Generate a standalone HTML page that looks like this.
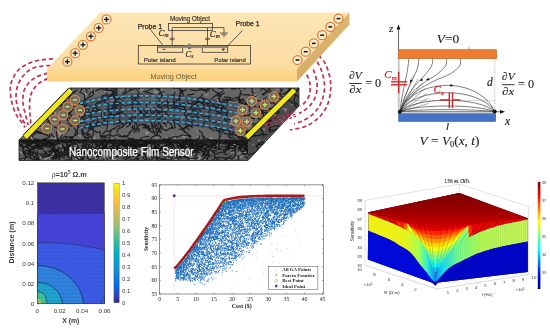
<!DOCTYPE html>
<html><head><meta charset="utf-8"><title>Nanocomposite film sensor</title>
<style>html,body{margin:0;padding:0;background:#fff;}svg{display:block;}</style></head>
<body><svg width="550" height="328" viewBox="0 0 550 328">
<rect width="550" height="328" fill="#fff"/>
<path d="M53.0,58.6 C49.8,59.1 39.2,59.7 33.6,61.5 C28.0,63.3 22.9,66.2 19.4,69.2 C15.9,72.2 13.9,76.4 12.4,79.6 C10.9,82.8 10.4,84.9 10.3,88.6 C10.2,92.2 10.7,97.4 11.6,101.5 C12.5,105.6 14.0,110.0 15.5,113.2 C17.0,116.5 19.1,118.6 20.7,121.0 C22.3,123.4 24.3,126.4 25.0,127.5" fill="none" stroke="#c3304e" stroke-width="1.7" stroke-dasharray="4.2 2.8"/>
<path d="M50.4,65.3 C47.6,65.7 38.1,66.2 33.6,67.9 C29.1,69.6 26.0,72.7 23.3,75.7 C20.6,78.7 18.8,82.3 17.6,86.0 C16.4,89.7 15.9,93.8 16.0,97.7 C16.1,101.6 17.1,105.8 18.1,109.3 C19.1,112.8 20.6,115.5 22.0,118.4 C23.4,121.3 25.8,125.2 26.5,126.5" fill="none" stroke="#c3304e" stroke-width="1.7" stroke-dasharray="4.2 2.8"/>
<path d="M47.8,73.1 C45.9,73.8 39.6,75.1 36.2,77.0 C32.8,78.9 29.4,81.9 27.2,84.7 C25.0,87.5 23.9,90.3 23.3,93.8 C22.7,97.2 22.9,101.7 23.3,105.4 C23.7,109.1 25.1,112.5 25.9,115.8 C26.7,119.1 27.8,123.5 28.2,125.0" fill="none" stroke="#c3304e" stroke-width="1.7" stroke-dasharray="4.2 2.8"/>
<path d="M47.8,78.3 C46.3,79.2 41.4,81.2 38.8,83.4 C36.2,85.6 33.8,88.4 32.3,91.2 C30.8,94.0 30.1,97.1 29.7,100.3 C29.3,103.5 29.6,107.4 29.7,110.6 C29.8,113.8 30.3,117.0 30.5,119.6 C30.7,122.2 30.9,124.9 31.0,126.0" fill="none" stroke="#c3304e" stroke-width="1.7" stroke-dasharray="4.2 2.8"/>
<path d="M318.5,55.2 C319.6,56.5 323.3,60.0 325.0,63.0 C326.7,66.0 327.9,69.8 328.9,73.3 C329.8,76.8 330.5,80.2 330.7,83.7 C330.9,87.2 330.7,90.5 330.2,94.0 C329.7,97.5 328.9,101.2 327.6,104.4 C326.3,107.7 324.6,110.7 322.4,113.5 C320.2,116.3 317.4,119.0 314.6,121.2 C311.8,123.4 308.7,125.1 305.5,126.4 C302.3,127.7 297.8,128.4 295.2,129.0 C292.6,129.6 290.9,129.7 290.0,129.8" fill="none" stroke="#c3304e" stroke-width="1.7" stroke-dasharray="4.2 2.8"/>
<path d="M317.2,61.7 C317.9,63.0 320.0,66.6 321.1,69.4 C322.2,72.2 323.1,75.2 323.7,78.5 C324.3,81.8 324.7,85.5 324.5,88.9 C324.3,92.4 323.5,96.0 322.4,99.2 C321.3,102.4 319.9,105.5 318.0,108.3 C316.1,111.1 313.4,113.9 310.7,116.1 C308.0,118.2 304.5,119.9 301.7,121.2 C298.9,122.5 295.2,123.4 293.9,123.8" fill="none" stroke="#c3304e" stroke-width="1.7" stroke-dasharray="4.2 2.8"/>
<path d="M313.3,69.4 C313.7,70.7 315.2,74.4 315.9,77.2 C316.5,80.0 317.2,83.3 317.2,86.3 C317.2,89.3 316.8,92.5 315.9,95.3 C315.0,98.1 313.7,100.7 312.0,103.1 C310.3,105.5 307.7,107.9 305.5,109.6 C303.3,111.3 300.1,112.8 299.0,113.5" fill="none" stroke="#c3304e" stroke-width="1.7" stroke-dasharray="4.2 2.8"/>
<path d="M306.8,74.6 C307.2,75.7 308.8,78.7 309.4,81.1 C310.0,83.5 310.3,86.3 310.2,88.9 C310.1,91.5 309.7,94.2 308.7,96.6 C307.7,99.0 305.6,101.4 304.2,103.1 C302.8,104.8 301.0,105.9 300.4,106.5" fill="none" stroke="#c3304e" stroke-width="1.7" stroke-dasharray="4.2 2.8"/>
<defs><linearGradient id="gTop" x1="0" y1="0" x2="0" y2="1"><stop offset="0" stop-color="#fde5b3"/><stop offset="1" stop-color="#fcdca2"/></linearGradient><linearGradient id="gFront" x1="0" y1="0" x2="0" y2="1"><stop offset="0" stop-color="#fcd98e"/><stop offset="1" stop-color="#fbd17f"/></linearGradient><linearGradient id="gSide" x1="0" y1="0" x2="1" y2="0"><stop offset="0" stop-color="#d6ad66"/><stop offset="1" stop-color="#dcb570"/></linearGradient></defs>
<polygon points="100,12.5 349.5,12.5 297,69 47,69" fill="url(#gTop)"/>
<polygon points="47,69 297,69 297,81.5 47,81.5" fill="url(#gFront)"/>
<polygon points="297,69 349.5,12.5 349.5,24.5 297,81.5" fill="url(#gSide)"/>
<circle cx="67.4" cy="61.7" r="4.5" fill="#fdeccb" stroke="#d97d38" stroke-width="1.25"/>
<line x1="64.9" y1="61.7" x2="69.9" y2="61.7" stroke="#1a1a1a" stroke-width="1.35"/>
<line x1="67.4" y1="59.2" x2="67.4" y2="64.2" stroke="#1a1a1a" stroke-width="1.35"/>
<circle cx="75.2" cy="53.2" r="4.5" fill="#fdeccb" stroke="#d97d38" stroke-width="1.25"/>
<line x1="72.7" y1="53.2" x2="77.7" y2="53.2" stroke="#1a1a1a" stroke-width="1.35"/>
<line x1="75.2" y1="50.7" x2="75.2" y2="55.7" stroke="#1a1a1a" stroke-width="1.35"/>
<circle cx="83.0" cy="44.8" r="4.5" fill="#fdeccb" stroke="#d97d38" stroke-width="1.25"/>
<line x1="80.5" y1="44.8" x2="85.5" y2="44.8" stroke="#1a1a1a" stroke-width="1.35"/>
<line x1="83.0" y1="42.3" x2="83.0" y2="47.3" stroke="#1a1a1a" stroke-width="1.35"/>
<circle cx="90.9" cy="36.3" r="4.5" fill="#fdeccb" stroke="#d97d38" stroke-width="1.25"/>
<line x1="88.4" y1="36.3" x2="93.4" y2="36.3" stroke="#1a1a1a" stroke-width="1.35"/>
<line x1="90.9" y1="33.8" x2="90.9" y2="38.8" stroke="#1a1a1a" stroke-width="1.35"/>
<circle cx="98.7" cy="27.9" r="4.5" fill="#fdeccb" stroke="#d97d38" stroke-width="1.25"/>
<line x1="96.2" y1="27.9" x2="101.2" y2="27.9" stroke="#1a1a1a" stroke-width="1.35"/>
<line x1="98.7" y1="25.4" x2="98.7" y2="30.4" stroke="#1a1a1a" stroke-width="1.35"/>
<circle cx="106.5" cy="19.4" r="4.5" fill="#fdeccb" stroke="#d97d38" stroke-width="1.25"/>
<line x1="104.0" y1="19.4" x2="109.0" y2="19.4" stroke="#1a1a1a" stroke-width="1.35"/>
<line x1="106.5" y1="16.9" x2="106.5" y2="21.9" stroke="#1a1a1a" stroke-width="1.35"/>
<circle cx="297.5" cy="60.0" r="4.5" fill="#fdeccb" stroke="#d97d38" stroke-width="1.25"/>
<line x1="295.6" y1="60.0" x2="299.4" y2="60.0" stroke="#1a1a1a" stroke-width="1.6"/>
<circle cx="305.7" cy="51.7" r="4.5" fill="#fdeccb" stroke="#d97d38" stroke-width="1.25"/>
<line x1="303.8" y1="51.7" x2="307.6" y2="51.7" stroke="#1a1a1a" stroke-width="1.6"/>
<circle cx="313.9" cy="43.4" r="4.5" fill="#fdeccb" stroke="#d97d38" stroke-width="1.25"/>
<line x1="312.0" y1="43.4" x2="315.8" y2="43.4" stroke="#1a1a1a" stroke-width="1.6"/>
<circle cx="322.1" cy="35.2" r="4.5" fill="#fdeccb" stroke="#d97d38" stroke-width="1.25"/>
<line x1="320.2" y1="35.2" x2="324.0" y2="35.2" stroke="#1a1a1a" stroke-width="1.6"/>
<circle cx="330.3" cy="26.9" r="4.5" fill="#fdeccb" stroke="#d97d38" stroke-width="1.25"/>
<line x1="328.4" y1="26.9" x2="332.2" y2="26.9" stroke="#1a1a1a" stroke-width="1.6"/>
<circle cx="338.5" cy="18.6" r="4.5" fill="#fdeccb" stroke="#d97d38" stroke-width="1.25"/>
<line x1="336.6" y1="18.6" x2="340.4" y2="18.6" stroke="#1a1a1a" stroke-width="1.6"/>
<g fill="none" stroke="#3c3a36" stroke-width="0.8">
<rect x="168.5" y="23.4" width="44" height="7"/>
<polyline points="172.2,45.5 172.2,27.6 224,27.6 224,33"/>
<line x1="207.5" y1="27.6" x2="207.5" y2="45.5"/>
<path d="M220,33 L228,33 M221.5,34.6 L226.5,34.6 M223,36.2 L225,36.2"/>
<rect x="138.3" y="45.5" width="112.2" height="18.5"/>
<rect x="157.5" y="45.5" width="25.2" height="6.8"/>
<rect x="202.2" y="45.5" width="25.5" height="6.8"/>
<line x1="150" y1="29" x2="163.5" y2="46"/>
<line x1="242.5" y1="30.5" x2="225" y2="48.5"/>
</g>
<path d="M162.3,49.4 h3.2 M221.6,49.4 h3.2 M223.2,47.8 v3.2" stroke="#2d2b28" stroke-width="0.8"/>
<rect x="158" y="45.9" width="69" height="2.2" fill="#8f8b80"/>
<line x1="169.79999999999998" y1="38.2" x2="174.6" y2="38.2" stroke="#3c3a36" stroke-width="0.7"/>
<line x1="169.79999999999998" y1="39.6" x2="174.6" y2="39.6" stroke="#3c3a36" stroke-width="0.7"/>
<line x1="205.1" y1="38.2" x2="209.9" y2="38.2" stroke="#3c3a36" stroke-width="0.7"/>
<line x1="205.1" y1="39.6" x2="209.9" y2="39.6" stroke="#3c3a36" stroke-width="0.7"/>
<rect x="188.3" y="44" width="2.4" height="5" fill="#8f8b80" stroke="#555" stroke-width="0.4"/>
<g font-family="'Liberation Sans', Arial, sans-serif" fill="#2d2b28">
<text x="170" y="21" font-size="6.4" stroke="#2d2b28" stroke-width="0.15" textLength="40" lengthAdjust="spacingAndGlyphs">Moving Object</text>
<text x="137.7" y="28.5" font-size="7.2" stroke="#2d2b28" stroke-width="0.25" textLength="24.5" lengthAdjust="spacingAndGlyphs">Probe 1</text>
<text x="235.6" y="26.3" font-size="7.2" stroke="#2d2b28" stroke-width="0.25" textLength="24" lengthAdjust="spacingAndGlyphs">Probe 1</text>
<text x="143.7" y="62.4" font-size="6" stroke="#2d2b28" stroke-width="0.15" textLength="32" lengthAdjust="spacingAndGlyphs">Polar island</text>
<text x="214.3" y="62.4" font-size="6" stroke="#2d2b28" stroke-width="0.15" textLength="31.5" lengthAdjust="spacingAndGlyphs">Polar island</text>
</g>
<g font-family="'Liberation Serif', 'Times New Roman', serif" font-style="italic" fill="#2d2b28">
<text x="158.6" y="36" font-size="8.8" stroke="#2d2b28" stroke-width="0.2">C<tspan font-size="5.6" dy="1.2">m</tspan></text>
<text x="209.8" y="36.8" font-size="8.8" stroke="#2d2b28" stroke-width="0.2">C<tspan font-size="5.6" dy="1.2">m</tspan></text>
<text x="185.6" y="57" font-size="8.4" stroke="#2d2b28" stroke-width="0.2">C<tspan font-size="5.4" dy="1.2">s</tspan></text>
</g>
<text x="150.4" y="78.7" font-family="'Liberation Sans', Arial, sans-serif" font-size="8" fill="#6b5a3c" textLength="46.3" lengthAdjust="spacingAndGlyphs">Moving Object</text>
<defs><filter id="fBlur" x="-5%" y="-5%" width="110%" height="110%"><feGaussianBlur stdDeviation="0.45"/></filter></defs>
<defs><clipPath id="cTop"><polygon points="69,88 299,88 247.5,140 19,140"/></clipPath><clipPath id="cFront"><polygon points="19,140 248,140 248,160.5 19,160.5"/></clipPath><clipPath id="cSide"><polygon points="248,140 299,88 299,106 248,160.5"/></clipPath></defs>
<polygon points="69,88 299,88 247.5,140 19,140" fill="#676767"/>
<polygon points="19,140 248,140 248,160.5 19,160.5" fill="#575757"/>
<rect x="19" y="140" width="229" height="3.5" fill="#262626"/>
<polygon points="248,140 299,88 299,106 248,160.5" fill="#4a4a4a"/>
<g clip-path="url(#cTop)"><path d="M107.3,95.8 l4.0,-3.4 l-2.1,3.2z M119.2,91.0 l3.5,-3.3 l-1.5,2.8z M34.9,92.7 l3.3,2.1 l-0.4,2.6z M78.6,120.6 l4.8,0.7 l-1.9,3.9z M293.2,90.4 l4.6,-1.9 l-0.7,3.7z M48.6,104.0 l4.4,-2.8 l-2.6,3.6z M197.1,107.4 l3.6,-3.2 l-0.2,2.9z M73.7,123.4 l3.3,-1.2 l-1.9,2.6z M144.2,103.6 l4.4,1.7 l-1.1,3.5z M178.7,115.3 l4.6,2.1 l-1.3,3.7z M294.3,94.1 l3.3,1.7 l-0.5,2.6z M154.4,90.0 l4.0,2.1 l-2.3,3.2z M264.5,104.3 l4.1,0.8 l-2.4,3.3z M145.0,131.7 l4.8,-0.3 l-3.2,3.9z M32.3,124.5 l3.9,3.9 l-3.2,3.2z M96.1,108.1 l4.0,-3.8 l-1.8,3.2z M62.9,94.1 l2.2,1.2 l-0.3,1.7z M85.6,108.3 l4.6,-3.9 l-2.1,3.7z M171.6,133.9 l4.5,3.2 l-1.2,3.6z M133.4,106.7 l4.7,4.3 l-0.7,3.7z M65.2,100.1 l2.7,-0.1 l-1.6,2.2z M89.9,88.2 l3.3,-0.9 l-1.8,2.6z M286.6,123.9 l3.5,0.8 l-2.4,2.8z M30.4,134.8 l4.3,3.3 l-3.5,3.5z M126.8,108.7 l2.3,0.6 l-0.1,1.8z M34.2,98.9 l2.5,-0.8 l-0.1,2.0z M15.1,95.9 l2.3,-0.6 l-0.1,1.8z M264.2,119.9 l2.4,-1.2 l-0.8,2.0z M118.8,94.4 l4.5,4.5 l-2.1,3.6z M152.9,92.5 l2.3,-0.7 l-0.6,1.8z M251.2,96.4 l2.1,1.9 l-1.1,1.7z M56.8,116.2 l2.1,0.1 l-2.0,1.7z M261.0,124.2 l2.8,-0.7 l-0.5,2.2z M235.0,115.7 l4.3,-1.5 l-1.0,3.5z M246.3,139.2 l4.6,2.8 l-3.7,3.6z M225.9,99.8 l3.6,-1.0 l-0.1,2.8z M23.0,102.5 l2.8,1.1 l-2.7,2.2z M142.5,136.7 l5.0,4.5 l-1.8,4.0z M77.8,99.8 l2.6,-1.5 l-1.6,2.1z M271.6,131.7 l3.4,1.1 l-2.7,2.8z M39.2,122.4 l4.7,2.7 l-3.5,3.8z M151.2,97.3 l4.4,-1.5 l-3.5,3.5z M291.9,108.6 l3.2,2.9 l-2.3,2.6z M63.5,94.6 l2.5,2.0 l-2.0,2.0z M56.7,131.0 l4.9,1.6 l-1.7,4.0z M171.4,94.8 l2.0,1.9 l-1.3,1.6z M165.1,136.5 l3.3,2.5 l-2.7,2.6z M75.1,101.1 l2.9,-1.5 l-1.7,2.3z M88.9,109.8 l2.4,2.0 l-0.8,1.9z M145.6,118.3 l4.7,-0.7 l-4.3,3.8z M158.0,115.7 l3.6,-3.4 l-1.6,2.9z M67.2,88.2 l4.4,-2.9 l-2.1,3.5z M221.7,116.9 l3.0,0.1 l-1.7,2.4z M238.5,93.5 l3.7,-1.9 l-1.0,2.9z M235.1,114.4 l3.7,1.9 l-3.4,2.9z M141.3,119.9 l3.5,0.1 l-2.4,2.8z M143.9,115.7 l3.4,3.0 l-2.4,2.7z M264.8,137.0 l2.8,0.3 l-2.6,2.2z M254.4,95.1 l2.4,-0.3 l-0.2,1.9z M83.6,91.8 l4.0,2.3 l-3.6,3.2z M59.0,125.2 l4.0,-2.8 l-3.5,3.2z M290.8,99.4 l4.9,-1.0 l-2.4,3.9z M297.1,131.3 l2.5,-0.3 l-1.3,2.0z M111.6,98.2 l3.0,1.3 l-0.1,2.4z M172.9,110.9 l2.1,-0.7 l-1.3,1.6z M161.0,91.3 l5.0,2.9 l-4.8,4.0z M44.9,101.8 l2.1,1.2 l-0.6,1.7z M51.9,110.0 l4.7,3.0 l-1.2,3.8z M57.6,135.8 l3.7,1.5 l-0.3,3.0z M31.4,123.8 l3.3,-2.8 l-3.1,2.6z M195.8,129.7 l2.3,1.6 l-0.1,1.8z M260.9,111.6 l3.0,0.3 l-2.8,2.4z M91.3,94.7 l3.6,-1.9 l-0.4,2.9z M61.0,90.6 l2.6,-1.0 l-0.8,2.1z M231.5,103.1 l3.5,-2.3 l-1.2,2.8z M20.2,101.0 l2.0,1.0 l-1.1,1.6z M69.0,112.7 l4.8,-3.8 l-3.9,3.8z M138.2,113.7 l4.5,-1.0 l-2.3,3.6z M211.0,139.1 l3.0,2.0 l-2.1,2.4z M196.3,109.0 l3.0,-2.7 l-0.4,2.4z M35.2,126.5 l2.8,-1.9 l-0.2,2.2z M254.8,133.3 l4.0,-1.7 l-1.0,3.2z M98.5,111.9 l2.5,-0.3 l-0.7,2.0z M289.1,138.6 l3.6,-1.9 l-3.5,2.9z M103.2,106.5 l2.0,-0.5 l-1.0,1.6z M158.3,98.5 l3.5,-3.5 l-0.9,2.8z M40.6,108.8 l2.1,-2.0 l-0.6,1.7z M81.4,118.5 l3.6,1.8 l-2.4,2.9z M219.1,133.7 l3.2,-1.1 l-3.1,2.5z M57.6,125.7 l3.9,-3.6 l-3.3,3.1z M269.2,120.6 l4.2,2.6 l-0.6,3.4z M164.3,114.2 l4.5,2.7 l-3.7,3.6z M181.5,134.4 l4.0,1.6 l-0.9,3.2z M23.9,94.9 l3.1,-2.4 l-2.6,2.5z M174.2,120.6 l3.9,1.4 l-1.9,3.1z M15.9,129.5 l4.2,0.0 l-2.3,3.4z M202.9,91.4 l4.2,-2.1 l-0.3,3.4z M90.7,125.9 l2.6,1.3 l-2.6,2.1z M155.8,107.9 l3.4,1.3 l-2.6,2.7z M190.8,121.4 l2.2,-1.6 l-0.6,1.8z M226.8,103.8 l3.7,-3.6 l-0.2,3.0z M91.6,122.9 l4.1,1.4 l-1.2,3.3z M162.2,112.2 l3.4,-2.6 l-3.0,2.7z M71.8,138.9 l4.8,-4.6 l-2.2,3.8z M248.7,138.3 l3.3,-1.5 l-0.7,2.7z M284.5,99.0 l3.7,-2.7 l-2.0,3.0z M286.5,94.9 l4.5,0.1 l-4.0,3.6z M215.5,100.0 l4.7,-0.1 l-0.1,3.8z M16.0,113.6 l3.4,-1.3 l-0.5,2.7z M113.0,104.4 l4.5,-4.5 l-3.4,3.6z M254.1,94.2 l4.8,2.0 l-4.3,3.8z M97.6,107.4 l3.2,3.2 l-1.9,2.5z M117.8,110.3 l2.8,-2.6 l-0.3,2.3z M252.9,102.9 l4.8,-2.4 l-1.3,3.8z M160.6,97.9 l3.1,2.8 l-2.8,2.5z M246.4,120.8 l4.7,4.2 l-2.6,3.8z M220.1,90.6 l4.2,-0.4 l-3.2,3.4z M198.7,102.9 l2.1,1.8 l-0.3,1.7z M149.6,105.9 l2.9,1.4 l-2.8,2.3z M89.1,122.1 l2.9,0.3 l-1.1,2.3z M62.7,96.4 l2.6,2.1 l-1.3,2.1z M77.7,135.1 l5.0,-0.5 l-0.7,4.0z M69.8,92.7 l3.0,-2.5 l-0.7,2.4z M88.6,117.6 l4.7,2.3 l-1.9,3.7z M133.0,115.3 l3.1,-1.0 l-0.2,2.5z M94.1,138.3 l2.4,0.0 l-1.5,1.9z M260.9,99.2 l2.8,-1.4 l-1.1,2.3z M142.1,137.6 l4.5,3.4 l-0.1,3.6z M24.2,124.9 l4.7,-0.3 l-2.8,3.7z M15.1,108.4 l4.8,3.1 l-4.1,3.8z M292.1,100.9 l2.3,-1.6 l-1.2,1.9z M209.4,137.0 l4.2,1.2 l-3.2,3.3z M145.3,116.7 l2.1,1.2 l-0.5,1.7z M277.2,121.6 l2.9,-2.2 l-0.7,2.3z M196.3,124.3 l2.3,-2.0 l-1.2,1.9z M181.1,108.2 l2.7,0.5 l-0.0,2.1z M100.9,112.0 l4.9,1.4 l-4.3,3.9z M150.5,100.2 l2.7,2.5 l-1.9,2.2z M102.6,89.1 l3.5,1.2 l-1.5,2.8z M88.3,122.7 l4.8,-2.6 l-0.2,3.8z M111.3,109.9 l4.0,-2.4 l-3.2,3.2z M225.7,114.3 l2.6,2.5 l-0.8,2.1z M248.7,100.0 l2.7,1.4 l-0.8,2.1z M286.3,113.8 l2.6,-1.4 l-1.1,2.0z M204.6,137.3 l2.4,-0.5 l-0.5,2.0z M292.6,95.4 l2.2,-1.9 l-0.8,1.7z M271.0,133.9 l4.2,4.2 l-3.9,3.4z M108.8,97.6 l4.8,2.4 l-0.2,3.8z M204.4,107.7 l3.1,-1.1 l-0.5,2.5z M15.8,102.5 l3.1,2.8 l-0.4,2.4z M289.8,98.8 l3.1,2.0 l-2.5,2.5z M138.2,90.6 l3.4,-0.9 l-3.1,2.7z M70.0,106.9 l4.7,-4.4 l-1.9,3.8z M246.4,127.9 l2.1,-2.0 l-0.1,1.7z M277.2,101.4 l4.2,3.4 l-1.4,3.4z M92.6,137.8 l3.9,-1.8 l-2.8,3.1z M105.2,102.3 l2.0,1.0 l-1.8,1.6z M195.7,137.0 l2.1,-1.1 l-1.0,1.7z M287.7,137.6 l3.2,-1.6 l-1.4,2.5z M155.6,136.3 l2.5,1.5 l-1.9,2.0z M249.5,128.2 l3.8,-1.3 l-1.2,3.1z M118.1,128.7 l2.2,-1.4 l-1.7,1.8z M85.5,91.4 l2.1,0.2 l-0.7,1.7z M294.4,133.9 l5.0,-2.3 l-0.4,4.0z M42.5,113.9 l4.1,-0.4 l-1.0,3.3z M133.8,120.3 l4.0,2.0 l-3.4,3.2z M204.4,94.3 l4.5,-1.9 l-2.6,3.6z M121.3,126.4 l2.6,-1.3 l-0.6,2.1z M58.7,134.0 l3.7,-1.3 l-1.5,3.0z M297.8,114.4 l2.7,1.7 l-1.8,2.2z M297.4,93.3 l3.4,2.2 l-2.9,2.7z M275.6,90.1 l2.9,-2.2 l-0.5,2.3z M292.3,118.3 l4.8,-1.2 l-4.1,3.8z M143.0,101.5 l4.3,3.9 l-0.5,3.5z M184.9,120.2 l2.7,-0.7 l-0.4,2.1z M73.1,101.3 l3.8,1.2 l-0.8,3.0z M18.2,105.0 l4.0,-2.5 l-1.3,3.2z M73.0,129.4 l3.6,-3.2 l-0.4,2.9z M127.7,116.6 l3.9,-3.2 l-0.6,3.1z M213.2,109.3 l2.8,-1.1 l-2.7,2.3z M104.0,117.5 l3.1,-0.5 l-2.7,2.5z M299.0,106.9 l2.6,1.2 l-0.5,2.1z M16.7,134.9 l3.3,2.1 l-1.3,2.6z M266.6,112.0 l2.5,-2.4 l-1.4,2.0z M197.6,135.3 l2.3,0.6 l-0.8,1.8z M158.8,95.6 l2.8,0.1 l-2.6,2.3z M46.0,113.5 l4.4,4.1 l-0.9,3.5z M51.1,137.0 l4.9,-0.2 l-0.3,3.9z M279.0,108.2 l4.7,1.1 l-3.9,3.8z M60.7,128.9 l2.7,-0.5 l-2.3,2.1z M251.3,97.5 l2.7,-0.5 l-1.4,2.1z M124.3,94.4 l2.7,1.2 l-2.5,2.2z M26.7,117.2 l4.3,-3.9 l-3.6,3.4z M48.6,119.2 l3.7,0.9 l-1.1,2.9z M134.7,118.3 l3.3,1.0 l-1.5,2.6z M139.9,89.2 l3.9,-0.1 l-0.9,3.1z M232.6,128.6 l3.4,-2.2 l-1.6,2.7z M45.5,94.7 l3.3,-2.7 l-1.5,2.6z M160.4,90.1 l3.9,-3.3 l-2.9,3.1z M236.6,114.6 l2.2,0.0 l-0.8,1.7z" fill="#909090" filter="url(#fBlur)"/></g>
<g clip-path="url(#cTop)"><path d="M286.0,93.6 L291.4,92.1 L294.5,87.6 L297.4,83.1 L300.5,82.8 M239.7,138.1 L242.4,139.9 L247.2,140.9 L248.7,144.1 M87.4,140.0 L84.0,142.3 L82.8,144.2 L83.8,146.6 L80.3,149.7 M270.2,95.4 L272.2,94.0 L278.5,94.8 M144.1,115.2 L140.3,113.1 L139.6,108.8 M120.9,107.0 L118.6,111.1 L117.8,113.6 M226.9,88.7 L226.8,83.6 L231.6,80.4 L236.8,81.5 M227.9,98.4 L227.5,102.0 L224.9,103.3 L222.9,107.0 L224.7,108.5 M116.2,92.0 L114.5,94.6 L116.1,97.5 M251.1,94.9 L254.7,96.8 L257.5,95.7 M204.7,101.1 L201.0,97.5 L202.3,93.7 M179.9,119.7 L174.5,122.0 L174.6,125.7 L175.4,128.4 M31.6,129.6 L34.6,130.8 L39.0,131.7 L43.3,133.9 L47.9,135.4 M159.9,89.6 L159.4,85.3 L153.8,84.0 L151.0,81.3 L150.5,77.9 M79.4,91.9 L84.5,94.5 L84.5,99.5 M90.0,88.9 L85.7,86.0 L83.1,84.1 L80.2,79.5 L74.7,77.6 M19.3,100.6 L21.6,102.3 L21.0,104.9 L21.3,108.8 L23.4,113.2 M277.7,141.0 L280.5,136.9 L285.4,134.2 L289.4,131.3 L292.5,129.6 M75.4,120.9 L77.8,120.1 L79.5,115.3 M113.3,93.9 L117.2,91.4 L116.6,89.2 M28.3,134.0 L32.6,130.9 L35.3,131.3 M262.3,137.2 L264.2,135.0 L261.2,130.6 M274.7,128.2 L277.5,130.9 L283.2,130.8 L286.7,131.8 L290.2,131.6 M115.0,138.1 L116.6,142.4 L116.7,145.9 L119.6,149.6 M239.9,87.7 L234.7,88.8 L231.4,89.2 M260.7,91.1 L262.0,87.6 L260.8,83.3 M30.4,105.5 L31.2,108.0 L32.2,111.0 L30.5,113.4 L26.8,113.4 M76.2,125.2 L73.4,121.3 L70.0,116.9 M175.0,91.9 L174.0,95.0 L171.3,95.9 M268.2,87.4 L270.2,90.8 L276.3,92.5 L281.3,95.5 M51.2,119.3 L51.0,116.2 L49.7,113.9 L51.6,110.1 L54.2,108.6 M140.1,129.3 L135.0,128.9 L131.2,127.0 M91.2,128.3 L90.2,125.9 L87.1,124.2 L84.6,122.6 L81.4,121.9 M292.9,126.8 L296.8,125.8 L300.5,129.2 L301.2,132.5 L305.2,135.1 M45.5,97.6 L47.2,102.1 L48.7,104.5 M294.6,102.6 L298.4,103.8 L301.8,107.9 L305.2,110.6 M228.5,109.6 L227.1,114.3 L224.5,117.5 L224.8,120.1 L228.3,122.0 M89.0,125.2 L94.4,125.3 L97.7,126.2 M135.7,111.5 L132.2,108.5 L133.0,103.7 L132.3,101.7 M252.1,136.9 L254.3,138.6 L255.1,143.6 L255.3,145.9 M178.7,116.3 L173.2,115.4 L169.3,115.7 L165.5,114.1 L165.7,111.6 M161.4,138.2 L160.2,136.3 L156.7,134.6 L153.3,136.5 L149.6,139.6 M115.4,100.8 L117.8,105.5 L113.5,109.4 L109.3,108.4 L103.9,111.0 M34.6,130.7 L35.3,133.4 L32.3,135.3 L26.8,136.8 L22.8,135.4 M98.9,116.7 L104.2,118.7 L108.2,118.3 L111.4,116.1 M68.0,86.2 L65.4,82.6 L61.8,80.5 L60.1,78.7 M270.6,94.6 L274.5,98.0 L273.2,102.4 L276.5,106.2 M195.5,86.8 L198.6,88.0 L201.3,86.8 M81.6,129.5 L82.0,132.7 L82.0,136.7 M211.1,140.7 L212.9,145.2 L217.4,147.3 L221.9,149.8 L227.3,152.0 M173.2,100.8 L174.0,104.5 L175.2,109.3 M214.6,99.8 L213.8,101.7 L209.8,103.1 L204.8,104.2 L201.4,102.6 M134.4,139.8 L139.4,140.4 L140.8,138.5 L146.7,136.3 L149.4,137.0 M153.0,128.4 L153.7,132.4 L156.7,136.5 M119.4,112.6 L115.7,113.7 L114.2,115.4 M97.4,105.9 L93.8,106.0 L87.4,106.1 L82.1,104.5 M109.3,103.8 L106.5,104.0 L104.5,101.2 L103.0,98.1 L102.2,94.9 M45.9,88.6 L49.3,85.5 L55.3,84.7 L60.3,85.1 M193.6,125.0 L191.2,125.8 L186.2,126.1 L182.8,129.2 L178.6,129.1 M43.7,138.1 L47.1,140.8 L50.7,141.3 M135.2,103.8 L129.2,105.0 L124.8,106.0 L120.0,103.7 L115.0,102.3 M130.3,89.8 L129.0,84.9 L132.5,82.8 L134.4,81.0 L137.4,79.8 M58.3,86.9 L64.1,89.1 L65.0,91.6 L69.1,93.0 L73.8,92.4 M143.5,127.7 L148.7,128.4 L151.6,132.1 L156.6,132.2 M217.1,111.8 L219.4,113.0 L221.7,111.8 L226.6,113.3 M191.2,107.8 L193.6,112.1 L194.7,114.1 L198.0,116.9 L202.1,119.5 M56.3,130.7 L56.8,135.2 L57.7,139.6 L58.6,142.4 L57.3,145.3 M94.8,120.8 L90.6,118.8 L91.3,114.2 L92.6,111.4 L93.7,106.6 M122.4,124.4 L121.7,121.5 L118.2,121.0 M135.4,118.9 L135.1,116.4 L140.0,113.0 M56.9,140.6 L61.0,137.0 L62.1,134.9 L64.8,130.9 L63.6,126.6 M280.5,99.1 L275.7,97.4 L275.1,93.5 L271.2,92.7 L266.8,91.3 M116.2,89.5 L110.5,88.0 L106.3,86.8 L103.6,85.3 L100.4,85.7 M214.8,106.3 L212.0,102.1 L206.5,99.9 L201.1,97.8 M120.9,112.0 L123.8,114.1 L125.6,115.5 L131.7,113.9 M261.8,113.2 L261.4,110.4 L257.6,108.8 L253.8,106.2 M52.3,133.2 L51.6,135.3 L54.6,137.4 M216.1,113.3 L221.1,112.9 L224.4,116.2 M40.6,103.8 L36.3,106.1 L33.4,108.7 M60.5,140.1 L64.7,136.4 L67.4,136.8 M172.6,87.6 L177.8,88.3 L183.4,90.9 L186.0,89.7 M230.2,138.6 L229.1,135.3 L229.7,131.8 L228.9,128.6 M121.9,107.3 L117.0,104.4 L111.7,101.8 M242.7,94.8 L248.6,94.7 L250.5,96.7 M142.5,91.4 L146.7,91.0 L151.7,88.6 M151.1,121.2 L151.4,123.7 L152.8,128.5 M140.1,94.4 L139.3,97.2 L136.0,98.7 M62.8,113.5 L65.9,118.0 L72.0,118.0 L75.0,119.1 M151.1,102.0 L147.2,103.3 L145.2,105.6 M82.9,107.8 L83.0,112.2 L86.2,116.6 M19.6,131.2 L17.2,135.3 L13.6,135.5 M117.6,88.3 L114.8,89.2 L112.6,93.3 L110.0,94.9 M37.6,90.9 L36.8,88.4 L32.1,86.7 L29.7,84.9 M102.8,86.6 L99.8,83.0 L94.1,83.3 L88.9,85.5 L84.8,84.1 M19.4,137.0 L16.9,138.7 L13.0,138.4 L10.0,140.5 L7.8,141.4 M163.1,111.0 L159.8,111.6 L154.5,109.1 M237.1,134.6 L234.1,134.7 L230.4,132.9 M22.3,131.1 L21.0,133.6 L22.0,135.7 M86.4,131.8 L88.3,135.8 L93.0,138.6 M196.5,112.0 L201.6,114.5 L202.9,116.3 L207.3,116.9 M157.7,101.7 L157.2,105.4 L158.9,107.7 L159.5,111.2 M128.0,139.1 L132.2,138.6 L135.8,140.9 L141.5,142.9 L143.3,145.6 M83.5,104.8 L77.7,103.2 L74.9,99.0 L70.3,99.0 L67.6,94.5 M86.0,109.6 L82.8,109.9 L80.0,111.2 L76.6,111.6 M134.9,108.2 L140.4,109.6 L142.4,114.2 L147.5,114.6 M90.7,124.0 L88.7,125.3 L88.9,127.7 L92.2,128.6 L94.3,126.9 M114.1,95.4 L114.7,97.6 L114.8,102.5 L115.5,106.1 L111.2,109.7 M179.5,101.4 L179.7,96.7 L181.0,93.0 L183.0,90.9 L187.0,89.5 M171.2,120.3 L170.2,123.3 L172.5,126.6 L170.1,129.2 M278.4,95.1 L282.8,94.5 L287.8,91.3 L290.0,87.1 M60.2,89.7 L64.3,88.2 L68.0,89.4 L70.5,92.4 M297.0,123.9 L299.7,121.7 L304.3,120.2 L309.5,122.2 M162.6,127.4 L159.7,124.0 L158.3,120.0 L156.9,117.9 M132.0,116.8 L130.7,120.5 L130.2,125.0 L126.1,127.2 M123.2,111.3 L120.0,113.1 L115.8,115.2 L113.4,115.6 L107.4,113.6 M123.5,102.8 L119.5,102.6 L114.6,105.0 M109.1,140.3 L109.8,137.7 L110.0,132.8 M18.0,88.7 L13.4,88.9 L9.1,90.9 L4.6,93.8 M222.2,110.1 L218.3,110.1 L215.9,106.4 M164.7,91.5 L159.1,93.6 L158.1,96.1 L157.6,99.4 M233.7,136.4 L229.0,133.7 L225.3,134.2 L222.0,130.3 L220.5,128.3 M269.9,124.6 L274.0,124.0 L276.0,121.5 L278.4,118.5 L277.9,115.9 M194.6,119.8 L192.4,121.0 L188.5,124.2 L186.9,128.3 L189.8,130.1 M255.0,118.8 L249.7,117.6 L244.2,115.6 M270.2,114.8 L272.5,116.3 L278.0,115.7 M45.4,91.6 L47.6,94.6 L51.2,98.2 L52.9,102.1 L53.3,104.6 M82.9,101.4 L87.4,98.1 L90.7,96.4 L93.8,94.4 L92.8,89.6 M181.1,139.7 L179.2,142.0 L180.5,145.8 L182.6,146.8 L183.3,150.2 M134.2,100.1 L135.2,97.0 L137.6,95.0 M103.1,135.0 L101.6,137.3 L101.2,139.3 M266.5,108.2 L263.6,110.5 L262.1,112.3 L264.1,116.7 M115.1,99.7 L118.0,102.2 L120.5,102.8 L122.2,105.2 M52.0,97.0 L48.0,95.6 L46.5,93.1 M119.9,98.1 L116.9,96.8 L117.0,93.2 L114.4,90.5 L109.1,90.3 M89.3,136.4 L86.0,134.4 L83.6,133.0 L82.0,129.0 M41.1,133.7 L36.0,132.2 L33.8,133.2 L28.5,133.2 M236.2,99.0 L242.3,99.7 L245.8,103.1 M70.0,126.2 L75.0,124.8 L77.7,122.3 L83.2,122.8 M266.6,134.2 L270.5,134.4 L274.3,137.3 L273.9,139.4 M215.6,111.9 L220.3,110.5 L221.6,108.4 L227.0,107.8 M218.1,88.3 L223.6,88.6 L227.6,85.7 M172.4,121.2 L176.7,122.9 L178.7,125.2 L182.3,128.3 L184.6,129.1 M252.8,129.5 L248.4,131.1 L242.0,131.0 M209.1,88.1 L206.7,89.3 L202.6,89.5 L197.6,87.2 M95.1,91.0 L98.6,89.6 L103.3,87.7 L108.0,89.1 M160.0,123.9 L161.5,128.7 L166.5,130.6 L170.7,127.9 L174.3,128.1 M170.7,140.3 L164.6,138.8 L161.2,140.4 L160.8,144.4 L164.5,147.3 M153.6,113.0 L152.6,109.7 L155.4,107.5 M100.3,135.5 L105.2,136.6 L108.5,134.6 L113.3,136.3 L119.1,134.2 M254.3,108.7 L257.0,111.0 L259.8,111.2 L262.7,110.1 L267.0,110.2 M47.2,104.2 L43.6,106.6 L44.6,110.0 L41.0,112.2 M228.0,104.6 L224.2,102.7 L221.2,101.6 L219.0,100.7 M277.1,122.1 L275.7,119.5 L273.1,118.2 L268.4,120.6 L264.8,119.9 M67.9,121.7 L66.8,117.3 L69.9,113.7 L70.5,111.1 L73.6,109.4 M120.0,116.9 L119.7,119.0 L118.3,122.8 L113.7,124.9 M273.0,138.9 L267.4,136.3 L263.7,133.6 L260.3,133.8 M54.4,121.7 L50.1,120.9 L46.5,122.3 M24.1,120.2 L25.4,117.5 L28.4,114.8 L30.4,112.1 L32.4,108.3 M250.4,136.6 L256.1,135.9 L260.7,136.9 L265.3,137.6 M162.3,110.0 L159.4,105.4 L162.3,102.2 L165.0,101.8 L169.8,102.7 M99.7,118.0 L102.7,118.2 L105.4,121.2 L107.1,125.7 M78.4,127.4 L78.5,124.2 L79.3,121.0 M166.0,117.6 L164.4,122.6 L166.8,126.5 M78.1,132.9 L76.2,130.5 L73.6,127.4 M79.6,118.1 L79.0,121.9 L74.7,124.2 L71.7,124.0 L67.2,123.5 M254.0,139.1 L251.1,136.5 L249.7,132.9 L252.1,131.2 L254.1,129.5 M121.4,120.7 L119.8,122.3 L117.2,124.0 M100.5,125.6 L94.6,126.4 L88.4,126.6 M263.2,95.4 L266.7,92.1 L265.1,89.6 L261.0,87.9 M164.5,106.0 L161.0,107.3 L157.7,110.2 L160.0,114.7 L163.3,116.4 M212.8,87.2 L214.2,85.5 L212.1,81.2 L207.9,79.5 M97.7,124.5 L94.7,125.9 L90.3,123.2 M91.6,110.9 L96.0,111.3 L99.1,107.4 M36.3,120.7 L32.8,118.6 L27.0,119.4 L21.5,121.4 L18.7,121.7 M108.8,98.1 L112.0,97.2 L116.9,98.8 L121.3,98.8 L123.2,101.4 M110.6,113.1 L112.2,118.1 L115.2,118.7 M206.2,101.3 L202.4,102.0 L197.6,102.3 L194.4,105.7 L188.3,105.4 M42.1,97.2 L38.2,97.6 L33.8,100.4 L27.7,99.3 L24.7,97.4 M232.5,127.4 L227.5,129.9 L223.6,130.1 L219.0,128.2 L217.9,123.8 M158.6,136.1 L157.1,133.7 L159.4,130.0 L160.4,126.8 M235.1,138.1 L231.4,137.8 L227.5,135.7 M282.2,105.1 L286.4,107.0 L290.3,107.2 L296.6,107.1 L301.5,108.9 M277.8,133.0 L278.1,135.8 L281.1,136.6 M91.4,125.4 L93.3,130.1 L96.7,132.4 L100.1,131.8 M31.2,93.2 L34.2,97.4 L36.6,98.9 M68.6,116.1 L69.6,114.1 L69.2,109.3 L65.0,108.1 L60.4,105.4 M64.7,134.3 L66.9,131.8 L69.6,128.5 M88.2,111.9 L94.5,113.2 L97.9,110.3 L101.5,109.4 M41.6,94.7 L45.0,96.4 L50.1,97.2 M261.8,94.6 L266.5,92.4 L268.9,88.6 L273.9,86.5 L277.3,83.0 M293.6,111.4 L292.7,114.2 L294.3,117.7 L299.8,118.9 L300.3,121.4 M194.2,108.4 L197.2,108.8 L200.4,109.6 M236.6,100.5 L233.4,101.0 L227.7,99.1 L225.3,99.9 L221.9,99.2 M295.0,113.9 L296.0,110.8 L293.5,106.7 L288.4,106.7 M19.4,131.2 L22.0,131.9 L25.7,133.4 L26.2,138.4 L25.4,141.1 M86.8,100.7 L84.1,102.8 L81.9,105.1 M265.6,113.9 L271.8,113.1 L277.4,115.4 M53.9,102.8 L59.2,105.2 L64.2,104.0 M185.3,111.4 L184.1,107.1 L178.7,106.0 M140.1,110.3 L141.5,114.8 L147.0,117.1 L150.4,116.0 M158.2,105.7 L159.5,103.6 L159.9,98.7 L163.2,94.7 M294.2,87.8 L293.3,89.8 L292.0,92.4 L291.4,94.7 L296.7,97.7 M105.2,135.2 L103.8,138.7 L106.4,140.4 L109.9,143.3 M170.5,141.6 L169.7,139.5 L174.1,136.3 L177.2,137.4 M35.6,125.4 L37.2,123.7 L39.7,121.0 L42.5,118.8 M18.0,124.5 L14.6,123.2 L8.2,122.1 L5.8,120.0 L2.0,117.8 M124.1,94.5 L128.5,91.1 L131.6,89.9 L137.4,87.6 M212.7,126.9 L215.4,127.6 L217.5,128.9 M219.2,108.7 L215.6,106.3 L209.5,104.9 L206.2,108.4 L201.7,108.6 M183.8,141.7 L180.4,145.6 L179.7,147.8 L176.2,148.3 L170.5,147.3 M35.5,130.6 L35.9,127.8 L40.6,124.9 L43.1,121.6 L47.4,117.7 M33.8,128.4 L29.7,131.7 L29.2,134.2 M249.2,111.8 L249.8,109.7 L249.2,105.0 L251.1,103.2 L250.5,100.4 M44.3,106.0 L43.6,101.9 L41.3,99.6 L39.1,98.0 L36.6,94.2 M64.7,115.0 L69.1,114.0 L71.6,111.4 M111.9,107.3 L113.6,104.8 L116.0,102.6 M170.2,137.3 L168.1,138.9 L162.6,140.8 L160.8,143.8 M240.8,120.6 L237.0,121.5 L235.9,125.8 M291.4,110.1 L287.6,109.1 L282.1,106.7 L275.9,107.9 M217.9,106.9 L218.8,104.7 L219.6,101.5 L219.6,96.5 M198.3,130.3 L201.9,132.3 L202.6,135.5 L204.0,140.3 L205.6,143.6 M160.9,132.2 L156.5,130.9 L155.8,128.0 L153.5,125.4 L151.6,123.6 M256.6,118.0 L260.1,114.5 L262.1,113.1 L267.2,111.8 M152.6,89.1 L153.9,86.9 L154.6,84.8 L156.5,82.2 M69.2,141.0 L72.1,142.7 L75.6,143.2 L77.9,146.4 L80.0,149.4 M29.6,103.1 L33.1,103.1 L35.2,101.7 L38.5,99.9 M147.3,113.4 L147.3,110.3 L146.6,106.1 L148.1,101.9 M17.4,89.8 L17.9,87.1 L17.9,84.5 L13.9,80.5 M189.1,108.7 L191.0,107.2 L193.8,103.8 M29.0,134.3 L31.3,135.2 L34.3,138.8 L37.6,139.3 L41.9,142.1 M243.5,115.9 L246.3,116.6 L250.7,113.8 L254.5,115.1 L257.0,117.1 M273.2,124.4 L271.9,126.6 L273.6,129.8 M231.1,135.0 L232.4,132.7 L236.2,132.3 L238.6,133.9 L239.7,138.9 M126.6,87.8 L125.0,91.7 L122.7,93.6 L122.9,96.2 L124.7,99.1 M26.1,105.7 L29.6,101.6 L31.9,99.3 M114.2,128.0 L111.5,130.0 L109.8,133.6 M230.5,97.3 L226.8,97.3 L224.0,96.8 M15.4,96.9 L19.2,96.5 L22.6,95.8 L25.6,96.7 M239.5,102.7 L244.7,104.1 L247.3,102.7 L249.0,101.1 L247.2,97.5 M132.7,125.0 L132.6,129.3 L130.4,132.0 L128.1,133.2 M16.4,122.1 L15.6,119.9 L17.3,118.0 L19.9,114.9 M48.5,112.2 L52.0,112.0 L54.0,114.5 L56.6,119.2 L53.8,122.8 M167.4,99.4 L167.0,103.0 L163.6,105.7 M211.4,98.8 L216.1,95.3 L219.1,92.1 M46.2,117.9 L48.2,120.1 L50.4,124.3 L50.1,126.5 L52.5,129.9 M295.1,88.3 L291.4,88.4 L288.6,92.2 L286.4,94.1 L284.5,98.8 M239.2,87.8 L242.9,84.9 L242.8,81.8 M55.0,97.1 L54.2,99.2 L58.8,102.3 L63.0,100.8 M109.1,89.9 L104.1,90.2 L100.0,87.0 M41.3,126.2 L37.0,127.0 L32.9,125.4 M88.9,124.8 L84.3,127.7 L79.4,127.4 M139.1,132.2 L137.4,127.3 L136.2,122.4 L130.5,120.1 L129.1,117.6 M253.9,99.0 L255.0,103.7 L255.0,108.7 L252.8,110.0 M204.1,108.1 L204.2,104.8 L199.9,102.5 L199.2,99.5 M184.5,132.8 L183.5,129.0 L188.1,125.9 M150.5,109.0 L150.8,111.7 L153.2,115.9 M191.5,102.4 L197.4,101.4 L201.7,99.9 L203.4,97.6 M193.7,107.0 L196.0,102.3 L196.2,99.6 L200.3,97.4 M269.8,108.1 L266.0,105.6 L265.9,100.5 L265.2,98.5 L266.7,96.5 M85.1,117.7 L82.7,116.3 L78.4,113.0 L75.6,110.7 L77.1,106.0 M204.9,90.3 L201.3,89.6 L196.1,90.7 L190.0,89.7 M245.5,89.3 L240.4,86.3 L235.0,88.2 L230.3,88.1 M142.6,128.1 L146.5,126.6 L150.1,128.8 L155.5,126.2 L157.0,123.9 M276.6,114.4 L280.9,116.7 L286.4,116.9 M98.0,116.5 L92.3,117.1 L88.5,116.2 L87.5,112.0 M211.9,101.5 L213.3,103.4 L216.2,107.7 L221.5,109.3 L224.4,107.4 M163.3,124.2 L165.3,121.3 L171.6,121.6 L174.5,119.7 L177.6,120.6 M106.5,110.5 L110.0,111.6 L112.2,114.6 L118.3,115.2 M192.5,114.1 L188.7,113.8 L184.7,116.8 M149.0,117.3 L145.6,115.7 L145.4,112.0 M97.2,121.3 L102.2,123.6 L105.2,125.6 M282.9,100.9 L280.7,102.4 L275.5,104.5 M252.8,125.9 L259.1,125.4 L264.3,126.3 M235.8,108.1 L239.5,109.5 L243.0,110.8 L244.3,114.9 L249.2,116.9 M132.9,137.9 L133.3,140.1 L134.8,143.5 M257.8,123.4 L252.5,124.2 L247.9,122.3 L247.2,119.9 M78.3,133.6 L73.6,136.7 L67.9,137.1 M199.9,135.2 L199.3,138.4 L194.5,140.3 L189.7,139.6 L184.9,138.8 M272.6,103.3 L267.1,102.2 L261.8,102.5 L259.2,106.7 L259.1,108.7 M194.3,93.8 L189.6,94.8 L187.0,94.9 M168.3,112.2 L164.5,111.5 L159.8,112.3 L156.2,115.8 M74.6,133.0 L77.2,131.3 L77.7,126.7 L75.9,123.8 L78.1,121.5 M40.5,92.3 L37.3,95.6 L34.6,95.5 L30.2,96.6 L26.7,96.4 M197.9,118.2 L193.5,116.4 L188.7,117.4 L187.5,119.8 L185.2,121.0 M270.8,86.9 L274.6,83.7 L274.8,79.3 L277.6,77.3 L280.2,77.2 M225.7,120.3 L227.8,119.2 L233.0,120.3 L236.0,121.9 M116.3,95.2 L113.8,94.4 L110.2,95.7 L105.3,93.3 M144.7,91.7 L150.4,93.3 L153.1,94.0 M111.2,103.8 L115.8,104.6 L119.5,103.3 M115.8,122.8 L122.1,123.3 L123.4,126.6 M223.7,107.5 L222.5,105.7 L218.1,104.2 L215.5,104.0 M251.6,130.0 L248.8,133.1 L242.9,132.9 M111.5,117.3 L109.6,116.0 L105.7,115.9 L103.9,114.1 L105.6,109.2 M140.4,118.0 L144.7,118.0 L147.4,114.3 L145.1,111.3 L141.5,108.3 M218.4,99.4 L219.8,95.6 L217.1,92.7 L212.9,90.2 L211.7,85.4 M16.4,117.7 L18.0,113.5 L15.9,111.9 M293.2,131.0 L299.5,131.0 L302.0,135.0 M27.6,117.1 L24.5,117.3 L22.7,121.5 L26.4,125.7 M217.3,96.5 L219.6,94.0 L223.5,90.0 M123.8,135.2 L128.6,137.8 L132.7,140.0 M184.4,130.8 L187.6,133.8 L191.3,136.7 M174.6,97.7 L173.1,100.9 L175.7,104.4 L179.8,105.4 L185.0,102.5 M170.6,105.7 L176.7,105.6 L177.9,107.6 L181.0,109.3 L185.5,109.6 M179.2,104.8 L182.1,105.2 L186.0,107.6 M163.2,111.5 L160.2,112.6 L154.8,111.6 L153.0,113.1 L154.5,117.2 M206.0,93.6 L207.5,88.7 L208.1,84.5 M87.0,102.8 L86.0,105.2 L88.8,109.7 L89.3,113.2 M192.6,128.2 L190.8,125.8 L189.0,124.3 L183.1,123.4 M277.5,104.4 L282.4,102.2 L285.1,101.2 M250.3,103.6 L247.4,104.2 L244.2,105.1 L243.4,109.1 M84.8,137.4 L91.2,137.5 L93.1,135.3 L93.7,130.4 L90.6,129.1 M219.0,141.4 L219.6,143.9 L216.8,145.8 L214.5,148.3 M288.8,91.1 L289.7,86.1 L292.1,82.7 L295.8,80.2 L299.4,79.5 M33.2,89.7 L36.1,86.7 L40.8,85.1 L46.4,83.4 M277.4,111.2 L279.3,108.3 L282.7,106.2 L285.6,106.0 M280.7,105.2 L282.1,100.8 L280.0,98.8 M115.0,104.8 L112.2,105.3 L107.5,103.6 M103.9,100.7 L108.9,97.5 L111.8,94.1 L114.2,92.2 M33.5,86.8 L37.4,87.2 L40.5,87.8 M120.3,127.3 L118.1,128.9 L117.0,133.4 M96.3,107.3 L98.9,103.0 L104.1,100.7 M83.6,136.0 L88.0,138.2 L88.6,140.9 M23.4,110.5 L26.3,113.3 L29.9,115.4 L29.4,120.3 M136.4,89.4 L139.2,92.1 L137.6,95.6 L139.8,97.7 M227.1,117.5 L226.0,112.6 L225.6,109.8 L220.8,106.9 M75.5,90.7 L73.4,92.4 L68.4,92.6 L66.5,95.1 M239.9,89.8 L238.8,87.4 L233.7,87.1 L231.1,86.9 M149.0,127.5 L145.8,124.3 L141.8,124.2 M125.4,135.7 L121.6,136.5 L119.1,134.8 M79.7,119.5 L84.0,116.3 L86.0,111.4 M254.2,103.0 L250.1,103.4 L247.7,102.8 M285.3,99.1 L281.1,96.2 L279.7,93.8 L281.3,91.5 L282.9,88.9 M238.5,101.2 L239.5,98.7 L239.9,94.5 L241.2,90.1 M83.0,132.9 L84.4,136.2 L85.3,139.3 L88.7,142.0 M93.1,109.3 L93.6,106.3 L95.7,104.4 L97.2,102.5 L102.7,101.4 M87.2,117.9 L84.3,119.6 L80.5,118.3 M29.7,137.2 L29.6,139.5 L27.6,141.5 M54.4,90.1 L49.3,90.3 L46.4,90.3 L42.2,92.7 M182.1,130.9 L182.6,128.7 L187.0,127.1 L189.0,123.2 L188.3,120.5 M119.4,115.3 L119.5,113.2 L121.0,110.8 M108.5,137.5 L103.2,137.2 L100.3,136.1 L100.1,131.6 M81.4,110.1 L85.4,109.6 L88.2,105.8 M120.7,125.7 L117.7,125.9 L115.3,127.8 L114.7,129.9 M53.8,108.7 L50.1,110.6 L47.5,113.7 M113.4,128.5 L109.4,131.2 L105.3,131.3 L102.4,134.5 M98.3,116.8 L97.0,121.8 L99.8,125.7 M100.7,100.3 L102.5,96.4 L104.7,95.2 L109.3,96.6 L114.0,97.2 M23.3,130.7 L25.4,129.7 L26.7,127.0 M217.7,141.3 L219.5,139.5 L219.3,136.0 M35.9,105.5 L35.2,108.3 L37.3,109.8 L40.2,109.6 L45.3,110.4 M89.9,130.3 L89.5,127.9 L90.3,122.8 L94.5,119.9 M254.1,109.7 L256.1,113.9 L255.1,116.1 M182.1,96.7 L183.5,94.2 L180.9,90.7 L179.7,88.4 M69.9,118.6 L74.5,121.0 L78.4,123.0 L81.1,123.4 L83.4,122.5 M161.1,97.8 L161.6,93.0 L159.4,90.6 L158.5,87.8 M59.8,98.7 L63.7,94.6 L67.3,94.0 L71.6,91.4 L70.9,87.5 M40.4,88.7 L36.5,91.3 L35.9,93.3 M106.4,130.0 L107.4,126.5 L106.9,124.4 L107.7,120.4 M139.6,89.7 L138.4,86.9 L136.4,82.9 L137.4,79.8 L138.3,74.9 M281.2,120.6 L287.0,119.0 L289.1,114.6 L293.8,114.1 M33.0,124.3 L36.8,121.1 L41.0,120.5 L42.6,117.6 L39.2,113.3 M29.6,102.1 L30.6,98.0 L29.1,93.5 M187.0,108.8 L184.8,111.6 L184.2,113.9 L186.9,118.6 M48.3,100.5 L51.8,98.4 L56.3,100.0 L60.6,99.8 L65.5,101.7 M51.9,96.8 L55.7,99.0 L56.2,101.0 M161.2,131.6 L158.9,129.8 L158.2,126.7 L154.9,124.7 L153.9,120.0 M178.8,86.6 L176.6,85.5 L177.2,82.8 L175.6,78.1 L178.3,76.1 M191.1,108.1 L195.3,110.5 L197.2,114.7 M176.6,137.1 L182.5,135.0 L188.0,135.5 L190.2,137.7 L191.5,140.7 M254.3,93.5 L252.2,92.2 L252.3,89.6 L250.1,85.5 M259.3,139.5 L261.7,138.6 L265.9,140.2 L269.6,141.3 L272.5,145.1 M262.9,98.0 L264.3,100.1 L261.6,104.5 M22.3,106.7 L21.4,104.2 L20.0,101.1 L22.2,96.4 M103.3,121.4 L105.1,118.6 L110.3,117.4 L115.3,114.5 M186.0,141.9 L189.2,139.7 L194.2,140.7 M74.3,106.3 L71.5,107.2 L69.3,106.0 L66.4,103.5 L65.5,100.2 M41.3,115.3 L41.6,112.6 L45.3,109.1 L45.3,104.3 L49.3,103.0 M123.5,125.8 L127.7,121.8 L132.1,118.1 M155.0,128.1 L158.8,129.1 L161.5,133.5 M61.8,87.0 L62.7,83.9 L65.9,83.1 M21.7,114.1 L25.8,115.7 L26.1,119.5 L30.2,121.9 L31.0,125.2 M186.6,100.5 L189.1,104.0 L194.7,103.9 L199.3,107.1 M62.1,129.8 L59.1,129.1 L53.8,126.7 M72.6,118.8 L71.3,115.0 L66.5,112.3 L62.4,110.8 L60.0,110.0 M262.7,134.6 L265.7,134.1 L270.5,132.9 L273.0,135.2 L273.2,138.0 M71.7,95.0 L68.9,97.0 L64.9,98.3 L63.4,102.0 L65.4,104.5 M134.0,133.0 L134.6,128.0 L134.6,125.4 L135.3,123.0 L133.9,121.1 M214.9,140.2 L211.0,140.3 L205.8,138.3 L202.7,135.8 M252.9,116.7 L257.3,117.4 L261.2,120.2 L260.1,124.0 L263.0,127.4 M227.8,86.2 L223.9,82.7 L223.8,78.8 L225.3,75.9 L230.0,75.6 M129.7,96.2 L132.8,100.1 L135.1,102.3 M163.6,87.1 L160.1,85.0 L156.2,84.2 L151.2,82.1 M89.3,106.7 L84.3,106.6 L81.7,111.0 L82.0,114.6 M282.7,107.1 L287.5,104.6 L288.0,101.9 M31.4,100.8 L33.7,99.3 L33.7,95.5 L38.9,93.7 L40.6,89.2 M26.4,113.8 L21.0,111.6 L18.7,108.2 L20.3,106.5 M30.9,93.0 L33.6,94.4 L36.1,95.6 L40.0,94.9 L42.1,96.9 M49.5,134.0 L49.9,136.7 L44.3,139.4 L41.1,139.6 M66.3,94.5 L62.7,96.4 L56.8,97.7 L52.4,96.2 L51.8,94.2 M140.1,87.3 L134.9,84.5 L134.2,79.6 L134.2,77.2 L131.5,74.8 M211.8,86.3 L212.7,84.4 L216.4,82.8 L221.2,82.5 L224.9,83.9 M288.6,139.5 L290.4,134.9 L287.7,130.2 L283.1,128.4 L281.2,127.1 M180.3,104.3 L175.6,103.0 L170.4,105.3 L167.2,106.7 L164.7,105.6 M280.1,128.4 L282.8,132.8 L283.9,136.0 M281.0,90.9 L280.3,86.1 L280.8,82.8 M266.5,131.3 L268.4,133.1 L271.9,136.3 L277.0,137.0 M94.2,106.7 L97.4,108.9 L101.2,112.4 L101.5,115.8 L98.6,118.2 M285.8,112.5 L285.9,117.1 L288.3,120.5 L286.3,124.6 L282.4,125.0 M257.6,134.0 L261.5,135.8 L266.7,133.6 L269.1,134.5 L273.1,135.8 M219.8,126.8 L220.3,129.2 L218.7,131.2 L219.4,134.8 L221.1,136.9 M280.0,112.5 L279.1,110.5 L273.1,108.4 L266.7,108.8 M33.0,107.5 L28.8,107.1 L25.1,107.1 L23.0,109.9 M201.0,112.9 L199.9,110.6 L200.2,106.8 M130.5,95.4 L134.9,98.9 L136.6,100.8 L140.4,104.9 M108.6,105.2 L107.8,110.3 L111.0,113.2 L109.5,116.2 M171.0,103.6 L177.3,104.0 L181.3,103.9 M236.7,138.5 L240.1,135.6 L244.5,132.4 L248.3,131.4 M187.4,102.8 L192.0,104.0 L195.3,104.3 M35.2,114.8 L34.5,110.7 L39.4,107.4 M208.3,125.9 L209.5,128.0 L214.4,130.9 M212.5,114.8 L208.2,117.9 L209.3,120.4 L214.5,122.6 L220.0,120.3 M91.2,135.3 L87.7,133.7 L88.1,131.6 L89.9,127.7 M136.0,132.5 L136.2,129.3 L138.8,124.7 L145.3,125.0 L150.1,126.4 M60.9,126.7 L60.0,123.6 L59.5,121.1 L57.1,119.8 M242.1,93.0 L239.6,96.2 L238.1,99.7 L240.1,101.2 L243.0,102.7 M230.7,99.5 L236.0,97.5 L240.1,96.7 M150.8,88.3 L155.1,87.4 L158.7,90.1 M66.6,89.9 L68.2,92.7 L73.7,93.2 L77.2,89.7 M142.4,124.4 L147.2,127.4 L148.9,130.5 L151.4,131.3 M49.9,133.5 L50.6,129.0 L49.6,127.0 M28.6,115.2 L28.7,112.6 L30.4,109.5 M203.5,91.1 L208.6,90.6 L210.5,87.7 M167.8,102.1 L167.0,106.2 L169.0,109.1 M211.2,110.1 L214.5,109.9 L218.4,107.5 M124.0,124.1 L122.1,127.4 L118.8,128.5 M281.2,131.6 L279.6,134.8 L277.9,136.3 M67.7,141.2 L69.0,139.2 L72.3,138.3 L75.6,134.0 L75.7,131.5 M251.5,108.8 L255.8,109.0 L257.0,106.9 M221.9,134.4 L220.8,131.7 L215.4,130.3 M41.2,98.4 L44.9,98.3 L50.7,99.1 L54.1,101.8 M281.3,110.8 L285.0,110.1 L288.3,106.7 L287.3,103.6 L286.6,98.5 M191.6,122.9 L195.8,125.3 L200.4,124.8 M93.6,129.1 L92.7,126.4 L95.9,123.8 L97.6,121.2 M129.6,125.7 L129.6,121.5 L132.7,117.4 L136.4,115.7 M39.6,106.2 L41.8,103.3 L45.0,102.1 M119.4,86.9 L116.8,87.0 L114.6,83.8 L114.1,78.7 M244.3,98.8 L239.5,100.9 L238.6,103.1 M71.2,136.2 L73.2,140.6 L71.0,143.6 M135.1,103.6 L138.7,104.7 L142.7,102.0 M84.9,88.1 L86.9,90.1 L86.9,93.3 M49.0,136.6 L44.6,132.8 L46.2,129.8 L44.2,125.6 M224.7,92.4 L220.8,94.9 L220.5,97.0 M207.2,120.2 L203.1,123.6 L202.4,127.1 M235.1,135.4 L239.9,136.8 L243.7,138.8 L246.8,137.9 L249.8,135.6 M118.5,136.5 L124.4,137.0 L128.6,135.1 L130.5,133.6 M242.0,131.4 L241.5,136.5 L244.9,138.3 L249.9,137.9 L254.8,140.5 M171.3,107.7 L176.8,107.2 L182.3,109.5 M265.2,103.4 L264.0,101.3 L260.1,100.8 L255.6,100.8 L250.9,102.9 M162.1,141.0 L163.4,143.1 L167.1,145.3 L171.2,145.2 L174.6,148.0 M174.4,101.3 L178.0,100.1 L179.3,96.1 L180.4,93.2 L179.9,88.5 M111.5,109.4 L113.0,107.8 L116.2,108.4 L119.9,109.5 M88.6,95.6 L90.6,92.9 L92.9,91.9 M77.6,139.8 L72.9,139.6 L69.6,137.0 L66.5,137.7 L63.5,141.6 M158.0,125.3 L158.6,122.3 L159.4,120.0 L160.5,116.1 L158.3,113.8 M208.4,116.6 L208.2,112.4 L210.2,109.9 L208.1,105.4 L206.5,101.9 M61.8,89.3 L64.4,89.0 L68.3,93.1 M222.5,101.0 L228.8,101.0 L230.9,97.4 M80.5,90.9 L83.6,86.8 L82.7,82.0 L81.3,80.2 M110.9,89.7 L112.4,91.5 L113.0,95.6 L116.0,99.2 L119.3,99.2 M289.1,119.8 L292.9,123.2 L293.5,125.9 L299.2,127.9 L303.4,129.9" fill="none" stroke="#1e1e1e" stroke-width="1.2" stroke-linejoin="round" filter="url(#fBlur)"/></g>
<g clip-path="url(#cFront)"><path d="M217.6,146.4 l4.1,-0.3 l-3.2,3.3z M122.1,147.3 l4.9,-2.1 l-3.6,3.9z M210.3,148.2 l4.1,-0.8 l-0.9,3.3z M66.1,160.2 l3.1,0.1 l-1.6,2.5z M21.2,156.8 l4.2,3.2 l-1.5,3.4z M64.3,149.9 l4.2,1.3 l-1.7,3.4z M138.3,146.6 l4.8,-0.3 l-2.4,3.8z M199.9,147.4 l4.2,-1.2 l-3.4,3.3z M37.2,148.7 l3.9,-0.1 l-1.5,3.1z M151.0,147.7 l3.3,-3.3 l-2.6,2.6z M74.7,158.1 l3.7,0.7 l-2.3,2.9z M44.5,157.2 l2.9,2.1 l-2.3,2.3z M174.4,157.9 l3.3,1.1 l-3.2,2.6z M59.4,145.7 l3.2,0.1 l-0.5,2.6z M67.0,158.7 l3.2,-2.2 l-0.6,2.5z M150.7,147.2 l3.4,0.3 l-1.5,2.7z M133.4,158.2 l2.1,1.8 l-0.4,1.6z M24.0,157.0 l3.7,0.3 l-0.8,3.0z M198.6,149.2 l4.2,-2.3 l-2.4,3.3z M167.3,150.3 l3.4,-3.0 l-2.2,2.8z M177.4,146.6 l3.7,1.7 l-0.4,2.9z M212.1,158.8 l2.2,-1.1 l-0.2,1.7z M74.4,145.5 l3.5,-1.7 l-1.0,2.8z M123.5,150.3 l4.4,1.9 l-0.5,3.5z M67.5,144.1 l3.0,-2.3 l-2.1,2.4z M198.4,160.9 l2.6,-2.4 l-2.0,2.1z M111.8,159.8 l3.2,-1.2 l-0.2,2.5z M237.8,152.7 l3.3,-0.4 l-2.6,2.7z M210.2,152.1 l2.5,-0.5 l-2.3,2.0z M110.8,155.2 l3.7,-0.3 l-2.1,2.9z M72.6,153.5 l4.6,-3.9 l-1.7,3.7z M221.9,160.6 l2.0,0.5 l-1.3,1.6z M213.1,152.0 l2.4,-1.0 l-1.7,1.9z M186.2,147.5 l3.9,1.2 l-2.6,3.1z M20.1,151.5 l3.0,0.6 l-1.0,2.4z M45.1,155.4 l2.9,1.7 l-0.9,2.3z M143.3,157.7 l2.3,1.1 l-0.2,1.9z M235.0,144.4 l4.2,-1.1 l-0.7,3.3z M107.8,152.5 l3.2,-2.5 l-1.7,2.6z M85.5,160.4 l3.1,-0.4 l-0.7,2.5z M242.7,149.5 l3.9,2.6 l-1.5,3.2z M192.5,148.7 l2.3,-2.1 l-1.0,1.9z M220.4,147.5 l3.3,1.7 l-0.9,2.7z M50.9,152.8 l3.3,2.9 l-2.9,2.6z M70.9,153.5 l3.2,-3.0 l-1.4,2.6z M230.2,149.1 l3.8,1.6 l-0.2,3.0z M232.2,145.9 l2.9,1.3 l-0.1,2.3z M103.2,146.2 l3.4,-3.3 l-0.5,2.7z M67.3,145.4 l2.3,-1.4 l-1.2,1.8z M47.2,158.0 l3.3,-1.6 l-0.8,2.6z M212.3,144.8 l4.2,-3.4 l-4.0,3.4z M110.9,154.2 l4.6,-3.7 l-0.3,3.7z M178.0,154.0 l4.2,-1.8 l-2.1,3.3z M58.9,151.4 l2.8,0.5 l-0.9,2.3z M79.6,154.9 l2.3,1.4 l-1.1,1.8z M68.8,146.0 l3.5,0.0 l-2.5,2.8z M102.9,151.0 l4.7,-2.1 l-4.6,3.7z M224.7,160.8 l4.8,-2.3 l-3.9,3.9z M158.8,147.5 l5.0,1.5 l-4.0,4.0z M146.1,145.4 l4.6,-3.0 l-1.2,3.7z M159.8,147.3 l3.4,1.4 l-0.3,2.7z M170.3,145.8 l3.4,1.0 l-2.4,2.7z M25.1,147.2 l4.9,-1.1 l-2.1,3.9z M103.0,155.8 l4.2,1.3 l-1.7,3.4z M148.8,152.8 l2.6,2.3 l-2.5,2.1z M197.7,160.9 l3.4,2.3 l-0.8,2.7z M189.5,156.2 l4.8,3.2 l-4.2,3.9z M77.9,157.4 l3.4,-1.3 l-1.3,2.7z M202.7,158.3 l4.5,1.5 l-0.8,3.6z M51.6,153.7 l2.6,-0.9 l-0.3,2.1z M51.4,156.2 l2.7,1.9 l-0.9,2.1z M214.5,149.1 l2.8,-0.6 l-0.0,2.2z M117.4,150.5 l2.0,1.5 l-0.8,1.6z M15.1,160.3 l2.7,-1.3 l-0.1,2.1z M38.4,156.1 l3.7,0.0 l-0.9,3.0z M82.4,160.5 l3.1,3.1 l-2.8,2.5z M44.3,158.4 l2.1,0.9 l-1.7,1.7z M178.4,153.3 l4.4,-3.1 l-2.4,3.6z M77.5,150.8 l2.6,1.1 l-1.5,2.1z M198.1,154.7 l3.8,3.2 l-3.1,3.0z M148.2,149.5 l4.8,-1.2 l-0.5,3.8z M93.3,156.0 l4.8,1.4 l-3.2,3.8z M235.3,157.2 l3.3,-0.3 l-2.5,2.7z M89.7,145.9 l3.9,2.4 l-1.0,3.1z M175.7,159.2 l2.4,-1.7 l-1.2,1.9z M93.6,160.1 l5.0,-0.5 l-4.0,4.0z M163.5,146.9 l4.9,-3.2 l-0.4,3.9z M121.3,144.3 l3.4,-0.6 l-3.3,2.8z M112.2,158.4 l4.3,0.7 l-1.0,3.5z M86.6,152.4 l3.2,0.9 l-1.6,2.5z M90.9,154.3 l5.0,-3.0 l-1.7,4.0z M17.8,145.6 l2.2,-0.3 l-1.8,1.7z M179.0,160.4 l4.5,0.8 l-2.6,3.6z M17.9,150.5 l2.8,0.7 l-0.2,2.2z M142.4,150.4 l3.5,-0.7 l-0.4,2.8z M186.9,157.6 l3.8,-2.9 l-2.3,3.0z M219.7,160.8 l4.3,-3.9 l-3.8,3.4z M171.3,148.7 l4.8,3.1 l-4.3,3.8z M73.2,153.8 l3.1,-1.3 l-2.4,2.5z M159.9,149.6 l3.6,3.1 l-2.1,2.9z M229.7,153.6 l5.0,-4.7 l-2.3,4.0z M144.8,156.4 l4.9,1.2 l-2.3,3.9z M164.0,153.1 l4.1,3.7 l-0.1,3.3z M90.3,158.9 l2.2,1.3 l-0.1,1.7z M167.3,157.6 l2.7,-0.6 l-0.6,2.2z M180.6,153.0 l3.8,-1.3 l-2.2,3.1z M239.3,157.2 l4.9,-2.5 l-2.5,3.9z M105.6,149.9 l4.4,-2.9 l-2.5,3.5z M196.9,159.9 l2.1,-0.9 l-1.0,1.6z M235.0,146.8 l4.5,-0.9 l-2.5,3.6z M233.1,145.1 l3.0,-2.1 l-0.4,2.4z M86.3,155.9 l3.7,-2.8 l-3.0,3.0z M134.2,146.4 l4.5,2.9 l-1.0,3.6z M235.8,157.8 l2.7,-2.7 l-2.3,2.1z M209.1,145.7 l4.3,2.3 l-2.7,3.4z M210.6,160.7 l3.0,2.0 l-2.7,2.4z M88.7,155.6 l4.1,2.8 l-2.3,3.2z M79.8,148.3 l3.6,-2.6 l-3.1,2.9z M224.0,148.1 l4.1,1.4 l-0.5,3.3z M197.9,157.0 l2.9,-2.3 l-0.8,2.3z" fill="#8c8c8c" filter="url(#fBlur)"/></g>
<g clip-path="url(#cFront)"><path d="M196.3,150.3 L197.1,148.1 L197.2,145.5 M63.7,160.5 L66.7,160.1 L69.3,159.4 L72.9,162.2 L76.9,161.6 M62.3,152.9 L57.8,151.9 L55.6,150.3 L52.4,148.9 M81.3,156.3 L82.5,158.7 L79.5,162.6 L79.2,166.6 M36.1,142.6 L37.1,145.3 L39.4,146.8 L43.7,149.6 M51.8,149.5 L55.6,153.0 L54.1,155.9 L51.0,158.7 M185.0,141.9 L183.1,145.2 L183.4,148.6 M125.0,160.1 L130.1,157.0 L130.5,152.1 L132.8,147.7 L134.0,142.6 M20.9,158.7 L26.7,157.6 L29.1,156.7 L32.9,159.8 M179.0,155.0 L178.5,157.7 L179.1,161.0 L178.8,165.8 L174.3,167.6 M100.9,142.4 L105.8,140.3 L111.9,140.9 L116.1,142.8 L118.4,144.9 M162.3,151.2 L165.3,149.3 L168.6,147.2 L172.8,148.9 M63.6,141.2 L66.1,142.3 L70.5,141.7 L75.4,138.7 M111.2,141.7 L112.7,137.7 L112.7,132.7 M207.7,146.6 L211.9,146.6 L213.6,144.9 L215.1,140.3 L215.2,135.9 M102.3,161.7 L105.8,165.3 L109.5,168.4 L114.7,170.3 M155.0,154.4 L155.6,157.3 L157.2,159.9 L162.4,161.9 L165.7,163.7 M160.6,147.0 L163.9,150.7 L164.2,153.6 L167.8,156.7 L172.9,158.2 M97.2,156.7 L97.5,153.5 L99.8,152.8 L102.1,153.9 L105.3,155.9 M195.9,146.9 L196.7,151.3 L197.1,153.4 L195.6,155.8 L194.6,157.6 M75.9,154.6 L79.6,151.2 L84.5,148.7 L86.7,145.5 L85.0,140.8 M247.2,148.8 L252.4,147.8 L255.6,147.7 L258.2,148.9 M191.5,143.2 L192.9,146.4 L192.9,149.8 L188.4,152.5 M174.5,160.3 L168.2,159.8 L166.4,162.5 L166.1,165.1 L166.7,169.9 M20.6,158.4 L18.1,163.0 L19.9,165.9 M164.9,147.5 L160.8,149.5 L157.9,151.4 L153.3,154.0 M185.2,147.6 L189.3,146.3 L191.4,144.6 L196.3,145.2 M38.2,160.4 L38.8,156.7 L35.2,153.7 M131.1,158.9 L131.0,162.9 L131.9,168.0 M59.1,155.6 L63.5,155.3 L69.6,154.9 L72.2,158.4 M136.5,143.3 L135.8,147.7 L135.6,152.7 L137.0,155.7 M240.0,147.6 L242.8,144.6 L245.8,144.9 L249.0,148.5 M191.1,153.2 L196.4,151.8 L200.1,152.4 M175.9,149.0 L173.6,145.5 L174.7,142.1 M78.5,147.5 L77.4,145.1 L74.1,143.6 M151.7,144.1 L154.0,142.8 L159.3,142.3 M157.4,140.3 L161.7,142.6 L167.9,142.5 L172.5,141.7 M139.1,146.0 L136.0,145.1 L130.7,147.5 M171.2,152.8 L176.6,155.1 L181.6,156.5 L187.6,158.3 M132.1,152.9 L133.3,150.6 L136.0,149.3 M197.7,148.9 L201.9,149.3 L205.0,148.1 L209.4,146.1 L215.0,144.3 M135.2,151.3 L136.9,149.4 L136.8,146.7 M26.1,144.0 L31.2,146.5 L34.1,150.2 L33.8,153.1 M186.3,144.5 L182.1,143.6 L179.0,146.5 L178.8,149.5 L174.3,151.9 M118.6,142.6 L120.5,138.3 L122.2,134.8 L127.3,134.1 M169.2,153.0 L166.2,152.6 L162.0,152.8 L157.3,153.5 M100.0,148.6 L97.1,151.8 L95.4,154.5 L97.3,157.7 M56.1,142.6 L59.7,138.8 L63.3,139.1 L67.1,139.3 L70.3,135.1 M211.6,145.3 L206.7,148.2 L204.5,149.9 L204.3,154.5 L201.6,156.8 M97.1,158.0 L101.3,154.1 L103.0,151.8 L106.8,150.2 M151.3,157.3 L152.8,153.3 L149.6,151.2 L145.4,148.5 L146.9,144.8 M118.3,144.8 L122.2,141.4 L122.2,137.1 M92.7,160.8 L94.8,161.9 L101.1,161.9 L104.3,159.3 M213.1,149.9 L214.3,152.7 L214.7,157.5 M136.1,145.6 L131.1,143.9 L125.9,144.2 L122.3,147.0 M153.1,149.8 L154.6,146.8 L158.1,145.0 L161.4,143.1 L167.5,143.3 M115.0,160.3 L116.3,162.7 L112.3,166.1 L113.1,171.0 L108.0,173.2 M135.5,153.1 L140.2,155.0 L142.3,156.1 L144.3,159.1 L147.8,159.2 M64.7,158.1 L59.2,155.4 L57.9,151.0 L58.9,146.9 M27.8,156.4 L25.5,157.4 L24.6,160.2 L22.8,164.6 L20.6,167.5 M71.9,161.6 L71.4,156.9 L68.0,152.5 L68.3,149.2 M198.2,157.2 L195.6,158.8 L189.2,158.2 L184.5,156.4 L180.9,156.6 M35.4,161.7 L40.2,161.6 L43.8,162.7 L48.7,161.9 L53.6,165.1 M136.3,146.5 L134.2,145.3 L129.8,144.2 M46.9,160.9 L44.7,162.1 L42.2,161.7 L39.2,162.2 L33.6,162.1 M45.3,146.5 L49.7,147.1 L54.6,144.2 L59.1,143.2 L61.4,141.4 M120.5,149.8 L123.6,152.6 L125.9,155.4 L125.5,157.6 M92.5,160.5 L97.0,159.7 L101.3,161.5 M42.6,145.6 L46.7,146.2 L49.5,146.9 L53.6,150.0 M202.1,159.4 L199.0,160.9 L198.6,164.0 M168.1,160.3 L164.7,158.9 L160.1,158.7 L155.3,155.9 L150.2,154.7 M109.9,159.0 L111.1,155.6 L109.5,153.8 L111.0,150.0 L114.5,147.0 M116.2,140.9 L120.6,139.7 L124.6,137.7 L124.9,132.8 M39.2,143.1 L38.1,138.5 L34.7,138.0 L29.9,140.0 L23.7,139.3 M103.7,159.4 L102.5,163.7 L99.9,168.4 L97.6,169.2 L94.4,168.1 M89.3,152.3 L88.6,147.5 L89.9,144.2 M147.2,157.7 L144.0,161.8 L140.0,163.5 L137.1,162.6 L131.8,162.8 M208.5,148.2 L214.6,147.9 L217.5,147.7 L220.7,146.7 L225.8,146.7 M119.5,151.9 L122.8,149.3 L126.2,147.0 L132.6,147.8 M66.1,149.5 L64.2,151.4 L61.3,156.0 L55.3,157.5 L53.3,159.7 M20.5,146.0 L26.6,146.8 L29.3,149.2 L30.2,153.6 L30.2,157.6 M54.9,150.0 L53.1,146.8 L52.6,144.3 L56.5,140.6 M215.6,158.0 L212.6,160.0 L208.2,161.8 M92.3,152.8 L95.1,152.1 L98.4,153.7 L98.7,156.7 M86.8,143.9 L91.6,146.6 L97.2,149.2 L100.5,149.4 L103.0,149.6 M65.7,149.0 L67.0,150.8 L65.2,153.2 L62.8,155.7 M150.7,160.5 L154.2,156.9 L152.2,153.9 L154.1,151.6 L155.3,147.8 M70.6,155.6 L69.2,152.7 L68.1,150.0 M38.0,161.1 L37.5,158.4 L33.1,155.8 L31.9,150.9 M94.9,158.0 L90.5,159.4 L87.6,158.3 L86.9,156.3 M141.2,152.6 L144.7,154.4 L145.5,157.2 L149.7,159.7 M208.7,152.0 L208.9,156.7 L206.4,158.4 L208.0,162.6 M155.7,148.0 L158.9,146.8 L159.6,143.4 L164.3,142.0 M68.9,145.1 L68.1,148.0 L69.1,151.5 L72.6,153.1 L74.6,155.7 M202.1,144.1 L206.6,142.8 L209.3,142.1 L212.5,138.3 L215.3,138.1 M173.9,149.1 L178.6,150.2 L181.8,150.5 L186.5,150.6 M225.7,161.9 L220.8,161.7 L218.4,159.7 L213.9,156.8 M216.7,151.1 L211.1,149.5 L207.5,150.7 L205.5,149.1 L201.3,148.0 M190.0,153.9 L193.6,152.2 L198.0,151.1 L201.0,146.5 L204.0,146.5 M192.6,147.6 L191.9,151.5 L191.1,154.3 M198.3,140.1 L195.0,144.0 L197.4,147.7 L202.7,147.4 M238.5,140.5 L243.1,142.9 L248.8,143.9 L251.8,140.6 L255.2,138.6 M153.2,143.5 L155.9,141.5 L157.7,136.7 L158.6,134.8 L158.5,131.7 M30.9,161.5 L35.9,159.0 L40.3,159.5 M211.8,142.0 L210.8,139.8 L213.6,135.7 L215.4,133.4 M216.4,142.6 L212.7,144.9 L206.5,145.8 M148.5,143.6 L146.2,138.9 L140.8,138.0 L137.4,139.3 L133.1,143.1 M29.2,149.6 L32.9,149.8 L34.4,147.5 L37.7,147.6 M120.9,160.6 L117.2,163.9 L114.0,165.9 M148.2,141.7 L151.6,144.0 L151.6,146.3 L150.4,148.2 M23.6,142.8 L24.6,139.0 L24.4,136.2 L19.7,133.2 L16.3,129.0 M55.4,145.8 L53.4,143.7 L49.8,142.9 M227.6,154.6 L225.1,154.3 L223.8,149.8 L221.1,148.8 L216.1,149.8 M45.8,140.4 L41.8,140.2 L38.9,137.6 M206.4,155.1 L208.1,152.3 L208.3,150.2 M211.8,156.2 L209.1,155.5 L204.1,154.5 M210.7,150.7 L215.4,154.1 L218.4,153.0 L221.4,152.1 L227.1,151.7 M139.7,154.5 L136.5,158.7 L139.1,162.6 L142.8,163.6 L148.3,161.6 M207.5,158.3 L206.3,162.0 L204.2,164.2 M104.7,142.2 L101.8,138.1 L96.7,137.2 M48.4,157.2 L46.2,152.4 L43.4,151.2 M106.8,150.3 L106.9,148.0 L103.9,144.9 L102.5,143.2 M37.1,152.5 L33.3,153.4 L30.2,151.2 M241.5,148.2 L240.0,144.7 L243.2,140.2 L247.4,138.7 L252.5,139.1 M240.4,161.4 L237.7,158.9 L238.7,155.7 M125.3,156.2 L128.8,156.9 L135.0,155.7 L140.0,154.1 M181.9,159.0 L180.1,156.2 L175.7,156.3 M140.1,146.8 L145.8,145.1 L151.4,142.6 L154.4,141.1 M94.5,153.6 L88.2,154.2 L85.0,156.1 L82.4,159.9 L79.8,164.0 M16.2,142.9 L19.3,144.7 L23.9,143.8 L28.5,143.6 M24.6,153.0 L25.0,150.9 L29.4,149.7 M151.8,141.5 L150.8,138.0 L148.5,134.9 L144.2,133.7 M69.6,150.7 L67.7,152.5 L67.7,157.0 L71.2,158.8 L73.0,162.8 M201.4,142.6 L204.0,140.8 L203.1,136.1 L200.4,131.8 M229.4,142.8 L234.1,142.1 L236.5,143.8 L239.9,145.9 L243.3,145.1 M231.6,155.9 L229.0,157.0 L225.6,160.8 L225.6,164.9 L221.3,167.1 M159.8,160.1 L162.7,159.3 L167.3,159.8 M87.6,158.3 L89.6,159.9 L93.3,161.6 L98.8,161.3 M227.7,143.0 L225.2,140.2 L220.9,140.1 M136.6,157.3 L134.0,159.8 L129.7,160.6 L128.9,162.8 M248.9,143.5 L247.2,141.9 L244.4,142.2 M106.3,161.4 L101.1,163.3 L100.1,166.9 L99.1,171.2 L96.7,172.5 M92.0,141.9 L92.4,144.7 L91.2,149.7 L85.4,150.9 M44.2,157.4 L47.4,156.3 L50.5,155.2 L53.0,155.3 M46.5,156.9 L43.4,156.4 L40.2,155.5 M230.5,142.1 L227.4,145.1 L229.7,148.6 M159.2,157.0 L157.1,158.9 L159.0,163.0 M82.9,156.1 L80.0,160.7 L77.9,162.8 L73.6,166.1 M101.6,149.6 L99.4,147.7 L97.4,145.1 L94.3,141.6 L89.9,142.3 M88.8,153.2 L91.7,152.9 L93.1,150.7 L89.6,146.9 M105.5,157.9 L109.1,161.6 L107.2,166.4 L108.0,168.5 M163.4,140.5 L164.4,136.6 L163.0,133.9 L160.8,131.8 L156.5,132.1 M199.7,142.6 L195.0,144.1 L190.9,145.4 M179.8,149.3 L183.8,147.9 L187.4,150.0 L190.7,148.3 M61.5,153.7 L58.1,154.5 L56.3,157.4 L55.6,160.6 M38.9,153.7 L44.7,154.4 L47.2,155.2 L52.5,152.9 M143.1,143.6 L147.8,140.2 L149.6,135.3 L149.9,131.2 L146.9,128.2 M99.4,142.6 L104.7,140.0 L108.4,139.1 L114.2,140.7 L115.8,144.8 M225.6,158.7 L224.4,160.7 L219.9,161.7 M235.0,150.8 L235.5,155.3 L231.9,158.6 L232.6,162.3 L235.0,164.5 M67.2,152.4 L70.6,152.4 L73.6,149.8 L76.1,148.9 M78.8,161.4 L79.8,163.5 L82.1,167.9 L81.4,170.0 L77.9,172.9 M128.3,154.6 L125.6,157.3 L122.3,158.7 M42.0,158.0 L44.0,155.2 L45.5,153.5 L46.3,151.5 M249.0,160.0 L247.0,157.7 L244.9,156.0 M52.2,161.7 L53.1,158.0 L57.4,154.8 L58.3,151.5 M100.0,141.7 L100.9,138.4 L102.0,135.1 L100.0,133.5 L97.2,133.8 M172.6,158.5 L172.3,153.5 L177.4,150.4 M80.0,151.3 L84.6,151.9 L87.8,149.5 L89.0,144.5 M215.9,159.0 L217.6,157.3 L222.6,158.0 L226.8,157.7 L231.3,158.4 M218.9,159.7 L214.6,161.2 L209.8,160.6 M130.7,144.1 L129.1,139.2 L124.9,137.0 L120.6,138.7 L117.5,138.4 M193.5,161.3 L198.9,161.2 L204.7,161.7 M204.5,153.8 L205.5,151.8 L207.3,147.6 M62.0,150.6 L59.4,152.8 L61.0,157.7 M99.3,148.5 L99.1,143.7 L99.5,139.1 L100.6,135.1 L104.6,131.0 M63.4,151.7 L65.9,152.4 L66.4,154.9 L64.5,156.4 M167.7,143.2 L171.0,145.4 L172.4,148.3 L170.3,152.7 M29.4,151.3 L31.6,149.3 L32.9,146.4 L35.9,145.4 L40.9,148.2 M65.5,151.8 L69.2,154.5 L72.4,155.4 L75.8,157.0 L80.2,160.7 M114.1,146.5 L112.1,148.5 L108.6,149.9 L105.6,148.6 M72.8,144.0 L73.2,148.4 L75.6,149.5 L80.9,151.7 L82.9,155.1 M188.9,158.7 L187.5,160.6 L186.8,162.8 L183.3,163.8 M248.4,161.8 L252.0,158.0 L252.1,154.8 M242.4,150.0 L245.4,149.8 L248.5,153.9 L249.7,157.8 M117.5,149.3 L119.6,151.4 L123.5,152.7 L128.2,155.1 L129.3,159.1 M24.8,141.6 L27.1,139.2 L25.6,135.9 M137.9,158.0 L138.8,160.5 L142.0,161.1 M47.5,151.2 L50.4,150.9 L56.6,150.0 L60.8,148.3 L64.4,146.1 M25.2,159.4 L20.0,162.2 L14.9,162.0 L10.1,158.8 M27.7,154.7 L25.5,152.8 L24.1,151.1 M20.1,143.6 L15.4,143.5 L12.2,143.8 L6.9,145.3 L1.4,142.6 M65.3,160.8 L68.0,161.5 L70.9,162.7 M179.9,143.8 L175.8,143.2 L171.7,141.9 L168.7,144.0 L165.1,146.6 M145.5,145.2 L142.5,140.8 L138.1,137.8 M174.5,158.5 L178.1,157.9 L183.6,156.2 L186.9,156.0 M244.7,145.3 L244.5,143.0 L247.0,141.2 L246.7,136.8 L248.2,133.7 M155.1,152.2 L156.4,149.0 L155.0,146.7 L155.4,142.2 L155.1,138.2 M37.0,150.7 L38.0,154.3 L34.1,157.9 L34.4,162.3 L31.6,165.1 M216.7,144.1 L213.3,143.8 L207.5,144.2 L204.9,144.4 L199.2,146.0" fill="none" stroke="#1a1a1a" stroke-width="1.15" stroke-linejoin="round" filter="url(#fBlur)"/></g>
<g clip-path="url(#cFront)"><path d="M117.3,145.7 L118.5,144.4 L121.4,144.9 L126.2,146.1 L128.2,145.4 M63.3,142.5 L62.4,139.3 L64.5,137.6 L66.9,136.8 L69.5,139.0 M211.3,142.1 L210.8,140.3 L210.5,137.9 M190.0,147.2 L192.9,145.9 L193.2,142.4 L190.7,140.3 L185.8,141.5 M194.6,146.1 L197.5,146.1 L200.6,146.8 M126.4,146.3 L124.0,143.2 L119.7,143.9 M184.8,147.3 L184.3,143.3 L182.8,142.1 L182.4,140.2 L183.2,138.7 M44.1,144.6 L47.3,143.6 L48.6,140.2 L49.2,138.5 M131.2,141.6 L131.3,143.7 L132.5,145.6 L136.2,146.8 L140.6,146.7 M149.7,149.3 L153.1,151.0 L157.3,150.8 L161.4,149.8 M152.3,142.4 L154.6,145.6 L156.6,146.4 M16.5,146.1 L16.5,144.1 L20.0,142.2 M129.7,142.6 L125.6,144.6 L122.7,144.5 L120.7,144.3 L119.2,141.3 M41.5,146.2 L38.5,144.6 L35.9,142.7 L32.3,142.9 L30.7,144.8 M41.1,145.0 L45.2,143.3 L48.7,143.3 L51.4,146.2 M248.7,150.6 L244.3,148.5 L241.7,146.4 L238.6,143.3 L237.0,141.7 M94.8,143.8 L98.1,145.8 L101.1,144.4 L103.2,145.6 L105.2,146.5 M74.9,149.2 L77.8,152.3 L82.5,153.6 L86.0,153.7 L87.6,156.4 M175.0,142.1 L177.2,141.8 L180.4,143.4 L183.2,146.2 M192.1,148.1 L194.0,147.3 L194.2,145.1 M216.2,143.3 L217.5,141.5 L215.6,137.9 L211.8,137.5 L208.9,139.8 M77.5,148.5 L74.6,149.2 L69.6,149.9 L66.3,149.6 L65.4,147.4 M239.5,144.1 L235.6,141.8 L234.9,140.0 L235.6,136.0 M153.4,150.6 L156.9,148.3 L161.1,148.3 L162.8,145.8 M78.2,147.1 L78.0,150.8 L76.4,153.2 L76.6,157.1 M164.6,146.4 L166.9,144.7 L171.6,145.7 M244.9,150.9 L242.5,151.8 L239.6,149.6 M212.5,146.6 L213.0,142.7 L210.0,140.3 M219.8,149.9 L218.7,146.2 L219.0,143.9 L220.8,142.8 L219.8,138.8 M67.0,150.2 L67.8,147.5 L71.3,145.4 M84.4,145.8 L81.2,149.1 L77.3,151.0 M55.5,144.4 L51.6,144.2 L48.6,142.4 L45.9,142.3 L43.5,140.3 M107.0,147.6 L106.0,144.8 L105.8,141.8 M123.1,146.1 L121.6,142.7 L121.8,140.8 M75.9,144.1 L72.5,143.6 L69.7,144.6 L66.3,145.6 M89.5,148.7 L88.7,150.5 L84.9,151.8 L81.4,153.3 M118.1,144.6 L122.3,142.5 L124.8,142.7 L126.8,142.3 M62.1,144.4 L64.1,147.5 L64.4,149.6 L65.4,151.0 M80.0,149.3 L78.2,151.2 L77.8,154.6 L81.3,157.5 L82.8,160.3 M27.1,143.8 L26.2,146.9 L29.8,149.8 L30.6,153.4 L29.6,155.3 M71.7,141.4 L67.3,142.8 L66.8,146.9 M35.6,142.5 L38.5,141.4 L40.7,142.0 L42.8,144.5 L42.4,146.9 M24.9,142.0 L26.9,138.2 L27.3,134.9 L30.5,132.6 L30.2,130.7 M197.1,146.9 L199.2,143.9 L201.3,142.7 M25.1,147.4 L20.9,145.9 L16.9,143.8 M45.4,145.2 L49.8,144.9 L51.9,144.7 L55.2,144.7 L58.2,143.7 M67.0,144.1 L66.4,140.4 L63.3,138.9 L61.4,135.6 L59.7,134.0 M240.8,147.1 L241.2,145.5 L238.8,142.2 L236.7,141.2 M144.8,146.8 L142.1,144.6 L139.8,144.5 M180.7,148.3 L183.3,144.6 L183.5,142.0 L186.2,141.1 M28.0,150.6 L28.5,154.0 L32.6,155.7 M226.1,146.9 L230.8,148.3 L233.5,148.3 L235.2,146.6 L237.3,143.7 M235.2,146.6 L239.5,147.6 L241.1,146.4 L240.7,142.4 M58.9,150.9 L57.1,150.1 L53.2,151.4 L51.4,152.5 M127.5,144.7 L129.7,145.2 L133.0,146.5 M21.3,144.9 L23.3,148.7 L22.9,151.8 L24.5,154.2 L25.8,156.6 M147.6,141.9 L144.9,143.9 L140.4,144.3 M188.1,144.8 L186.0,143.4 L182.7,140.3 M87.7,150.3 L90.7,149.8 L94.0,152.9 M30.8,147.1 L28.5,144.0 L27.7,140.4 M50.1,141.8 L46.8,141.3 L46.2,138.9 L44.2,137.5 L39.9,136.6 M226.7,150.5 L227.5,148.8 L227.0,146.8 L229.2,145.0 L233.0,145.3 M226.0,150.0 L225.5,148.4 L227.2,146.8 L230.5,146.7 M238.6,143.6 L243.1,141.6 L246.5,138.6 M239.6,146.3 L239.2,142.7 L237.1,139.5 M112.1,144.4 L114.9,142.7 L114.5,140.7 M245.4,144.8 L249.5,146.6 L253.3,146.4 L255.7,144.9 M201.6,146.5 L202.5,143.9 L200.1,142.3 M138.0,144.4 L140.3,145.2 L143.3,144.7 L147.6,142.5 M225.2,145.2 L226.7,142.7 L231.6,142.5 L235.1,141.7 L236.6,138.4 M137.0,142.7 L138.7,140.8 L139.5,138.9 M200.9,148.8 L198.9,149.0 L196.7,150.7 L194.4,150.5 L190.1,148.6 M244.0,149.1 L246.5,149.3 L249.9,149.3 L252.5,151.6 M37.1,142.3 L34.7,141.8 L30.5,141.4 L29.6,139.1 M124.6,150.5 L126.5,148.6 L131.1,146.8 M26.7,145.9 L28.8,146.0 L30.4,144.2 L29.8,140.2 L29.2,136.1 M231.7,144.5 L235.6,146.9 L235.0,150.2 L231.3,151.3 M190.3,147.0 L190.3,149.3 L190.5,150.9 M41.4,145.5 L38.1,147.8 L34.7,147.7 L31.3,147.9 M99.0,148.8 L103.1,148.5 L104.9,147.0 L105.5,145.1 M123.2,141.6 L124.9,138.1 L122.5,134.7 L120.7,132.8 L117.7,131.1 M138.9,143.9 L143.2,145.9 L147.5,144.2 L149.6,143.1 L152.0,144.1 M78.7,142.7 L79.1,141.0 L83.7,140.0 L84.8,136.8 M134.4,146.4 L136.8,145.8 L139.9,146.8 L142.0,145.9 L143.8,143.7 M246.5,148.0 L246.0,144.4 L242.6,143.2 M148.5,148.2 L145.9,149.3 L143.5,152.1 L144.9,153.8 L145.6,156.3 M196.1,148.5 L193.7,149.1 L191.3,146.9 L190.7,144.3 L187.6,143.6 M149.3,141.9 L151.4,143.6 L155.5,142.8 L157.2,144.2 L159.6,144.5 M230.8,144.2 L227.4,145.9 L227.2,149.1 M128.7,148.6 L130.8,148.5 L134.7,148.3 L137.2,148.1 M153.1,148.2 L156.3,146.1 L158.3,145.4 M78.6,150.3 L80.1,151.5 L81.6,153.1 L84.0,154.8 M103.9,146.0 L107.9,143.9 L107.8,142.2 L105.4,140.9 L102.1,141.6 M100.4,148.3 L104.2,147.0 L105.3,144.0 M222.6,149.9 L227.8,150.0 L230.2,146.7 M188.9,144.0 L189.5,146.3 L193.7,147.0 L194.5,150.1 M101.0,144.3 L101.2,142.1 L104.4,141.3 L107.1,140.2 M185.3,150.8 L182.3,151.9 L177.4,150.8 M192.5,148.0 L194.2,145.9 L192.0,143.5 L190.4,142.5 L191.0,140.2 M234.0,141.2 L230.3,142.6 L228.3,143.5 M210.4,148.6 L208.4,150.8 L207.8,153.8 L205.0,157.0 L203.0,159.7 M64.4,147.8 L69.4,147.3 L72.2,148.6 M97.6,145.3 L96.7,143.1 L95.4,139.3 M201.7,143.1 L197.6,144.3 L195.5,145.3 L190.9,144.1 M184.5,143.2 L182.6,139.9 L183.6,137.3 L184.3,135.2 L187.7,132.5 M71.0,141.4 L69.6,139.3 L68.9,137.2 L71.4,134.0 L74.5,131.5 M39.7,143.3 L37.9,146.2 L33.4,147.5 M105.7,150.9 L103.1,150.1 L101.8,148.0 L103.1,146.3 L102.4,143.0 M57.9,141.8 L59.6,139.9 L64.2,138.6 L67.1,137.0 L67.9,134.8 M215.2,147.4 L210.1,147.2 L206.8,145.2 L204.6,144.9 L202.1,147.7 M156.4,150.9 L159.5,151.5 L162.5,148.6 M144.6,146.8 L144.7,144.1 L144.9,141.5 L145.7,139.0 L144.5,136.6 M56.3,149.2 L55.7,153.0 L55.5,155.1 L56.9,156.6 L56.8,159.0 M89.5,149.7 L87.0,148.1 L85.3,146.0 L84.9,144.0 M25.3,146.8 L27.2,144.9 L27.9,142.7 M51.6,142.0 L51.9,143.8 L54.0,147.2 L51.8,150.3 L48.9,152.3 M135.1,147.6 L132.6,144.5 L134.0,141.7 L135.4,139.4 M94.0,149.7 L96.6,146.7 L96.1,143.9 M81.7,146.8 L83.5,143.8 L82.7,140.7 M213.2,145.8 L212.8,142.1 L215.1,140.8 L219.0,142.2 M186.0,147.3 L181.6,147.2 L178.3,145.9 L176.3,144.6 M164.1,145.0 L166.7,146.0 L170.6,145.5 L172.2,141.7 M184.3,145.9 L179.6,145.2 L177.0,147.4 M241.1,150.6 L240.1,146.5 L242.0,144.7 L244.7,142.5 M120.9,149.2 L118.1,147.3 L115.4,145.1 L111.1,146.4 L108.9,147.3 M215.9,146.6 L213.0,144.0 L211.9,142.5 L213.8,139.5 L214.7,136.0 M38.6,149.6 L41.9,148.9 L42.5,145.9 L41.5,144.3 M28.3,142.5 L24.5,140.5 L21.0,141.5 M248.4,147.2 L249.5,143.6 L252.6,140.4 M246.1,147.0 L244.8,143.4 L243.2,140.7 M214.4,144.8 L216.4,147.3 L215.1,149.1 M64.2,147.6 L64.9,149.4 L66.6,151.3 M237.9,145.2 L241.9,145.4 L245.7,144.0 L246.3,142.3 M100.5,148.7 L103.7,151.8 L102.6,154.2 L99.5,156.6 M168.9,141.2 L166.9,140.4 L163.8,142.1 M40.0,149.5 L38.0,148.9 L36.8,145.1 L36.5,142.6 L36.8,140.9 M243.1,144.0 L245.7,147.0 L247.1,150.6 L251.8,152.0 L253.4,153.3 M54.6,147.4 L55.2,150.2 L56.1,154.2 L59.0,157.3 L59.4,160.3 M237.3,149.8 L241.1,147.3 L240.3,144.7 L235.7,142.8 L233.8,143.3 M108.7,149.3 L113.0,151.5 L112.9,154.7 L117.0,156.9 L119.1,155.9 M169.9,143.0 L167.9,141.8 L168.7,138.5 L171.8,135.7 L172.6,132.4 M141.0,145.3 L137.6,143.2 L135.2,142.5 L132.8,142.1 L130.5,141.8 M185.8,143.1 L186.9,140.3 L185.2,137.1 M136.9,144.9 L137.0,141.2 L137.8,139.0 L137.3,135.2 L134.0,134.1 M135.6,145.3 L139.9,146.4 L142.2,148.3 M130.8,145.2 L133.5,145.1 L135.4,144.2 L137.6,141.9 M191.9,146.1 L193.4,144.8 L193.0,141.5 L188.9,139.4 L187.0,140.2 M249.0,145.1 L247.0,145.3 L245.6,147.7 L245.5,150.2 L249.5,152.5 M201.8,143.6 L200.4,146.8 L200.3,149.9 L204.1,152.4 L202.7,156.1 M115.1,145.2 L112.7,144.6 L110.2,141.9 L108.1,138.8 M238.0,143.4 L238.8,139.9 L241.5,136.8 L239.9,133.6 M165.8,147.7 L164.6,151.2 L164.3,155.1 L166.4,157.5 M49.1,142.7 L45.2,144.8 L41.9,146.7 M172.7,147.8 L173.4,146.3 L171.2,142.9 L167.4,142.3 M103.7,147.7 L108.6,149.0 L113.7,149.2 M194.2,143.8 L192.6,145.8 L192.6,148.9 L194.3,149.8 L196.3,152.6 M241.3,145.4 L243.2,144.8 L245.2,146.2 L245.6,148.8 L247.1,149.9 M115.7,147.0 L118.0,148.1 L118.5,151.6 M124.8,142.7 L121.7,142.6 L118.9,142.5 M115.9,148.5 L112.2,151.1 L113.5,154.8 M125.2,141.4 L125.0,143.1 L123.0,144.0 L119.6,145.2 L116.3,147.0 M222.6,144.2 L226.7,141.7 L229.7,141.0 M124.0,146.7 L125.9,145.3 L127.8,142.3 M228.1,145.7 L231.8,143.8 L233.6,142.8 M130.7,145.2 L126.8,142.8 L124.8,142.0 L123.8,139.9 M183.7,145.9 L182.1,144.8 L179.5,143.7 M249.7,149.7 L248.4,152.1 L247.3,153.6 L244.9,154.0 L242.0,154.0 M104.7,145.7 L104.2,149.4 L102.9,150.6 M114.5,150.4 L117.9,149.7 L119.7,150.9 M149.9,147.2 L152.6,148.6 L153.6,150.3 L155.8,151.5" fill="none" stroke="#151515" stroke-width="1.4" stroke-linejoin="round" filter="url(#fBlur)"/></g>
<g clip-path="url(#cSide)"><path d="M257.1,108.7 l4.3,2.0 l-0.4,3.4z M290.5,97.3 l4.1,-2.4 l-2.8,3.3z M262.9,91.0 l3.0,1.1 l-1.2,2.4z M265.2,105.1 l3.9,2.9 l-1.7,3.1z M254.3,124.7 l3.6,1.6 l-2.4,2.9z M281.2,119.3 l3.3,3.3 l-2.6,2.7z M273.0,100.0 l3.1,-1.9 l-0.3,2.5z M290.1,104.3 l2.7,-0.6 l-0.4,2.1z M250.0,135.1 l3.9,-3.6 l-1.7,3.2z M257.8,139.7 l3.1,0.0 l-2.8,2.5z M251.7,144.5 l2.1,-0.7 l-0.0,1.7z M267.3,137.4 l3.8,-1.5 l-1.4,3.0z M256.3,113.3 l3.9,-0.6 l-0.5,3.1z M271.0,159.2 l3.3,0.8 l-1.0,2.6z M282.1,117.5 l2.0,-1.5 l-0.9,1.6z M271.2,133.9 l2.9,2.5 l-2.1,2.3z M271.4,143.3 l3.5,1.4 l-0.2,2.8z M273.4,142.3 l2.9,-1.5 l-1.2,2.3z M299.8,142.3 l3.3,-1.8 l-2.8,2.6z M282.1,108.5 l5.0,-0.3 l-0.8,4.0z M286.6,136.7 l2.2,-0.2 l-2.0,1.7z M273.4,95.8 l2.2,-1.9 l-0.7,1.8z M287.5,131.6 l4.7,-3.9 l-2.2,3.8z M246.6,100.9 l3.2,-0.2 l-2.7,2.6z M270.4,147.7 l3.3,-2.3 l-2.8,2.6z M255.0,152.3 l2.1,-0.9 l-1.3,1.7z M272.7,90.6 l3.0,2.8 l-2.6,2.4z M274.9,100.2 l2.3,-1.2 l-1.9,1.8z M288.7,96.5 l2.3,1.5 l-1.7,1.9z M264.9,140.4 l2.7,-1.3 l-2.1,2.1z M269.1,101.9 l2.3,0.9 l-1.6,1.9z M286.9,92.9 l2.7,-2.0 l-1.7,2.1z M252.7,107.5 l3.3,-2.9 l-1.3,2.6z M296.6,155.6 l2.7,0.4 l-1.2,2.2z M286.6,142.9 l4.1,-3.2 l-1.4,3.2z M298.3,91.3 l4.4,4.2 l-3.1,3.5z M261.6,127.8 l3.5,1.0 l-0.6,2.8z M288.7,156.7 l2.9,-0.4 l-2.6,2.3z M256.4,118.7 l3.9,-1.5 l-3.6,3.1z M272.9,114.2 l4.9,-1.7 l-3.4,3.9z" fill="#808080" filter="url(#fBlur)"/></g>
<g clip-path="url(#cSide)"><path d="M265.4,109.4 L260.7,111.6 L254.9,113.6 L251.1,110.8 L247.1,110.2 M248.6,116.8 L254.1,114.1 L259.3,111.1 L263.5,113.2 M259.7,99.3 L253.7,99.8 L250.1,101.7 L247.0,100.2 L242.9,97.7 M263.4,133.9 L258.4,135.4 L253.2,136.2 L250.4,137.3 L247.6,139.4 M245.8,144.1 L243.6,145.3 L239.3,146.9 L234.2,148.4 M269.6,119.3 L268.8,122.3 L268.6,126.8 M270.4,140.6 L274.0,139.4 L280.1,137.9 L282.6,135.1 L288.4,135.8 M281.1,126.2 L283.8,124.4 L287.3,124.3 L290.5,125.6 L294.8,128.5 M246.8,149.3 L241.3,150.7 L239.1,153.9 M267.6,100.8 L269.4,96.6 L272.5,94.6 L275.2,93.5 M278.5,135.2 L280.2,136.8 L281.9,138.9 L284.3,141.9 L287.5,142.8 M292.4,95.6 L295.6,94.6 L300.1,97.9 L305.3,100.6 L304.6,103.6 M255.5,105.8 L253.3,107.0 L249.1,107.3 M256.7,160.0 L254.1,161.7 L255.5,166.3 L257.5,168.8 M296.4,115.0 L292.3,118.2 L288.9,119.1 M267.9,156.3 L272.8,157.6 L276.4,158.9 M284.2,104.1 L279.5,105.6 L277.6,109.4 L279.4,112.8 M295.7,92.3 L293.8,89.5 L292.5,86.5 L290.0,84.9 M286.9,119.6 L289.8,121.1 L290.5,124.6 M251.9,101.6 L254.2,98.8 L255.4,96.7 L254.6,91.9 L250.8,88.1 M290.8,155.2 L296.3,155.7 L300.4,154.2 L305.4,152.4 M250.7,118.4 L248.1,114.4 L249.8,111.3 L247.7,107.9 M261.2,95.7 L259.1,92.6 L258.5,89.3 L254.0,87.8 L249.5,84.2 M297.5,90.9 L296.6,88.9 L292.7,87.8 M253.1,127.9 L249.3,127.6 L246.5,125.3 L241.7,125.7 L237.6,125.3 M259.4,110.2 L260.2,106.0 L264.8,102.8 L269.7,99.7 L271.2,98.0 M268.4,127.5 L269.1,124.1 L271.3,120.3 M255.1,111.9 L252.1,113.2 L249.8,111.9 L245.1,112.9 L240.3,112.2 M295.8,102.7 L298.6,106.1 L300.9,110.7 L304.1,113.6 L306.0,116.4 M295.3,123.8 L292.1,127.2 L288.6,128.6 M251.5,131.5 L254.2,135.3 L258.0,135.6 L262.1,134.2 L267.2,134.5 M271.1,93.0 L269.1,88.4 L264.3,87.7 L262.9,83.5 M295.3,113.7 L299.1,110.4 L302.4,110.9 M266.5,144.2 L263.0,144.0 L258.2,144.9 L255.9,146.7 M291.3,93.3 L291.5,95.7 L287.2,99.4 L283.7,98.6 M296.5,120.1 L291.3,120.4 L288.9,121.7 L288.0,124.4 M255.6,129.7 L249.7,130.5 L244.0,130.8 M278.7,152.8 L283.1,152.8 L287.6,153.9 L293.0,152.1 M298.5,147.4 L301.9,144.9 L305.2,141.2 L304.6,138.5 M269.8,127.7 L275.5,125.5 L280.7,126.5 L282.7,128.6 M296.3,107.5 L294.5,102.6 L294.1,99.5 L295.4,95.3 M282.4,137.3 L280.0,139.8 L278.2,141.5 L279.7,144.3 L281.9,145.6 M274.3,144.5 L271.8,144.2 L266.6,143.7 L262.2,142.0 L257.6,144.0 M252.3,93.0 L257.1,93.0 L260.4,89.5 L263.0,86.1 L265.0,81.8 M282.4,96.8 L278.9,98.5 L275.3,97.3 L272.3,94.8 M286.5,136.6 L285.1,139.4 L282.4,141.2 L278.4,144.2 M257.4,111.9 L252.0,109.7 L248.8,111.1 L244.4,109.4 L241.7,109.0 M248.1,103.9 L247.6,100.0 L248.2,97.1 M246.4,130.8 L244.6,133.1 L246.1,135.7 L246.6,139.4 L250.6,140.9 M265.0,160.8 L265.0,155.9 L263.4,152.1 L264.8,149.6 L268.5,149.4 M280.5,155.7 L284.4,157.4 L286.6,158.9 M281.2,139.8 L284.4,140.3 L287.0,137.3 M246.2,93.2 L246.9,89.6 L251.8,88.0 M269.5,107.0 L270.9,110.7 L273.3,113.1 L277.4,113.8 L279.4,111.6 M259.4,100.2 L260.2,104.4 L263.5,105.6 L267.8,106.3 M246.4,155.3 L243.5,156.7 L237.8,157.7 L233.5,156.1 M273.1,136.5 L274.1,139.7 L276.3,141.1 M292.6,136.7 L288.2,140.4 L289.4,142.6 L288.7,147.0 M251.2,110.8 L252.2,107.8 L258.3,106.6 M299.7,154.3 L294.0,154.6 L292.0,157.0 L287.5,157.5 L283.4,153.5 M256.9,144.7 L257.9,149.8 L255.3,152.7 L250.4,154.3 L246.4,156.0 M252.0,105.7 L248.3,105.9 L245.6,108.5 L243.5,109.9 M254.9,125.9 L253.2,128.2 L250.9,131.7 M245.6,105.8 L245.8,102.9 L241.9,99.1 L239.3,98.7 L235.6,98.7 M273.4,97.2 L268.1,94.4 L262.7,96.9 L258.2,99.5 M285.5,95.2 L284.0,92.4 L280.3,90.7 M285.7,137.8 L282.7,138.6 L278.1,137.0 L275.7,133.6 M299.2,138.7 L295.7,134.9 L290.2,134.6 L287.4,134.3 L283.1,135.8 M266.9,145.2 L272.1,143.7 L275.0,142.0 M247.5,145.0 L246.2,148.5 L243.7,149.0 L242.4,151.8 M292.9,115.4 L293.5,119.2 L289.7,121.3 M264.5,154.1 L260.4,154.6 L257.6,158.7 L252.5,159.0 M299.9,134.3 L303.4,132.5 L305.6,130.6 L305.9,126.4 M262.2,95.6 L261.1,98.8 L258.6,102.4 L257.3,105.3 M293.3,104.2 L290.7,100.8 L286.3,100.5 L282.6,103.1 M263.9,136.6 L262.9,132.7 L260.9,128.0 L257.7,125.0 M277.6,117.8 L272.6,118.9 L269.5,121.0 L265.1,121.5 M269.0,129.1 L273.3,130.8 L277.7,128.8 L283.4,126.3 M271.2,132.9 L268.8,129.1 L271.6,126.1 M264.8,122.0 L261.1,125.7 L260.5,129.5" fill="none" stroke="#181818" stroke-width="1.1" stroke-linejoin="round" filter="url(#fBlur)"/></g>
<polyline points="19,140 248,140 299,88" fill="none" stroke="#111" stroke-width="1.2"/>
<polygon points="69,88 299,88 299,106 248,160.5 19,160.5 19,140" fill="none" stroke="#222" stroke-width="0.8"/>
<path d="M80,103.5 Q141.5,86.5 237,106.5" fill="none" stroke="#1c2a48" stroke-width="5.5" stroke-opacity="0.38"/>
<path d="M80,103.5 Q141.5,86.5 237,106.5" fill="none" stroke="#3aaed8" stroke-width="1.5" stroke-dasharray="3.6 2.4"/>
<path d="M80,109 Q141.5,94 237,113" fill="none" stroke="#1c2a48" stroke-width="5.5" stroke-opacity="0.38"/>
<path d="M80,109 Q141.5,94 237,113" fill="none" stroke="#3aaed8" stroke-width="1.5" stroke-dasharray="3.6 2.4"/>
<path d="M80,115.5 Q141.5,101 237,119" fill="none" stroke="#1c2a48" stroke-width="5.5" stroke-opacity="0.38"/>
<path d="M80,115.5 Q141.5,101 237,119" fill="none" stroke="#3aaed8" stroke-width="1.5" stroke-dasharray="3.6 2.4"/>
<path d="M80,121.5 Q141.5,107 237,125" fill="none" stroke="#1c2a48" stroke-width="5.5" stroke-opacity="0.38"/>
<path d="M80,121.5 Q141.5,107 237,125" fill="none" stroke="#3aaed8" stroke-width="1.5" stroke-dasharray="3.6 2.4"/>
<path d="M80,128 Q141.5,112 237,130.5" fill="none" stroke="#1c2a48" stroke-width="5.5" stroke-opacity="0.38"/>
<path d="M80,128 Q141.5,112 237,130.5" fill="none" stroke="#3aaed8" stroke-width="1.5" stroke-dasharray="3.6 2.4"/>
<path d="M262,122 L296,112" stroke="#c3304e" stroke-width="1.3" stroke-dasharray="3 2" fill="none"/>
<path d="M264,125 L296,114" stroke="#c3304e" stroke-width="1.3" stroke-dasharray="3 2" fill="none"/>
<path d="M266,128 L296,116" stroke="#c3304e" stroke-width="1.3" stroke-dasharray="3 2" fill="none"/>
<line x1="71" y1="90" x2="25" y2="137.2" stroke="#1a1a1a" stroke-width="6.6"/>
<line x1="71" y1="90" x2="25" y2="137.2" stroke="#f2e61e" stroke-width="4.8"/>
<line x1="294.5" y1="90" x2="246.5" y2="137.5" stroke="#1a1a1a" stroke-width="6.6"/>
<line x1="294.5" y1="90" x2="246.5" y2="137.5" stroke="#f2e61e" stroke-width="4.8"/>
<circle cx="74.9" cy="99.9" r="4.6" fill="#6c6c66" stroke="#e08545" stroke-width="1.2"/>
<line x1="72.9" y1="99.9" x2="76.9" y2="99.9" stroke="#d6e46a" stroke-width="1.5"/>
<circle cx="67.6" cy="106.7" r="4.6" fill="#6c6c66" stroke="#e08545" stroke-width="1.2"/>
<line x1="65.6" y1="106.7" x2="69.6" y2="106.7" stroke="#d6e46a" stroke-width="1.5"/>
<circle cx="80.0" cy="110.2" r="4.6" fill="#6c6c66" stroke="#e08545" stroke-width="1.2"/>
<line x1="78.0" y1="110.2" x2="82.0" y2="110.2" stroke="#d6e46a" stroke-width="1.5"/>
<circle cx="63.3" cy="115.0" r="4.6" fill="#6c6c66" stroke="#e08545" stroke-width="1.2"/>
<line x1="61.3" y1="115.0" x2="65.3" y2="115.0" stroke="#d6e46a" stroke-width="1.5"/>
<circle cx="75.2" cy="120.5" r="4.6" fill="#6c6c66" stroke="#e08545" stroke-width="1.2"/>
<line x1="73.2" y1="120.5" x2="77.2" y2="120.5" stroke="#d6e46a" stroke-width="1.5"/>
<circle cx="54.6" cy="119.4" r="4.6" fill="#6c6c66" stroke="#e08545" stroke-width="1.2"/>
<line x1="52.6" y1="119.4" x2="56.6" y2="119.4" stroke="#d6e46a" stroke-width="1.5"/>
<circle cx="47.1" cy="128.5" r="4.6" fill="#6c6c66" stroke="#e08545" stroke-width="1.2"/>
<line x1="45.1" y1="128.5" x2="49.1" y2="128.5" stroke="#d6e46a" stroke-width="1.5"/>
<circle cx="62.5" cy="129.0" r="4.6" fill="#6c6c66" stroke="#e08545" stroke-width="1.2"/>
<line x1="60.5" y1="129.0" x2="64.5" y2="129.0" stroke="#d6e46a" stroke-width="1.5"/>
<circle cx="274.0" cy="96.4" r="4.7" fill="#6c6c66" stroke="#e08545" stroke-width="1.2"/>
<line x1="271.6" y1="96.4" x2="276.4" y2="96.4" stroke="#d6e46a" stroke-width="1.3"/>
<line x1="274.0" y1="94.0" x2="274.0" y2="98.8" stroke="#d6e46a" stroke-width="1.3"/>
<circle cx="251.8" cy="101.0" r="4.7" fill="#6c6c66" stroke="#e08545" stroke-width="1.2"/>
<line x1="249.4" y1="101.0" x2="254.2" y2="101.0" stroke="#d6e46a" stroke-width="1.3"/>
<line x1="251.8" y1="98.6" x2="251.8" y2="103.4" stroke="#d6e46a" stroke-width="1.3"/>
<circle cx="264.9" cy="104.8" r="4.7" fill="#6c6c66" stroke="#e08545" stroke-width="1.2"/>
<line x1="262.5" y1="104.8" x2="267.3" y2="104.8" stroke="#d6e46a" stroke-width="1.3"/>
<line x1="264.9" y1="102.4" x2="264.9" y2="107.2" stroke="#d6e46a" stroke-width="1.3"/>
<circle cx="242.6" cy="109.8" r="4.7" fill="#6c6c66" stroke="#e08545" stroke-width="1.2"/>
<line x1="240.2" y1="109.8" x2="245.0" y2="109.8" stroke="#d6e46a" stroke-width="1.3"/>
<line x1="242.6" y1="107.4" x2="242.6" y2="112.2" stroke="#d6e46a" stroke-width="1.3"/>
<circle cx="256.0" cy="112.7" r="4.7" fill="#6c6c66" stroke="#e08545" stroke-width="1.2"/>
<line x1="253.6" y1="112.7" x2="258.4" y2="112.7" stroke="#d6e46a" stroke-width="1.3"/>
<line x1="256.0" y1="110.3" x2="256.0" y2="115.1" stroke="#d6e46a" stroke-width="1.3"/>
<circle cx="235.9" cy="121.1" r="4.7" fill="#6c6c66" stroke="#e08545" stroke-width="1.2"/>
<line x1="233.5" y1="121.1" x2="238.3" y2="121.1" stroke="#d6e46a" stroke-width="1.3"/>
<line x1="235.9" y1="118.7" x2="235.9" y2="123.5" stroke="#d6e46a" stroke-width="1.3"/>
<circle cx="246.8" cy="121.6" r="4.7" fill="#6c6c66" stroke="#e08545" stroke-width="1.2"/>
<line x1="244.4" y1="121.6" x2="249.2" y2="121.6" stroke="#d6e46a" stroke-width="1.3"/>
<line x1="246.8" y1="119.2" x2="246.8" y2="124.0" stroke="#d6e46a" stroke-width="1.3"/>
<circle cx="240.4" cy="130.7" r="4.7" fill="#6c6c66" stroke="#e08545" stroke-width="1.2"/>
<line x1="238.0" y1="130.7" x2="242.8" y2="130.7" stroke="#d6e46a" stroke-width="1.3"/>
<line x1="240.4" y1="128.3" x2="240.4" y2="133.1" stroke="#d6e46a" stroke-width="1.3"/>
<text x="68.9" y="155.6" font-family="'Liberation Sans', Arial, sans-serif" font-size="12.8" fill="#ffffff" stroke="#ffffff" stroke-width="0.25" textLength="124.7" lengthAdjust="spacingAndGlyphs">Nanocomposite Film Sensor</text>
<g>
<line x1="398.5" y1="27" x2="398.5" y2="50" stroke="#555" stroke-width="0.9"/>
<path d="M396.6,29.5 L398.5,24.5 L400.4,29.5 Z" fill="#111"/>
<text x="389" y="31.5" font-family="'Liberation Serif', 'Times New Roman', serif" font-style="italic" font-size="11" fill="#222" stroke="#222" stroke-width="0.15">z</text>
<line x1="398.7" y1="58" x2="398.7" y2="114" stroke="#c8c8c8" stroke-width="2"/>
<line x1="494.8" y1="59" x2="494.8" y2="112" stroke="#9a9a9a" stroke-width="0.8" stroke-dasharray="1 1.2"/>
<line x1="399" y1="100.5" x2="495" y2="100.5" stroke="#8a8a8a" stroke-width="0.6" stroke-dasharray="1 1.2"/>
<path d="M408.8,58.8 C408.6,60.7 408.2,65.6 407.5,70.0 C406.8,74.4 405.5,80.0 404.5,85.0 C403.5,90.0 402.2,95.6 401.5,100.0 C400.8,104.4 400.2,109.6 400.0,111.5" fill="none" stroke="#2a2a2a" stroke-width="0.6"/>
<path d="M418.8,58.8 C418.6,60.3 418.7,64.1 417.5,68.0 C416.3,71.9 413.6,77.3 411.5,82.0 C409.4,86.7 406.9,91.1 405.0,96.0 C403.1,100.9 401.1,108.9 400.3,111.5" fill="none" stroke="#2a2a2a" stroke-width="0.6"/>
<path d="M432.7,58.8 C432.5,60.0 432.9,63.1 431.5,66.0 C430.1,68.9 427.1,72.3 424.0,76.0 C420.9,79.7 416.3,83.7 413.0,88.0 C409.7,92.3 406.1,98.1 404.0,102.0 C401.9,105.9 400.8,109.9 400.2,111.5" fill="none" stroke="#2a2a2a" stroke-width="0.6"/>
<path d="M446.6,58.8 C446.4,60.0 447.3,63.3 445.5,66.0 C443.7,68.7 439.9,72.0 436.0,75.0 C432.1,78.0 426.3,80.7 422.0,84.0 C417.7,87.3 413.4,91.0 410.0,95.0 C406.6,99.0 403.2,105.2 401.5,108.0 C399.8,110.8 400.2,110.9 400.0,111.5" fill="none" stroke="#2a2a2a" stroke-width="0.6"/>
<path d="M460.5,58.8 C460.3,60.0 461.2,63.5 459.5,66.0 C457.8,68.5 454.2,71.5 450.0,74.0 C445.8,76.5 439.3,78.3 434.0,81.0 C428.7,83.7 422.7,86.7 418.0,90.0 C413.3,93.3 409.0,97.4 406.0,101.0 C403.0,104.6 401.0,109.8 400.0,111.5" fill="none" stroke="#2a2a2a" stroke-width="0.6"/>
<line x1="399.8" y1="111.8" x2="428.6" y2="103.5" stroke="#4a4a4a" stroke-width="0.45"/>
<line x1="399.8" y1="111.8" x2="428.3" y2="98.5" stroke="#4a4a4a" stroke-width="0.45"/>
<line x1="399.8" y1="111.8" x2="427.2" y2="93.3" stroke="#4a4a4a" stroke-width="0.45"/>
<line x1="399.8" y1="111.8" x2="425.0" y2="88.3" stroke="#4a4a4a" stroke-width="0.45"/>
<line x1="399.8" y1="111.8" x2="422.0" y2="83.4" stroke="#4a4a4a" stroke-width="0.45"/>
<line x1="399.8" y1="111.8" x2="418.0" y2="79.0" stroke="#4a4a4a" stroke-width="0.45"/>
<line x1="399.8" y1="111.8" x2="413.1" y2="75.2" stroke="#4a4a4a" stroke-width="0.45"/>
<path d="M399.8,111.8 C415,76.6 479.5,76.6 494.7,111.8" fill="none" stroke="#222" stroke-width="0.6"/>
<path d="M399.8,111.8 C415,86.4 479.5,86.4 494.7,111.8" fill="none" stroke="#222" stroke-width="0.6"/>
<path d="M399.8,111.8 C415,96.4 479.5,96.4 494.7,111.8" fill="none" stroke="#222" stroke-width="0.6"/>
<path d="M399.8,111.8 C415,104.1 479.5,104.1 494.7,111.8" fill="none" stroke="#222" stroke-width="0.6"/>
<path d="M399.8,111.8 C415,108.9 479.5,108.9 494.7,111.8" fill="none" stroke="#222" stroke-width="0.6"/>
<path d="M-1.7,-1.3 L1.6,0 L-1.7,1.3 Z" fill="#111" transform="translate(452,85.4) rotate(0)"/>
<path d="M-1.7,-1.3 L1.6,0 L-1.7,1.3 Z" fill="#111" transform="translate(410.6,81.5) rotate(115)"/>
<path d="M-1.7,-1.3 L1.6,0 L-1.7,1.3 Z" fill="#111" transform="translate(421,80.2) rotate(150)"/>
<path d="M-1.7,-1.3 L1.6,0 L-1.7,1.3 Z" fill="#111" transform="translate(427.4,79.5) rotate(160)"/>
<rect x="398.3" y="49.7" width="98.3" height="9" fill="#ed7d31" stroke="#c45f1a" stroke-width="0.6"/>
<line x1="469" y1="47.2" x2="469" y2="49.7" stroke="#555" stroke-width="0.6"/>
<text x="436.8" y="43" font-family="'Liberation Serif', 'Times New Roman', serif" font-size="12.5" fill="#222" stroke="#222" stroke-width="0.1" textLength="22.5" lengthAdjust="spacingAndGlyphs"><tspan font-style="italic">V</tspan>=0</text>
<rect x="398.6" y="113.6" width="97.1" height="7.9" fill="#4472c4" stroke="#2f5597" stroke-width="0.5"/>
<line x1="399" y1="111.8" x2="502" y2="111.8" stroke="#222" stroke-width="0.7"/>
<path d="M500,109.9 L505,111.8 L500,113.7 Z" fill="#111"/>
<circle cx="399.9" cy="111.8" r="2" fill="#111"/>
<circle cx="494.6" cy="111.5" r="2" fill="#111"/>
<text x="505" y="124.5" font-family="'Liberation Serif', 'Times New Roman', serif" font-style="italic" font-size="11.5" fill="#222" stroke="#222" stroke-width="0.15">x</text>
<text x="446" y="130.3" font-family="'Liberation Serif', 'Times New Roman', serif" font-style="italic" font-size="11" fill="#222" stroke="#222" stroke-width="0.15">l</text>
<text x="419.5" y="144.5" font-family="'Liberation Serif', 'Times New Roman', serif" font-size="12.8" fill="#222" stroke="#222" stroke-width="0.12" textLength="60" lengthAdjust="spacingAndGlyphs"><tspan font-style="italic">V</tspan> = <tspan font-style="italic">V</tspan><tspan font-size="8" dy="2">0</tspan><tspan dy="-2">(</tspan><tspan font-style="italic">x</tspan>, <tspan font-style="italic">t</tspan>)</text>
<line x1="398.7" y1="71.8" x2="398.7" y2="93.5" stroke="#d42a2a" stroke-width="1.4"/>
<line x1="391" y1="81.8" x2="407" y2="81.8" stroke="#d42a2a" stroke-width="1.4"/>
<line x1="391" y1="84.8" x2="407" y2="84.8" stroke="#d42a2a" stroke-width="1.4"/>
<text x="384.3" y="78" font-family="'Liberation Serif', 'Times New Roman', serif" font-style="italic" font-size="11" fill="#d42a2a" stroke="#d42a2a" stroke-width="0.25">C<tspan font-size="7" dy="1.6">m</tspan></text>
<line x1="449.3" y1="92" x2="449.3" y2="108" stroke="#d42a2a" stroke-width="1.4"/>
<line x1="452.5" y1="92" x2="452.5" y2="108" stroke="#d42a2a" stroke-width="1.4"/>
<line x1="439.8" y1="99.9" x2="449.3" y2="99.9" stroke="#d42a2a" stroke-width="1.4"/>
<line x1="452.5" y1="99.9" x2="460.5" y2="99.9" stroke="#d42a2a" stroke-width="1.4"/>
<text x="433.6" y="93.2" font-family="'Liberation Serif', 'Times New Roman', serif" font-style="italic" font-size="11" fill="#d42a2a" stroke="#d42a2a" stroke-width="0.25">C<tspan font-size="7" dy="1.6">s</tspan></text>
<text x="349.2" y="78.9" font-family="'Liberation Serif', 'Times New Roman', serif" font-style="italic" font-size="11" fill="#222" stroke="#222" stroke-width="0.12" textLength="12.6" lengthAdjust="spacingAndGlyphs">∂V</text>
<line x1="349.2" y1="83.5" x2="361.8" y2="83.5" stroke="#222" stroke-width="0.9"/>
<text x="349.5" y="93.3" font-family="'Liberation Serif', 'Times New Roman', serif" font-style="italic" font-size="11" fill="#222" stroke="#222" stroke-width="0.12" textLength="12" lengthAdjust="spacingAndGlyphs">∂x</text>
<text x="365.2" y="86.9" font-family="'Liberation Serif', 'Times New Roman', serif" font-size="12" fill="#222" stroke="#222" stroke-width="0.1" textLength="16" lengthAdjust="spacingAndGlyphs">= 0</text>
<text x="502" y="80.10000000000001" font-family="'Liberation Serif', 'Times New Roman', serif" font-style="italic" font-size="11" fill="#222" stroke="#222" stroke-width="0.12" textLength="12.6" lengthAdjust="spacingAndGlyphs">∂V</text>
<line x1="502" y1="84.7" x2="514.6" y2="84.7" stroke="#222" stroke-width="0.9"/>
<text x="502.3" y="94.5" font-family="'Liberation Serif', 'Times New Roman', serif" font-style="italic" font-size="11" fill="#222" stroke="#222" stroke-width="0.12" textLength="12" lengthAdjust="spacingAndGlyphs">∂x</text>
<text x="518" y="88.10000000000001" font-family="'Liberation Serif', 'Times New Roman', serif" font-size="12" fill="#222" stroke="#222" stroke-width="0.1" textLength="16" lengthAdjust="spacingAndGlyphs">= 0</text>
<text x="487" y="86.2" font-family="'Liberation Serif', 'Times New Roman', serif" font-style="italic" font-size="11.5" fill="#222" stroke="#222" stroke-width="0.15">d</text>
</g>
<defs><clipPath id="cCont"><rect x="37.3" y="182.8" width="67.2" height="121"/></clipPath></defs>
<g clip-path="url(#cCont)">
<rect x="37.3" y="182.8" width="67.2" height="121.0" fill="#3b2fa2"/>
<path d="M37,213.8 C60,213.5 85,213.5 105,213.2 L105,305 L37,305 Z" fill="#4543d6" stroke="#2a2a60" stroke-width="0.4"/>
<path d="M37,242.3 C60,242.5 85,244.5 105,250.5 L105,305 L37,305 Z" fill="#3b5be6" stroke="#22224a" stroke-width="0.5"/>
<path d="M37,265.5 C62,265.5 82,282 83.5,305 L37,305 Z" fill="#2f82de" stroke="#1a1a30" stroke-width="0.6"/>
<path d="M37,282.5 C52,282.5 62,292 62.5,305 L37,305 Z" fill="#1ea3cc" stroke="#1a1a30" stroke-width="0.6"/>
<path d="M37,291.5 C44,291.5 47,297 47,305 L37,305 Z" fill="#3fbf95" stroke="#1a1a30" stroke-width="0.5"/>
<path d="M37,298 C40,298 41.5,300.5 41.5,305 L37,305 Z" fill="#a5c45a"/>
<path d="M101,305 C101,300 103,297 105,297 L105,305 Z" fill="#3563d8" stroke="#22224a" stroke-width="0.4"/>
<path d="M38.5,244.0 h1.6 M41.5,244.0 h1.6 M44.6,244.0 h1.6 M47.6,244.0 h1.6 M50.7,244.0 h1.6 M53.8,244.0 h1.6 M56.8,244.0 h1.6 M59.8,244.0 h1.6 M62.9,244.0 h1.6 M66.0,244.0 h1.6 M69.0,244.0 h1.6 M72.0,244.0 h1.6 M75.1,244.0 h1.6 M78.2,244.0 h1.6 M81.2,244.0 h1.6 M84.2,244.0 h1.6 M87.3,244.0 h1.6 M90.3,244.0 h1.6 M93.4,244.0 h1.6 M96.4,244.0 h1.6 M99.5,244.0 h1.6 M102.5,244.0 h1.6 M38.5,247.8 h1.6 M41.5,247.8 h1.6 M44.6,247.8 h1.6 M47.6,247.8 h1.6 M50.7,247.8 h1.6 M53.8,247.8 h1.6 M56.8,247.8 h1.6 M59.8,247.8 h1.6 M62.9,247.8 h1.6 M66.0,247.8 h1.6 M69.0,247.8 h1.6 M72.0,247.8 h1.6 M75.1,247.8 h1.6 M78.2,247.8 h1.6 M81.2,247.8 h1.6 M84.2,247.8 h1.6 M87.3,247.8 h1.6 M90.3,247.8 h1.6 M93.4,247.8 h1.6 M96.4,247.8 h1.6 M99.5,247.8 h1.6 M102.5,247.8 h1.6 M38.5,251.6 h1.6 M41.5,251.6 h1.6 M44.6,251.6 h1.6 M47.6,251.6 h1.6 M50.7,251.6 h1.6 M53.8,251.6 h1.6 M56.8,251.6 h1.6 M59.8,251.6 h1.6 M62.9,251.6 h1.6 M66.0,251.6 h1.6 M69.0,251.6 h1.6 M72.0,251.6 h1.6 M75.1,251.6 h1.6 M78.2,251.6 h1.6 M81.2,251.6 h1.6 M84.2,251.6 h1.6 M87.3,251.6 h1.6 M90.3,251.6 h1.6 M93.4,251.6 h1.6 M96.4,251.6 h1.6 M99.5,251.6 h1.6 M102.5,251.6 h1.6 M38.5,255.4 h1.6 M41.5,255.4 h1.6 M44.6,255.4 h1.6 M47.6,255.4 h1.6 M50.7,255.4 h1.6 M53.8,255.4 h1.6 M56.8,255.4 h1.6 M59.8,255.4 h1.6 M62.9,255.4 h1.6 M66.0,255.4 h1.6 M69.0,255.4 h1.6 M72.0,255.4 h1.6 M75.1,255.4 h1.6 M78.2,255.4 h1.6 M81.2,255.4 h1.6 M84.2,255.4 h1.6 M87.3,255.4 h1.6 M90.3,255.4 h1.6 M93.4,255.4 h1.6 M96.4,255.4 h1.6 M99.5,255.4 h1.6 M102.5,255.4 h1.6 M38.5,259.2 h1.6 M41.5,259.2 h1.6 M44.6,259.2 h1.6 M47.6,259.2 h1.6 M50.7,259.2 h1.6 M53.8,259.2 h1.6 M56.8,259.2 h1.6 M59.8,259.2 h1.6 M62.9,259.2 h1.6 M66.0,259.2 h1.6 M69.0,259.2 h1.6 M72.0,259.2 h1.6 M75.1,259.2 h1.6 M78.2,259.2 h1.6 M81.2,259.2 h1.6 M84.2,259.2 h1.6 M87.3,259.2 h1.6 M90.3,259.2 h1.6 M93.4,259.2 h1.6 M96.4,259.2 h1.6 M99.5,259.2 h1.6 M102.5,259.2 h1.6 M38.5,263.0 h1.6 M41.5,263.0 h1.6 M44.6,263.0 h1.6 M47.6,263.0 h1.6 M50.7,263.0 h1.6 M53.8,263.0 h1.6 M56.8,263.0 h1.6 M59.8,263.0 h1.6 M62.9,263.0 h1.6 M66.0,263.0 h1.6 M69.0,263.0 h1.6 M72.0,263.0 h1.6 M75.1,263.0 h1.6 M78.2,263.0 h1.6 M81.2,263.0 h1.6 M84.2,263.0 h1.6 M87.3,263.0 h1.6 M90.3,263.0 h1.6 M93.4,263.0 h1.6 M96.4,263.0 h1.6 M99.5,263.0 h1.6 M102.5,263.0 h1.6 M38.5,266.8 h1.6 M41.5,266.8 h1.6 M44.6,266.8 h1.6 M47.6,266.8 h1.6 M50.7,266.8 h1.6 M53.8,266.8 h1.6 M56.8,266.8 h1.6 M59.8,266.8 h1.6 M62.9,266.8 h1.6 M66.0,266.8 h1.6 M69.0,266.8 h1.6 M72.0,266.8 h1.6 M75.1,266.8 h1.6 M78.2,266.8 h1.6 M81.2,266.8 h1.6 M84.2,266.8 h1.6 M87.3,266.8 h1.6 M90.3,266.8 h1.6 M93.4,266.8 h1.6 M96.4,266.8 h1.6 M99.5,266.8 h1.6 M102.5,266.8 h1.6 M38.5,270.6 h1.6 M41.5,270.6 h1.6 M44.6,270.6 h1.6 M47.6,270.6 h1.6 M50.7,270.6 h1.6 M53.8,270.6 h1.6 M56.8,270.6 h1.6 M59.8,270.6 h1.6 M62.9,270.6 h1.6 M66.0,270.6 h1.6 M69.0,270.6 h1.6 M72.0,270.6 h1.6 M75.1,270.6 h1.6 M78.2,270.6 h1.6 M81.2,270.6 h1.6 M84.2,270.6 h1.6 M87.3,270.6 h1.6 M90.3,270.6 h1.6 M93.4,270.6 h1.6 M96.4,270.6 h1.6 M99.5,270.6 h1.6 M102.5,270.6 h1.6 M38.5,274.4 h1.6 M41.5,274.4 h1.6 M44.6,274.4 h1.6 M47.6,274.4 h1.6 M50.7,274.4 h1.6 M53.8,274.4 h1.6 M56.8,274.4 h1.6 M59.8,274.4 h1.6 M62.9,274.4 h1.6 M66.0,274.4 h1.6 M69.0,274.4 h1.6 M72.0,274.4 h1.6 M75.1,274.4 h1.6 M78.2,274.4 h1.6 M81.2,274.4 h1.6 M84.2,274.4 h1.6 M87.3,274.4 h1.6 M90.3,274.4 h1.6 M93.4,274.4 h1.6 M96.4,274.4 h1.6 M99.5,274.4 h1.6 M102.5,274.4 h1.6 M38.5,278.2 h1.6 M41.5,278.2 h1.6 M44.6,278.2 h1.6 M47.6,278.2 h1.6 M50.7,278.2 h1.6 M53.8,278.2 h1.6 M56.8,278.2 h1.6 M59.8,278.2 h1.6 M62.9,278.2 h1.6 M66.0,278.2 h1.6 M69.0,278.2 h1.6 M72.0,278.2 h1.6 M75.1,278.2 h1.6 M78.2,278.2 h1.6 M81.2,278.2 h1.6 M84.2,278.2 h1.6 M87.3,278.2 h1.6 M90.3,278.2 h1.6 M93.4,278.2 h1.6 M96.4,278.2 h1.6 M99.5,278.2 h1.6 M102.5,278.2 h1.6 M38.5,282.0 h1.6 M41.5,282.0 h1.6 M44.6,282.0 h1.6 M47.6,282.0 h1.6 M50.7,282.0 h1.6 M53.8,282.0 h1.6 M56.8,282.0 h1.6 M59.8,282.0 h1.6 M62.9,282.0 h1.6 M66.0,282.0 h1.6 M69.0,282.0 h1.6 M72.0,282.0 h1.6 M75.1,282.0 h1.6 M78.2,282.0 h1.6 M81.2,282.0 h1.6 M84.2,282.0 h1.6 M87.3,282.0 h1.6 M90.3,282.0 h1.6 M93.4,282.0 h1.6 M96.4,282.0 h1.6 M99.5,282.0 h1.6 M102.5,282.0 h1.6 M38.5,285.8 h1.6 M41.5,285.8 h1.6 M44.6,285.8 h1.6 M47.6,285.8 h1.6 M50.7,285.8 h1.6 M53.8,285.8 h1.6 M56.8,285.8 h1.6 M59.8,285.8 h1.6 M62.9,285.8 h1.6 M66.0,285.8 h1.6 M69.0,285.8 h1.6 M72.0,285.8 h1.6 M75.1,285.8 h1.6 M78.2,285.8 h1.6 M81.2,285.8 h1.6 M84.2,285.8 h1.6 M87.3,285.8 h1.6 M90.3,285.8 h1.6 M93.4,285.8 h1.6 M96.4,285.8 h1.6 M99.5,285.8 h1.6 M102.5,285.8 h1.6 M38.5,289.6 h1.6 M41.5,289.6 h1.6 M44.6,289.6 h1.6 M47.6,289.6 h1.6 M50.7,289.6 h1.6 M53.8,289.6 h1.6 M56.8,289.6 h1.6 M59.8,289.6 h1.6 M62.9,289.6 h1.6 M66.0,289.6 h1.6 M69.0,289.6 h1.6 M72.0,289.6 h1.6 M75.1,289.6 h1.6 M78.2,289.6 h1.6 M81.2,289.6 h1.6 M84.2,289.6 h1.6 M87.3,289.6 h1.6 M90.3,289.6 h1.6 M93.4,289.6 h1.6 M96.4,289.6 h1.6 M99.5,289.6 h1.6 M102.5,289.6 h1.6 M38.5,293.4 h1.6 M41.5,293.4 h1.6 M44.6,293.4 h1.6 M47.6,293.4 h1.6 M50.7,293.4 h1.6 M53.8,293.4 h1.6 M56.8,293.4 h1.6 M59.8,293.4 h1.6 M62.9,293.4 h1.6 M66.0,293.4 h1.6 M69.0,293.4 h1.6 M72.0,293.4 h1.6 M75.1,293.4 h1.6 M78.2,293.4 h1.6 M81.2,293.4 h1.6 M84.2,293.4 h1.6 M87.3,293.4 h1.6 M90.3,293.4 h1.6 M93.4,293.4 h1.6 M96.4,293.4 h1.6 M99.5,293.4 h1.6 M102.5,293.4 h1.6 M38.5,297.2 h1.6 M41.5,297.2 h1.6 M44.6,297.2 h1.6 M47.6,297.2 h1.6 M50.7,297.2 h1.6 M53.8,297.2 h1.6 M56.8,297.2 h1.6 M59.8,297.2 h1.6 M62.9,297.2 h1.6 M66.0,297.2 h1.6 M69.0,297.2 h1.6 M72.0,297.2 h1.6 M75.1,297.2 h1.6 M78.2,297.2 h1.6 M81.2,297.2 h1.6 M84.2,297.2 h1.6 M87.3,297.2 h1.6 M90.3,297.2 h1.6 M93.4,297.2 h1.6 M96.4,297.2 h1.6 M99.5,297.2 h1.6 M102.5,297.2 h1.6 M38.5,301.0 h1.6 M41.5,301.0 h1.6 M44.6,301.0 h1.6 M47.6,301.0 h1.6 M50.7,301.0 h1.6 M53.8,301.0 h1.6 M56.8,301.0 h1.6 M59.8,301.0 h1.6 M62.9,301.0 h1.6 M66.0,301.0 h1.6 M69.0,301.0 h1.6 M72.0,301.0 h1.6 M75.1,301.0 h1.6 M78.2,301.0 h1.6 M81.2,301.0 h1.6 M84.2,301.0 h1.6 M87.3,301.0 h1.6 M90.3,301.0 h1.6 M93.4,301.0 h1.6 M96.4,301.0 h1.6 M99.5,301.0 h1.6 M102.5,301.0 h1.6" stroke="#2a3a80" stroke-width="0.45" opacity="0.55"/>
</g>
<rect x="37.3" y="182.8" width="67.2" height="121.0" fill="none" stroke="#262626" stroke-width="0.5"/>
<line x1="37.3" y1="303.8" x2="38.5" y2="303.8" stroke="#262626" stroke-width="0.4"/>
<text x="34.3" y="306.0" font-family="'Liberation Sans', Arial, sans-serif" fill="#3a3a3a" font-size="6.2" text-anchor="end">0</text>
<line x1="37.3" y1="283.6" x2="38.5" y2="283.6" stroke="#262626" stroke-width="0.4"/>
<text x="34.3" y="285.8" font-family="'Liberation Sans', Arial, sans-serif" fill="#3a3a3a" font-size="6.2" text-anchor="end">0.02</text>
<line x1="37.3" y1="263.5" x2="38.5" y2="263.5" stroke="#262626" stroke-width="0.4"/>
<text x="34.3" y="265.7" font-family="'Liberation Sans', Arial, sans-serif" fill="#3a3a3a" font-size="6.2" text-anchor="end">0.04</text>
<line x1="37.3" y1="243.3" x2="38.5" y2="243.3" stroke="#262626" stroke-width="0.4"/>
<text x="34.3" y="245.5" font-family="'Liberation Sans', Arial, sans-serif" fill="#3a3a3a" font-size="6.2" text-anchor="end">0.06</text>
<line x1="37.3" y1="223.1" x2="38.5" y2="223.1" stroke="#262626" stroke-width="0.4"/>
<text x="34.3" y="225.3" font-family="'Liberation Sans', Arial, sans-serif" fill="#3a3a3a" font-size="6.2" text-anchor="end">0.08</text>
<line x1="37.3" y1="202.9" x2="38.5" y2="202.9" stroke="#262626" stroke-width="0.4"/>
<text x="34.3" y="205.1" font-family="'Liberation Sans', Arial, sans-serif" fill="#3a3a3a" font-size="6.2" text-anchor="end">0.1</text>
<line x1="37.3" y1="182.8" x2="38.5" y2="182.8" stroke="#262626" stroke-width="0.4"/>
<text x="34.3" y="185.0" font-family="'Liberation Sans', Arial, sans-serif" fill="#3a3a3a" font-size="6.2" text-anchor="end">0.12</text>
<text x="37.3" y="312.7" font-family="'Liberation Sans', Arial, sans-serif" fill="#3a3a3a" font-size="6.2" text-anchor="middle">0</text>
<text x="59.7" y="312.7" font-family="'Liberation Sans', Arial, sans-serif" fill="#3a3a3a" font-size="6.2" text-anchor="middle">0.02</text>
<text x="82.1" y="312.7" font-family="'Liberation Sans', Arial, sans-serif" fill="#3a3a3a" font-size="6.2" text-anchor="middle">0.04</text>
<text x="104.5" y="312.7" font-family="'Liberation Sans', Arial, sans-serif" fill="#3a3a3a" font-size="6.2" text-anchor="middle">0.06</text>
<text x="70.8" y="323" font-family="'Liberation Sans', Arial, sans-serif" fill="#3a3a3a" font-size="6.9" font-weight="bold" text-anchor="middle">X (m)</text>
<text transform="translate(13.6,242.5) rotate(-90)" font-family="'Liberation Sans', Arial, sans-serif" fill="#3a3a3a" font-size="7" font-weight="bold" text-anchor="middle">Distance (m)</text>
<text x="52" y="177.3" font-family="'Liberation Sans', Arial, sans-serif" fill="#3a3a3a" font-size="7.3" font-weight="bold" fill="#222"><tspan font-family="'Liberation Serif', 'Times New Roman', serif" font-style="italic" font-weight="normal">ρ</tspan>=10<tspan font-size="4.6" dy="-3">5</tspan><tspan dy="3"> Ω.m</tspan></text>
<defs><linearGradient id="gPar" x1="0" y1="1" x2="0" y2="0"><stop offset="0.00" stop-color="#352a87"/><stop offset="0.05" stop-color="#353eaf"/><stop offset="0.10" stop-color="#1b55d7"/><stop offset="0.15" stop-color="#036ae1"/><stop offset="0.20" stop-color="#0f77db"/><stop offset="0.25" stop-color="#1484d4"/><stop offset="0.30" stop-color="#0d93d2"/><stop offset="0.35" stop-color="#06a0cd"/><stop offset="0.40" stop-color="#07aac1"/><stop offset="0.45" stop-color="#18b1b2"/><stop offset="0.50" stop-color="#33b8a1"/><stop offset="0.55" stop-color="#55bd8e"/><stop offset="0.60" stop-color="#7abf7c"/><stop offset="0.65" stop-color="#9bbf6f"/><stop offset="0.70" stop-color="#b8bd63"/><stop offset="0.75" stop-color="#d3bb58"/><stop offset="0.80" stop-color="#ecb94c"/><stop offset="0.85" stop-color="#fec13a"/><stop offset="0.90" stop-color="#fad12b"/><stop offset="0.95" stop-color="#f5e31e"/><stop offset="1.00" stop-color="#f9fb0e"/></linearGradient></defs>
<rect x="113.9" y="183.2" width="5.3" height="119.5" fill="url(#gPar)" stroke="#444" stroke-width="0.3"/>
<text x="122" y="304.8" font-family="'Liberation Sans', Arial, sans-serif" fill="#3a3a3a" font-size="6">0</text>
<text x="122" y="292.9" font-family="'Liberation Sans', Arial, sans-serif" fill="#3a3a3a" font-size="6">0.1</text>
<text x="122" y="280.9" font-family="'Liberation Sans', Arial, sans-serif" fill="#3a3a3a" font-size="6">0.2</text>
<text x="122" y="269.0" font-family="'Liberation Sans', Arial, sans-serif" fill="#3a3a3a" font-size="6">0.3</text>
<text x="122" y="257.0" font-family="'Liberation Sans', Arial, sans-serif" fill="#3a3a3a" font-size="6">0.4</text>
<text x="122" y="245.0" font-family="'Liberation Sans', Arial, sans-serif" fill="#3a3a3a" font-size="6">0.5</text>
<text x="122" y="233.1" font-family="'Liberation Sans', Arial, sans-serif" fill="#3a3a3a" font-size="6">0.6</text>
<text x="122" y="221.2" font-family="'Liberation Sans', Arial, sans-serif" fill="#3a3a3a" font-size="6">0.7</text>
<text x="122" y="209.2" font-family="'Liberation Sans', Arial, sans-serif" fill="#3a3a3a" font-size="6">0.8</text>
<text x="122" y="197.2" font-family="'Liberation Sans', Arial, sans-serif" fill="#3a3a3a" font-size="6">0.9</text>
<text x="122" y="185.3" font-family="'Liberation Sans', Arial, sans-serif" fill="#3a3a3a" font-size="6">1</text>
<rect x="159.7" y="184.9" width="163.60000000000002" height="109.1" fill="#fff" stroke="#222" stroke-width="0.5"/>
<line x1="174.2" y1="195.8" x2="174.2" y2="294.0" stroke="#d9a0b4" stroke-width="0.5" stroke-dasharray="1 1"/>
<line x1="174.2" y1="195.8" x2="323.3" y2="195.8" stroke="#d9a0b4" stroke-width="0.5" stroke-dasharray="1 1"/>
<path d="M236.3,253.6h0.9 M198.8,254.4h0.9 M277.7,198.8h0.9 M264.8,198.5h0.9 M299.9,203.7h0.9 M233.9,201.2h0.9 M213.8,218.2h0.9 M242.2,225.8h0.9 M244.8,215.5h0.9 M283.8,216.3h0.9 M212.8,229.1h0.9 M264.3,207.7h0.9 M284.7,197.9h0.9 M290.1,203.5h0.9 M242.0,233.9h0.9 M285.0,212.4h0.9 M214.1,219.5h0.9 M236.3,217.6h0.9 M251.3,200.9h0.9 M211.3,229.1h0.9 M279.0,202.7h0.9 M265.3,217.1h0.9 M293.9,199.5h0.9 M217.9,213.1h0.9 M238.1,206.9h0.9 M283.7,206.0h0.9 M287.2,199.8h0.9 M207.2,232.5h0.9 M296.8,199.3h0.9 M229.5,203.3h0.9 M284.7,200.6h0.9 M252.2,206.4h0.9 M250.2,199.6h0.9 M254.5,206.0h0.9 M201.3,236.2h0.9 M208.1,238.6h0.9 M192.0,257.5h0.9 M264.5,217.5h0.9 M189.7,252.3h0.9 M177.7,273.6h0.9 M251.2,207.3h0.9 M251.8,235.7h0.9 M266.1,224.5h0.9 M291.6,211.8h0.9 M257.5,235.1h0.9 M238.1,226.7h0.9 M242.8,254.5h0.9 M251.6,220.9h0.9 M263.2,199.1h0.9 M237.2,206.1h0.9 M239.3,226.7h0.9 M218.2,243.4h0.9 M207.4,269.6h0.9 M217.3,245.5h0.9 M227.0,252.7h0.9 M238.2,210.6h0.9 M231.6,248.1h0.9 M210.8,226.5h0.9 M216.3,220.4h0.9 M219.3,256.0h0.9 M233.5,201.9h0.9 M249.0,219.6h0.9 M257.6,198.5h0.9 M262.1,203.2h0.9 M192.0,266.1h0.9 M279.5,222.2h0.9 M200.7,250.8h0.9 M249.6,202.4h0.9 M221.4,245.6h0.9 M225.9,244.2h0.9 M186.2,276.2h0.9 M241.6,245.3h0.9 M237.0,246.9h0.9 M243.8,205.2h0.9 M281.0,210.5h0.9 M302.0,207.1h0.9 M257.5,207.4h0.9 M197.6,253.8h0.9 M274.5,210.0h0.9 M258.5,201.5h0.9 M257.2,200.8h0.9 M283.8,211.9h0.9 M238.7,250.7h0.9 M217.5,247.7h0.9 M242.7,241.2h0.9 M264.1,229.4h0.9 M264.8,236.3h0.9 M234.5,220.5h0.9 M178.5,279.1h0.9 M247.8,215.3h0.9 M183.4,269.5h0.9 M209.8,242.3h0.9 M227.2,249.1h0.9 M209.5,249.6h0.9 M191.7,270.8h0.9 M247.0,207.9h0.9 M241.1,201.2h0.9 M214.4,222.0h0.9 M227.4,217.2h0.9 M210.6,249.2h0.9 M243.5,244.5h0.9 M252.2,235.1h0.9 M215.8,225.3h0.9 M289.9,198.9h0.9 M250.8,206.0h0.9 M257.4,200.5h0.9 M246.9,199.0h0.9 M300.4,198.4h0.9 M254.0,214.4h0.9 M200.6,237.4h0.9 M241.6,222.2h0.9 M263.4,235.3h0.9 M187.2,256.0h0.9 M217.3,231.0h0.9 M226.9,234.3h0.9 M198.4,252.3h0.9 M227.4,207.3h0.9 M270.9,222.8h0.9 M286.5,209.3h0.9 M291.0,211.0h0.9 M273.9,217.2h0.9 M271.5,228.4h0.9 M274.3,220.1h0.9 M221.1,227.7h0.9 M222.0,237.2h0.9 M261.2,206.4h0.9 M248.7,224.1h0.9 M265.8,228.5h0.9 M177.9,272.7h0.9 M192.6,251.3h0.9 M199.7,244.4h0.9 M285.9,207.5h0.9 M257.6,231.6h0.9 M180.8,277.7h0.9 M229.8,206.0h0.9 M280.5,204.8h0.9 M239.3,211.8h0.9 M211.6,256.4h0.9 M184.3,262.0h0.9 M225.4,252.8h0.9 M181.4,278.6h0.9 M230.6,220.3h0.9 M206.5,249.3h0.9 M289.5,211.9h0.9 M189.8,266.1h0.9 M233.9,202.9h0.9 M245.3,214.3h0.9 M256.1,217.1h0.9 M298.4,205.2h0.9 M276.5,212.2h0.9 M216.1,249.2h0.9 M272.5,200.8h0.9 M289.9,213.5h0.9 M216.0,230.0h0.9 M188.2,264.4h0.9 M246.3,223.4h0.9 M230.3,207.4h0.9 M184.5,260.0h0.9 M255.7,227.0h0.9 M259.7,208.3h0.9 M303.1,199.8h0.9 M230.3,214.9h0.9 M268.2,199.0h0.9 M246.9,207.5h0.9 M184.8,260.8h0.9 M250.6,225.6h0.9 M204.8,241.1h0.9 M249.1,220.8h0.9 M296.7,211.0h0.9 M219.4,225.1h0.9 M290.9,200.3h0.9 M224.6,218.5h0.9 M236.6,246.1h0.9 M197.8,267.0h0.9 M211.4,221.6h0.9 M300.1,203.4h0.9 M183.2,268.0h0.9 M251.8,237.5h0.9 M242.4,202.2h0.9 M212.0,259.7h0.9 M254.7,210.9h0.9 M238.9,226.0h0.9 M266.7,233.0h0.9 M285.5,214.5h0.9 M290.1,215.5h0.9 M278.9,205.9h0.9 M205.1,262.4h0.9 M210.6,236.6h0.9 M286.6,198.2h0.9 M275.5,200.4h0.9 M228.9,227.9h0.9 M208.8,230.4h0.9 M249.9,219.9h0.9 M207.7,259.8h0.9 M235.4,243.5h0.9 M293.4,201.1h0.9 M283.2,205.6h0.9 M278.8,204.5h0.9 M233.0,210.2h0.9 M183.1,266.7h0.9 M258.2,223.6h0.9 M219.7,217.0h0.9 M241.8,227.5h0.9 M205.6,260.4h0.9 M261.1,228.0h0.9 M249.8,200.2h0.9 M229.6,264.5h0.9 M257.3,210.8h0.9 M186.7,273.4h0.9 M206.3,268.3h0.9 M218.9,211.4h0.9 M221.5,243.3h0.9 M224.5,225.7h0.9 M176.5,271.1h0.9 M205.7,249.5h0.9 M278.5,200.5h0.9 M212.5,232.9h0.9 M224.4,235.8h0.9 M210.2,257.7h0.9 M268.7,206.2h0.9 M186.9,257.5h0.9 M198.2,251.4h0.9 M251.7,199.9h0.9 M225.4,203.5h0.9 M230.2,224.7h0.9 M224.9,216.0h0.9 M184.7,264.4h0.9 M260.5,222.4h0.9 M220.4,220.1h0.9 M232.5,241.2h0.9 M254.1,201.4h0.9 M221.8,232.0h0.9 M249.5,250.9h0.9 M200.5,275.0h0.9 M200.6,238.3h0.9 M217.6,268.0h0.9 M229.2,204.1h0.9 M245.3,219.7h0.9 M209.2,274.7h0.9 M190.8,271.5h0.9 M271.5,202.6h0.9 M235.4,201.4h0.9 M208.4,278.8h0.9 M245.6,231.3h0.9 M238.9,240.0h0.9 M204.8,242.2h0.9 M197.4,255.7h0.9 M243.0,199.6h0.9 M193.7,279.1h0.9 M241.5,230.6h0.9 M272.3,210.7h0.9 M227.9,218.6h0.9 M292.2,204.8h0.9 M216.5,214.6h0.9 M291.6,209.8h0.9 M239.0,200.7h0.9 M228.1,223.1h0.9 M243.1,205.4h0.9 M224.6,211.3h0.9 M261.2,231.6h0.9 M259.2,202.6h0.9 M187.7,273.9h0.9 M234.6,254.6h0.9 M219.9,209.5h0.9 M280.6,204.8h0.9 M188.8,277.0h0.9 M231.7,257.4h0.9 M217.8,260.6h0.9 M200.2,271.0h0.9 M268.9,233.1h0.9 M242.2,203.8h0.9 M250.7,207.0h0.9 M287.6,210.9h0.9 M232.6,202.0h0.9 M218.7,244.5h0.9 M245.0,235.3h0.9 M244.8,241.9h0.9 M276.7,213.4h0.9 M242.8,200.8h0.9 M234.1,200.8h0.9 M211.8,227.5h0.9 M253.7,204.2h0.9 M235.4,206.0h0.9 M229.1,246.5h0.9 M277.2,208.1h0.9 M221.5,241.5h0.9 M241.9,219.6h0.9 M281.9,200.0h0.9 M196.3,260.1h0.9 M276.8,219.1h0.9 M231.1,207.8h0.9 M239.3,233.1h0.9 M288.0,199.5h0.9 M227.2,219.5h0.9 M258.4,199.3h0.9 M257.6,203.7h0.9 M219.0,210.6h0.9 M215.5,243.0h0.9 M261.0,201.1h0.9 M282.6,214.8h0.9 M225.6,216.4h0.9 M231.1,249.9h0.9 M193.6,256.8h0.9 M270.4,199.9h0.9 M218.0,227.5h0.9 M273.8,216.4h0.9 M214.7,238.4h0.9 M222.1,218.7h0.9 M254.1,198.9h0.9 M221.2,243.4h0.9 M251.5,239.4h0.9 M224.3,244.6h0.9 M221.5,211.4h0.9 M211.5,237.8h0.9 M228.1,263.7h0.9 M223.8,204.2h0.9 M221.9,214.9h0.9 M224.5,255.1h0.9 M209.7,236.5h0.9 M254.8,230.3h0.9 M177.5,269.6h0.9 M217.1,250.6h0.9 M193.4,255.1h0.9 M239.1,199.9h0.9 M226.5,228.6h0.9 M250.7,226.5h0.9 M210.7,230.3h0.9 M266.9,202.4h0.9 M221.3,212.7h0.9 M248.2,232.5h0.9 M213.5,248.5h0.9 M261.3,234.2h0.9 M205.3,255.5h0.9 M194.3,254.5h0.9 M231.6,209.9h0.9 M207.2,255.4h0.9 M199.0,247.9h0.9 M265.8,213.0h0.9 M177.9,270.0h0.9 M193.4,258.6h0.9 M235.7,210.4h0.9 M270.7,211.8h0.9 M245.3,203.8h0.9 M221.9,232.1h0.9 M274.9,213.3h0.9 M216.4,257.5h0.9 M224.4,256.8h0.9 M218.8,222.9h0.9 M194.3,248.9h0.9 M177.3,272.9h0.9 M213.5,237.9h0.9 M247.6,238.3h0.9 M218.1,223.8h0.9 M265.0,219.5h0.9 M281.7,199.7h0.9 M222.8,214.5h0.9 M244.1,205.0h0.9 M232.9,203.4h0.9 M195.6,245.4h0.9 M255.5,213.3h0.9 M266.9,227.5h0.9 M258.1,208.7h0.9 M207.5,256.7h0.9 M284.1,215.7h0.9 M229.4,240.8h0.9 M191.1,258.1h0.9 M204.8,235.4h0.9 M300.7,198.4h0.9 M229.2,236.6h0.9 M181.2,273.9h0.9 M191.2,255.0h0.9 M220.3,208.4h0.9 M230.6,215.3h0.9 M211.7,236.1h0.9 M274.1,229.3h0.9 M258.6,201.0h0.9 M200.8,273.6h0.9 M219.8,208.9h0.9 M193.5,262.8h0.9 M222.7,213.2h0.9 M194.9,273.2h0.9 M230.7,258.9h0.9 M267.1,211.8h0.9 M193.9,261.1h0.9 M255.6,206.1h0.9 M232.3,246.5h0.9 M197.7,241.5h0.9 M222.2,245.2h0.9 M232.9,200.5h0.9 M233.9,251.9h0.9 M270.2,206.8h0.9 M302.7,198.2h0.9 M227.0,236.4h0.9 M237.7,207.4h0.9 M222.9,236.9h0.9 M220.8,217.0h0.9 M216.6,215.5h0.9 M252.4,219.4h0.9 M197.9,242.5h0.9 M182.6,268.2h0.9 M219.7,233.2h0.9 M216.5,249.7h0.9 M293.0,202.7h0.9 M248.8,202.5h0.9 M246.1,243.8h0.9 M294.0,198.9h0.9 M223.9,234.9h0.9 M285.9,209.8h0.9 M237.0,202.2h0.9 M245.1,214.6h0.9 M212.8,246.2h0.9 M241.8,215.7h0.9 M252.0,240.6h0.9 M270.5,204.4h0.9 M303.1,200.1h0.9 M238.5,206.1h0.9 M259.0,236.9h0.9 M296.3,198.2h0.9 M267.1,202.7h0.9 M266.8,201.6h0.9 M243.2,200.4h0.9 M213.7,257.1h0.9 M274.8,211.7h0.9 M222.7,206.6h0.9 M221.4,253.8h0.9 M224.2,251.2h0.9 M291.8,198.3h0.9 M288.5,209.5h0.9 M245.3,214.4h0.9 M242.0,207.1h0.9 M265.0,201.4h0.9 M203.3,235.4h0.9 M254.0,209.1h0.9 M270.3,207.6h0.9 M225.5,206.0h0.9 M227.9,221.5h0.9 M279.7,203.3h0.9 M211.8,264.5h0.9 M265.3,222.8h0.9 M252.4,220.6h0.9 M194.9,254.6h0.9 M212.9,252.4h0.9 M206.6,243.0h0.9 M226.3,216.3h0.9 M285.1,208.0h0.9 M186.4,261.7h0.9 M250.4,226.8h0.9 M177.9,274.1h0.9 M222.4,225.1h0.9 M300.7,208.8h0.9 M226.1,250.9h0.9 M183.5,267.0h0.9 M244.2,204.7h0.9 M204.8,242.5h0.9 M185.7,259.2h0.9 M207.7,265.3h0.9 M275.5,199.3h0.9 M297.3,208.2h0.9 M221.7,230.2h0.9 M214.0,236.7h0.9 M237.0,202.8h0.9 M256.0,204.1h0.9 M193.3,251.2h0.9 M264.8,199.5h0.9 M195.0,280.1h0.9 M286.9,216.6h0.9 M183.1,262.1h0.9 M195.2,260.2h0.9 M201.1,244.8h0.9 M180.9,267.8h0.9 M215.2,218.0h0.9 M244.1,241.7h0.9 M248.5,217.0h0.9 M252.0,205.0h0.9 M226.9,223.0h0.9 M192.5,273.3h0.9 M233.9,224.4h0.9 M223.1,215.1h0.9 M212.8,252.6h0.9 M285.6,197.9h0.9 M299.4,200.6h0.9 M240.3,224.4h0.9 M231.7,221.9h0.9 M214.6,224.7h0.9 M230.0,249.7h0.9 M186.0,278.7h0.9 M217.4,223.4h0.9 M182.3,275.0h0.9 M241.6,223.5h0.9 M278.2,216.1h0.9 M175.6,276.1h0.9 M293.7,198.3h0.9 M232.0,240.5h0.9 M202.0,243.8h0.9 M184.2,260.4h0.9 M201.5,238.0h0.9 M282.4,208.3h0.9 M234.5,243.5h0.9 M268.0,210.4h0.9 M245.9,242.2h0.9 M247.3,210.6h0.9 M196.5,259.8h0.9 M221.4,210.8h0.9 M224.2,232.2h0.9 M221.3,241.1h0.9 M248.0,204.5h0.9 M251.2,218.2h0.9 M223.8,240.5h0.9 M241.0,226.5h0.9 M230.9,207.7h0.9 M188.2,258.6h0.9 M248.5,218.4h0.9 M205.7,271.9h0.9 M256.8,203.7h0.9 M234.4,230.3h0.9 M291.5,214.3h0.9 M222.1,259.7h0.9 M269.1,203.1h0.9 M186.2,265.5h0.9 M203.6,249.4h0.9 M217.1,223.2h0.9 M266.0,225.4h0.9 M245.4,234.4h0.9 M275.4,202.0h0.9 M278.6,203.8h0.9 M223.0,243.8h0.9 M240.4,222.6h0.9 M189.2,277.4h0.9 M184.2,277.5h0.9 M293.6,200.8h0.9 M182.9,270.8h0.9 M302.3,202.9h0.9 M276.6,209.6h0.9 M233.8,213.1h0.9 M210.0,255.6h0.9 M230.9,226.3h0.9 M247.7,201.4h0.9 M296.6,211.3h0.9 M294.8,209.2h0.9 M238.8,229.6h0.9 M254.4,240.8h0.9 M179.0,266.3h0.9 M298.9,197.9h0.9 M242.3,222.6h0.9 M279.6,198.0h0.9 M282.9,204.5h0.9 M221.4,206.4h0.9 M243.1,210.1h0.9 M233.9,207.2h0.9 M214.7,235.1h0.9 M218.0,218.5h0.9 M214.8,262.1h0.9 M213.0,228.6h0.9 M277.3,210.4h0.9 M254.5,203.9h0.9 M222.9,218.5h0.9 M303.3,200.2h0.9 M218.7,255.4h0.9 M217.2,237.9h0.9 M176.7,272.5h0.9 M195.1,275.1h0.9 M299.4,208.1h0.9 M277.5,199.6h0.9 M204.0,263.7h0.9 M269.1,230.7h0.9 M216.2,263.8h0.9 M208.9,236.2h0.9 M202.6,251.4h0.9 M236.9,245.3h0.9 M212.2,221.4h0.9 M254.2,238.3h0.9 M237.0,208.7h0.9 M300.9,201.5h0.9 M209.4,273.9h0.9 M178.1,274.8h0.9 M207.8,256.9h0.9 M186.0,259.6h0.9 M235.2,205.2h0.9 M218.5,211.3h0.9 M229.9,234.1h0.9 M222.1,258.5h0.9 M229.0,213.3h0.9 M205.1,276.5h0.9 M232.5,264.8h0.9 M207.6,256.1h0.9 M281.0,202.3h0.9 M247.0,210.1h0.9 M241.5,212.1h0.9 M231.6,210.1h0.9 M198.6,254.7h0.9 M243.0,247.1h0.9 M258.5,203.6h0.9 M278.3,201.9h0.9 M236.0,252.8h0.9 M230.6,210.9h0.9 M209.9,229.3h0.9 M279.0,225.8h0.9 M267.1,224.6h0.9 M197.7,269.0h0.9 M177.9,271.7h0.9 M257.6,222.2h0.9 M183.3,271.8h0.9 M290.8,211.9h0.9 M273.2,228.3h0.9 M191.1,271.5h0.9 M276.7,221.6h0.9 M297.2,205.0h0.9 M186.9,257.6h0.9 M204.5,255.6h0.9 M219.3,219.4h0.9 M243.5,230.0h0.9 M293.0,200.5h0.9 M255.2,237.9h0.9 M233.5,221.5h0.9 M266.4,214.3h0.9 M210.2,245.7h0.9 M220.1,209.6h0.9 M281.3,210.5h0.9 M225.4,211.4h0.9 M227.1,236.6h0.9 M246.8,229.1h0.9 M234.9,258.7h0.9 M209.3,258.6h0.9 M210.2,253.5h0.9 M216.3,253.9h0.9 M227.1,204.2h0.9 M282.6,217.5h0.9 M247.7,212.9h0.9 M226.6,227.6h0.9 M263.2,218.0h0.9 M249.2,201.3h0.9 M196.2,252.5h0.9 M200.6,277.9h0.9 M215.8,271.5h0.9 M218.5,217.4h0.9 M224.8,256.7h0.9 M257.6,224.9h0.9 M228.5,212.4h0.9 M228.2,211.7h0.9 M268.8,209.6h0.9 M271.7,227.7h0.9 M270.9,203.9h0.9 M298.0,204.6h0.9 M204.2,264.9h0.9 M290.0,201.6h0.9 M254.8,204.4h0.9 M203.5,245.1h0.9 M182.7,269.1h0.9 M283.4,204.4h0.9 M271.7,212.9h0.9 M248.7,225.0h0.9 M256.4,207.0h0.9 M298.1,199.9h0.9 M207.2,252.0h0.9 M260.9,204.7h0.9 M240.0,217.8h0.9 M294.8,204.6h0.9 M184.7,262.3h0.9 M264.4,226.6h0.9 M234.6,200.4h0.9 M244.4,202.3h0.9 M207.3,232.1h0.9 M198.0,267.3h0.9 M247.8,199.0h0.9 M286.3,200.1h0.9 M268.7,202.2h0.9 M219.1,227.5h0.9 M302.8,198.9h0.9 M241.1,202.8h0.9 M227.0,246.5h0.9 M262.6,201.3h0.9 M269.3,227.8h0.9 M222.6,211.3h0.9 M183.0,274.8h0.9 M238.2,201.5h0.9 M252.7,234.0h0.9 M200.1,238.0h0.9 M245.2,229.0h0.9 M229.5,211.4h0.9 M214.3,226.0h0.9 M185.0,262.3h0.9 M264.2,210.4h0.9 M219.0,256.3h0.9 M264.6,213.0h0.9 M224.3,227.3h0.9 M257.3,233.0h0.9 M186.7,260.9h0.9 M211.9,225.3h0.9 M283.3,211.4h0.9 M224.7,231.7h0.9 M303.4,205.0h0.9 M287.0,206.2h0.9 M218.9,270.4h0.9 M296.1,197.9h0.9 M224.2,236.8h0.9 M231.3,241.8h0.9 M250.4,203.0h0.9 M203.0,247.6h0.9 M220.7,233.1h0.9 M244.3,204.3h0.9 M254.4,208.2h0.9 M242.6,206.5h0.9 M268.8,220.1h0.9 M193.1,250.6h0.9 M206.8,245.0h0.9 M261.9,201.4h0.9 M254.6,241.6h0.9 M261.4,203.4h0.9 M198.9,254.4h0.9 M275.0,213.9h0.9 M209.0,231.1h0.9 M301.9,204.0h0.9 M224.6,240.1h0.9 M223.9,226.1h0.9 M188.1,279.0h0.9 M238.9,248.2h0.9 M231.9,221.1h0.9 M209.3,258.6h0.9 M266.7,198.4h0.9 M255.2,228.6h0.9 M268.5,198.5h0.9 M190.2,251.7h0.9 M224.3,204.5h0.9 M293.7,198.0h0.9 M217.2,217.8h0.9 M196.7,245.4h0.9 M223.3,207.5h0.9 M230.0,201.5h0.9 M200.0,248.2h0.9 M225.7,226.3h0.9 M192.0,256.5h0.9 M292.6,198.1h0.9 M217.6,248.9h0.9 M199.0,251.1h0.9 M274.1,199.4h0.9 M221.8,234.0h0.9 M291.3,207.8h0.9 M259.9,244.2h0.9 M225.2,231.2h0.9 M241.9,208.2h0.9 M240.1,205.0h0.9 M208.9,236.8h0.9 M199.5,270.8h0.9 M177.5,267.5h0.9 M220.2,218.2h0.9 M249.8,204.1h0.9 M250.4,238.0h0.9 M224.8,213.7h0.9 M234.9,234.8h0.9 M201.2,260.1h0.9 M189.8,259.9h0.9 M262.3,239.0h0.9 M199.7,238.8h0.9 M245.9,238.6h0.9 M201.5,259.4h0.9 M206.7,229.2h0.9 M203.2,254.9h0.9 M245.6,231.7h0.9 M246.7,222.6h0.9 M212.1,259.0h0.9 M235.6,200.0h0.9 M240.9,218.5h0.9 M203.6,256.8h0.9 M212.5,240.9h0.9 M259.0,209.5h0.9 M230.4,214.3h0.9 M180.9,268.0h0.9 M205.4,244.0h0.9 M273.9,207.0h0.9 M202.5,234.4h0.9 M237.5,202.9h0.9 M183.3,272.4h0.9 M228.0,236.3h0.9 M204.9,264.2h0.9 M190.1,269.3h0.9 M201.7,236.1h0.9 M235.9,209.9h0.9 M184.4,276.7h0.9 M255.0,206.7h0.9 M180.2,270.8h0.9 M235.3,252.6h0.9 M216.0,218.7h0.9 M273.3,204.9h0.9 M235.0,202.7h0.9 M207.4,267.9h0.9 M222.9,208.7h0.9 M253.4,200.7h0.9 M274.7,213.6h0.9 M300.6,200.7h0.9 M222.7,238.0h0.9 M221.8,253.1h0.9 M224.9,238.3h0.9 M219.3,211.7h0.9 M223.5,206.3h0.9 M242.7,244.0h0.9 M204.2,269.4h0.9 M229.9,206.7h0.9 M251.0,198.9h0.9 M278.9,203.0h0.9 M257.7,218.3h0.9 M228.5,228.7h0.9 M221.9,262.1h0.9 M275.9,221.2h0.9 M186.6,265.9h0.9 M198.9,252.1h0.9 M291.2,218.0h0.9 M258.6,211.8h0.9 M234.1,217.9h0.9 M249.5,229.8h0.9 M186.9,257.5h0.9 M206.5,272.9h0.9 M236.7,209.1h0.9 M217.9,254.0h0.9 M199.0,271.4h0.9 M215.7,255.9h0.9 M233.4,206.2h0.9 M215.0,246.8h0.9 M234.3,225.8h0.9 M292.9,210.2h0.9 M301.5,198.7h0.9 M280.9,219.7h0.9 M212.9,264.6h0.9 M236.3,202.7h0.9 M268.2,222.0h0.9 M228.8,221.8h0.9 M267.1,205.2h0.9 M193.7,247.2h0.9 M197.2,253.1h0.9 M283.4,198.1h0.9 M204.2,254.3h0.9 M224.4,207.3h0.9 M204.8,258.8h0.9 M185.7,259.5h0.9 M214.2,236.4h0.9 M229.8,241.9h0.9 M252.8,247.4h0.9 M197.1,279.5h0.9 M218.4,231.0h0.9 M263.1,202.4h0.9 M192.7,253.7h0.9 M226.2,264.8h0.9 M214.0,253.8h0.9 M212.6,220.6h0.9 M224.9,228.8h0.9 M185.1,270.2h0.9 M215.9,215.4h0.9 M218.0,214.1h0.9 M268.8,205.5h0.9 M233.7,200.5h0.9 M238.8,211.8h0.9 M240.1,240.2h0.9 M262.2,212.6h0.9 M237.8,222.1h0.9 M253.3,223.9h0.9 M292.6,198.1h0.9 M196.2,258.5h0.9 M253.5,213.6h0.9 M175.8,270.5h0.9 M288.8,210.5h0.9 M269.7,198.6h0.9 M243.3,199.5h0.9 M269.7,226.8h0.9 M228.0,210.4h0.9 M225.6,222.7h0.9 M239.2,257.4h0.9 M204.5,237.8h0.9 M243.1,227.9h0.9 M185.9,258.1h0.9 M251.2,235.5h0.9 M257.0,233.2h0.9 M200.2,282.7h0.9 M252.8,228.5h0.9 M216.0,236.2h0.9 M193.9,279.1h0.9 M212.5,278.7h0.9 M284.9,214.8h0.9 M184.5,272.6h0.9 M194.5,270.0h0.9 M271.0,233.1h0.9 M264.8,206.7h0.9 M183.7,276.1h0.9 M210.7,240.9h0.9 M245.9,201.0h0.9 M212.5,225.3h0.9 M247.8,239.4h0.9 M253.8,225.7h0.9 M220.8,220.8h0.9 M246.5,242.8h0.9 M253.5,236.1h0.9 M234.5,200.3h0.9 M257.6,232.9h0.9 M262.2,217.9h0.9 M251.8,234.7h0.9 M271.6,208.7h0.9 M220.0,222.1h0.9 M247.4,200.4h0.9 M224.6,205.5h0.9 M218.9,267.0h0.9 M234.1,207.1h0.9 M212.7,237.2h0.9 M215.6,238.2h0.9 M260.4,225.1h0.9 M252.0,233.7h0.9 M252.9,232.9h0.9 M275.4,200.2h0.9 M192.3,278.4h0.9 M215.9,267.3h0.9 M208.6,230.9h0.9 M240.1,210.4h0.9 M290.1,216.5h0.9 M261.4,199.4h0.9 M281.2,199.1h0.9 M243.2,199.1h0.9 M281.0,206.8h0.9 M188.1,270.4h0.9 M262.8,199.8h0.9 M265.8,205.0h0.9 M233.8,209.9h0.9 M270.2,204.9h0.9 M177.9,278.9h0.9 M302.2,202.2h0.9 M240.5,225.4h0.9 M213.3,224.8h0.9 M231.4,217.5h0.9 M281.8,202.5h0.9 M188.5,267.1h0.9 M181.4,272.2h0.9 M269.1,202.9h0.9 M285.9,217.9h0.9 M222.9,258.2h0.9 M217.8,212.3h0.9 M222.0,211.4h0.9 M240.8,230.0h0.9 M227.7,247.1h0.9 M261.2,203.8h0.9 M235.9,224.3h0.9 M297.7,204.9h0.9 M216.8,237.6h0.9 M247.7,212.4h0.9 M284.9,215.5h0.9 M291.7,199.2h0.9 M180.0,265.5h0.9 M259.0,218.0h0.9 M192.6,249.9h0.9 M258.3,227.4h0.9 M204.9,247.5h0.9 M267.1,218.0h0.9 M283.1,216.9h0.9 M202.9,244.6h0.9 M292.5,200.6h0.9 M266.9,230.1h0.9 M210.1,252.9h0.9 M246.1,245.6h0.9 M183.4,266.2h0.9 M226.1,245.9h0.9 M227.7,202.6h0.9 M248.7,212.1h0.9 M202.3,235.9h0.9 M204.2,270.9h0.9 M195.6,250.2h0.9 M250.7,222.6h0.9 M227.0,247.9h0.9 M251.5,205.6h0.9 M277.5,200.7h0.9 M184.9,258.7h0.9 M184.7,269.4h0.9 M240.7,243.4h0.9 M212.4,256.4h0.9 M267.4,218.4h0.9 M250.4,205.2h0.9 M215.1,218.3h0.9 M199.9,266.5h0.9 M253.6,206.0h0.9 M283.1,223.8h0.9 M296.1,205.0h0.9 M237.1,207.0h0.9 M286.9,210.0h0.9 M227.2,248.0h0.9 M233.2,231.2h0.9 M246.5,204.9h0.9 M227.6,254.2h0.9 M242.1,215.5h0.9 M257.3,199.5h0.9 M209.6,225.3h0.9 M207.7,254.3h0.9 M240.5,208.8h0.9 M247.2,203.9h0.9 M254.8,218.5h0.9 M212.3,234.0h0.9 M198.9,277.9h0.9 M239.1,254.8h0.9 M185.3,268.1h0.9 M254.7,232.7h0.9 M257.1,216.3h0.9 M247.5,200.3h0.9 M286.7,205.8h0.9 M232.7,214.4h0.9 M249.4,202.9h0.9 M298.7,198.2h0.9 M292.6,202.7h0.9 M234.5,204.3h0.9 M189.7,263.8h0.9 M235.8,241.1h0.9 M252.5,205.4h0.9 M267.1,198.5h0.9 M206.4,234.7h0.9 M226.4,230.1h0.9 M258.1,231.6h0.9 M288.9,205.7h0.9 M231.5,235.1h0.9 M266.1,203.4h0.9 M237.7,221.9h0.9 M236.4,249.0h0.9 M176.9,268.3h0.9 M210.6,222.8h0.9 M177.5,268.4h0.9 M193.2,255.0h0.9 M285.7,207.5h0.9 M262.2,203.2h0.9 M276.2,208.2h0.9 M231.2,242.2h0.9 M213.7,223.1h0.9 M247.1,204.5h0.9 M303.9,199.6h0.9 M233.9,221.1h0.9 M188.3,254.4h0.9 M235.0,205.2h0.9 M205.2,260.7h0.9 M255.5,213.3h0.9 M276.7,201.6h0.9 M188.3,255.4h0.9 M211.7,266.1h0.9 M260.4,239.7h0.9 M224.9,205.3h0.9 M294.4,206.6h0.9 M224.3,248.2h0.9 M230.5,224.5h0.9 M225.1,211.1h0.9 M230.7,239.0h0.9 M188.5,263.3h0.9 M218.0,271.3h0.9 M242.0,201.5h0.9 M203.1,233.8h0.9 M183.8,273.5h0.9 M180.8,274.3h0.9 M274.3,201.5h0.9 M258.6,218.4h0.9 M209.1,243.4h0.9 M234.6,232.5h0.9 M263.7,213.3h0.9 M302.7,204.4h0.9 M207.0,229.9h0.9 M207.1,253.6h0.9 M213.6,227.6h0.9 M289.7,201.4h0.9 M242.2,236.1h0.9 M279.8,215.2h0.9 M243.8,208.3h0.9 M229.1,228.1h0.9 M216.6,231.9h0.9 M192.7,279.0h0.9 M185.9,275.2h0.9 M218.0,265.9h0.9 M198.0,257.1h0.9 M223.5,225.1h0.9 M193.2,252.1h0.9 M238.0,224.3h0.9 M268.5,213.9h0.9 M198.2,247.7h0.9 M262.9,198.6h0.9 M235.5,205.4h0.9 M246.4,206.4h0.9 M229.4,214.2h0.9 M202.1,235.2h0.9 M251.9,211.7h0.9 M212.0,266.7h0.9 M264.1,203.5h0.9 M251.3,201.7h0.9 M223.5,215.6h0.9 M199.0,268.2h0.9 M249.4,215.0h0.9 M283.9,217.5h0.9 M228.4,230.7h0.9 M241.3,199.3h0.9 M184.5,265.7h0.9 M194.0,264.1h0.9 M240.9,215.0h0.9 M218.9,263.4h0.9 M213.8,241.0h0.9 M220.2,251.7h0.9 M247.4,225.7h0.9 M218.5,215.5h0.9 M201.6,235.9h0.9 M199.1,264.1h0.9 M204.5,248.0h0.9 M233.6,216.0h0.9 M261.0,207.9h0.9 M234.8,203.9h0.9 M278.4,224.5h0.9 M252.8,213.1h0.9 M243.0,214.4h0.9 M201.4,264.7h0.9 M217.2,253.8h0.9 M178.3,266.8h0.9 M284.4,220.2h0.9 M246.5,200.8h0.9 M240.4,214.0h0.9 M201.9,251.4h0.9 M233.8,201.1h0.9 M230.2,267.1h0.9 M270.0,221.8h0.9 M253.6,198.7h0.9 M216.1,237.4h0.9 M247.5,200.2h0.9 M295.4,205.5h0.9 M208.3,230.4h0.9 M241.7,199.8h0.9 M198.3,280.2h0.9 M232.5,219.1h0.9 M207.2,228.0h0.9 M261.3,203.8h0.9 M276.8,212.6h0.9 M252.8,226.5h0.9 M271.8,212.8h0.9 M252.5,202.1h0.9 M184.6,264.1h0.9 M189.3,253.0h0.9 M204.7,232.5h0.9 M284.1,211.3h0.9 M207.7,237.3h0.9 M179.5,266.1h0.9 M196.7,276.1h0.9 M292.7,205.8h0.9 M282.7,214.4h0.9 M288.8,204.7h0.9 M251.1,241.0h0.9 M271.4,223.3h0.9 M255.2,238.0h0.9 M268.7,221.3h0.9 M211.6,229.7h0.9 M251.6,217.2h0.9 M272.6,221.4h0.9 M183.1,263.8h0.9 M201.4,236.1h0.9 M192.7,248.4h0.9 M195.9,259.9h0.9 M218.5,217.4h0.9 M238.4,232.1h0.9 M240.1,206.5h0.9 M270.3,222.1h0.9 M274.0,226.5h0.9 M241.7,202.0h0.9 M199.2,264.0h0.9 M243.8,211.0h0.9 M193.0,249.1h0.9 M290.0,202.4h0.9 M233.6,258.3h0.9 M178.1,277.6h0.9 M246.2,200.1h0.9 M297.0,209.0h0.9 M198.8,271.4h0.9 M248.3,202.3h0.9 M197.5,253.0h0.9 M254.1,200.9h0.9 M276.0,201.4h0.9 M221.6,209.5h0.9 M223.1,232.1h0.9 M221.8,259.5h0.9 M200.4,252.2h0.9 M204.2,248.3h0.9 M211.3,245.3h0.9 M263.6,211.2h0.9 M217.5,245.5h0.9 M225.6,203.5h0.9 M284.3,199.9h0.9 M193.4,251.0h0.9 M205.9,229.7h0.9 M285.7,200.5h0.9 M239.5,227.4h0.9 M213.5,219.8h0.9 M238.0,201.5h0.9 M285.5,210.3h0.9 M223.8,216.3h0.9 M185.3,264.6h0.9 M212.9,268.4h0.9 M220.7,248.1h0.9 M220.5,245.5h0.9 M201.5,262.9h0.9 M231.7,250.0h0.9 M264.7,224.0h0.9 M294.0,205.2h0.9 M279.6,202.8h0.9 M231.9,211.1h0.9 M211.0,250.2h0.9 M246.4,216.7h0.9 M186.8,268.2h0.9 M254.3,219.5h0.9 M231.2,242.5h0.9 M279.3,224.4h0.9 M260.7,232.7h0.9 M230.8,249.2h0.9 M294.6,198.4h0.9 M212.7,244.1h0.9 M272.9,220.8h0.9 M187.1,267.3h0.9 M211.2,223.9h0.9 M215.1,239.5h0.9 M246.9,235.5h0.9 M232.9,258.6h0.9 M178.0,277.3h0.9 M270.3,206.4h0.9 M197.5,260.7h0.9 M194.2,249.5h0.9 M260.4,198.8h0.9 M238.4,233.4h0.9 M225.9,214.1h0.9 M196.4,264.4h0.9 M191.3,264.5h0.9 M264.3,218.1h0.9 M192.7,258.7h0.9 M236.4,206.1h0.9 M270.2,199.8h0.9 M233.3,201.2h0.9 M241.2,202.3h0.9 M199.0,246.3h0.9 M295.0,200.8h0.9 M211.0,254.9h0.9 M226.3,249.3h0.9 M260.1,212.0h0.9 M250.6,199.9h0.9 M214.6,225.5h0.9 M180.1,266.3h0.9 M208.5,264.9h0.9 M209.1,235.5h0.9 M262.6,226.3h0.9 M220.7,224.1h0.9 M221.7,208.9h0.9 M207.9,264.9h0.9 M227.6,208.0h0.9 M270.3,207.6h0.9 M300.0,203.2h0.9 M230.9,247.5h0.9 M280.8,201.5h0.9 M210.9,268.4h0.9 M270.9,219.5h0.9 M255.4,215.8h0.9 M233.8,251.1h0.9 M197.6,250.1h0.9 M192.0,259.1h0.9 M237.0,200.7h0.9 M255.5,206.0h0.9 M191.3,257.3h0.9 M271.4,207.0h0.9 M185.2,275.7h0.9 M207.8,262.5h0.9 M299.2,200.4h0.9 M268.3,213.4h0.9 M276.3,224.2h0.9 M237.1,231.5h0.9 M276.1,214.8h0.9 M227.5,250.8h0.9 M234.9,255.4h0.9 M289.4,199.7h0.9 M253.6,242.4h0.9 M285.4,218.0h0.9 M225.4,226.8h0.9 M272.3,205.1h0.9 M220.7,262.0h0.9 M230.6,205.3h0.9 M239.0,219.7h0.9 M273.1,198.5h0.9 M220.4,227.9h0.9 M254.1,200.1h0.9 M251.1,209.0h0.9 M188.2,259.5h0.9 M190.1,263.0h0.9 M210.1,228.5h0.9 M196.4,261.6h0.9 M274.9,213.0h0.9 M223.7,268.7h0.9 M258.0,219.0h0.9 M212.9,246.0h0.9 M256.5,236.3h0.9 M222.9,255.0h0.9 M258.5,202.0h0.9 M251.1,222.9h0.9 M178.7,269.3h0.9 M301.9,202.1h0.9 M237.6,227.9h0.9 M212.6,250.7h0.9 M201.9,254.0h0.9 M271.0,201.2h0.9 M185.4,266.2h0.9 M221.3,225.9h0.9 M196.9,244.6h0.9 M192.6,251.5h0.9 M176.9,268.9h0.9 M284.3,202.9h0.9 M296.3,211.1h0.9 M265.9,208.2h0.9 M295.4,204.6h0.9 M266.8,209.9h0.9 M272.9,201.6h0.9 M278.7,207.1h0.9 M176.5,270.5h0.9 M278.0,212.7h0.9 M189.7,257.2h0.9 M303.3,205.1h0.9 M252.1,236.6h0.9 M282.7,199.5h0.9 M248.9,235.3h0.9 M196.2,246.1h0.9 M255.6,201.4h0.9 M297.5,198.5h0.9 M246.1,245.0h0.9 M264.3,205.1h0.9 M179.4,278.3h0.9 M216.6,238.9h0.9 M195.1,275.8h0.9 M206.8,233.6h0.9 M177.9,267.1h0.9 M286.2,200.6h0.9 M221.2,246.1h0.9 M226.5,221.2h0.9 M264.4,209.5h0.9 M199.9,240.4h0.9 M281.8,205.0h0.9 M222.7,250.2h0.9 M282.1,207.3h0.9 M198.0,259.3h0.9 M246.4,232.1h0.9 M284.3,206.3h0.9 M285.2,213.6h0.9 M223.1,205.5h0.9 M228.4,223.8h0.9 M208.3,253.0h0.9 M225.6,226.2h0.9 M181.2,269.1h0.9 M238.1,216.9h0.9 M255.0,218.6h0.9 M251.2,203.2h0.9 M266.5,213.5h0.9 M177.8,271.1h0.9 M251.5,243.9h0.9 M223.0,245.6h0.9 M204.1,233.1h0.9 M273.8,222.2h0.9 M217.5,216.7h0.9 M262.5,216.8h0.9 M238.8,214.4h0.9 M282.8,200.0h0.9 M252.6,212.0h0.9 M240.3,231.0h0.9 M224.1,243.0h0.9 M187.2,264.2h0.9 M218.0,220.0h0.9 M236.8,246.9h0.9 M225.6,221.3h0.9 M201.7,269.0h0.9 M274.7,201.6h0.9 M240.9,210.9h0.9 M234.6,223.5h0.9 M275.7,215.9h0.9 M242.8,201.7h0.9 M228.5,234.8h0.9 M231.2,224.8h0.9 M194.8,250.0h0.9 M203.6,273.8h0.9 M237.8,206.8h0.9 M183.4,267.7h0.9 M281.7,205.0h0.9 M292.6,201.6h0.9 M215.1,229.0h0.9 M230.0,220.1h0.9 M233.2,229.2h0.9 M211.4,270.1h0.9 M218.4,227.2h0.9 M214.1,239.5h0.9 M191.8,258.6h0.9 M285.6,218.5h0.9 M228.9,239.0h0.9 M267.4,198.9h0.9 M247.9,242.6h0.9 M228.5,236.1h0.9 M201.4,276.3h0.9 M256.0,198.8h0.9 M218.3,233.4h0.9 M254.1,223.6h0.9 M210.1,229.6h0.9 M254.7,243.3h0.9 M217.8,236.1h0.9 M239.0,223.4h0.9 M294.6,200.6h0.9 M251.9,226.6h0.9 M269.4,200.4h0.9 M257.5,206.6h0.9 M256.8,223.4h0.9 M297.1,197.9h0.9 M218.8,218.0h0.9 M248.7,242.7h0.9 M185.8,268.4h0.9 M225.4,230.3h0.9 M252.4,233.4h0.9 M240.8,208.6h0.9 M289.6,208.2h0.9 M239.4,208.2h0.9 M237.5,240.0h0.9 M235.2,220.0h0.9 M247.8,218.9h0.9 M228.0,210.5h0.9 M222.6,204.7h0.9 M216.0,222.8h0.9 M217.6,248.8h0.9 M193.7,279.2h0.9 M209.0,251.9h0.9 M234.8,231.9h0.9 M208.1,251.3h0.9 M266.7,230.8h0.9 M225.3,265.0h0.9 M253.2,216.0h0.9 M208.8,238.8h0.9 M270.3,227.9h0.9 M188.8,258.4h0.9 M278.2,199.6h0.9 M251.3,225.5h0.9 M265.9,212.2h0.9 M224.6,202.5h0.9 M175.2,278.7h0.9 M243.8,233.6h0.9 M251.2,200.7h0.9 M277.7,205.7h0.9 M257.4,208.8h0.9 M281.9,200.0h0.9 M274.1,204.2h0.9 M182.7,279.8h0.9 M244.8,215.2h0.9 M211.8,224.2h0.9 M270.7,207.3h0.9 M218.4,245.9h0.9 M223.7,204.4h0.9 M211.5,221.4h0.9 M180.4,278.7h0.9 M262.2,206.4h0.9 M185.0,259.7h0.9 M268.2,230.2h0.9 M233.0,210.7h0.9 M274.4,202.7h0.9 M260.1,215.3h0.9 M250.2,229.9h0.9 M264.7,225.9h0.9 M236.3,240.6h0.9 M227.8,240.3h0.9 M239.9,236.3h0.9 M253.5,201.6h0.9 M262.7,198.3h0.9 M248.1,220.9h0.9 M206.1,245.8h0.9 M265.1,223.1h0.9 M195.8,246.0h0.9 M225.1,254.8h0.9 M204.1,233.1h0.9 M238.0,200.6h0.9 M262.1,204.4h0.9 M287.6,203.4h0.9 M222.8,264.6h0.9 M263.0,200.0h0.9 M196.6,265.7h0.9 M207.9,266.3h0.9 M245.3,214.5h0.9 M255.8,227.1h0.9 M196.4,247.0h0.9 M253.4,198.5h0.9 M203.7,240.9h0.9 M270.3,208.3h0.9 M207.8,231.4h0.9 M240.6,235.7h0.9 M281.2,213.8h0.9 M235.8,256.4h0.9 M281.7,203.0h0.9 M263.8,226.3h0.9 M248.8,217.4h0.9 M303.1,203.1h0.9 M185.6,261.6h0.9 M222.7,221.1h0.9 M203.6,275.9h0.9 M222.5,225.4h0.9 M252.6,245.4h0.9 M244.5,221.8h0.9 M222.5,206.3h0.9 M180.1,275.6h0.9 M233.2,204.9h0.9 M267.0,228.1h0.9 M194.3,246.3h0.9 M217.9,215.2h0.9 M221.5,226.1h0.9 M190.9,260.8h0.9 M248.4,207.5h0.9 M242.5,232.3h0.9 M301.5,207.1h0.9 M200.1,242.3h0.9 M231.4,200.9h0.9 M275.7,200.6h0.9 M209.5,261.9h0.9 M267.9,201.7h0.9 M196.4,247.6h0.9 M201.6,255.9h0.9 M222.4,268.2h0.9 M215.4,217.5h0.9 M194.9,248.1h0.9 M212.8,230.1h0.9 M235.4,224.7h0.9 M211.2,250.0h0.9 M199.6,239.4h0.9 M222.0,238.2h0.9 M262.4,198.2h0.9 M292.8,204.4h0.9 M253.6,198.7h0.9 M177.9,267.3h0.9 M284.7,201.7h0.9 M269.7,198.1h0.9 M211.0,227.2h0.9 M202.2,258.9h0.9 M275.0,212.3h0.9 M233.3,204.6h0.9 M256.4,213.4h0.9 M196.1,251.3h0.9 M208.4,280.0h0.9 M210.0,256.5h0.9 M234.4,224.9h0.9 M208.6,245.2h0.9 M285.8,201.1h0.9 M215.1,236.2h0.9 M188.6,255.9h0.9 M244.6,220.4h0.9 M298.5,204.3h0.9 M216.6,214.9h0.9 M260.0,204.3h0.9 M265.3,204.3h0.9 M268.0,211.4h0.9 M211.1,258.6h0.9 M210.7,233.3h0.9 M234.3,200.8h0.9 M184.0,263.9h0.9 M218.1,226.1h0.9 M206.7,237.2h0.9 M190.4,272.0h0.9 M216.0,261.9h0.9 M262.9,223.1h0.9 M217.3,256.8h0.9 M202.4,238.1h0.9 M302.8,203.0h0.9 M245.0,243.9h0.9 M245.3,232.6h0.9 M223.2,247.1h0.9 M241.7,200.1h0.9 M275.2,213.3h0.9 M301.4,205.1h0.9 M303.8,198.0h0.9 M239.1,254.1h0.9 M206.6,239.1h0.9 M215.9,272.5h0.9 M248.0,202.1h0.9 M231.9,211.1h0.9 M274.2,213.6h0.9 M202.4,267.8h0.9 M273.1,222.1h0.9 M210.7,223.4h0.9 M196.3,263.1h0.9 M227.5,230.2h0.9 M181.4,264.2h0.9 M185.7,274.5h0.9 M259.0,237.6h0.9 M222.8,253.6h0.9 M225.4,258.8h0.9 M198.8,262.9h0.9 M259.9,222.0h0.9 M223.6,208.0h0.9 M180.6,274.2h0.9 M267.3,223.8h0.9 M210.9,271.0h0.9 M178.0,267.0h0.9 M283.9,215.3h0.9 M286.3,204.7h0.9 M209.0,232.5h0.9 M215.0,223.9h0.9 M231.7,218.6h0.9 M291.4,197.9h0.9 M230.8,219.2h0.9 M248.8,228.2h0.9 M230.5,217.3h0.9 M203.2,234.2h0.9 M251.8,202.9h0.9 M239.1,208.0h0.9 M191.8,253.4h0.9 M237.0,236.1h0.9 M232.5,210.5h0.9 M187.4,261.6h0.9 M273.9,223.4h0.9 M232.6,210.1h0.9 M194.5,270.5h0.9 M294.9,199.2h0.9 M227.9,249.9h0.9 M280.6,221.3h0.9 M272.2,224.1h0.9 M222.8,216.1h0.9 M242.4,231.0h0.9 M230.3,234.8h0.9 M276.7,228.8h0.9 M281.3,200.2h0.9 M270.9,205.2h0.9 M282.6,198.3h0.9 M256.2,233.5h0.9 M184.6,276.2h0.9 M176.4,278.0h0.9 M301.6,203.4h0.9 M266.7,212.3h0.9 M211.9,223.6h0.9 M279.8,202.0h0.9 M252.2,238.1h0.9 M194.4,247.0h0.9 M206.8,234.0h0.9 M259.9,226.1h0.9 M300.6,198.3h0.9 M214.9,218.9h0.9 M213.1,257.2h0.9 M252.9,221.1h0.9 M229.0,208.6h0.9 M219.8,235.6h0.9 M214.5,233.7h0.9 M270.5,211.2h0.9 M225.5,235.9h0.9 M217.6,233.0h0.9 M247.5,226.7h0.9 M224.2,202.8h0.9 M225.9,208.1h0.9 M242.4,207.4h0.9 M238.8,213.3h0.9 M274.2,216.6h0.9 M248.6,243.4h0.9 M178.4,273.3h0.9 M263.9,221.3h0.9 M258.4,201.1h0.9 M241.9,200.5h0.9 M251.5,228.3h0.9 M300.1,203.7h0.9 M239.7,210.8h0.9 M245.7,215.7h0.9 M280.5,212.6h0.9 M176.3,269.3h0.9 M229.9,241.1h0.9 M267.9,206.1h0.9 M237.7,202.2h0.9 M217.5,249.0h0.9 M286.6,206.9h0.9 M304.4,201.8h0.9 M175.3,280.8h0.9 M205.0,246.7h0.9 M198.0,277.9h0.9 M207.9,257.1h0.9 M202.4,278.4h0.9 M182.1,277.8h0.9 M197.0,250.0h0.9 M259.8,238.9h0.9 M242.4,215.4h0.9 M292.3,198.7h0.9 M210.1,246.4h0.9 M223.9,202.9h0.9 M200.1,262.2h0.9 M235.9,200.3h0.9 M200.0,245.0h0.9 M182.8,267.8h0.9 M231.8,200.9h0.9 M217.1,225.9h0.9 M240.2,227.3h0.9 M295.7,203.9h0.9 M262.7,214.6h0.9 M252.4,216.1h0.9 M271.3,226.2h0.9 M232.5,217.0h0.9 M248.4,223.4h0.9 M202.6,241.0h0.9 M211.9,227.2h0.9 M261.9,205.8h0.9 M258.0,225.1h0.9 M178.7,275.3h0.9 M291.3,214.4h0.9 M284.1,199.6h0.9 M274.0,222.3h0.9 M291.3,198.5h0.9 M221.5,254.2h0.9 M226.7,219.9h0.9 M219.9,218.3h0.9 M240.5,231.8h0.9 M249.1,219.9h0.9 M184.6,267.7h0.9 M258.8,201.6h0.9 M228.6,257.8h0.9 M192.4,265.4h0.9 M241.5,209.5h0.9 M251.5,203.8h0.9 M243.7,257.2h0.9 M175.9,269.9h0.9 M243.9,242.6h0.9 M253.6,199.8h0.9 M255.5,240.8h0.9 M242.7,223.3h0.9 M239.2,217.7h0.9 M301.3,207.4h0.9 M189.2,264.1h0.9 M200.4,237.5h0.9 M301.4,200.0h0.9 M242.6,230.0h0.9 M222.2,232.7h0.9 M275.1,227.1h0.9 M255.4,200.4h0.9 M237.8,230.2h0.9 M234.7,214.9h0.9 M257.4,215.8h0.9 M283.3,214.3h0.9 M195.0,276.7h0.9 M223.1,254.4h0.9 M205.5,247.3h0.9 M277.7,220.7h0.9 M180.9,268.7h0.9 M187.1,258.6h0.9 M303.4,203.0h0.9 M239.7,204.7h0.9 M221.8,205.7h0.9 M218.4,213.4h0.9 M278.5,201.7h0.9 M194.8,269.7h0.9 M274.1,224.0h0.9 M238.0,201.0h0.9 M263.4,200.9h0.9 M217.2,236.2h0.9 M184.8,259.6h0.9 M232.9,222.2h0.9 M225.4,243.6h0.9 M234.5,226.5h0.9 M279.1,205.5h0.9 M267.0,211.5h0.9 M216.1,236.3h0.9 M225.2,254.9h0.9 M244.4,227.3h0.9 M268.2,214.9h0.9 M180.8,269.8h0.9 M235.4,236.7h0.9 M293.4,206.1h0.9 M272.8,217.7h0.9 M235.5,223.2h0.9 M265.1,200.1h0.9 M240.2,208.8h0.9 M182.0,277.7h0.9 M276.9,217.9h0.9 M237.0,200.7h0.9 M227.8,203.6h0.9 M265.4,198.8h0.9 M273.3,203.1h0.9 M197.8,267.5h0.9 M197.6,274.3h0.9 M203.5,232.9h0.9 M238.1,201.2h0.9 M270.0,207.4h0.9 M270.9,202.3h0.9 M232.8,258.7h0.9 M212.5,231.2h0.9 M297.6,201.0h0.9 M186.0,273.2h0.9 M213.2,219.2h0.9 M220.4,253.0h0.9 M253.9,239.2h0.9 M277.2,217.2h0.9 M188.8,269.0h0.9 M198.6,249.7h0.9 M291.1,215.2h0.9 M233.7,219.0h0.9 M222.7,265.7h0.9 M241.6,250.7h0.9 M176.1,273.8h0.9 M205.7,267.9h0.9 M251.6,221.5h0.9 M228.1,214.1h0.9 M258.7,214.3h0.9 M229.8,207.4h0.9 M212.1,226.4h0.9 M250.1,200.3h0.9 M228.2,207.5h0.9 M177.4,268.6h0.9 M238.9,215.6h0.9 M266.4,215.8h0.9 M266.4,204.8h0.9 M211.3,272.3h0.9 M215.7,237.6h0.9 M256.3,204.1h0.9 M246.0,238.8h0.9 M215.8,236.9h0.9 M205.2,267.8h0.9 M202.0,254.1h0.9 M224.4,210.8h0.9 M274.2,209.3h0.9 M239.4,211.1h0.9 M275.2,199.6h0.9 M245.3,226.1h0.9 M196.4,243.6h0.9 M219.8,209.1h0.9 M255.7,222.4h0.9 M284.5,204.8h0.9 M298.8,198.1h0.9 M251.5,243.2h0.9 M235.9,204.0h0.9 M283.6,199.9h0.9 M273.4,204.7h0.9 M228.6,261.5h0.9 M230.0,220.5h0.9 M264.4,200.6h0.9 M215.9,223.0h0.9 M190.5,254.1h0.9 M245.4,202.4h0.9 M194.3,284.5h0.9 M216.4,217.2h0.9 M246.9,219.0h0.9 M255.2,201.9h0.9 M283.5,200.0h0.9 M245.4,216.5h0.9 M238.1,199.8h0.9 M216.8,264.0h0.9 M204.9,274.2h0.9 M203.6,232.8h0.9 M220.2,261.0h0.9 M235.5,203.9h0.9 M209.4,235.1h0.9 M236.1,216.9h0.9 M283.0,205.6h0.9 M237.8,255.4h0.9 M295.2,203.0h0.9 M244.3,204.1h0.9 M226.3,227.7h0.9 M269.9,221.8h0.9 M220.9,236.2h0.9 M273.2,199.8h0.9 M203.0,251.3h0.9 M228.1,250.6h0.9 M197.2,246.3h0.9 M195.0,251.4h0.9 M220.6,218.2h0.9 M222.8,265.8h0.9 M221.9,219.0h0.9 M234.4,240.9h0.9 M188.6,277.3h0.9 M211.2,226.2h0.9 M214.1,239.1h0.9 M211.0,226.4h0.9 M291.4,201.0h0.9 M223.8,263.6h0.9 M222.5,230.8h0.9 M230.4,204.7h0.9 M201.8,262.0h0.9 M275.7,204.0h0.9 M192.9,261.1h0.9 M227.0,233.0h0.9 M249.2,228.6h0.9 M244.0,240.5h0.9 M198.0,261.2h0.9 M206.7,250.5h0.9 M236.1,245.3h0.9 M244.6,222.2h0.9 M189.4,278.7h0.9 M241.7,204.1h0.9 M257.5,241.4h0.9 M265.4,200.3h0.9 M252.6,203.1h0.9 M215.4,219.3h0.9 M200.1,249.2h0.9 M225.1,203.5h0.9 M191.6,269.6h0.9 M246.6,247.9h0.9 M186.0,259.3h0.9 M254.5,233.0h0.9 M230.1,218.4h0.9 M248.8,214.3h0.9 M252.5,205.4h0.9 M181.0,267.5h0.9 M240.0,201.4h0.9 M219.1,211.1h0.9 M182.8,277.4h0.9 M245.9,217.2h0.9 M220.3,213.3h0.9 M292.6,206.1h0.9 M236.3,204.1h0.9 M219.8,262.9h0.9 M196.9,263.0h0.9 M202.1,238.9h0.9 M214.3,230.1h0.9 M230.9,247.0h0.9 M293.7,198.0h0.9 M269.2,218.7h0.9 M277.5,216.7h0.9 M213.2,247.9h0.9 M182.1,271.6h0.9 M218.9,213.0h0.9 M279.3,199.9h0.9 M237.5,221.7h0.9 M194.5,248.0h0.9 M212.8,219.4h0.9 M261.0,228.6h0.9 M295.9,208.1h0.9 M227.0,208.0h0.9 M222.7,209.3h0.9 M269.0,205.8h0.9 M246.0,239.0h0.9 M273.8,213.5h0.9 M210.8,232.2h0.9 M215.6,223.2h0.9 M231.4,243.1h0.9 M295.3,211.2h0.9 M185.6,258.9h0.9 M208.3,270.9h0.9 M200.7,271.3h0.9 M237.1,213.4h0.9 M183.3,266.0h0.9 M276.9,211.4h0.9 M236.4,246.0h0.9 M252.3,209.2h0.9 M243.1,224.8h0.9 M273.1,198.8h0.9 M225.4,208.9h0.9 M252.9,228.1h0.9 M217.0,245.1h0.9 M266.5,225.2h0.9 M206.8,254.7h0.9 M279.3,200.3h0.9 M266.2,213.3h0.9 M251.8,214.1h0.9 M239.1,227.7h0.9 M213.1,219.6h0.9 M209.7,240.6h0.9 M253.8,204.0h0.9 M267.2,199.7h0.9 M192.8,265.3h0.9 M264.9,198.6h0.9 M282.3,211.1h0.9 M247.2,226.2h0.9 M295.3,211.8h0.9 M231.0,218.7h0.9 M237.8,206.7h0.9 M274.7,201.0h0.9 M201.9,238.8h0.9 M188.6,263.6h0.9 M269.8,199.3h0.9 M199.6,259.9h0.9 M245.3,218.5h0.9 M183.4,278.6h0.9 M278.4,221.3h0.9 M274.9,214.6h0.9 M253.2,234.8h0.9 M229.8,242.6h0.9 M276.7,219.7h0.9 M219.9,218.7h0.9 M227.8,262.5h0.9 M239.5,199.7h0.9 M233.7,213.1h0.9 M274.1,217.7h0.9 M253.0,202.7h0.9 M234.9,221.8h0.9 M281.2,201.4h0.9 M222.6,225.2h0.9 M238.2,202.0h0.9 M194.8,275.7h0.9 M282.3,202.6h0.9 M227.1,218.0h0.9 M263.7,238.8h0.9 M252.4,203.0h0.9 M215.8,261.1h0.9 M258.4,226.4h0.9 M238.1,201.9h0.9 M225.5,225.4h0.9 M233.9,201.5h0.9 M179.7,274.6h0.9 M271.5,209.5h0.9 M222.0,226.1h0.9 M228.9,214.9h0.9 M202.9,253.0h0.9 M237.0,210.1h0.9 M220.7,251.0h0.9 M255.3,237.4h0.9 M230.4,202.6h0.9 M215.3,254.3h0.9 M230.7,234.9h0.9 M184.2,267.4h0.9 M225.0,211.0h0.9 M226.9,213.1h0.9 M276.0,206.2h0.9 M231.6,212.7h0.9 M274.3,202.7h0.9 M236.9,227.0h0.9 M231.4,245.8h0.9 M190.6,258.6h0.9 M257.3,199.0h0.9 M185.3,269.5h0.9 M181.3,264.0h0.9 M202.9,260.6h0.9 M226.8,218.4h0.9 M256.9,214.0h0.9 M215.0,218.6h0.9 M239.8,213.6h0.9 M212.2,228.1h0.9 M232.7,219.5h0.9 M240.1,219.4h0.9 M252.2,239.3h0.9 M260.8,199.9h0.9 M264.4,198.8h0.9 M280.6,219.2h0.9 M203.6,255.7h0.9 M219.3,210.4h0.9 M236.4,202.6h0.9 M294.1,211.2h0.9 M221.4,239.1h0.9 M205.4,232.0h0.9 M293.1,212.6h0.9 M200.5,269.9h0.9 M222.8,209.6h0.9 M177.9,277.9h0.9 M227.9,222.9h0.9 M235.2,255.6h0.9 M283.6,198.9h0.9 M215.3,263.4h0.9 M224.2,219.5h0.9 M258.1,208.4h0.9 M283.0,205.3h0.9 M235.7,248.1h0.9 M267.2,204.2h0.9 M288.6,202.8h0.9 M241.1,222.9h0.9 M234.0,208.0h0.9 M244.3,202.2h0.9 M250.4,211.6h0.9 M230.1,225.9h0.9 M201.3,253.7h0.9 M258.0,206.8h0.9 M222.5,213.4h0.9 M216.8,249.9h0.9 M177.7,276.4h0.9 M206.6,229.3h0.9 M240.2,225.2h0.9 M233.1,221.0h0.9 M215.8,234.4h0.9 M240.5,213.4h0.9 M177.1,275.8h0.9 M217.3,228.8h0.9 M257.5,212.8h0.9 M304.4,203.1h0.9 M253.2,244.1h0.9 M276.1,211.9h0.9 M197.1,247.1h0.9 M285.1,201.9h0.9 M287.9,218.0h0.9 M252.1,201.9h0.9 M266.2,212.1h0.9 M209.4,270.3h0.9 M230.5,226.7h0.9 M186.0,268.4h0.9 M261.6,217.7h0.9 M238.1,228.6h0.9 M245.8,214.8h0.9 M249.2,231.2h0.9 M298.3,198.2h0.9 M253.4,227.0h0.9 M280.9,221.2h0.9 M251.9,235.4h0.9 M226.8,201.8h0.9 M276.6,200.9h0.9 M232.1,232.9h0.9 M201.3,248.2h0.9 M179.0,267.5h0.9 M266.9,214.9h0.9 M285.8,211.6h0.9 M225.6,205.2h0.9 M274.4,222.3h0.9 M258.3,198.5h0.9 M234.3,201.2h0.9 M206.1,233.5h0.9 M254.5,203.0h0.9 M270.5,198.8h0.9 M205.5,260.0h0.9 M292.1,201.0h0.9 M182.7,279.5h0.9 M252.1,208.2h0.9 M256.6,202.7h0.9 M234.7,227.8h0.9 M272.8,222.5h0.9 M175.7,271.1h0.9 M224.7,209.8h0.9 M190.6,259.9h0.9 M232.8,205.9h0.9 M280.4,201.2h0.9 M264.6,231.7h0.9 M242.7,224.1h0.9 M284.8,201.9h0.9 M227.9,202.2h0.9 M251.1,247.2h0.9 M302.5,205.1h0.9 M270.7,206.9h0.9 M258.5,234.1h0.9 M205.2,264.8h0.9 M264.6,225.5h0.9 M235.4,207.0h0.9 M283.8,217.4h0.9 M248.6,198.8h0.9 M198.6,241.2h0.9 M237.6,254.6h0.9 M292.6,211.1h0.9 M285.8,213.7h0.9 M283.7,215.7h0.9 M199.0,248.4h0.9 M179.8,267.5h0.9 M233.1,203.2h0.9 M277.8,203.2h0.9 M227.1,243.4h0.9 M220.9,214.4h0.9 M271.9,206.3h0.9 M232.8,210.8h0.9 M220.1,258.0h0.9 M264.8,205.5h0.9 M268.5,198.6h0.9 M258.1,238.6h0.9 M261.3,234.6h0.9 M197.8,242.2h0.9 M298.9,200.8h0.9 M202.2,252.6h0.9 M226.6,202.1h0.9 M254.6,207.3h0.9 M236.8,200.4h0.9 M229.5,245.4h0.9 M211.7,221.3h0.9 M230.4,217.5h0.9 M217.7,235.0h0.9 M285.7,203.3h0.9 M213.1,237.3h0.9 M282.6,203.0h0.9 M197.4,253.2h0.9 M223.1,253.1h0.9 M251.3,199.9h0.9 M208.0,263.9h0.9 M181.2,270.4h0.9 M294.0,198.2h0.9 M233.2,262.6h0.9 M267.5,199.5h0.9 M254.7,207.3h0.9 M252.7,204.8h0.9 M187.0,264.3h0.9 M228.2,212.6h0.9 M277.7,198.4h0.9 M226.0,238.8h0.9 M217.8,212.2h0.9 M244.2,246.4h0.9 M290.3,205.2h0.9 M244.0,238.7h0.9 M251.0,222.8h0.9 M234.4,200.6h0.9 M220.0,226.2h0.9 M216.8,232.6h0.9 M224.3,249.9h0.9 M249.0,226.6h0.9 M220.2,239.7h0.9 M207.1,260.4h0.9 M220.7,223.4h0.9 M257.9,238.6h0.9 M189.0,262.1h0.9 M253.7,237.2h0.9 M243.9,199.8h0.9 M220.9,235.2h0.9 M229.1,215.9h0.9 M228.4,204.0h0.9 M206.4,233.8h0.9 M250.8,236.1h0.9 M221.1,232.1h0.9 M267.8,208.0h0.9 M209.9,270.4h0.9 M221.9,207.0h0.9 M242.3,225.8h0.9 M219.2,240.9h0.9 M198.0,265.2h0.9 M207.0,228.5h0.9 M273.5,203.9h0.9 M267.2,202.4h0.9 M288.3,206.2h0.9 M231.5,243.8h0.9 M236.6,242.9h0.9 M232.7,251.7h0.9 M255.0,223.5h0.9 M204.3,243.0h0.9 M246.5,200.4h0.9 M280.3,198.6h0.9 M202.3,235.2h0.9 M233.7,216.5h0.9 M295.0,198.0h0.9 M210.9,234.4h0.9 M291.1,199.9h0.9 M242.8,201.6h0.9 M281.3,209.8h0.9 M236.6,253.2h0.9 M228.5,256.3h0.9 M265.0,202.5h0.9 M255.3,198.7h0.9 M211.5,246.8h0.9 M271.5,198.1h0.9 M205.2,259.9h0.9 M200.3,264.3h0.9 M294.1,202.6h0.9 M213.2,238.0h0.9 M223.2,225.2h0.9 M229.8,205.9h0.9 M221.8,211.1h0.9 M184.4,279.5h0.9 M176.2,271.9h0.9 M300.4,198.1h0.9 M286.2,201.2h0.9 M230.3,214.5h0.9 M185.1,271.1h0.9 M276.8,224.5h0.9 M265.5,207.3h0.9 M301.4,203.3h0.9 M235.7,223.0h0.9 M247.7,222.3h0.9 M239.6,206.1h0.9 M251.0,210.9h0.9 M283.6,217.9h0.9 M192.8,274.3h0.9 M277.6,206.6h0.9 M205.2,255.2h0.9 M245.4,199.0h0.9 M286.3,198.7h0.9 M286.5,214.4h0.9 M243.2,237.7h0.9 M222.1,227.1h0.9 M302.4,204.5h0.9 M220.7,266.5h0.9 M203.5,265.2h0.9 M244.7,202.7h0.9 M203.2,239.8h0.9 M234.8,251.1h0.9 M212.2,220.2h0.9 M225.7,234.7h0.9 M198.9,240.5h0.9 M292.4,212.7h0.9 M233.6,212.3h0.9 M235.0,249.8h0.9 M266.1,210.8h0.9 M197.8,262.7h0.9 M250.5,206.4h0.9 M206.1,281.3h0.9 M279.1,210.8h0.9 M245.7,231.8h0.9 M182.7,264.4h0.9 M208.0,233.6h0.9 M252.1,240.2h0.9 M260.1,234.5h0.9 M230.1,219.7h0.9 M252.5,204.6h0.9 M260.8,198.2h0.9 M271.5,220.5h0.9 M185.7,260.0h0.9 M290.2,198.1h0.9 M176.4,275.6h0.9 M183.0,278.5h0.9 M180.6,265.2h0.9 M221.2,214.4h0.9 M193.9,248.3h0.9 M230.0,202.7h0.9 M191.4,272.7h0.9 M237.9,222.3h0.9 M243.9,233.6h0.9 M266.5,212.3h0.9 M212.7,221.7h0.9 M230.4,227.4h0.9 M277.9,207.7h0.9 M254.5,205.1h0.9 M192.2,269.7h0.9 M267.0,210.9h0.9 M215.4,215.5h0.9 M267.9,220.2h0.9 M211.4,233.4h0.9 M198.6,271.8h0.9 M273.6,224.2h0.9 M210.1,233.8h0.9 M274.2,224.9h0.9 M281.4,211.1h0.9 M200.8,242.8h0.9 M271.2,209.1h0.9 M230.5,214.4h0.9 M238.0,202.9h0.9 M211.9,268.6h0.9 M255.5,214.2h0.9 M230.1,202.3h0.9 M299.1,197.9h0.9 M219.1,219.9h0.9 M241.8,240.9h0.9 M292.6,198.5h0.9 M293.4,210.5h0.9 M275.8,219.6h0.9 M289.5,209.6h0.9 M200.4,279.4h0.9 M257.9,232.5h0.9 M232.4,217.3h0.9 M215.6,231.1h0.9 M246.7,226.9h0.9 M206.5,269.7h0.9 M210.7,222.8h0.9 M204.1,232.3h0.9 M199.3,246.1h0.9 M206.3,252.0h0.9 M243.8,207.7h0.9 M214.6,218.3h0.9 M240.8,200.1h0.9 M212.6,224.9h0.9 M256.1,209.2h0.9 M265.9,229.3h0.9 M304.3,198.1h0.9 M281.8,210.5h0.9 M275.8,209.9h0.9 M234.3,210.2h0.9 M249.5,228.7h0.9 M233.1,248.5h0.9 M289.8,198.1h0.9 M205.7,239.5h0.9 M236.1,244.4h0.9 M287.4,198.1h0.9 M302.5,199.9h0.9 M214.0,220.0h0.9 M253.8,210.5h0.9 M196.1,269.3h0.9 M299.8,197.9h0.9 M232.1,222.8h0.9 M288.4,204.9h0.9 M252.1,227.7h0.9 M214.0,240.0h0.9 M209.6,267.7h0.9 M208.2,228.8h0.9 M182.1,270.3h0.9 M228.3,225.6h0.9 M239.7,201.5h0.9 M205.7,230.8h0.9 M220.7,250.2h0.9 M200.9,252.4h0.9 M294.5,205.5h0.9 M234.5,227.4h0.9 M248.5,206.0h0.9 M219.1,234.8h0.9 M253.3,198.6h0.9 M261.6,221.3h0.9 M221.4,263.1h0.9 M228.8,268.1h0.9 M242.3,199.2h0.9 M301.7,199.2h0.9 M294.7,199.1h0.9 M204.8,255.3h0.9 M214.0,253.7h0.9 M212.4,223.8h0.9 M189.7,280.4h0.9 M290.3,206.5h0.9 M180.7,267.5h0.9 M280.9,205.3h0.9 M220.4,258.0h0.9 M267.4,218.1h0.9 M231.9,215.3h0.9 M229.0,213.5h0.9 M198.5,250.6h0.9 M249.2,228.5h0.9 M204.0,239.5h0.9 M203.4,270.2h0.9 M288.6,202.1h0.9 M268.7,206.5h0.9 M228.5,226.5h0.9 M247.7,243.8h0.9 M229.7,220.7h0.9 M223.1,264.0h0.9 M220.5,243.9h0.9 M215.3,220.3h0.9 M224.5,243.9h0.9 M199.3,252.0h0.9 M213.4,256.8h0.9 M189.3,257.7h0.9 M191.6,259.0h0.9 M215.3,237.7h0.9 M237.0,210.7h0.9 M283.1,206.9h0.9 M271.5,201.4h0.9 M232.6,217.9h0.9 M228.5,203.9h0.9 M236.3,216.5h0.9 M300.5,199.1h0.9 M182.2,266.8h0.9 M235.3,207.6h0.9 M300.5,201.0h0.9 M219.7,211.7h0.9 M273.9,209.9h0.9 M256.7,225.4h0.9 M242.0,233.5h0.9 M209.9,258.4h0.9 M299.3,209.8h0.9 M278.0,198.3h0.9 M201.2,279.4h0.9 M192.3,255.7h0.9 M228.8,249.2h0.9 M230.4,252.5h0.9 M200.1,240.6h0.9 M293.5,212.9h0.9 M223.2,205.8h0.9 M235.3,259.1h0.9 M287.3,214.8h0.9 M221.8,266.1h0.9 M235.9,244.3h0.9 M237.5,250.0h0.9 M239.4,239.4h0.9 M197.9,278.1h0.9 M200.5,264.0h0.9 M264.3,198.8h0.9 M207.3,230.9h0.9 M256.0,229.8h0.9 M247.4,210.5h0.9 M189.9,255.0h0.9 M283.9,204.4h0.9 M223.4,216.7h0.9 M194.4,246.6h0.9 M209.9,237.5h0.9 M248.3,206.3h0.9 M243.9,204.5h0.9 M231.7,201.3h0.9 M270.0,206.3h0.9 M267.8,226.5h0.9 M292.0,215.8h0.9 M239.8,219.3h0.9 M209.8,274.2h0.9 M265.4,207.1h0.9 M284.0,202.8h0.9 M270.4,221.4h0.9 M233.8,204.0h0.9 M292.2,201.7h0.9 M233.6,227.2h0.9 M219.1,232.6h0.9 M200.9,237.6h0.9 M280.3,204.8h0.9 M208.7,239.6h0.9 M226.2,262.3h0.9 M191.3,250.5h0.9 M299.1,200.0h0.9 M225.7,262.9h0.9 M214.6,234.7h0.9 M239.5,243.2h0.9 M257.4,224.4h0.9 M246.2,208.4h0.9 M287.8,210.5h0.9 M229.3,223.5h0.9 M269.1,235.9h0.9 M222.5,206.9h0.9 M210.4,264.6h0.9 M276.5,199.6h0.9 M195.6,245.6h0.9 M214.0,229.3h0.9 M266.4,208.1h0.9 M205.7,240.9h0.9 M291.4,209.9h0.9 M217.0,254.1h0.9 M184.4,279.1h0.9 M219.4,219.3h0.9 M230.3,210.4h0.9 M290.4,198.2h0.9 M284.5,214.2h0.9 M300.1,198.0h0.9 M280.7,203.0h0.9 M226.7,229.9h0.9 M218.5,215.6h0.9 M284.0,222.0h0.9 M230.9,262.6h0.9 M243.4,226.5h0.9 M226.1,259.3h0.9 M241.3,246.6h0.9 M201.0,241.7h0.9 M187.3,277.9h0.9 M213.4,233.7h0.9 M292.3,209.6h0.9 M201.7,257.1h0.9 M201.8,277.0h0.9 M197.5,271.3h0.9 M215.4,255.7h0.9 M194.2,248.6h0.9 M209.6,230.2h0.9 M229.0,246.3h0.9 M241.3,226.0h0.9 M244.4,200.2h0.9 M254.4,242.3h0.9 M284.1,199.3h0.9 M239.2,225.8h0.9 M291.0,200.9h0.9 M211.7,232.6h0.9 M274.8,219.7h0.9 M227.5,241.2h0.9 M228.4,213.3h0.9 M271.0,200.9h0.9 M262.6,223.7h0.9 M206.3,257.9h0.9 M198.3,242.8h0.9 M200.8,249.2h0.9 M203.0,234.0h0.9 M211.9,243.7h0.9 M212.2,262.7h0.9 M240.5,248.6h0.9 M217.8,212.4h0.9 M252.6,246.5h0.9 M193.9,263.8h0.9 M179.5,270.0h0.9 M273.8,221.5h0.9 M248.9,235.0h0.9 M291.1,197.9h0.9 M213.9,255.9h0.9 M200.4,257.0h0.9 M201.4,265.3h0.9 M280.7,207.0h0.9 M220.2,208.2h0.9 M283.1,197.9h0.9 M215.2,223.9h0.9 M276.8,225.1h0.9 M244.8,200.7h0.9 M268.1,216.3h0.9 M232.9,211.5h0.9 M179.0,267.9h0.9 M221.5,260.9h0.9 M259.0,223.1h0.9 M232.7,236.7h0.9 M277.7,213.8h0.9 M300.2,202.7h0.9 M270.5,209.9h0.9 M206.9,231.6h0.9 M193.0,251.4h0.9 M195.8,261.5h0.9 M204.1,278.0h0.9 M280.7,200.0h0.9 M234.7,221.1h0.9 M257.7,216.6h0.9 M190.0,264.7h0.9 M182.6,270.8h0.9 M202.0,249.2h0.9 M218.4,243.4h0.9 M213.2,238.8h0.9 M249.8,211.5h0.9 M224.7,250.2h0.9 M205.0,244.7h0.9 M207.9,264.3h0.9 M233.2,249.8h0.9 M253.5,209.7h0.9 M220.2,209.1h0.9 M218.7,238.4h0.9 M231.7,243.9h0.9 M222.0,215.3h0.9 M210.1,248.7h0.9 M221.1,212.8h0.9 M210.2,232.5h0.9 M246.5,212.2h0.9 M243.0,242.9h0.9 M235.9,237.7h0.9 M218.7,227.0h0.9 M226.4,208.0h0.9 M264.9,226.7h0.9 M228.8,255.1h0.9 M225.9,255.9h0.9 M251.0,198.8h0.9 M261.7,209.8h0.9 M180.8,274.2h0.9 M230.6,246.4h0.9 M204.5,274.1h0.9 M211.9,236.0h0.9 M231.5,242.7h0.9 M210.6,227.1h0.9 M219.6,224.6h0.9 M204.6,233.4h0.9 M249.7,199.3h0.9 M209.5,235.1h0.9 M277.0,207.4h0.9 M180.3,280.2h0.9 M205.0,238.5h0.9 M182.1,277.9h0.9 M241.3,223.2h0.9 M226.8,204.3h0.9 M241.7,216.7h0.9 M267.2,208.5h0.9 M218.7,218.8h0.9 M234.6,239.6h0.9 M255.1,237.9h0.9 M267.8,200.8h0.9 M274.3,224.8h0.9 M296.7,200.4h0.9 M292.2,198.3h0.9 M242.0,243.2h0.9 M208.6,243.7h0.9 M201.9,263.5h0.9 M290.8,216.3h0.9 M288.5,200.8h0.9 M221.9,222.4h0.9 M226.6,203.7h0.9 M178.2,270.3h0.9 M197.4,250.1h0.9 M196.5,248.1h0.9 M271.9,199.9h0.9 M221.4,207.0h0.9 M235.2,257.4h0.9 M210.7,257.4h0.9 M211.1,238.5h0.9 M233.2,202.6h0.9 M211.4,223.3h0.9 M302.1,199.2h0.9 M224.5,207.8h0.9 M230.8,207.7h0.9 M206.5,240.4h0.9 M213.0,248.3h0.9 M230.9,201.9h0.9 M236.6,243.3h0.9 M222.5,248.7h0.9 M217.0,254.9h0.9 M228.6,240.8h0.9 M295.7,210.0h0.9 M213.7,222.2h0.9 M236.6,200.5h0.9 M264.5,230.8h0.9 M261.6,229.1h0.9 M244.5,204.5h0.9 M299.6,198.9h0.9 M261.9,200.4h0.9 M225.3,204.6h0.9 M199.8,243.9h0.9 M212.8,251.6h0.9 M195.4,249.4h0.9 M221.7,232.9h0.9 M248.9,201.2h0.9 M214.8,229.0h0.9 M238.4,255.8h0.9 M204.4,237.6h0.9 M257.3,209.9h0.9 M264.4,215.8h0.9 M204.3,247.8h0.9 M268.1,198.5h0.9 M242.7,239.4h0.9 M282.1,208.5h0.9 M278.4,208.6h0.9 M200.3,280.3h0.9 M260.1,200.7h0.9 M203.0,272.6h0.9 M225.6,221.5h0.9 M231.0,233.2h0.9 M267.4,230.3h0.9 M237.2,238.9h0.9 M220.2,214.5h0.9 M243.5,206.0h0.9 M204.7,252.3h0.9 M202.2,274.2h0.9 M205.6,255.1h0.9 M298.8,204.7h0.9 M254.1,228.4h0.9 M254.1,235.2h0.9 M228.3,249.6h0.9 M275.5,198.4h0.9 M242.3,226.7h0.9 M188.2,276.1h0.9 M255.6,203.2h0.9 M297.5,205.9h0.9 M226.0,208.7h0.9 M227.7,201.7h0.9 M216.6,227.4h0.9 M179.9,267.8h0.9 M213.6,245.7h0.9 M213.8,234.4h0.9 M188.6,265.7h0.9 M244.4,218.9h0.9 M288.6,212.6h0.9 M228.3,212.4h0.9 M270.6,200.0h0.9 M257.7,233.3h0.9 M232.9,236.0h0.9 M226.7,206.9h0.9 M278.4,200.0h0.9 M247.3,231.2h0.9 M225.4,218.1h0.9 M264.2,231.2h0.9 M249.1,198.9h0.9 M218.6,211.0h0.9 M295.6,199.3h0.9 M285.3,218.2h0.9 M250.8,220.4h0.9 M191.9,271.3h0.9 M256.7,232.2h0.9 M176.8,273.0h0.9 M225.1,238.6h0.9 M266.5,218.2h0.9 M255.0,198.6h0.9 M253.8,241.8h0.9 M233.4,224.9h0.9 M200.5,238.8h0.9 M252.8,213.8h0.9 M280.0,198.0h0.9 M215.3,231.8h0.9 M241.9,200.7h0.9 M259.5,198.6h0.9 M193.8,258.9h0.9 M234.2,254.0h0.9 M198.3,242.3h0.9 M223.6,230.3h0.9 M252.0,240.5h0.9 M214.5,219.8h0.9 M251.9,222.9h0.9 M263.4,198.8h0.9 M272.6,199.3h0.9 M257.6,207.2h0.9 M187.9,275.9h0.9 M233.9,258.5h0.9 M231.7,270.8h0.9 M271.6,203.3h0.9 M238.3,213.1h0.9 M208.4,262.9h0.9 M242.6,209.2h0.9 M216.5,228.6h0.9 M192.7,248.2h0.9 M239.9,201.2h0.9 M199.1,275.9h0.9 M254.9,224.1h0.9 M234.3,205.8h0.9 M186.2,267.5h0.9 M235.4,233.6h0.9 M297.9,207.1h0.9 M210.1,273.2h0.9 M203.7,238.9h0.9 M240.4,204.4h0.9 M299.9,199.9h0.9 M266.8,217.1h0.9 M264.6,226.9h0.9 M282.0,201.7h0.9 M206.8,233.2h0.9 M256.9,203.4h0.9 M242.2,246.6h0.9 M240.2,243.8h0.9 M213.5,220.0h0.9 M298.4,205.8h0.9 M236.4,238.4h0.9 M224.3,254.2h0.9 M226.5,239.4h0.9 M289.4,209.7h0.9 M280.5,207.7h0.9 M191.0,250.9h0.9 M246.9,230.2h0.9 M217.2,267.3h0.9 M220.7,221.5h0.9 M269.7,198.2h0.9 M244.3,239.9h0.9 M189.9,271.1h0.9 M180.5,266.7h0.9 M195.1,250.4h0.9 M227.9,241.6h0.9 M228.6,258.3h0.9 M198.9,256.4h0.9 M270.1,215.8h0.9 M193.7,269.2h0.9 M201.5,273.8h0.9 M204.2,256.1h0.9 M251.5,225.3h0.9 M188.4,275.4h0.9 M280.1,200.3h0.9 M253.7,224.5h0.9 M191.1,271.4h0.9 M217.3,217.0h0.9 M256.7,208.3h0.9 M237.6,225.4h0.9 M230.1,208.2h0.9 M300.2,204.4h0.9 M187.4,256.9h0.9 M267.9,214.9h0.9 M255.1,237.1h0.9 M296.3,198.4h0.9 M175.9,275.4h0.9 M272.7,199.6h0.9 M289.6,199.5h0.9 M265.5,223.7h0.9 M265.5,229.8h0.9 M221.6,210.6h0.9 M296.4,201.5h0.9 M254.8,217.9h0.9 M234.8,238.8h0.9 M249.6,199.5h0.9 M232.2,233.6h0.9 M257.0,221.1h0.9 M292.4,198.4h0.9 M218.8,218.5h0.9 M225.3,214.7h0.9 M222.2,228.5h0.9 M296.8,201.3h0.9 M219.0,211.3h0.9 M205.8,247.3h0.9 M238.5,216.7h0.9 M182.9,274.9h0.9 M272.9,217.7h0.9 M251.6,204.7h0.9 M211.0,270.4h0.9 M291.1,207.7h0.9 M250.8,203.6h0.9 M283.4,213.7h0.9 M204.5,273.0h0.9 M278.7,219.4h0.9 M283.9,203.3h0.9 M207.3,274.7h0.9 M212.1,259.3h0.9 M272.0,221.1h0.9 M256.2,216.9h0.9 M232.1,204.8h0.9 M200.5,238.9h0.9 M259.2,224.3h0.9 M283.0,221.5h0.9 M202.0,261.9h0.9 M209.8,234.3h0.9 M268.5,203.3h0.9 M278.6,198.0h0.9 M247.9,219.8h0.9 M192.9,269.3h0.9 M185.6,275.2h0.9 M203.7,255.8h0.9 M263.2,203.2h0.9 M283.3,203.7h0.9 M270.7,204.1h0.9 M189.0,271.5h0.9 M250.6,239.0h0.9 M208.0,256.7h0.9 M201.5,268.8h0.9 M179.7,266.3h0.9 M208.3,239.0h0.9 M294.3,199.0h0.9 M239.2,200.1h0.9 M188.9,278.1h0.9 M232.4,220.7h0.9 M218.0,234.1h0.9 M275.0,206.5h0.9 M274.5,204.0h0.9 M193.7,252.6h0.9 M289.2,208.4h0.9 M255.8,234.2h0.9 M286.8,208.2h0.9 M264.7,233.7h0.9 M223.4,226.7h0.9 M228.4,231.0h0.9 M185.1,280.0h0.9 M245.8,234.4h0.9 M202.4,277.1h0.9 M236.3,230.8h0.9 M219.0,213.6h0.9 M217.1,254.1h0.9 M190.9,259.1h0.9 M235.9,212.8h0.9 M206.1,274.4h0.9 M264.8,199.5h0.9 M254.1,221.5h0.9 M291.7,204.8h0.9 M214.4,249.2h0.9 M236.9,235.0h0.9 M224.5,230.0h0.9 M233.2,220.8h0.9 M197.0,252.1h0.9 M235.2,238.4h0.9 M260.0,204.7h0.9 M241.9,229.2h0.9 M204.0,273.0h0.9 M227.5,253.8h0.9 M225.7,202.4h0.9 M272.7,198.0h0.9 M251.5,200.4h0.9 M281.0,221.3h0.9 M293.8,206.1h0.9 M241.1,237.2h0.9 M204.1,246.2h0.9 M192.1,250.1h0.9 M249.5,198.8h0.9 M201.5,259.2h0.9 M227.1,240.0h0.9 M286.6,214.2h0.9 M203.5,263.2h0.9 M237.5,200.7h0.9 M214.5,244.7h0.9 M225.8,237.5h0.9 M271.8,201.0h0.9 M238.6,199.9h0.9 M219.8,247.5h0.9 M209.5,237.2h0.9 M251.9,198.6h0.9 M224.3,258.1h0.9 M300.9,198.0h0.9 M205.5,273.7h0.9 M298.6,205.9h0.9 M227.8,214.1h0.9 M252.1,208.0h0.9 M193.0,258.1h0.9 M267.4,217.0h0.9 M214.5,271.7h0.9 M260.5,198.7h0.9 M266.4,212.1h0.9 M188.9,271.9h0.9 M224.6,205.1h0.9 M245.2,242.0h0.9 M272.4,201.5h0.9 M227.5,263.0h0.9 M208.8,252.1h0.9 M197.9,250.2h0.9 M184.9,264.2h0.9 M252.5,240.7h0.9 M201.4,265.2h0.9 M255.7,212.0h0.9 M270.8,207.8h0.9 M224.1,235.9h0.9 M193.1,273.4h0.9 M209.5,247.1h0.9 M219.1,219.1h0.9 M229.8,211.7h0.9 M189.5,263.8h0.9 M219.9,238.9h0.9 M218.8,263.2h0.9 M214.4,220.3h0.9 M273.5,218.6h0.9 M247.3,244.7h0.9 M250.9,198.6h0.9 M301.3,203.5h0.9 M259.1,239.3h0.9 M198.3,253.4h0.9 M229.7,202.6h0.9 M202.9,236.0h0.9 M203.8,267.0h0.9 M205.6,246.2h0.9 M234.1,237.8h0.9 M224.8,265.0h0.9 M277.3,222.4h0.9 M231.2,211.4h0.9 M222.1,248.0h0.9 M217.0,221.5h0.9 M229.0,257.3h0.9 M207.6,281.9h0.9 M219.2,228.6h0.9 M214.4,264.2h0.9 M295.9,208.8h0.9 M256.6,219.2h0.9 M229.7,224.9h0.9 M289.6,214.2h0.9 M223.1,221.2h0.9 M301.7,199.2h0.9 M185.5,263.5h0.9 M232.2,230.1h0.9 M237.3,204.1h0.9 M230.3,234.9h0.9 M201.3,239.3h0.9 M250.7,210.2h0.9 M183.2,265.0h0.9 M239.5,240.3h0.9 M231.9,229.9h0.9 M239.5,237.8h0.9 M232.0,247.7h0.9 M284.7,203.2h0.9 M194.7,255.7h0.9 M264.6,220.9h0.9 M271.3,225.4h0.9 M287.8,206.7h0.9 M216.7,257.2h0.9 M217.3,224.4h0.9 M239.7,231.3h0.9 M255.7,199.4h0.9 M288.2,206.8h0.9 M254.0,221.8h0.9 M292.3,208.4h0.9 M203.8,236.5h0.9 M241.6,201.3h0.9 M228.9,217.8h0.9 M213.1,233.0h0.9 M223.0,207.8h0.9 M222.0,205.4h0.9 M182.5,273.9h0.9 M213.3,237.4h0.9 M197.8,254.7h0.9 M215.3,249.4h0.9 M228.9,220.3h0.9 M206.4,253.6h0.9 M265.6,230.5h0.9 M215.1,226.9h0.9 M213.4,219.5h0.9 M259.9,210.3h0.9 M260.6,230.4h0.9 M189.3,261.2h0.9 M219.5,246.9h0.9 M177.4,268.6h0.9 M265.1,214.0h0.9 M271.8,198.1h0.9 M240.5,221.1h0.9 M223.5,230.0h0.9 M271.2,225.1h0.9 M233.9,202.6h0.9 M223.6,205.2h0.9 M189.7,258.2h0.9 M232.7,260.5h0.9 M187.6,268.1h0.9 M177.1,278.7h0.9 M206.7,260.8h0.9 M237.8,210.0h0.9 M195.0,246.2h0.9 M211.9,240.4h0.9 M214.9,225.6h0.9 M217.5,240.4h0.9 M254.3,240.8h0.9 M210.5,268.1h0.9 M181.3,278.5h0.9 M199.1,267.4h0.9 M263.2,216.3h0.9 M300.3,206.8h0.9 M209.2,226.7h0.9 M256.3,221.3h0.9 M268.5,199.7h0.9 M281.4,203.0h0.9 M275.2,199.9h0.9 M180.2,271.6h0.9 M240.2,205.5h0.9 M253.5,231.8h0.9 M235.6,215.5h0.9 M251.1,201.4h0.9 M249.4,237.8h0.9 M264.6,208.9h0.9 M268.5,222.9h0.9 M255.4,230.1h0.9 M231.8,254.8h0.9 M237.3,249.8h0.9 M261.6,217.0h0.9 M210.9,252.1h0.9 M202.8,268.7h0.9 M279.7,213.8h0.9 M256.8,229.4h0.9 M230.2,230.0h0.9 M243.4,217.0h0.9 M227.6,204.9h0.9 M266.6,231.6h0.9 M287.4,202.3h0.9 M204.9,232.6h0.9 M202.3,252.2h0.9 M275.3,198.3h0.9 M183.7,261.3h0.9 M199.2,248.5h0.9 M238.9,214.8h0.9 M229.6,250.2h0.9 M219.2,222.3h0.9 M219.2,246.3h0.9 M236.6,202.1h0.9 M237.7,206.5h0.9 M246.4,198.9h0.9 M243.3,241.7h0.9 M287.6,205.6h0.9 M195.8,255.0h0.9 M266.4,221.6h0.9 M232.0,210.5h0.9 M272.9,203.8h0.9 M290.0,210.4h0.9 M261.4,198.4h0.9 M213.1,227.7h0.9 M265.7,202.0h0.9 M261.5,199.8h0.9 M210.6,246.8h0.9 M230.9,204.8h0.9 M223.5,218.2h0.9 M218.9,243.3h0.9 M186.4,258.1h0.9 M218.5,234.3h0.9 M234.7,225.0h0.9 M200.4,254.5h0.9 M252.9,234.3h0.9 M284.6,199.4h0.9 M248.8,203.8h0.9 M236.1,223.7h0.9 M269.9,201.6h0.9 M216.8,217.9h0.9 M212.8,236.6h0.9 M222.7,242.4h0.9 M216.6,231.6h0.9 M221.5,230.5h0.9 M255.7,229.1h0.9 M225.3,209.5h0.9 M230.4,254.4h0.9 M250.8,209.7h0.9 M257.3,221.6h0.9 M226.7,207.8h0.9 M263.4,210.4h0.9 M225.8,217.8h0.9 M223.2,205.3h0.9 M259.0,201.0h0.9 M203.2,233.6h0.9 M238.9,205.9h0.9 M255.8,229.8h0.9 M229.0,210.9h0.9 M231.8,203.4h0.9 M223.4,203.4h0.9 M255.7,234.6h0.9 M216.5,248.7h0.9 M229.6,241.9h0.9 M209.1,237.5h0.9 M211.5,221.7h0.9 M299.1,208.4h0.9 M221.4,242.2h0.9 M202.4,252.0h0.9 M210.2,223.2h0.9 M183.1,261.4h0.9 M298.1,204.7h0.9 M247.2,209.2h0.9 M248.8,199.5h0.9 M183.0,271.6h0.9 M270.3,199.8h0.9 M203.5,266.9h0.9 M279.5,216.6h0.9 M204.6,270.9h0.9 M294.2,201.8h0.9 M208.6,248.4h0.9 M259.3,200.7h0.9 M190.6,270.1h0.9 M178.7,267.0h0.9 M209.5,228.0h0.9 M267.9,206.8h0.9 M296.4,198.0h0.9 M302.2,199.1h0.9 M279.9,198.0h0.9 M246.4,207.0h0.9 M200.9,274.2h0.9 M237.2,206.6h0.9 M240.3,239.0h0.9 M245.8,199.7h0.9 M220.9,216.1h0.9 M286.7,203.6h0.9 M211.7,250.4h0.9 M269.7,203.7h0.9 M271.3,200.3h0.9 M232.5,208.6h0.9 M285.6,215.3h0.9 M199.5,238.8h0.9 M222.3,236.9h0.9 M297.3,204.2h0.9 M197.0,264.9h0.9 M298.2,202.5h0.9 M274.4,210.0h0.9 M180.9,268.6h0.9 M199.0,239.9h0.9 M279.2,215.5h0.9 M266.3,216.4h0.9 M274.6,207.6h0.9 M301.9,198.2h0.9 M190.5,251.5h0.9 M202.8,271.2h0.9 M222.2,262.7h0.9 M277.3,208.5h0.9 M223.2,221.9h0.9 M238.6,233.9h0.9 M202.0,267.8h0.9 M289.1,199.5h0.9 M246.4,201.9h0.9 M211.1,272.7h0.9 M260.6,231.9h0.9 M216.7,217.9h0.9 M231.3,245.7h0.9 M243.9,218.3h0.9 M188.6,256.9h0.9 M188.2,256.7h0.9 M237.7,252.3h0.9 M272.1,209.7h0.9 M233.8,200.9h0.9 M243.3,236.2h0.9 M277.8,221.2h0.9 M206.4,267.6h0.9 M182.7,271.1h0.9 M225.7,235.5h0.9 M195.8,255.8h0.9 M209.3,228.9h0.9 M227.2,202.3h0.9 M298.1,202.5h0.9 M194.8,249.8h0.9 M272.1,222.6h0.9 M239.5,250.0h0.9 M200.0,243.3h0.9 M263.6,205.7h0.9 M234.0,248.9h0.9 M289.3,199.3h0.9 M290.3,205.0h0.9 M255.2,236.2h0.9 M287.2,207.7h0.9 M191.7,280.6h0.9 M209.6,233.2h0.9 M231.9,243.5h0.9 M224.4,246.3h0.9 M266.8,198.1h0.9 M255.1,232.6h0.9 M240.1,251.5h0.9 M296.8,203.4h0.9 M252.3,199.6h0.9 M230.7,223.1h0.9 M228.6,209.1h0.9 M241.5,212.9h0.9 M213.2,248.7h0.9 M220.4,223.7h0.9 M251.5,208.1h0.9 M179.3,272.8h0.9 M238.0,241.5h0.9 M273.3,211.1h0.9 M219.5,233.2h0.9 M280.2,199.6h0.9 M232.7,247.2h0.9 M192.3,249.1h0.9 M252.0,220.4h0.9 M217.8,273.0h0.9 M272.1,201.5h0.9 M251.9,210.9h0.9 M224.7,220.0h0.9 M227.4,207.5h0.9 M217.8,248.1h0.9 M270.2,208.2h0.9 M259.8,203.0h0.9 M212.8,264.4h0.9 M248.6,250.7h0.9 M286.5,212.7h0.9 M245.2,228.7h0.9 M225.5,253.5h0.9 M202.5,276.8h0.9 M201.2,277.7h0.9 M244.5,240.8h0.9 M237.9,208.2h0.9 M269.1,207.9h0.9 M221.7,221.4h0.9 M296.1,198.5h0.9 M212.1,269.0h0.9 M303.2,198.2h0.9 M182.0,264.0h0.9 M197.1,249.5h0.9 M234.4,207.5h0.9 M230.5,262.6h0.9 M178.3,278.9h0.9 M215.7,236.1h0.9 M185.9,262.0h0.9 M225.6,214.4h0.9 M238.8,201.2h0.9 M224.0,203.0h0.9 M225.0,208.9h0.9 M220.0,208.5h0.9 M191.7,266.1h0.9 M182.1,262.5h0.9 M242.7,208.5h0.9 M230.0,254.1h0.9 M216.3,268.9h0.9 M246.3,199.6h0.9 M198.9,270.1h0.9 M232.2,222.9h0.9 M279.3,204.1h0.9 M232.6,240.1h0.9 M197.6,241.6h0.9 M202.4,240.6h0.9 M225.7,248.3h0.9 M188.6,262.8h0.9 M202.6,278.7h0.9 M251.7,225.1h0.9 M263.0,217.6h0.9 M205.8,230.7h0.9 M260.5,208.6h0.9 M236.1,228.4h0.9 M199.2,268.0h0.9 M230.0,209.2h0.9 M276.6,215.2h0.9 M248.7,203.6h0.9 M233.2,204.0h0.9 M241.8,258.9h0.9 M260.6,203.5h0.9 M198.4,266.1h0.9 M177.3,274.7h0.9 M278.0,212.6h0.9 M210.7,228.3h0.9 M179.5,265.4h0.9 M233.5,224.7h0.9 M238.3,237.7h0.9 M233.7,206.0h0.9 M290.3,212.6h0.9 M234.4,207.7h0.9 M302.7,197.9h0.9 M235.6,255.9h0.9 M205.7,242.8h0.9 M208.3,232.8h0.9 M283.8,204.3h0.9 M234.8,227.8h0.9 M287.9,199.1h0.9 M183.2,270.9h0.9 M233.9,203.8h0.9 M201.2,237.9h0.9 M294.1,205.1h0.9 M268.8,224.0h0.9 M254.9,219.3h0.9 M239.6,224.2h0.9 M200.6,244.3h0.9 M202.4,273.6h0.9 M251.7,214.3h0.9 M249.9,204.8h0.9 M224.8,228.5h0.9 M238.3,200.2h0.9 M302.6,202.5h0.9 M252.6,215.3h0.9 M175.9,270.6h0.9 M224.7,261.5h0.9 M212.4,232.9h0.9 M189.6,275.6h0.9 M248.5,230.1h0.9 M206.5,233.3h0.9 M288.3,201.2h0.9 M269.3,207.6h0.9 M219.0,211.8h0.9 M267.8,219.2h0.9 M175.5,272.0h0.9 M190.9,265.6h0.9 M248.6,204.0h0.9 M292.5,213.3h0.9 M262.6,218.3h0.9 M273.7,198.4h0.9 M202.5,246.8h0.9 M268.5,201.4h0.9 M221.3,215.9h0.9 M231.8,242.4h0.9 M303.1,202.0h0.9 M243.1,201.8h0.9 M245.8,199.0h0.9 M248.2,229.8h0.9 M211.2,248.3h0.9 M180.0,271.9h0.9 M271.4,218.3h0.9 M208.1,237.5h0.9 M231.1,214.5h0.9 M246.6,209.7h0.9 M263.2,212.3h0.9 M246.6,198.9h0.9 M195.3,245.6h0.9 M223.8,225.6h0.9 M254.8,234.8h0.9 M209.6,237.5h0.9 M294.8,205.4h0.9 M193.3,264.1h0.9 M211.3,225.5h0.9 M179.5,270.7h0.9 M240.3,216.3h0.9 M219.2,218.7h0.9 M220.2,226.2h0.9 M178.4,270.4h0.9 M261.8,223.2h0.9 M248.9,252.5h0.9 M206.5,268.6h0.9 M293.6,201.6h0.9 M245.2,212.8h0.9 M284.5,215.6h0.9 M192.7,254.0h0.9 M216.0,254.6h0.9 M240.7,241.8h0.9 M250.0,230.0h0.9 M189.7,277.3h0.9 M233.8,220.7h0.9 M221.1,241.4h0.9 M265.7,222.5h0.9 M198.4,240.7h0.9 M186.9,272.6h0.9 M216.1,245.3h0.9 M295.1,208.8h0.9 M287.2,206.5h0.9 M248.0,239.7h0.9 M247.2,214.7h0.9 M180.0,274.2h0.9 M248.5,218.4h0.9 M187.8,257.8h0.9 M213.0,263.9h0.9 M196.1,257.1h0.9 M271.1,205.7h0.9 M241.7,215.1h0.9 M270.1,203.1h0.9 M248.5,236.1h0.9 M224.7,214.2h0.9 M216.3,255.2h0.9 M260.2,220.6h0.9 M241.4,214.8h0.9 M209.5,226.2h0.9 M201.8,284.0h0.9 M241.5,253.9h0.9 M237.0,202.9h0.9 M255.5,201.3h0.9 M292.7,203.9h0.9 M218.9,227.0h0.9 M186.0,270.0h0.9 M221.5,240.4h0.9 M228.4,206.1h0.9 M193.7,247.0h0.9 M221.0,209.7h0.9 M194.2,277.3h0.9 M226.6,205.0h0.9 M270.9,199.3h0.9 M217.2,262.7h0.9 M234.2,252.1h0.9 M266.7,227.2h0.9 M248.5,214.5h0.9 M219.4,255.1h0.9 M233.3,213.0h0.9 M281.8,198.6h0.9 M188.6,260.3h0.9 M286.9,200.6h0.9 M219.1,220.2h0.9 M210.4,244.6h0.9 M279.3,207.2h0.9 M268.2,211.1h0.9 M269.2,207.0h0.9 M295.7,199.6h0.9 M256.7,243.3h0.9 M183.4,278.2h0.9 M261.1,202.5h0.9 M221.6,258.8h0.9 M296.3,198.0h0.9 M293.6,199.7h0.9 M297.6,200.6h0.9 M208.8,238.8h0.9 M246.4,231.7h0.9 M292.4,206.8h0.9 M222.5,206.2h0.9 M246.3,232.7h0.9 M270.3,206.5h0.9 M190.1,281.3h0.9 M217.6,217.7h0.9 M250.8,244.0h0.9 M231.1,241.3h0.9 M263.3,199.5h0.9 M193.7,247.8h0.9 M297.6,198.1h0.9 M302.9,199.1h0.9 M209.5,227.6h0.9 M236.5,244.8h0.9 M219.8,209.1h0.9 M302.6,199.0h0.9 M270.9,222.7h0.9 M274.4,226.6h0.9 M230.3,225.9h0.9 M255.8,220.6h0.9 M223.8,253.4h0.9 M266.4,203.2h0.9 M266.8,225.9h0.9 M199.6,252.7h0.9 M259.8,215.7h0.9 M240.1,199.5h0.9 M208.8,238.6h0.9 M246.3,235.6h0.9 M220.7,255.6h0.9 M270.4,208.8h0.9 M210.7,224.5h0.9 M216.9,233.0h0.9 M210.0,262.2h0.9 M243.7,238.1h0.9 M300.4,198.0h0.9 M218.6,221.3h0.9 M184.7,265.5h0.9 M237.4,202.5h0.9 M218.0,214.7h0.9 M268.0,220.2h0.9 M236.6,244.1h0.9 M213.0,239.3h0.9 M222.5,238.8h0.9 M228.1,212.6h0.9 M225.1,260.4h0.9 M200.8,241.7h0.9 M211.2,223.6h0.9 M240.5,234.2h0.9 M197.9,248.7h0.9 M301.8,198.1h0.9 M276.5,216.3h0.9 M267.1,225.2h0.9 M258.3,204.9h0.9 M262.7,233.3h0.9 M298.3,204.7h0.9 M243.4,217.7h0.9 M222.6,254.0h0.9 M274.6,200.5h0.9 M206.6,275.4h0.9 M189.3,259.5h0.9 M240.4,254.9h0.9 M207.4,258.7h0.9 M255.7,220.6h0.9 M254.7,211.5h0.9 M230.7,203.2h0.9 M256.0,229.4h0.9 M197.6,270.9h0.9 M251.5,216.8h0.9 M275.2,203.9h0.9 M296.7,200.1h0.9 M249.8,205.1h0.9 M236.3,221.0h0.9 M208.5,254.4h0.9 M211.8,224.4h0.9 M269.1,207.9h0.9 M191.4,278.0h0.9 M241.0,205.0h0.9 M292.7,209.6h0.9 M193.2,251.6h0.9 M240.2,241.3h0.9 M244.1,204.4h0.9 M197.0,245.5h0.9 M238.6,206.6h0.9 M237.9,200.1h0.9 M277.2,199.8h0.9 M266.9,224.9h0.9 M272.7,201.3h0.9 M285.2,201.0h0.9 M189.6,252.4h0.9 M278.8,208.2h0.9 M203.0,270.6h0.9 M263.4,207.7h0.9 M256.2,209.0h0.9 M221.8,231.1h0.9 M219.3,225.4h0.9 M233.8,204.5h0.9 M239.0,213.4h0.9 M267.9,228.5h0.9 M289.4,206.1h0.9 M268.1,218.6h0.9 M223.7,266.5h0.9 M232.5,247.8h0.9 M221.1,215.9h0.9 M175.5,270.5h0.9 M209.5,224.2h0.9 M302.4,198.3h0.9 M232.9,243.9h0.9 M228.6,203.4h0.9 M249.9,205.7h0.9 M276.7,221.5h0.9 M232.6,240.5h0.9 M297.2,203.9h0.9 M300.1,205.0h0.9 M230.1,205.0h0.9 M223.9,261.4h0.9 M198.0,242.4h0.9 M253.9,243.1h0.9 M207.2,261.2h0.9 M216.0,218.9h0.9 M208.8,234.3h0.9 M286.0,198.0h0.9 M234.5,238.3h0.9 M237.6,229.7h0.9 M197.6,246.6h0.9 M299.5,201.6h0.9 M273.0,204.7h0.9 M260.9,231.0h0.9 M248.4,205.8h0.9 M196.4,247.0h0.9 M220.6,261.7h0.9 M279.5,206.1h0.9 M195.3,261.6h0.9 M196.1,266.4h0.9 M215.7,251.2h0.9 M291.2,201.0h0.9 M271.3,198.7h0.9 M230.3,212.0h0.9 M301.3,198.2h0.9 M227.4,213.9h0.9 M213.0,219.1h0.9 M231.8,204.6h0.9 M218.2,215.3h0.9 M222.1,215.6h0.9 M209.7,228.5h0.9 M225.8,249.3h0.9 M240.9,211.5h0.9 M229.8,240.9h0.9 M238.9,246.5h0.9 M260.4,228.6h0.9 M183.3,280.3h0.9 M201.7,236.7h0.9 M265.0,205.4h0.9 M242.0,205.1h0.9 M268.6,200.7h0.9 M236.7,224.8h0.9 M238.0,218.4h0.9 M252.1,206.9h0.9 M249.6,202.4h0.9 M175.0,278.6h0.9 M232.0,222.1h0.9 M197.9,265.6h0.9 M279.0,202.2h0.9 M209.8,257.7h0.9 M244.7,203.5h0.9 M209.0,261.5h0.9 M198.2,248.0h0.9 M247.3,219.4h0.9 M233.5,206.4h0.9 M181.0,266.6h0.9 M229.4,207.5h0.9 M234.3,230.1h0.9 M225.4,207.2h0.9 M200.0,264.5h0.9 M296.3,198.6h0.9 M248.9,212.9h0.9 M242.4,200.2h0.9 M229.2,254.5h0.9 M230.4,258.4h0.9 M235.1,203.0h0.9 M183.1,262.4h0.9 M266.3,227.8h0.9 M256.2,213.9h0.9 M268.6,226.5h0.9 M237.8,225.5h0.9 M223.1,232.5h0.9 M202.9,253.8h0.9 M299.7,198.0h0.9 M226.0,202.7h0.9 M297.0,209.5h0.9 M210.9,239.1h0.9 M215.8,228.7h0.9 M242.5,227.3h0.9 M253.4,231.1h0.9 M219.5,241.6h0.9 M244.3,238.7h0.9 M224.0,205.4h0.9 M286.9,207.4h0.9 M224.0,206.5h0.9 M223.5,204.6h0.9 M239.0,224.7h0.9 M273.4,223.0h0.9 M223.2,208.1h0.9 M282.5,207.5h0.9 M185.8,276.1h0.9 M257.2,228.9h0.9 M205.4,245.2h0.9 M229.7,215.5h0.9 M220.4,250.8h0.9 M222.2,222.3h0.9 M231.7,220.4h0.9 M192.6,274.5h0.9 M259.7,221.3h0.9 M276.1,213.3h0.9 M261.4,236.7h0.9 M252.7,201.4h0.9 M233.3,247.0h0.9 M290.0,199.0h0.9 M217.8,238.6h0.9 M176.6,272.5h0.9 M191.2,251.4h0.9 M271.9,223.0h0.9 M243.4,214.9h0.9 M296.7,207.3h0.9 M218.3,211.7h0.9 M180.5,265.1h0.9 M248.3,212.8h0.9 M301.2,200.3h0.9 M252.1,200.2h0.9 M186.0,271.0h0.9 M227.8,241.2h0.9 M245.2,207.7h0.9 M186.3,269.1h0.9 M196.6,258.8h0.9 M215.9,224.9h0.9 M233.3,223.6h0.9 M221.7,240.5h0.9 M211.6,252.6h0.9 M214.8,260.5h0.9 M292.3,211.6h0.9 M190.2,253.1h0.9 M226.1,204.1h0.9 M215.0,273.2h0.9 M300.8,199.1h0.9 M254.0,227.2h0.9 M268.5,200.7h0.9 M229.0,259.3h0.9 M238.9,239.0h0.9 M213.2,231.0h0.9 M265.0,199.4h0.9 M265.5,199.4h0.9 M200.8,274.4h0.9 M231.5,247.0h0.9 M202.7,242.6h0.9 M287.2,212.1h0.9 M238.6,216.4h0.9 M278.0,202.7h0.9 M301.1,198.4h0.9 M177.6,269.0h0.9 M244.0,241.0h0.9 M202.8,257.8h0.9 M289.4,214.2h0.9 M233.0,212.8h0.9 M178.5,267.2h0.9 M249.8,205.1h0.9 M296.3,208.4h0.9 M281.4,199.6h0.9 M207.0,248.8h0.9 M262.1,220.1h0.9 M287.0,197.9h0.9 M227.0,221.8h0.9 M253.1,198.7h0.9 M239.8,209.1h0.9 M197.5,248.0h0.9 M238.8,244.7h0.9 M224.5,222.2h0.9 M283.3,202.0h0.9 M251.7,199.8h0.9 M292.5,200.0h0.9 M268.5,209.1h0.9 M288.5,209.3h0.9 M229.2,202.7h0.9 M175.0,272.1h0.9 M235.9,243.7h0.9 M242.8,204.5h0.9 M254.5,201.6h0.9 M239.6,214.3h0.9 M280.8,217.8h0.9 M192.9,249.5h0.9 M241.9,217.1h0.9 M293.0,198.6h0.9 M295.5,203.7h0.9 M238.2,233.7h0.9 M276.8,213.2h0.9 M176.1,274.3h0.9 M265.1,227.5h0.9 M257.5,212.0h0.9 M232.6,217.5h0.9 M274.3,227.6h0.9 M300.8,200.0h0.9 M224.6,242.4h0.9 M189.2,258.0h0.9 M202.8,268.3h0.9 M207.7,269.7h0.9 M214.0,236.5h0.9 M254.0,238.2h0.9 M276.5,218.5h0.9 M231.5,239.3h0.9 M191.8,268.2h0.9 M231.6,207.6h0.9 M196.8,272.5h0.9 M232.2,230.2h0.9 M298.9,208.5h0.9 M234.6,237.9h0.9 M177.9,272.3h0.9 M189.0,261.1h0.9 M229.6,208.0h0.9 M218.4,222.5h0.9 M200.0,247.3h0.9 M256.7,234.9h0.9 M235.6,212.6h0.9 M203.3,248.3h0.9 M209.0,253.9h0.9 M220.2,240.2h0.9 M243.4,206.2h0.9 M260.7,199.2h0.9 M213.4,268.9h0.9 M289.6,216.2h0.9 M206.8,229.4h0.9 M188.3,271.1h0.9 M276.2,211.7h0.9 M280.0,208.8h0.9 M223.1,203.6h0.9 M250.6,198.8h0.9 M269.1,199.0h0.9 M284.0,214.3h0.9 M195.1,259.6h0.9 M226.1,206.3h0.9 M250.6,211.9h0.9 M252.0,205.2h0.9 M288.8,205.0h0.9 M212.0,223.6h0.9 M217.1,236.7h0.9 M235.9,271.5h0.9 M210.5,263.6h0.9 M196.0,249.3h0.9 M240.1,207.1h0.9 M177.4,277.5h0.9 M191.0,270.6h0.9 M257.5,223.1h0.9 M233.8,201.6h0.9 M207.9,243.3h0.9 M249.9,201.0h0.9 M248.4,219.2h0.9 M272.1,226.8h0.9 M200.4,239.1h0.9 M203.2,235.6h0.9 M250.6,224.7h0.9 M245.5,240.3h0.9 M193.7,250.8h0.9 M270.2,201.5h0.9 M272.1,222.2h0.9 M236.4,204.3h0.9 M181.7,271.5h0.9 M175.0,273.4h0.9 M216.2,238.9h0.9 M196.8,275.0h0.9 M198.7,265.5h0.9 M270.1,205.1h0.9 M221.3,258.2h0.9 M259.8,200.4h0.9 M180.5,267.9h0.9 M256.8,234.8h0.9 M206.2,232.0h0.9 M179.3,268.1h0.9 M243.6,209.9h0.9 M190.7,271.8h0.9 M264.2,218.7h0.9 M208.4,232.4h0.9 M222.2,250.3h0.9 M200.9,243.0h0.9 M289.2,209.4h0.9 M225.7,206.6h0.9 M237.4,208.0h0.9 M219.4,211.9h0.9 M232.9,218.6h0.9 M231.5,253.2h0.9 M237.8,212.0h0.9 M224.3,250.8h0.9 M236.2,231.6h0.9 M215.3,234.3h0.9 M183.0,266.2h0.9 M196.9,255.8h0.9 M206.4,265.6h0.9 M241.5,199.3h0.9 M189.1,255.6h0.9 M277.8,221.7h0.9 M217.8,212.8h0.9 M226.4,263.7h0.9 M203.3,247.5h0.9 M295.0,208.4h0.9 M193.3,250.8h0.9 M236.5,215.8h0.9 M199.6,249.9h0.9 M278.1,198.1h0.9 M257.7,203.3h0.9 M206.8,249.9h0.9 M253.1,202.4h0.9 M250.8,224.2h0.9 M206.9,228.8h0.9 M256.7,223.6h0.9 M240.5,251.5h0.9 M294.9,202.5h0.9 M224.1,206.7h0.9 M187.7,274.2h0.9 M274.6,205.2h0.9 M186.5,263.0h0.9 M216.9,214.9h0.9 M189.2,266.6h0.9 M216.4,222.8h0.9 M279.0,214.3h0.9 M226.9,203.3h0.9 M246.9,228.3h0.9 M242.9,218.3h0.9 M184.2,272.8h0.9 M293.6,208.1h0.9 M225.2,231.2h0.9 M204.0,247.7h0.9 M234.5,256.5h0.9 M269.5,210.7h0.9 M215.6,242.3h0.9 M197.4,241.7h0.9 M198.5,273.9h0.9 M177.6,268.6h0.9 M200.1,280.5h0.9 M290.3,215.3h0.9 M302.3,198.6h0.9 M265.0,214.2h0.9 M230.5,253.4h0.9 M237.9,207.1h0.9 M271.5,219.9h0.9 M260.9,213.8h0.9 M214.7,217.4h0.9 M235.1,229.4h0.9 M196.2,273.6h0.9 M269.8,198.4h0.9 M228.4,206.7h0.9 M280.0,200.4h0.9 M196.0,276.6h0.9 M202.1,235.5h0.9 M248.1,199.1h0.9 M236.2,208.6h0.9 M201.2,254.5h0.9 M248.4,203.2h0.9 M194.5,246.5h0.9 M224.8,202.5h0.9 M257.2,205.4h0.9 M202.7,234.5h0.9 M178.4,266.9h0.9 M222.2,270.7h0.9 M235.6,232.5h0.9 M251.6,208.6h0.9 M246.2,217.8h0.9 M194.0,272.3h0.9 M231.6,248.7h0.9 M224.4,209.8h0.9 M242.0,199.7h0.9 M208.2,261.6h0.9 M279.8,207.5h0.9 M226.9,240.4h0.9 M226.7,253.9h0.9 M226.6,223.3h0.9 M233.1,207.7h0.9 M211.5,232.8h0.9 M215.8,250.8h0.9 M292.2,198.1h0.9 M243.4,212.7h0.9 M266.5,198.2h0.9 M205.6,230.8h0.9 M228.6,218.2h0.9 M181.7,272.4h0.9 M213.0,270.4h0.9 M235.6,215.5h0.9 M181.3,263.2h0.9 M219.7,252.9h0.9 M222.8,239.0h0.9 M260.2,229.5h0.9 M257.6,235.3h0.9 M288.4,198.1h0.9 M221.2,213.7h0.9 M273.2,212.8h0.9 M236.8,233.5h0.9 M228.4,223.9h0.9 M209.6,242.4h0.9 M285.9,199.9h0.9 M288.7,198.6h0.9 M273.2,200.4h0.9 M240.0,200.9h0.9 M206.6,232.5h0.9 M269.6,198.7h0.9 M220.8,219.8h0.9 M272.9,223.4h0.9 M258.9,204.4h0.9 M277.2,213.8h0.9 M244.2,199.2h0.9 M230.6,220.2h0.9 M280.2,211.2h0.9 M229.1,219.7h0.9 M210.6,264.4h0.9 M290.6,213.4h0.9 M215.3,258.4h0.9 M178.7,266.6h0.9 M187.6,268.9h0.9 M178.8,268.0h0.9 M248.9,200.2h0.9 M297.3,209.4h0.9 M201.6,258.3h0.9 M210.4,266.5h0.9 M256.8,205.8h0.9 M243.7,229.6h0.9 M288.3,199.4h0.9 M220.5,215.1h0.9 M291.9,199.6h0.9 M214.0,228.0h0.9 M204.7,231.6h0.9 M284.1,203.5h0.9 M256.5,199.7h0.9 M205.8,232.2h0.9 M211.3,245.3h0.9 M216.3,230.8h0.9 M195.9,272.1h0.9 M213.9,222.8h0.9 M298.6,198.8h0.9 M242.7,241.7h0.9 M224.0,253.0h0.9 M235.2,234.7h0.9 M192.9,265.1h0.9 M202.3,247.3h0.9 M267.3,220.5h0.9 M243.1,212.0h0.9 M256.7,206.0h0.9 M234.8,201.0h0.9 M189.1,275.1h0.9 M233.5,204.1h0.9 M210.1,256.3h0.9 M224.9,208.8h0.9 M236.4,200.6h0.9 M278.5,202.9h0.9 M278.8,207.9h0.9 M241.6,205.0h0.9 M233.1,220.8h0.9 M181.9,263.0h0.9 M303.4,205.7h0.9 M262.1,199.8h0.9 M276.3,207.1h0.9 M214.4,221.9h0.9 M240.8,230.1h0.9 M239.7,216.6h0.9 M200.9,273.6h0.9 M276.2,225.9h0.9 M243.9,242.0h0.9 M209.6,238.6h0.9 M281.4,219.7h0.9 M212.9,252.4h0.9 M248.2,199.7h0.9 M231.5,251.8h0.9 M266.7,198.5h0.9 M226.4,246.5h0.9 M216.9,224.6h0.9 M228.1,202.5h0.9 M230.6,212.6h0.9 M190.3,274.7h0.9 M223.2,208.3h0.9 M261.9,232.6h0.9 M275.3,199.9h0.9 M273.3,212.8h0.9 M251.0,239.2h0.9 M212.4,266.7h0.9 M224.6,232.2h0.9 M267.6,218.7h0.9 M262.4,216.4h0.9 M288.2,202.3h0.9 M263.5,236.2h0.9 M239.5,200.7h0.9 M280.7,206.5h0.9 M224.2,248.4h0.9 M204.7,239.3h0.9 M184.1,264.9h0.9 M229.7,261.6h0.9 M295.5,198.3h0.9 M240.4,225.3h0.9 M245.8,213.9h0.9 M240.4,238.0h0.9 M183.8,274.5h0.9 M213.1,230.0h0.9 M226.8,213.1h0.9 M216.6,239.1h0.9 M257.4,210.0h0.9 M240.0,206.7h0.9 M272.7,219.0h0.9 M208.9,244.5h0.9 M275.6,218.3h0.9 M236.6,240.5h0.9 M188.0,264.4h0.9 M222.1,270.2h0.9 M219.9,214.2h0.9 M240.6,256.2h0.9 M196.3,247.9h0.9 M195.1,261.2h0.9 M225.0,240.1h0.9 M270.7,228.9h0.9 M288.0,207.9h0.9 M269.2,215.6h0.9 M285.2,214.8h0.9 M199.3,269.6h0.9 M234.8,253.2h0.9 M276.1,214.1h0.9 M256.6,221.0h0.9 M205.8,237.5h0.9 M276.8,202.0h0.9 M191.9,269.0h0.9 M267.7,212.0h0.9 M219.7,268.2h0.9 M208.5,228.6h0.9 M227.7,249.3h0.9 M200.5,243.1h0.9 M187.2,257.1h0.9 M286.3,201.7h0.9 M220.4,211.5h0.9 M176.8,275.5h0.9 M265.2,217.7h0.9 M215.4,231.6h0.9 M244.9,235.2h0.9 M232.8,222.1h0.9 M200.5,237.8h0.9 M251.9,240.0h0.9 M216.6,238.7h0.9 M271.2,198.1h0.9 M204.4,234.3h0.9 M226.5,227.1h0.9 M188.9,255.8h0.9 M206.4,256.1h0.9 M219.2,249.6h0.9 M301.9,199.2h0.9 M221.0,215.4h0.9 M258.1,205.4h0.9 M208.6,259.0h0.9 M257.4,214.3h0.9 M247.5,234.9h0.9 M216.3,258.1h0.9 M273.4,202.2h0.9 M210.5,230.0h0.9 M228.4,224.6h0.9 M235.5,234.9h0.9 M263.6,202.9h0.9 M206.8,245.8h0.9 M212.3,273.2h0.9 M246.2,224.2h0.9 M202.7,270.8h0.9 M220.2,208.2h0.9 M239.7,213.8h0.9 M251.5,219.1h0.9 M249.7,211.8h0.9 M282.0,199.4h0.9 M188.1,255.0h0.9 M279.0,204.5h0.9 M209.4,239.9h0.9 M232.3,258.3h0.9 M195.3,275.4h0.9 M234.2,233.7h0.9 M257.9,198.8h0.9 M245.4,243.7h0.9 M233.7,228.7h0.9 M187.0,261.6h0.9 M301.7,202.1h0.9 M191.0,268.4h0.9 M226.3,202.1h0.9 M225.9,211.0h0.9 M239.2,205.9h0.9 M300.2,207.2h0.9 M241.3,205.5h0.9 M202.7,243.5h0.9 M245.5,206.1h0.9 M261.5,202.5h0.9 M225.8,212.3h0.9 M255.2,218.7h0.9 M294.1,206.4h0.9 M212.4,263.3h0.9 M248.1,245.1h0.9 M184.6,273.8h0.9 M219.2,249.5h0.9 M277.4,205.4h0.9 M300.3,207.3h0.9 M224.5,240.1h0.9 M217.1,234.7h0.9 M183.5,264.4h0.9 M233.5,229.7h0.9 M232.9,206.4h0.9 M199.1,248.1h0.9 M232.4,216.8h0.9 M213.3,222.5h0.9 M212.8,245.5h0.9 M254.3,201.3h0.9 M217.4,249.2h0.9 M225.2,248.5h0.9 M284.6,206.6h0.9 M248.6,242.9h0.9 M275.2,205.3h0.9 M264.8,222.2h0.9 M222.4,236.6h0.9 M189.5,256.6h0.9 M246.4,200.8h0.9 M262.5,198.4h0.9 M259.4,217.0h0.9 M198.9,243.1h0.9 M242.6,233.3h0.9 M281.3,219.7h0.9 M223.4,214.3h0.9 M250.6,236.3h0.9 M187.2,258.5h0.9 M185.7,261.4h0.9 M274.5,216.9h0.9 M300.7,199.2h0.9 M243.9,199.5h0.9 M247.3,207.2h0.9 M215.0,224.6h0.9 M213.0,250.1h0.9 M262.4,204.7h0.9 M197.6,259.9h0.9 M220.5,254.7h0.9 M181.1,271.1h0.9 M210.2,241.3h0.9 M197.3,248.0h0.9 M221.6,254.7h0.9 M192.2,273.7h0.9 M298.5,198.8h0.9 M253.1,232.5h0.9 M208.1,241.4h0.9 M252.4,227.9h0.9 M280.6,211.4h0.9 M236.4,202.2h0.9 M185.5,266.9h0.9 M243.6,233.2h0.9 M201.7,262.1h0.9 M282.7,201.1h0.9 M239.8,232.7h0.9 M292.8,205.7h0.9 M245.7,212.9h0.9 M258.9,230.8h0.9 M254.0,228.0h0.9 M210.1,241.6h0.9 M230.7,213.1h0.9 M234.7,232.6h0.9 M228.1,205.2h0.9 M231.7,203.3h0.9 M239.7,237.9h0.9 M210.3,247.7h0.9 M243.5,240.4h0.9 M235.4,237.1h0.9 M236.9,231.9h0.9 M213.5,218.7h0.9 M216.1,252.7h0.9 M236.2,217.3h0.9 M292.1,209.4h0.9 M258.7,199.0h0.9 M282.4,218.1h0.9 M265.2,198.3h0.9 M212.7,237.1h0.9 M188.9,279.8h0.9 M253.3,214.0h0.9 M258.9,206.0h0.9 M278.7,210.9h0.9 M239.4,210.3h0.9 M271.1,200.7h0.9 M178.2,267.1h0.9 M236.4,255.5h0.9 M254.1,200.8h0.9 M197.0,243.9h0.9 M200.3,237.7h0.9 M249.9,226.5h0.9 M246.5,214.9h0.9 M278.8,226.3h0.9 M193.5,248.9h0.9 M271.3,203.3h0.9 M281.1,208.2h0.9 M249.6,205.1h0.9 M228.2,203.7h0.9 M249.8,239.8h0.9 M204.5,239.0h0.9 M275.3,202.1h0.9 M208.2,231.0h0.9 M177.5,276.2h0.9 M297.4,208.5h0.9 M239.0,248.9h0.9 M254.5,237.4h0.9 M228.6,262.2h0.9 M175.6,270.9h0.9 M230.9,211.1h0.9 M289.0,198.1h0.9 M237.1,212.9h0.9 M231.6,255.2h0.9 M219.0,211.2h0.9 M258.6,227.9h0.9 M184.8,275.3h0.9 M292.7,201.1h0.9 M241.6,234.8h0.9 M207.2,231.8h0.9 M284.2,205.7h0.9 M228.5,248.0h0.9 M226.5,258.8h0.9 M280.2,214.1h0.9 M287.8,200.3h0.9 M254.7,233.8h0.9 M213.6,267.3h0.9 M213.2,232.7h0.9 M237.0,202.2h0.9 M221.0,246.9h0.9 M236.1,218.5h0.9 M211.6,229.7h0.9 M276.6,214.6h0.9 M203.9,257.9h0.9 M265.5,198.1h0.9 M228.7,203.9h0.9 M295.3,213.0h0.9 M187.9,265.3h0.9 M202.8,234.6h0.9 M176.8,273.4h0.9 M294.3,203.5h0.9 M272.8,212.1h0.9 M181.4,263.0h0.9 M186.5,259.8h0.9 M238.4,221.1h0.9 M258.9,198.7h0.9 M223.8,211.0h0.9 M216.7,219.9h0.9 M209.3,228.7h0.9 M265.5,235.4h0.9 M260.9,236.1h0.9 M201.2,249.0h0.9 M218.0,229.1h0.9 M244.9,246.9h0.9 M281.6,220.0h0.9 M256.6,212.7h0.9 M238.1,244.5h0.9 M230.8,228.4h0.9 M185.8,261.2h0.9 M282.2,208.0h0.9 M225.9,217.0h0.9 M265.5,212.7h0.9 M244.8,229.9h0.9 M234.0,219.3h0.9 M286.4,207.7h0.9 M265.7,222.2h0.9 M237.4,227.2h0.9 M254.0,219.0h0.9 M204.6,234.5h0.9 M262.5,217.2h0.9 M267.0,217.4h0.9 M212.5,242.5h0.9 M241.2,227.1h0.9 M229.0,249.7h0.9 M281.6,207.7h0.9 M252.6,229.2h0.9 M273.3,199.5h0.9 M186.1,258.5h0.9 M257.0,232.4h0.9 M253.0,223.4h0.9 M288.1,209.1h0.9 M227.2,217.7h0.9 M236.5,241.9h0.9 M253.9,227.5h0.9 M198.9,265.5h0.9 M214.9,260.6h0.9 M202.8,279.4h0.9 M229.4,218.1h0.9 M261.0,229.9h0.9 M249.3,214.2h0.9 M219.8,214.7h0.9 M292.1,197.9h0.9 M199.2,239.4h0.9 M236.7,200.5h0.9 M207.4,251.7h0.9 M271.3,209.0h0.9 M252.0,219.4h0.9 M228.4,201.4h0.9 M231.1,208.2h0.9 M208.0,273.0h0.9 M233.0,201.4h0.9 M270.2,220.4h0.9 M283.7,218.3h0.9 M232.2,203.1h0.9 M194.2,256.2h0.9 M210.5,259.4h0.9 M263.5,199.4h0.9 M276.2,220.8h0.9 M256.4,236.1h0.9 M214.3,259.7h0.9 M227.6,250.1h0.9 M212.4,237.2h0.9 M222.5,210.8h0.9 M204.8,236.2h0.9 M200.4,237.9h0.9 M188.8,277.2h0.9 M276.0,224.8h0.9 M261.4,227.3h0.9 M192.1,259.9h0.9 M224.5,245.0h0.9 M190.5,253.0h0.9 M279.0,219.4h0.9 M200.1,276.7h0.9 M207.4,246.4h0.9 M270.2,203.5h0.9 M239.7,234.0h0.9 M241.9,208.0h0.9 M226.5,217.2h0.9 M290.4,210.1h0.9 M264.8,200.6h0.9 M209.8,231.0h0.9 M235.1,224.2h0.9 M276.7,198.3h0.9 M226.3,217.0h0.9 M184.4,278.2h0.9 M284.5,211.8h0.9 M224.1,248.3h0.9 M225.9,213.4h0.9 M223.7,234.8h0.9 M277.2,226.4h0.9 M232.1,217.2h0.9 M252.5,235.1h0.9 M258.0,227.3h0.9 M197.6,262.3h0.9 M208.0,244.1h0.9 M272.9,217.3h0.9 M261.2,205.8h0.9 M219.9,252.5h0.9 M219.0,248.3h0.9 M201.4,259.9h0.9 M208.4,226.3h0.9 M227.9,264.8h0.9 M283.2,223.0h0.9 M251.9,248.2h0.9 M221.2,225.3h0.9 M225.2,236.0h0.9 M200.0,247.4h0.9 M180.1,273.8h0.9 M177.8,267.7h0.9 M183.8,259.9h0.9 M263.5,208.5h0.9 M225.3,205.9h0.9 M301.4,205.1h0.9 M276.6,198.1h0.9 M258.2,239.0h0.9 M264.9,205.7h0.9 M236.9,202.9h0.9 M285.1,208.7h0.9 M192.9,268.3h0.9 M186.6,260.3h0.9 M259.9,208.9h0.9 M226.1,253.8h0.9 M238.3,231.8h0.9 M257.8,213.8h0.9 M284.6,218.2h0.9 M206.2,262.5h0.9 M255.4,206.6h0.9 M264.9,207.7h0.9 M175.7,270.0h0.9 M277.6,206.3h0.9 M217.2,233.1h0.9 M230.1,261.9h0.9 M245.3,220.7h0.9 M259.1,216.2h0.9 M264.0,215.2h0.9 M193.0,250.1h0.9 M261.4,213.6h0.9 M197.0,276.3h0.9 M240.7,254.3h0.9 M273.2,209.2h0.9 M254.4,225.1h0.9 M256.4,200.1h0.9 M207.0,234.8h0.9 M183.8,275.4h0.9 M245.0,200.9h0.9 M192.0,249.3h0.9 M186.5,266.1h0.9 M223.7,253.9h0.9 M266.0,198.1h0.9 M267.6,211.9h0.9 M214.9,220.0h0.9 M213.9,234.9h0.9 M283.7,198.4h0.9 M227.7,207.1h0.9 M215.1,243.3h0.9 M218.1,258.4h0.9 M206.2,255.1h0.9 M236.2,218.7h0.9 M271.3,212.6h0.9 M210.8,258.2h0.9 M256.5,227.8h0.9 M232.6,228.7h0.9 M291.2,209.0h0.9 M203.2,249.1h0.9 M229.9,228.4h0.9 M240.4,216.3h0.9 M182.2,262.0h0.9 M290.4,205.7h0.9 M239.7,230.7h0.9 M223.2,224.9h0.9 M236.1,217.7h0.9 M224.4,209.5h0.9 M231.2,235.0h0.9 M290.1,208.4h0.9 M266.4,225.1h0.9 M181.5,277.7h0.9 M228.8,207.2h0.9 M186.8,274.9h0.9 M209.8,258.2h0.9 M287.2,200.3h0.9 M262.7,217.4h0.9 M299.1,206.0h0.9 M239.7,199.5h0.9 M203.0,252.6h0.9 M207.1,228.1h0.9 M297.3,207.5h0.9 M178.7,276.5h0.9 M224.0,211.0h0.9 M264.4,214.4h0.9 M195.9,246.9h0.9 M201.3,261.9h0.9 M222.9,224.7h0.9 M243.5,203.4h0.9 M289.9,212.9h0.9 M227.7,233.0h0.9 M252.7,199.9h0.9 M239.7,230.6h0.9 M213.1,231.6h0.9 M274.1,213.0h0.9 M186.8,261.3h0.9 M226.2,271.2h0.9 M292.7,210.2h0.9 M228.4,253.4h0.9 M230.6,229.5h0.9 M224.7,269.5h0.9 M205.4,249.6h0.9 M219.0,223.7h0.9 M282.5,206.5h0.9 M254.6,209.9h0.9 M183.3,262.5h0.9 M197.3,242.8h0.9 M296.7,209.9h0.9 M275.1,202.5h0.9 M202.7,253.1h0.9 M221.0,227.5h0.9 M272.6,199.4h0.9 M202.5,239.2h0.9 M242.1,223.0h0.9 M187.8,255.1h0.9 M187.6,256.0h0.9 M258.1,205.9h0.9 M296.0,210.1h0.9 M230.9,255.7h0.9 M246.5,199.4h0.9 M195.8,257.0h0.9 M237.3,223.2h0.9 M213.4,223.9h0.9 M190.5,271.9h0.9 M244.3,215.5h0.9 M242.5,210.9h0.9 M222.5,258.8h0.9 M233.4,232.7h0.9 M199.0,268.8h0.9 M228.2,249.7h0.9 M199.8,261.2h0.9 M231.1,237.9h0.9 M204.2,255.2h0.9 M250.5,210.4h0.9 M262.4,200.1h0.9 M281.6,219.2h0.9 M236.1,200.2h0.9 M262.9,217.5h0.9 M245.0,200.8h0.9 M218.6,224.1h0.9 M281.1,199.7h0.9 M193.3,277.9h0.9 M265.3,200.8h0.9 M207.0,230.0h0.9 M243.3,247.0h0.9 M205.9,236.4h0.9 M249.7,214.6h0.9 M204.0,265.2h0.9 M237.2,202.0h0.9 M227.2,225.2h0.9 M236.0,206.3h0.9 M250.2,203.8h0.9 M251.0,212.0h0.9 M265.3,224.4h0.9 M226.9,209.6h0.9 M211.2,237.4h0.9 M182.5,262.7h0.9 M217.8,252.5h0.9 M207.1,273.5h0.9 M216.9,238.9h0.9 M201.4,237.5h0.9 M254.6,211.0h0.9 M288.1,202.0h0.9 M193.7,247.5h0.9 M263.8,214.0h0.9 M229.5,208.3h0.9 M258.8,231.6h0.9 M289.6,209.2h0.9 M265.1,205.0h0.9 M296.4,199.9h0.9 M223.7,259.4h0.9 M234.6,200.2h0.9 M252.9,201.4h0.9 M300.9,206.8h0.9 M180.3,264.4h0.9 M268.3,198.3h0.9 M281.1,221.1h0.9 M229.2,211.8h0.9 M207.4,257.7h0.9 M227.1,209.6h0.9 M204.3,272.1h0.9 M283.0,199.7h0.9 M194.5,280.3h0.9 M295.3,200.5h0.9 M258.8,210.4h0.9 M247.2,216.5h0.9 M228.4,242.6h0.9 M261.3,200.5h0.9 M294.2,205.9h0.9 M202.5,234.9h0.9 M284.5,198.4h0.9 M180.8,265.0h0.9 M219.8,218.8h0.9 M231.3,264.5h0.9 M262.1,232.2h0.9 M291.5,200.3h0.9 M244.4,204.8h0.9 M230.6,205.9h0.9 M208.0,226.6h0.9 M238.7,233.7h0.9 M230.9,237.4h0.9 M223.5,206.7h0.9 M214.3,253.2h0.9 M223.0,209.0h0.9 M205.6,261.1h0.9 M218.6,222.0h0.9 M189.2,278.5h0.9 M288.5,205.9h0.9 M286.6,203.2h0.9 M272.6,211.4h0.9 M237.7,205.1h0.9 M219.7,238.0h0.9 M264.0,199.5h0.9 M276.7,213.9h0.9 M249.7,216.8h0.9 M240.9,220.7h0.9 M211.7,232.0h0.9 M252.3,203.7h0.9 M200.2,243.8h0.9 M273.0,219.1h0.9 M228.9,203.9h0.9 M249.1,210.4h0.9 M260.3,233.6h0.9 M261.9,237.1h0.9 M301.0,201.0h0.9 M224.2,204.4h0.9 M293.8,199.4h0.9 M234.8,256.4h0.9 M253.3,216.9h0.9 M226.7,232.5h0.9 M275.9,206.8h0.9 M223.8,205.5h0.9 M298.6,197.9h0.9 M266.8,201.8h0.9 M194.8,260.0h0.9 M230.9,254.5h0.9 M286.7,211.2h0.9 M238.4,210.8h0.9 M256.1,228.3h0.9 M236.1,217.5h0.9 M187.3,255.7h0.9 M252.0,240.4h0.9 M194.5,250.7h0.9 M212.0,250.9h0.9 M191.0,273.2h0.9 M282.8,212.0h0.9 M180.4,268.8h0.9 M232.0,251.5h0.9 M205.4,252.3h0.9 M268.6,232.4h0.9 M254.6,203.8h0.9 M290.8,198.7h0.9 M234.5,243.4h0.9 M175.9,276.2h0.9 M283.5,211.7h0.9 M213.6,228.4h0.9 M210.0,240.8h0.9 M183.0,265.6h0.9 M274.5,206.9h0.9 M264.8,213.0h0.9 M266.8,198.4h0.9 M225.6,244.9h0.9 M281.8,207.3h0.9 M231.4,258.2h0.9 M215.9,231.2h0.9 M218.1,250.0h0.9 M211.6,224.8h0.9 M195.9,248.7h0.9 M295.0,204.0h0.9 M238.5,220.2h0.9 M260.1,209.1h0.9 M234.6,200.9h0.9 M254.5,201.5h0.9 M244.4,206.2h0.9 M195.1,272.2h0.9 M253.4,240.9h0.9 M265.9,203.1h0.9 M284.7,210.2h0.9 M204.2,240.7h0.9 M183.0,268.8h0.9 M260.8,225.7h0.9 M197.0,270.5h0.9 M282.8,219.5h0.9 M282.9,198.9h0.9 M251.5,223.3h0.9 M297.0,205.7h0.9 M235.8,207.0h0.9 M211.4,255.3h0.9 M241.3,199.4h0.9 M213.7,239.4h0.9 M222.6,206.6h0.9 M257.5,224.4h0.9 M197.0,270.9h0.9 M196.4,277.7h0.9 M217.7,220.0h0.9 M264.9,230.6h0.9 M286.6,206.5h0.9 M246.2,205.2h0.9 M192.0,252.4h0.9 M202.1,252.5h0.9 M248.3,207.9h0.9 M250.0,219.7h0.9 M215.2,232.2h0.9 M287.2,206.5h0.9 M272.3,222.1h0.9 M212.1,228.3h0.9 M202.0,254.1h0.9 M267.6,203.5h0.9 M240.3,214.0h0.9 M212.2,262.7h0.9 M234.0,257.9h0.9 M180.6,275.4h0.9 M230.6,205.4h0.9 M191.1,256.7h0.9 M211.9,229.4h0.9 M261.4,210.5h0.9 M246.0,213.5h0.9 M250.9,205.9h0.9 M232.7,253.2h0.9 M195.5,244.4h0.9 M208.5,269.4h0.9 M227.5,252.2h0.9 M214.9,266.4h0.9 M220.1,253.6h0.9 M220.5,215.6h0.9 M227.9,218.1h0.9 M217.9,220.8h0.9 M176.8,276.7h0.9 M247.5,221.9h0.9 M283.5,219.7h0.9 M271.9,207.5h0.9 M240.4,224.9h0.9 M190.6,254.6h0.9 M300.1,202.9h0.9 M239.1,214.3h0.9 M217.8,246.1h0.9 M263.9,218.4h0.9 M277.7,205.0h0.9 M290.2,204.9h0.9 M269.1,219.7h0.9 M264.0,225.8h0.9 M199.2,276.7h0.9 M259.4,199.3h0.9 M195.5,277.2h0.9 M251.1,202.8h0.9 M224.1,235.7h0.9 M265.8,215.1h0.9 M217.8,222.9h0.9 M252.3,241.6h0.9 M239.5,204.3h0.9 M218.5,215.6h0.9 M223.0,231.6h0.9 M246.9,212.5h0.9 M195.0,254.8h0.9 M227.2,240.1h0.9 M288.2,213.0h0.9 M229.4,261.4h0.9 M245.7,235.8h0.9 M296.1,207.3h0.9 M291.2,198.0h0.9 M220.4,223.3h0.9 M227.5,236.0h0.9 M190.2,277.0h0.9 M271.1,225.6h0.9 M204.2,284.6h0.9 M209.1,269.2h0.9 M240.4,203.2h0.9 M226.1,203.4h0.9 M282.0,198.1h0.9 M225.0,254.2h0.9 M209.2,235.7h0.9 M217.9,233.5h0.9 M256.4,232.0h0.9 M264.5,233.5h0.9 M267.8,204.0h0.9 M291.5,212.3h0.9 M274.1,228.6h0.9 M282.1,207.2h0.9 M291.9,198.1h0.9 M190.5,263.2h0.9 M206.0,265.9h0.9 M258.9,199.2h0.9 M244.5,208.2h0.9 M218.2,232.8h0.9 M302.9,198.1h0.9 M222.9,223.2h0.9 M265.6,225.7h0.9 M239.9,215.5h0.9 M197.5,262.5h0.9 M209.4,229.1h0.9 M218.3,233.8h0.9 M228.1,233.0h0.9 M268.5,202.8h0.9 M255.0,216.0h0.9 M260.0,215.6h0.9 M203.9,257.9h0.9 M274.6,198.5h0.9 M298.0,202.7h0.9 M223.4,214.0h0.9 M245.9,215.2h0.9 M225.3,244.4h0.9 M247.2,245.7h0.9 M260.0,235.8h0.9 M255.7,202.5h0.9 M213.5,251.1h0.9 M300.3,199.5h0.9 M203.0,265.0h0.9 M241.8,216.4h0.9 M208.6,252.8h0.9 M227.7,253.2h0.9 M209.2,226.4h0.9 M232.5,200.5h0.9 M232.8,237.2h0.9 M239.6,223.6h0.9 M282.3,207.9h0.9 M199.8,241.2h0.9 M197.4,274.9h0.9 M194.6,249.6h0.9 M242.2,252.1h0.9 M201.5,272.0h0.9 M295.4,198.6h0.9 M286.0,217.3h0.9 M280.3,226.1h0.9 M230.6,261.7h0.9 M210.3,230.0h0.9 M278.8,199.1h0.9 M257.0,198.3h0.9 M237.5,206.3h0.9 M265.1,206.9h0.9 M276.4,209.4h0.9 M254.4,202.2h0.9 M285.6,209.2h0.9 M192.0,258.7h0.9 M222.2,205.1h0.9 M236.9,244.6h0.9 M197.8,241.6h0.9 M235.2,200.6h0.9 M253.0,213.1h0.9 M218.0,216.9h0.9 M247.4,233.9h0.9 M180.1,277.2h0.9 M300.7,200.0h0.9 M246.1,251.7h0.9 M196.5,251.6h0.9 M291.5,199.2h0.9 M300.9,198.4h0.9 M292.4,201.2h0.9 M184.9,259.5h0.9 M262.5,219.3h0.9 M233.6,255.5h0.9 M197.4,267.5h0.9 M176.9,269.9h0.9 M206.4,248.1h0.9 M279.6,198.0h0.9 M268.6,218.7h0.9 M203.3,266.6h0.9 M194.9,279.3h0.9 M203.8,270.1h0.9 M211.8,231.7h0.9 M214.1,263.1h0.9 M285.0,201.0h0.9 M258.8,198.4h0.9 M216.0,252.9h0.9 M232.1,201.2h0.9 M301.9,199.3h0.9 M294.0,211.4h0.9 M205.6,243.8h0.9 M233.0,242.9h0.9 M290.2,206.6h0.9 M216.7,228.8h0.9 M221.6,233.1h0.9 M182.4,264.1h0.9 M230.3,206.4h0.9 M234.3,223.2h0.9 M209.8,253.6h0.9 M231.2,220.5h0.9 M280.8,210.2h0.9 M186.2,259.2h0.9 M256.2,220.8h0.9 M270.1,224.3h0.9 M229.7,247.7h0.9 M196.4,247.9h0.9 M215.9,216.4h0.9 M282.0,205.7h0.9 M223.8,236.2h0.9 M276.9,206.9h0.9 M277.6,207.1h0.9 M198.7,256.4h0.9 M209.4,224.4h0.9 M228.7,201.3h0.9 M201.6,275.2h0.9 M231.2,236.3h0.9 M258.4,207.8h0.9 M291.0,202.4h0.9 M199.2,244.7h0.9 M214.4,271.5h0.9 M281.7,201.4h0.9 M228.5,245.1h0.9 M269.8,209.9h0.9 M209.9,247.1h0.9 M272.5,216.0h0.9 M279.6,215.3h0.9 M223.8,215.2h0.9 M249.6,225.1h0.9 M221.4,232.8h0.9 M211.9,237.7h0.9 M220.3,253.4h0.9 M233.5,226.3h0.9 M238.0,255.7h0.9 M224.4,233.8h0.9 M290.3,198.9h0.9 M183.2,275.6h0.9 M235.2,211.9h0.9 M262.8,198.8h0.9 M280.3,208.6h0.9 M198.8,264.6h0.9 M282.9,200.2h0.9 M198.1,266.1h0.9 M206.2,274.0h0.9 M226.3,202.0h0.9 M243.3,202.1h0.9 M175.6,278.4h0.9 M220.1,246.8h0.9 M288.9,211.7h0.9 M250.8,199.4h0.9 M212.0,240.5h0.9 M252.8,210.3h0.9 M217.4,247.2h0.9 M222.3,247.8h0.9 M215.3,227.5h0.9 M191.4,272.6h0.9 M256.2,225.8h0.9 M233.7,204.6h0.9 M228.0,233.0h0.9 M221.3,213.6h0.9 M242.4,233.4h0.9 M233.8,202.2h0.9 M224.3,206.9h0.9 M278.9,222.4h0.9 M215.2,221.1h0.9 M239.2,207.6h0.9 M240.7,244.7h0.9 M282.0,205.2h0.9 M215.2,237.0h0.9 M197.1,270.1h0.9 M183.9,270.9h0.9 M224.0,263.1h0.9 M232.1,254.4h0.9 M245.2,205.7h0.9 M268.3,198.8h0.9 M230.4,248.1h0.9 M199.1,266.2h0.9 M201.9,252.5h0.9 M217.6,217.5h0.9 M257.6,220.1h0.9 M245.7,203.2h0.9 M189.8,281.2h0.9 M195.4,258.6h0.9 M267.7,204.2h0.9 M261.8,221.0h0.9 M244.3,231.3h0.9 M243.7,199.5h0.9 M200.8,251.8h0.9 M204.6,231.6h0.9 M263.6,200.1h0.9 M214.3,225.0h0.9 M274.1,210.2h0.9 M270.6,226.5h0.9 M244.0,228.3h0.9 M199.0,268.5h0.9 M278.1,199.0h0.9 M250.3,245.6h0.9 M253.7,203.2h0.9 M273.1,204.8h0.9 M239.8,246.8h0.9 M279.6,220.6h0.9 M280.3,202.5h0.9 M228.4,208.9h0.9 M216.6,244.2h0.9 M290.5,202.2h0.9 M276.8,217.5h0.9 M237.3,203.7h0.9 M263.3,202.0h0.9 M223.9,233.3h0.9 M222.6,212.5h0.9 M219.7,233.5h0.9 M233.2,219.7h0.9 M266.6,210.9h0.9 M255.3,232.2h0.9 M268.2,198.1h0.9 M187.7,264.3h0.9 M266.0,217.7h0.9 M293.3,210.2h0.9 M237.5,200.1h0.9 M250.3,217.9h0.9 M234.4,208.7h0.9 M179.6,266.8h0.9 M234.1,217.1h0.9 M186.3,265.6h0.9 M262.8,209.3h0.9 M254.1,212.2h0.9 M288.6,210.9h0.9 M175.9,277.5h0.9 M304.5,199.0h0.9 M176.2,271.7h0.9 M245.6,216.7h0.9 M232.6,201.6h0.9 M239.2,228.9h0.9 M234.4,207.9h0.9 M291.9,200.6h0.9 M266.1,227.5h0.9 M212.9,239.0h0.9 M219.3,213.9h0.9 M232.0,264.6h0.9 M260.7,213.1h0.9 M243.7,245.2h0.9 M286.5,201.3h0.9 M193.5,255.1h0.9 M257.9,213.4h0.9 M241.8,215.1h0.9 M259.4,202.8h0.9 M228.5,230.8h0.9 M232.2,248.1h0.9 M245.4,214.7h0.9 M277.6,205.9h0.9 M226.8,254.3h0.9 M207.8,240.9h0.9 M271.9,206.5h0.9 M248.0,205.0h0.9 M248.8,234.6h0.9 M244.4,231.8h0.9 M272.9,202.5h0.9 M223.7,260.6h0.9 M246.6,243.7h0.9 M240.8,229.8h0.9 M245.0,211.1h0.9 M179.8,272.0h0.9 M229.6,204.7h0.9 M207.9,251.3h0.9 M247.6,215.9h0.9 M287.7,211.1h0.9 M211.0,250.9h0.9 M257.1,221.7h0.9 M219.5,225.6h0.9 M244.7,205.0h0.9 M263.0,219.8h0.9 M177.1,277.5h0.9 M281.7,198.5h0.9 M243.7,201.4h0.9 M204.2,274.3h0.9 M227.5,209.0h0.9 M197.2,252.3h0.9 M237.6,233.8h0.9 M264.0,231.2h0.9 M252.7,209.8h0.9 M195.9,248.1h0.9 M182.7,274.4h0.9 M262.1,200.6h0.9 M216.0,227.1h0.9 M242.0,206.4h0.9 M267.2,235.0h0.9 M222.3,208.8h0.9 M183.1,278.2h0.9 M284.3,209.7h0.9 M200.8,250.3h0.9 M210.3,224.9h0.9 M209.2,260.8h0.9 M204.2,254.8h0.9 M186.0,279.1h0.9 M219.0,240.9h0.9 M230.0,211.1h0.9 M300.1,199.3h0.9 M218.3,265.4h0.9 M272.3,205.5h0.9 M285.5,205.6h0.9 M237.4,209.2h0.9 M186.7,280.8h0.9 M178.7,272.3h0.9 M260.7,233.5h0.9 M212.8,262.8h0.9 M194.2,253.1h0.9 M225.2,203.7h0.9 M265.8,208.9h0.9 M236.9,256.4h0.9 M199.6,243.5h0.9 M243.0,250.4h0.9 M220.1,209.1h0.9 M228.6,214.2h0.9 M256.5,198.8h0.9 M295.6,197.9h0.9 M233.9,200.6h0.9 M203.8,280.2h0.9 M279.8,215.4h0.9 M249.7,215.2h0.9 M210.5,231.6h0.9 M226.5,205.7h0.9 M256.2,241.5h0.9 M197.9,272.7h0.9 M225.5,202.8h0.9 M205.5,244.5h0.9 M263.1,221.7h0.9 M259.7,212.7h0.9 M223.3,238.5h0.9 M292.2,198.2h0.9 M290.1,209.0h0.9 M287.0,206.6h0.9 M216.1,218.1h0.9 M285.9,217.3h0.9 M284.5,211.3h0.9 M235.1,217.2h0.9 M292.7,208.9h0.9 M243.8,199.4h0.9 M186.4,275.5h0.9 M246.1,220.4h0.9 M272.0,209.5h0.9 M265.1,214.7h0.9 M300.8,198.1h0.9 M199.1,264.5h0.9 M244.6,231.3h0.9 M193.9,275.1h0.9 M273.0,227.9h0.9 M288.3,202.7h0.9 M208.5,231.6h0.9 M278.1,222.8h0.9 M206.9,241.6h0.9 M208.4,271.3h0.9 M275.8,218.8h0.9 M198.0,248.8h0.9 M282.0,198.5h0.9 M210.9,268.7h0.9 M278.0,204.5h0.9 M257.0,207.0h0.9 M194.1,248.3h0.9 M221.6,238.0h0.9 M226.1,267.7h0.9 M218.6,218.9h0.9 M200.9,279.2h0.9 M197.0,277.2h0.9 M215.2,246.0h0.9 M299.4,209.3h0.9 M262.3,201.3h0.9 M262.0,206.2h0.9 M258.6,234.2h0.9 M222.0,206.2h0.9 M266.0,199.4h0.9 M191.3,271.3h0.9 M190.6,251.8h0.9 M198.5,264.9h0.9 M253.2,236.7h0.9 M247.7,203.9h0.9 M229.7,204.9h0.9 M259.6,226.1h0.9 M255.2,199.9h0.9 M296.5,205.8h0.9 M222.4,263.0h0.9 M217.6,229.9h0.9 M219.5,259.9h0.9 M223.0,226.3h0.9 M298.1,202.9h0.9 M194.0,273.0h0.9 M232.4,208.9h0.9 M240.7,207.2h0.9 M237.6,216.8h0.9 M202.4,259.3h0.9 M284.4,210.1h0.9 M269.9,215.5h0.9 M178.3,274.2h0.9 M234.0,218.3h0.9 M286.4,203.1h0.9 M228.2,246.0h0.9 M237.6,245.9h0.9 M198.6,266.0h0.9 M250.9,238.4h0.9 M214.9,233.4h0.9 M254.5,222.0h0.9 M218.6,210.7h0.9 M261.6,207.5h0.9 M234.8,218.1h0.9 M232.6,214.0h0.9 M237.7,243.0h0.9 M192.7,274.5h0.9 M219.4,232.9h0.9 M261.1,211.6h0.9 M239.2,239.5h0.9 M207.1,266.1h0.9 M219.8,261.9h0.9 M219.3,238.1h0.9 M229.2,240.3h0.9 M198.0,249.8h0.9 M261.8,203.9h0.9 M218.7,217.1h0.9 M244.3,206.3h0.9 M241.5,200.1h0.9 M256.4,210.7h0.9 M236.6,248.7h0.9 M282.3,213.6h0.9 M199.8,269.8h0.9 M233.6,239.8h0.9 M208.5,229.5h0.9 M236.7,248.1h0.9 M257.6,211.4h0.9 M282.6,201.6h0.9 M232.0,234.2h0.9 M180.3,267.3h0.9 M218.3,257.8h0.9 M267.3,207.4h0.9 M221.1,232.5h0.9 M227.6,201.6h0.9 M281.9,204.5h0.9 M282.3,199.9h0.9 M231.0,216.1h0.9 M301.6,198.5h0.9 M216.7,254.5h0.9 M209.1,264.5h0.9 M272.2,198.9h0.9 M283.9,200.3h0.9 M296.8,200.6h0.9 M232.2,214.8h0.9 M227.1,235.8h0.9 M259.1,221.8h0.9 M206.6,229.6h0.9 M235.5,235.7h0.9 M283.8,197.9h0.9 M236.2,201.8h0.9 M247.2,241.9h0.9 M245.5,229.7h0.9 M297.0,198.0h0.9 M196.6,252.6h0.9 M209.6,233.3h0.9 M273.3,204.8h0.9 M190.6,252.7h0.9 M224.4,263.2h0.9 M233.0,206.0h0.9 M283.0,208.5h0.9 M258.7,207.3h0.9 M253.5,219.0h0.9 M246.4,200.7h0.9 M187.9,258.1h0.9 M282.6,204.2h0.9 M191.0,256.1h0.9 M228.3,219.2h0.9 M286.2,217.5h0.9 M225.0,261.1h0.9 M208.8,227.7h0.9 M281.7,224.5h0.9 M269.8,214.0h0.9 M202.9,242.0h0.9 M255.3,204.5h0.9 M246.6,212.6h0.9 M206.4,233.5h0.9 M245.3,216.6h0.9 M252.5,237.3h0.9 M226.8,246.1h0.9 M271.4,201.3h0.9 M245.8,217.2h0.9 M202.0,254.5h0.9 M224.0,210.3h0.9 M272.2,223.4h0.9 M238.1,225.9h0.9 M223.3,259.1h0.9 M192.9,269.2h0.9 M223.1,258.1h0.9 M240.9,227.4h0.9 M195.2,245.9h0.9 M207.5,266.1h0.9 M239.0,228.1h0.9 M243.6,236.7h0.9 M213.4,224.7h0.9 M224.7,267.9h0.9 M244.1,230.0h0.9 M187.1,273.8h0.9 M267.3,203.1h0.9 M192.4,281.0h0.9 M240.6,209.8h0.9 M223.3,253.2h0.9 M245.3,199.9h0.9 M251.0,235.7h0.9 M215.5,266.1h0.9 M270.5,200.9h0.9 M224.0,202.7h0.9 M206.7,236.9h0.9 M223.9,206.0h0.9 M236.2,204.3h0.9 M199.0,255.8h0.9 M258.1,220.7h0.9 M256.9,233.6h0.9 M278.3,222.3h0.9 M276.1,224.2h0.9 M187.1,256.4h0.9 M246.8,211.8h0.9 M246.0,222.5h0.9 M226.4,243.8h0.9 M249.0,223.3h0.9 M276.8,203.9h0.9 M212.4,267.6h0.9 M201.0,259.6h0.9 M264.2,226.7h0.9 M226.5,218.5h0.9 M270.2,229.5h0.9 M293.3,211.1h0.9 M254.4,205.1h0.9 M224.4,243.7h0.9 M207.9,247.7h0.9 M232.8,209.6h0.9 M221.6,272.8h0.9 M209.2,235.8h0.9 M182.9,277.1h0.9 M243.5,236.8h0.9 M284.3,210.9h0.9 M280.8,201.9h0.9 M218.0,211.6h0.9 M209.5,269.1h0.9 M253.1,220.5h0.9 M284.4,204.4h0.9 M219.1,263.9h0.9 M264.8,222.7h0.9 M206.6,251.0h0.9 M232.5,246.4h0.9 M274.9,209.9h0.9 M248.2,200.5h0.9 M215.8,231.9h0.9 M258.9,206.8h0.9 M186.5,274.6h0.9 M200.9,253.9h0.9 M285.3,214.3h0.9 M217.9,246.8h0.9 M284.8,199.7h0.9 M237.6,236.7h0.9 M284.2,209.4h0.9 M211.6,238.4h0.9 M274.7,202.4h0.9 M302.5,206.7h0.9 M222.2,210.5h0.9 M237.3,199.8h0.9 M203.9,234.1h0.9 M208.7,230.9h0.9 M228.0,237.3h0.9 M253.1,201.7h0.9 M189.4,266.7h0.9 M288.3,201.8h0.9 M272.4,225.4h0.9 M219.6,223.4h0.9 M258.6,236.8h0.9 M238.4,204.0h0.9 M277.8,222.3h0.9 M186.0,258.9h0.9 M270.0,202.2h0.9 M232.2,223.8h0.9 M224.7,248.5h0.9 M223.3,203.7h0.9 M274.0,215.0h0.9 M266.3,213.3h0.9 M241.8,236.5h0.9 M233.4,211.1h0.9 M220.2,249.3h0.9 M207.4,252.8h0.9 M209.1,262.7h0.9 M261.8,229.8h0.9 M261.8,222.9h0.9 M265.3,227.5h0.9 M180.8,272.4h0.9 M176.6,269.0h0.9 M200.4,241.3h0.9 M265.1,220.8h0.9 M197.3,255.3h0.9 M245.9,199.0h0.9 M193.5,248.0h0.9 M221.3,210.6h0.9 M242.4,205.8h0.9 M270.8,198.2h0.9 M238.5,203.1h0.9 M231.8,247.8h0.9 M274.9,201.4h0.9 M237.9,245.6h0.9 M287.5,207.2h0.9 M270.8,210.4h0.9 M195.3,268.9h0.9 M202.3,254.7h0.9 M264.7,200.2h0.9 M284.6,198.6h0.9 M241.6,213.9h0.9 M228.6,215.8h0.9 M281.0,214.9h0.9 M194.7,278.5h0.9 M271.1,201.9h0.9 M246.7,230.6h0.9 M274.9,222.1h0.9 M221.7,236.8h0.9 M221.3,212.0h0.9 M258.7,230.8h0.9 M241.6,204.4h0.9 M271.3,230.1h0.9 M287.4,213.5h0.9 M233.3,256.0h0.9 M200.0,258.3h0.9 M228.0,205.2h0.9 M205.8,241.1h0.9 M230.0,202.4h0.9 M272.4,207.2h0.9 M209.2,257.8h0.9 M202.0,244.2h0.9 M243.2,201.8h0.9 M280.2,211.4h0.9 M230.2,206.8h0.9 M248.8,209.4h0.9 M234.5,239.8h0.9 M184.1,269.7h0.9 M249.5,211.7h0.9 M233.0,250.1h0.9 M286.9,207.8h0.9 M202.2,259.2h0.9 M212.2,231.6h0.9 M213.3,268.1h0.9 M233.4,218.1h0.9 M299.6,206.4h0.9 M297.6,201.7h0.9 M222.1,210.7h0.9 M229.6,205.7h0.9 M248.6,200.0h0.9 M206.3,232.8h0.9 M197.9,242.5h0.9 M272.7,199.8h0.9 M297.8,202.6h0.9 M293.6,198.0h0.9 M260.3,205.7h0.9 M190.3,280.1h0.9 M203.7,254.5h0.9 M289.9,205.1h0.9 M268.3,213.4h0.9 M270.3,224.0h0.9 M225.5,232.6h0.9 M242.1,199.7h0.9 M200.7,239.0h0.9 M235.2,200.1h0.9 M201.4,269.7h0.9 M209.0,224.9h0.9 M222.1,219.8h0.9 M199.8,278.0h0.9 M199.3,269.5h0.9 M264.1,221.6h0.9 M276.2,200.5h0.9 M212.6,228.8h0.9 M182.6,264.8h0.9 M198.0,254.7h0.9 M221.5,225.4h0.9 M242.2,199.8h0.9 M214.8,247.4h0.9 M267.0,218.8h0.9 M224.2,210.9h0.9 M277.3,198.3h0.9 M261.1,243.9h0.9 M282.9,198.1h0.9 M253.3,234.6h0.9 M276.7,200.8h0.9 M267.8,225.3h0.9 M191.4,250.1h0.9 M217.5,256.5h0.9 M289.8,210.7h0.9 M268.1,223.8h0.9 M178.4,273.5h0.9 M259.8,202.4h0.9 M265.4,212.7h0.9 M199.1,239.3h0.9 M244.5,199.5h0.9 M222.7,248.9h0.9 M213.7,223.3h0.9 M245.7,211.6h0.9 M241.3,229.3h0.9 M237.3,204.4h0.9 M203.5,244.2h0.9 M190.7,254.4h0.9 M265.1,221.0h0.9 M256.2,241.2h0.9 M217.8,212.4h0.9 M229.5,261.5h0.9 M271.9,211.3h0.9 M290.3,206.7h0.9 M266.6,199.7h0.9 M244.6,206.6h0.9 M180.4,266.2h0.9 M201.8,239.8h0.9 M240.2,199.7h0.9 M203.9,248.4h0.9 M302.9,205.5h0.9 M294.2,205.8h0.9 M200.6,243.7h0.9 M241.3,236.4h0.9 M285.2,205.0h0.9 M293.7,212.4h0.9 M250.5,217.1h0.9 M230.6,252.9h0.9 M241.5,252.1h0.9 M182.0,277.8h0.9 M272.8,207.8h0.9 M201.0,272.0h0.9 M229.4,201.9h0.9 M274.2,214.2h0.9 M209.4,244.7h0.9 M251.3,200.6h0.9 M251.3,206.0h0.9 M207.5,262.6h0.9 M220.1,266.4h0.9 M221.4,257.4h0.9 M240.6,201.3h0.9 M236.7,212.0h0.9 M227.4,254.3h0.9 M194.5,252.1h0.9 M197.2,253.2h0.9 M209.0,254.1h0.9 M180.9,272.5h0.9 M213.0,263.2h0.9 M262.8,210.9h0.9 M227.1,226.2h0.9 M247.1,210.8h0.9 M213.1,227.1h0.9 M268.8,228.3h0.9 M233.3,252.1h0.9 M231.4,214.2h0.9 M224.6,237.1h0.9 M270.6,200.2h0.9 M241.2,221.0h0.9 M198.4,270.7h0.9 M261.4,229.5h0.9 M230.8,244.0h0.9 M251.9,237.9h0.9 M183.1,271.9h0.9 M232.5,201.4h0.9 M269.5,207.9h0.9 M255.5,220.9h0.9 M178.9,268.6h0.9 M208.9,232.7h0.9 M181.9,262.9h0.9 M247.3,221.1h0.9 M281.0,209.1h0.9 M242.9,212.7h0.9 M206.9,240.1h0.9 M239.5,208.1h0.9 M233.8,205.1h0.9 M297.0,198.4h0.9 M205.1,232.4h0.9 M220.0,224.6h0.9 M262.1,199.3h0.9 M254.3,240.8h0.9 M208.7,240.5h0.9 M226.0,202.0h0.9 M211.6,226.4h0.9 M219.2,230.4h0.9 M226.8,228.6h0.9 M277.4,198.3h0.9 M244.8,218.2h0.9 M240.3,225.6h0.9 M237.3,234.7h0.9 M217.4,215.6h0.9 M204.9,233.0h0.9 M199.5,247.8h0.9 M217.3,217.5h0.9 M228.2,249.7h0.9 M202.1,248.0h0.9 M223.8,217.9h0.9 M224.2,261.4h0.9 M278.4,219.8h0.9 M294.2,205.6h0.9 M270.6,215.1h0.9 M220.2,208.3h0.9 M246.4,229.8h0.9 M238.8,231.0h0.9 M198.5,257.0h0.9 M181.8,266.6h0.9 M185.2,258.9h0.9 M262.6,198.2h0.9 M231.1,207.3h0.9 M273.0,211.2h0.9 M224.8,240.4h0.9 M225.3,247.8h0.9 M192.9,259.8h0.9 M185.9,278.6h0.9 M247.1,222.1h0.9 M225.5,212.7h0.9 M261.7,236.3h0.9 M266.0,235.2h0.9 M251.8,213.9h0.9 M193.3,272.8h0.9 M284.4,198.5h0.9 M259.0,222.8h0.9 M256.5,223.1h0.9 M192.5,263.9h0.9 M280.5,219.7h0.9 M202.9,271.6h0.9 M259.7,200.2h0.9 M232.2,249.2h0.9 M255.2,224.8h0.9 M282.8,218.6h0.9 M238.1,199.8h0.9 M299.1,209.1h0.9 M175.6,278.8h0.9 M224.4,221.3h0.9 M269.7,200.4h0.9 M292.7,205.2h0.9 M246.7,201.6h0.9 M181.7,268.3h0.9 M215.8,233.5h0.9 M287.1,214.3h0.9 M236.3,224.8h0.9 M225.3,259.9h0.9 M275.8,198.0h0.9 M275.4,202.9h0.9 M271.7,198.2h0.9 M260.4,228.8h0.9 M270.8,198.1h0.9 M240.2,231.4h0.9 M228.6,224.8h0.9 M211.7,251.3h0.9 M244.1,217.3h0.9 M191.2,263.3h0.9 M268.2,210.8h0.9 M239.4,200.2h0.9 M290.9,207.4h0.9 M227.8,217.0h0.9 M290.3,203.3h0.9 M296.7,198.4h0.9 M253.6,200.2h0.9 M204.8,261.1h0.9 M206.9,230.2h0.9 M260.7,208.2h0.9 M187.9,274.2h0.9 M246.5,234.2h0.9 M269.1,220.2h0.9 M220.5,248.2h0.9 M225.6,235.1h0.9 M260.7,213.5h0.9 M266.3,209.0h0.9 M221.7,209.3h0.9 M218.2,271.9h0.9 M217.9,238.3h0.9 M298.3,209.4h0.9 M229.9,227.5h0.9 M186.2,263.2h0.9 M201.9,247.5h0.9 M282.0,197.9h0.9 M231.7,231.4h0.9 M235.2,201.0h0.9 M206.5,271.9h0.9 M207.9,259.0h0.9 M295.3,197.9h0.9 M215.1,221.6h0.9 M216.9,224.5h0.9 M239.6,217.2h0.9 M222.5,208.5h0.9 M288.3,207.0h0.9 M198.4,260.1h0.9 M275.4,219.7h0.9 M246.3,216.1h0.9 M188.9,274.0h0.9 M279.5,198.3h0.9 M200.1,273.4h0.9 M262.7,210.1h0.9 M220.2,212.3h0.9 M212.8,221.3h0.9 M293.3,209.3h0.9 M241.8,213.5h0.9 M263.0,200.0h0.9 M230.6,241.5h0.9 M214.3,250.9h0.9 M290.8,211.2h0.9 M227.8,204.0h0.9 M193.8,270.4h0.9 M294.2,212.0h0.9 M279.5,209.7h0.9 M204.1,254.1h0.9 M232.5,207.4h0.9 M218.6,213.6h0.9 M278.9,217.7h0.9 M216.0,238.3h0.9 M254.4,218.0h0.9 M235.4,247.3h0.9 M259.3,237.7h0.9 M278.5,216.4h0.9 M252.0,246.0h0.9 M274.5,224.4h0.9 M206.2,249.8h0.9 M272.6,204.8h0.9 M234.9,211.1h0.9 M175.7,273.4h0.9 M263.2,207.9h0.9 M203.1,234.4h0.9 M250.9,225.1h0.9 M264.5,198.3h0.9 M294.5,198.4h0.9 M290.3,201.4h0.9 M246.7,220.4h0.9 M202.3,262.9h0.9 M207.3,230.4h0.9 M285.8,198.2h0.9 M228.0,247.2h0.9 M197.6,242.4h0.9 M210.5,223.7h0.9 M239.5,248.5h0.9 M240.9,250.3h0.9 M240.9,245.2h0.9 M196.6,273.1h0.9 M258.0,213.7h0.9 M261.2,198.7h0.9 M193.6,254.3h0.9 M214.0,268.7h0.9 M196.7,252.4h0.9 M223.4,218.0h0.9 M201.5,246.2h0.9 M228.9,210.4h0.9 M213.9,267.6h0.9 M233.7,244.1h0.9 M226.1,207.3h0.9 M282.5,210.7h0.9 M288.1,210.9h0.9 M235.2,252.8h0.9 M295.8,199.7h0.9 M284.2,204.5h0.9 M221.6,206.1h0.9 M219.6,215.0h0.9 M204.8,237.8h0.9 M242.0,203.0h0.9 M183.8,260.3h0.9 M215.6,215.2h0.9 M206.6,268.2h0.9 M210.6,248.2h0.9 M258.2,230.4h0.9 M255.6,214.5h0.9 M253.0,222.3h0.9 M176.8,272.4h0.9 M220.2,212.8h0.9 M267.6,205.2h0.9 M196.4,255.8h0.9 M201.6,236.4h0.9 M236.1,220.5h0.9 M297.4,205.7h0.9 M190.0,280.2h0.9 M243.1,229.7h0.9 M183.2,264.7h0.9 M264.3,206.4h0.9 M216.8,250.7h0.9 M228.1,204.4h0.9 M287.5,203.2h0.9 M191.5,256.0h0.9 M302.8,203.7h0.9 M210.7,231.6h0.9 M258.5,237.3h0.9 M191.0,255.3h0.9 M183.5,269.5h0.9 M201.4,267.6h0.9 M233.0,232.6h0.9 M183.8,261.5h0.9 M223.9,219.1h0.9 M202.4,235.1h0.9 M211.2,259.6h0.9 M237.3,217.2h0.9 M185.4,263.9h0.9 M291.7,203.8h0.9 M180.0,279.9h0.9 M266.1,208.5h0.9 M203.1,269.0h0.9 M188.6,254.1h0.9 M267.7,216.1h0.9 M292.1,206.3h0.9 M296.7,209.3h0.9 M215.1,242.1h0.9 M198.3,240.8h0.9 M274.8,207.5h0.9 M229.9,250.7h0.9 M235.8,227.4h0.9 M212.0,246.6h0.9 M270.4,234.6h0.9 M231.4,217.3h0.9 M206.6,270.2h0.9 M201.1,237.4h0.9 M232.3,223.1h0.9 M222.3,226.4h0.9 M240.9,207.9h0.9 M198.1,261.4h0.9 M292.3,198.0h0.9 M219.5,215.7h0.9 M197.3,259.8h0.9 M201.3,237.8h0.9 M192.5,272.3h0.9 M266.9,203.2h0.9 M177.4,269.0h0.9 M300.4,206.8h0.9 M268.9,226.3h0.9 M178.1,269.5h0.9 M235.5,213.6h0.9 M278.8,217.0h0.9 M262.9,208.6h0.9 M206.8,253.5h0.9 M216.9,248.8h0.9 M252.8,238.9h0.9 M184.2,266.9h0.9 M257.5,212.6h0.9 M238.9,242.7h0.9 M246.2,244.3h0.9 M268.6,204.4h0.9 M261.0,212.7h0.9 M261.0,220.8h0.9 M220.3,231.8h0.9 M266.6,221.1h0.9 M236.0,242.6h0.9 M225.3,204.4h0.9 M260.7,211.1h0.9 M185.5,275.6h0.9 M208.1,239.7h0.9 M215.7,215.9h0.9 M210.2,223.9h0.9 M253.5,243.0h0.9 M208.5,235.1h0.9 M220.6,239.7h0.9 M216.5,213.8h0.9 M294.0,197.9h0.9 M286.7,198.4h0.9 M272.9,221.9h0.9 M181.0,272.5h0.9 M234.9,218.2h0.9 M185.4,261.7h0.9 M277.6,200.0h0.9 M231.4,202.5h0.9 M281.5,199.4h0.9 M197.2,275.7h0.9 M241.2,236.8h0.9 M195.1,250.6h0.9 M214.6,254.4h0.9 M275.9,203.4h0.9 M237.3,207.2h0.9 M274.3,208.5h0.9 M194.6,260.8h0.9 M206.9,228.5h0.9 M211.0,277.5h0.9 M259.5,208.8h0.9 M228.2,203.1h0.9 M230.8,242.4h0.9 M221.3,208.4h0.9 M215.0,248.7h0.9 M287.4,200.6h0.9 M239.0,228.4h0.9 M229.4,212.4h0.9 M289.9,203.2h0.9 M228.3,222.2h0.9 M190.4,261.4h0.9 M272.3,221.6h0.9 M268.8,215.2h0.9 M276.4,199.8h0.9 M222.4,207.8h0.9 M289.0,205.9h0.9 M259.4,199.5h0.9 M232.1,244.7h0.9 M249.8,202.2h0.9 M191.5,278.4h0.9 M236.0,245.1h0.9 M231.7,200.7h0.9 M247.7,225.8h0.9 M237.8,215.1h0.9 M203.6,245.3h0.9 M195.6,244.2h0.9 M221.5,208.7h0.9 M231.3,201.4h0.9 M211.0,249.5h0.9 M288.0,209.7h0.9 M256.1,201.3h0.9 M228.5,258.6h0.9 M228.3,233.3h0.9 M242.3,208.1h0.9 M243.2,211.4h0.9 M214.7,260.0h0.9 M196.8,246.1h0.9 M210.5,234.1h0.9 M217.2,260.8h0.9 M226.9,235.3h0.9 M218.6,210.6h0.9 M189.3,262.8h0.9 M296.7,199.2h0.9 M229.5,202.6h0.9 M254.2,210.8h0.9 M272.1,221.2h0.9 M176.5,273.8h0.9 M229.1,202.8h0.9 M277.7,208.7h0.9 M227.2,216.5h0.9 M235.9,221.9h0.9 M197.1,245.1h0.9 M270.9,226.3h0.9 M215.4,216.5h0.9 M234.7,207.0h0.9 M233.8,221.0h0.9 M267.1,203.4h0.9 M201.8,248.2h0.9 M260.5,199.1h0.9 M199.1,240.7h0.9 M247.4,248.0h0.9 M198.5,271.4h0.9 M250.5,218.1h0.9 M286.9,208.7h0.9 M239.0,203.3h0.9 M216.4,251.4h0.9 M288.7,202.4h0.9 M290.0,212.2h0.9 M216.6,230.3h0.9 M227.0,206.5h0.9 M265.0,216.0h0.9 M250.3,203.4h0.9 M218.6,249.3h0.9 M194.8,249.7h0.9 M204.0,273.5h0.9 M285.5,220.4h0.9 M264.9,203.5h0.9 M267.4,213.8h0.9 M243.0,200.0h0.9 M304.4,198.3h0.9 M269.6,198.1h0.9 M188.2,265.8h0.9 M200.4,271.2h0.9 M217.0,213.0h0.9 M204.6,231.7h0.9 M271.9,201.1h0.9 M223.3,241.6h0.9 M230.7,218.5h0.9 M189.6,264.2h0.9 M280.6,198.5h0.9 M232.0,221.1h0.9 M261.5,222.8h0.9 M207.0,254.8h0.9 M186.1,274.7h0.9 M186.9,260.5h0.9 M231.9,205.1h0.9 M251.9,222.9h0.9 M201.5,244.7h0.9 M248.8,208.7h0.9 M233.5,248.9h0.9 M275.8,220.1h0.9 M220.5,239.7h0.9 M182.5,266.0h0.9 M222.6,215.2h0.9 M288.0,198.7h0.9 M254.1,225.8h0.9 M227.5,217.0h0.9 M206.6,231.2h0.9 M233.5,243.0h0.9 M196.6,275.2h0.9 M218.1,228.7h0.9 M178.3,277.4h0.9 M252.3,206.5h0.9 M224.0,225.2h0.9 M226.1,246.6h0.9 M260.7,232.3h0.9 M207.1,280.2h0.9 M277.3,225.4h0.9 M247.3,202.6h0.9 M258.6,198.3h0.9 M257.3,228.9h0.9 M248.8,211.9h0.9 M206.9,268.2h0.9 M270.0,199.8h0.9 M236.2,260.3h0.9 M261.4,198.8h0.9 M249.8,200.1h0.9 M298.0,207.6h0.9 M218.2,212.4h0.9 M256.5,223.3h0.9 M285.2,201.7h0.9 M290.1,201.3h0.9 M245.8,202.9h0.9 M290.2,213.3h0.9 M256.8,203.1h0.9 M271.2,207.3h0.9 M203.9,258.8h0.9 M176.7,268.4h0.9 M215.7,219.6h0.9 M224.2,211.8h0.9 M267.7,215.5h0.9 M239.8,236.7h0.9 M262.0,208.2h0.9 M240.0,221.5h0.9 M234.9,226.0h0.9 M241.9,206.6h0.9 M259.5,227.1h0.9 M296.5,204.3h0.9 M189.1,278.5h0.9 M232.7,249.8h0.9 M228.4,210.5h0.9 M177.0,268.6h0.9 M242.1,243.1h0.9 M303.6,203.5h0.9 M242.7,226.4h0.9 M216.2,266.0h0.9 M197.4,267.8h0.9 M249.3,202.8h0.9 M268.1,198.5h0.9 M211.8,262.9h0.9 M299.3,198.0h0.9 M205.3,268.8h0.9 M253.3,200.5h0.9 M236.3,245.7h0.9 M180.1,270.2h0.9 M210.4,261.1h0.9 M239.5,206.9h0.9 M198.5,274.3h0.9 M261.6,234.6h0.9 M240.6,225.2h0.9 M236.0,257.4h0.9 M250.7,222.7h0.9 M240.3,200.5h0.9 M202.8,264.0h0.9 M286.3,201.3h0.9 M225.0,213.2h0.9 M242.1,215.7h0.9 M255.8,203.2h0.9 M195.0,247.5h0.9 M264.9,216.6h0.9 M287.2,214.1h0.9 M180.6,277.5h0.9 M218.2,262.6h0.9 M232.2,238.0h0.9 M283.8,206.5h0.9 M247.8,252.7h0.9 M223.3,207.1h0.9 M222.9,204.9h0.9 M293.3,209.1h0.9 M239.8,238.0h0.9 M236.6,234.3h0.9 M251.6,223.7h0.9 M241.6,214.7h0.9 M271.5,226.0h0.9 M292.5,211.3h0.9 M183.9,277.6h0.9 M203.3,234.7h0.9 M187.0,272.7h0.9 M289.2,203.5h0.9 M241.7,220.6h0.9 M232.4,218.5h0.9 M255.0,215.1h0.9 M257.2,201.3h0.9 M283.0,208.3h0.9 M232.6,223.5h0.9 M194.7,260.7h0.9 M196.2,252.9h0.9 M280.7,215.1h0.9 M233.9,245.9h0.9 M262.8,215.9h0.9 M230.6,201.2h0.9" stroke="#1a6dbb" stroke-width="0.95"/>
<path d="M215.4,278.3h0.8 M235.6,255.4h0.8 M292.4,263.1h0.8 M283.6,265.2h0.8 M271.9,254.2h0.8 M198.0,280.9h0.8 M180.9,279.0h0.8 M252.6,258.5h0.8 M234.3,281.5h0.8 M249.3,277.2h0.8 M276.9,243.1h0.8 M245.4,252.0h0.8 M284.0,223.9h0.8 M279.2,262.9h0.8 M200.5,278.7h0.8 M269.8,250.4h0.8 M199.9,283.2h0.8 M282.0,228.5h0.8 M271.5,244.7h0.8 M244.5,250.6h0.8 M181.4,278.7h0.8 M261.1,243.9h0.8 M250.7,279.3h0.8 M265.4,269.8h0.8 M199.3,282.7h0.8 M228.5,277.6h0.8 M227.9,268.8h0.8 M222.7,270.9h0.8 M281.2,250.7h0.8 M287.0,248.6h0.8 M265.7,273.5h0.8 M215.8,276.0h0.8 M273.0,256.5h0.8 M283.1,225.5h0.8 M189.9,284.1h0.8 M177.9,280.0h0.8 M215.7,279.1h0.8 M196.6,283.9h0.8 M271.5,243.8h0.8 M191.3,279.7h0.8 M272.9,261.9h0.8 M192.3,277.5h0.8 M268.1,263.9h0.8 M244.1,266.1h0.8 M270.4,233.9h0.8 M256.1,257.9h0.8 M212.9,279.2h0.8 M285.0,237.1h0.8 M276.3,249.0h0.8 M278.2,252.4h0.8 M277.5,239.1h0.8 M205.3,274.2h0.8 M213.5,276.6h0.8 M263.4,282.6h0.8 M258.0,242.5h0.8 M222.9,265.2h0.8 M291.8,275.2h0.8 M263.0,273.7h0.8 M212.2,280.6h0.8 M239.4,279.0h0.8 M250.8,247.6h0.8 M222.6,275.7h0.8 M295.1,230.7h0.8 M208.5,270.5h0.8 M183.9,279.3h0.8 M293.5,252.8h0.8 M281.7,235.3h0.8 M275.9,249.4h0.8 M268.2,231.6h0.8 M207.5,275.0h0.8 M187.4,279.9h0.8 M296.3,234.0h0.8 M298.6,283.4h0.8 M236.8,251.9h0.8 M299.8,242.2h0.8 M225.0,271.3h0.8 M272.3,256.4h0.8 M180.2,279.8h0.8 M238.3,268.9h0.8 M200.6,277.0h0.8 M295.0,212.5h0.8 M197.5,282.8h0.8 M178.5,278.5h0.8 M189.2,280.6h0.8 M205.0,284.0h0.8 M256.4,251.3h0.8 M269.8,271.1h0.8 M262.9,269.9h0.8 M249.8,248.4h0.8 M186.4,278.4h0.8" stroke="#9fb6cc" stroke-width="0.7"/>
<polyline points="174.2,268.6 175.1,267.9 176.0,267.0 176.9,266.0 177.8,265.0 178.7,264.0 179.6,262.9 180.5,261.8 181.4,260.7 182.3,259.6 183.2,258.5 184.1,257.3 185.0,256.2 185.9,255.0 186.8,253.8 187.8,252.7 188.7,251.5 189.6,250.3 190.5,249.0 191.4,247.8 192.3,246.6 193.2,245.3 194.1,244.1 195.0,242.8 195.9,241.6 196.8,240.3 197.7,239.1 198.6,237.8 199.5,236.5 200.4,235.2 201.3,233.9 202.2,232.6 203.1,231.3 204.0,230.0 204.9,228.7 205.9,227.4 206.8,226.0 207.7,224.7 208.6,223.4 209.5,222.0 210.4,220.7 211.3,219.4 212.2,218.0 213.1,216.7 214.0,215.3 214.9,213.9 215.8,212.6 216.7,211.2 217.6,209.9 218.5,208.5 219.4,207.1 220.3,205.7 221.2,204.3 222.1,203.0 223.0,201.6 224.0,200.4 224.9,200.1 225.8,199.8 226.7,199.6 227.6,199.3 228.5,199.1 229.4,198.9 230.3,198.7 231.2,198.5 232.1,198.4 233.0,198.2 233.9,198.0 234.8,197.9 235.7,197.8 236.6,197.6 237.5,197.5 238.4,197.4 239.3,197.3 240.2,197.2 241.1,197.1 242.1,197.0 243.0,196.9 243.9,196.9 244.8,196.8 245.7,196.7 246.6,196.7 247.5,196.6 248.4,196.5 249.3,196.5 250.2,196.4 251.1,196.4 252.0,196.4 252.9,196.3 253.8,196.3 254.7,196.2 255.6,196.2 256.5,196.2 257.4,196.1 258.3,196.1 259.2,196.1 260.2,196.1 261.1,196.0 262.0,196.0 262.9,196.0 263.8,196.0 264.7,196.0 265.6,195.9 266.5,195.9 267.4,195.9 268.3,195.9 269.2,195.9 270.1,195.9 271.0,195.9 271.9,195.8 272.8,195.8 273.7,195.8 274.6,195.8 275.5,195.8 276.4,195.8 277.4,195.8 278.3,195.8 279.2,195.8 280.1,195.8 281.0,195.8 281.9,195.8 282.8,195.8 283.7,195.7 284.6,195.7 285.5,195.7 286.4,195.7 287.3,195.7 288.2,195.7 289.1,195.7 290.0,195.7 290.9,195.7 291.8,195.7 292.7,195.7 293.6,195.7 294.5,195.7 295.4,195.7 296.4,195.7 297.3,195.7 298.2,195.7 299.1,195.7 300.0,195.7 300.9,195.7 301.8,195.7 302.7,195.7 303.6,195.7 304.5,195.7" fill="none" stroke="#a61c1c" stroke-width="2.6" stroke-linejoin="round"/>
<circle cx="224.1" cy="204.0" r="1.5" fill="none" stroke="#6fc02a" stroke-width="0.6"/>
<circle cx="174.2" cy="195.8" r="1.5" fill="#5a2a8a"/>
<path d="M159.7,294.0 v-1.3 M159.7,184.9 v1.3 M177.8,294.0 v-1.3 M177.8,184.9 v1.3 M195.9,294.0 v-1.3 M195.9,184.9 v1.3 M214.0,294.0 v-1.3 M214.0,184.9 v1.3 M232.1,294.0 v-1.3 M232.1,184.9 v1.3 M250.2,294.0 v-1.3 M250.2,184.9 v1.3 M268.3,294.0 v-1.3 M268.3,184.9 v1.3 M286.4,294.0 v-1.3 M286.4,184.9 v1.3 M304.5,294.0 v-1.3 M304.5,184.9 v1.3 M322.6,294.0 v-1.3 M322.6,184.9 v1.3 M159.7,294.0 h1.3 M323.3,294.0 h-1.3 M159.7,280.4 h1.3 M323.3,280.4 h-1.3 M159.7,266.7 h1.3 M323.3,266.7 h-1.3 M159.7,253.1 h1.3 M323.3,253.1 h-1.3 M159.7,239.4 h1.3 M323.3,239.4 h-1.3 M159.7,225.8 h1.3 M323.3,225.8 h-1.3 M159.7,212.2 h1.3 M323.3,212.2 h-1.3 M159.7,198.5 h1.3 M323.3,198.5 h-1.3 M159.7,184.9 h1.3 M323.3,184.9 h-1.3" stroke="#222" stroke-width="0.4"/>
<text x="159.7" y="300.6" font-family="'Liberation Serif', 'Times New Roman', serif" fill="#222" font-size="5.8" text-anchor="middle">0</text>
<text x="177.8" y="300.6" font-family="'Liberation Serif', 'Times New Roman', serif" fill="#222" font-size="5.8" text-anchor="middle">5</text>
<text x="195.9" y="300.6" font-family="'Liberation Serif', 'Times New Roman', serif" fill="#222" font-size="5.8" text-anchor="middle">10</text>
<text x="214.0" y="300.6" font-family="'Liberation Serif', 'Times New Roman', serif" fill="#222" font-size="5.8" text-anchor="middle">15</text>
<text x="232.1" y="300.6" font-family="'Liberation Serif', 'Times New Roman', serif" fill="#222" font-size="5.8" text-anchor="middle">20</text>
<text x="250.2" y="300.6" font-family="'Liberation Serif', 'Times New Roman', serif" fill="#222" font-size="5.8" text-anchor="middle">25</text>
<text x="268.3" y="300.6" font-family="'Liberation Serif', 'Times New Roman', serif" fill="#222" font-size="5.8" text-anchor="middle">30</text>
<text x="286.4" y="300.6" font-family="'Liberation Serif', 'Times New Roman', serif" fill="#222" font-size="5.8" text-anchor="middle">35</text>
<text x="304.5" y="300.6" font-family="'Liberation Serif', 'Times New Roman', serif" fill="#222" font-size="5.8" text-anchor="middle">40</text>
<text x="322.6" y="300.6" font-family="'Liberation Serif', 'Times New Roman', serif" fill="#222" font-size="5.8" text-anchor="middle">45</text>
<text x="157.2" y="295.9" font-family="'Liberation Serif', 'Times New Roman', serif" fill="#222" font-size="5.8" text-anchor="end">55</text>
<text x="157.2" y="282.3" font-family="'Liberation Serif', 'Times New Roman', serif" fill="#222" font-size="5.8" text-anchor="end">60</text>
<text x="157.2" y="268.6" font-family="'Liberation Serif', 'Times New Roman', serif" fill="#222" font-size="5.8" text-anchor="end">65</text>
<text x="157.2" y="255.0" font-family="'Liberation Serif', 'Times New Roman', serif" fill="#222" font-size="5.8" text-anchor="end">70</text>
<text x="157.2" y="241.3" font-family="'Liberation Serif', 'Times New Roman', serif" fill="#222" font-size="5.8" text-anchor="end">75</text>
<text x="157.2" y="227.7" font-family="'Liberation Serif', 'Times New Roman', serif" fill="#222" font-size="5.8" text-anchor="end">80</text>
<text x="157.2" y="214.1" font-family="'Liberation Serif', 'Times New Roman', serif" fill="#222" font-size="5.8" text-anchor="end">85</text>
<text x="157.2" y="200.4" font-family="'Liberation Serif', 'Times New Roman', serif" fill="#222" font-size="5.8" text-anchor="end">90</text>
<text x="157.2" y="186.8" font-family="'Liberation Serif', 'Times New Roman', serif" fill="#222" font-size="5.8" text-anchor="end">95</text>
<text x="241.7" y="308.3" font-family="'Liberation Serif', 'Times New Roman', serif" fill="#222" font-size="5.9" font-weight="bold" text-anchor="middle">Cost ($)</text>
<text transform="translate(148.4,239) rotate(-90)" font-family="'Liberation Serif', 'Times New Roman', serif" fill="#222" font-size="5.4" font-weight="bold" text-anchor="middle">Sensitivity</text>
<rect x="268.5" y="266.6" width="49.4" height="22.6" fill="#fff" stroke="#222" stroke-width="0.4"/>
<circle cx="276.3" cy="269.6" r="0.5" fill="#8ab4dc"/>
<circle cx="276.3" cy="274.9" r="0.7" fill="#a61c1c"/>
<circle cx="276.3" cy="280.4" r="1.3" fill="none" stroke="#6fc02a" stroke-width="0.6"/>
<circle cx="276.3" cy="286.1" r="1.3" fill="#5a2a8a"/>
<text x="282.3" y="271.3" font-family="'Liberation Serif', 'Times New Roman', serif" fill="#222" font-size="4.9" font-weight="bold">All GA Points</text>
<text x="282.3" y="276.6" font-family="'Liberation Serif', 'Times New Roman', serif" fill="#222" font-size="4.9" font-weight="bold">Pareto Frontier</text>
<text x="282.3" y="282.1" font-family="'Liberation Serif', 'Times New Roman', serif" fill="#222" font-size="4.9" font-weight="bold">Best Point</text>
<text x="282.3" y="287.8" font-family="'Liberation Serif', 'Times New Roman', serif" fill="#222" font-size="4.9" font-weight="bold">Ideal Point</text>
<path d="M365.2,265.5 L365.2,200.4 L459.3,184 L528.6,206.5 L528.6,274.5 M459.3,184 L459.3,193" fill="none" stroke="#c4c4c4" stroke-width="0.5"/>
<path d="M365.2,265.5 L437,289 L528.6,274.5" fill="none" stroke="#b0b0b0" stroke-width="0.5"/>
<polygon points="368.3,212.3 459.3,193.0 527.8,218.3 527.8,272.0 438.5,282.6 435.3,285.6 431.6,282.4 367.8,259.5" fill="#0008d6"/>
<defs><clipPath id="cFan"><polygon points="368.3,212.3 459.3,193.0 527.8,218.3 527.8,219.5 525.6,219.9 522.6,220.5 519.1,221.2 515.1,222.0 511.1,222.8 507.1,223.6 503.3,224.5 500.0,225.3 497.1,226.1 494.4,226.9 491.8,227.7 489.4,228.5 487.0,229.3 484.7,230.2 482.4,231.1 480.0,232.1 477.6,233.1 475.2,234.2 472.8,235.4 470.5,236.6 468.2,237.8 466.0,239.0 463.9,240.3 462.0,241.5 460.2,242.7 458.5,244.0 457.0,245.2 455.5,246.4 454.1,247.7 452.7,249.1 451.4,250.5 450.0,252.0 448.6,253.6 447.2,255.4 445.9,257.2 444.5,259.0 443.3,260.9 442.1,262.8 441.0,264.7 440.0,266.6 439.1,268.6 438.3,270.7 437.6,272.8 437.0,275.0 436.5,277.0 436.0,278.8 435.6,280.3 435.3,281.5 435.3,281.5 435.2,280.8 435.0,279.9 434.8,278.7 434.6,277.5 434.4,276.2 434.1,274.8 433.8,273.4 433.5,272.0 433.2,270.6 432.8,269.2 432.4,267.7 431.9,266.2 431.5,264.6 431.0,263.1 430.5,261.5 430.0,260.0 429.5,258.5 428.9,257.0 428.3,255.4 427.7,253.9 427.1,252.4 426.4,250.9 425.7,249.4 425.0,248.0 424.2,246.6 423.4,245.3 422.6,243.9 421.7,242.6 420.8,241.4 419.9,240.2 418.9,239.0 418.0,238.0 417.1,237.1 416.1,236.2 415.2,235.4 414.2,234.7 413.2,234.0 412.2,233.4 411.1,232.7 410.0,232.0 408.8,231.3 407.6,230.6 406.4,230.0 405.1,229.3 403.8,228.7 402.5,228.0 401.3,227.4 400.0,226.8 398.8,226.2 397.8,225.7 396.8,225.2 395.7,224.7 394.6,224.2 393.3,223.6 391.8,223.0 390.0,222.2 387.7,221.3 384.9,220.2 381.8,219.0 378.5,217.7 375.4,216.5 372.5,215.4 370.1,214.5 368.3,213.8"/></clipPath></defs>
<g clip-path="url(#cFan)">
<rect x="365" y="190" width="166" height="100" fill="#e50000"/>
<polygon points="368.3,216.8 369.1,217.1 369.9,217.4 370.7,217.7 371.5,218.0 372.3,218.3 373.1,218.6 373.9,218.9 374.7,219.3 375.5,219.6 376.3,219.9 377.1,220.2 377.9,220.5 378.7,220.8 379.5,221.1 380.3,221.4 381.1,221.7 381.9,222.0 382.7,222.3 383.5,222.6 384.3,223.0 385.1,223.3 385.9,223.6 386.7,223.9 387.5,224.2 388.3,224.5 389.1,224.9 389.9,225.2 390.7,225.5 391.5,225.8 392.3,226.2 393.1,226.5 393.9,226.9 394.7,227.2 395.6,227.6 396.4,228.0 397.2,220.8 398.0,221.2 398.8,221.7 399.6,222.1 400.4,222.5 401.2,222.8 402.0,223.2 402.8,223.6 403.6,224.0 404.4,224.3 405.2,224.6 406.0,225.0 406.8,225.3 407.6,225.6 408.4,225.9 409.2,226.2 410.0,226.5 410.8,226.8 411.6,227.1 412.4,227.3 413.2,227.6 414.0,227.8 414.8,228.1 415.6,228.3 416.4,228.5 417.2,228.7 418.0,228.9 418.8,229.1 419.6,229.3 420.4,229.4 421.2,229.6 422.0,229.8 422.8,229.9 423.6,230.0 424.4,230.2 425.2,230.3 426.0,230.4 426.8,230.5 427.6,230.6 428.4,230.7 429.2,230.7 430.0,230.8 430.8,230.9 431.6,230.9 432.4,230.9 433.2,231.0 434.0,231.0 434.8,231.0 435.6,231.0 436.4,231.0 437.2,231.0 438.0,231.0 438.8,230.9 439.6,230.9 440.4,230.9 441.2,230.8 442.0,230.8 442.8,230.7 443.6,230.7 444.4,230.6 445.2,230.6 446.0,230.5 446.8,230.4 447.6,230.3 448.5,230.2 449.3,230.1 450.1,230.0 450.9,229.9 451.7,229.8 452.5,229.7 453.3,229.6 454.1,229.4 454.9,229.3 455.7,229.1 456.5,229.0 457.3,228.8 458.1,228.7 458.9,228.5 459.7,228.3 460.5,228.2 461.3,228.0 462.1,227.8 462.9,227.6 463.7,227.4 464.5,227.2 465.3,227.0 466.1,226.8 466.9,226.5 467.7,226.3 468.5,226.1 469.3,225.8 470.1,225.6 470.9,225.3 471.7,225.1 472.5,238.6 473.3,238.2 474.1,237.8 474.9,237.4 475.7,237.0 476.5,236.7 477.3,236.3 478.1,235.9 478.9,235.6 479.7,235.2 480.5,234.9 481.3,234.6 482.1,234.2 482.9,233.9 483.7,233.6 484.5,233.3 485.3,233.0 486.1,232.7 486.9,232.3 487.7,232.1 488.5,231.8 489.3,231.5 490.1,231.2 490.9,231.0 491.7,230.7 492.5,230.4 493.3,230.2 494.1,230.0 494.9,229.7 495.7,229.5 496.5,229.2 497.3,229.0 498.1,228.8 498.9,228.6 499.7,228.4 500.5,228.2 501.4,228.0 502.2,227.8 503.0,227.6 503.8,227.4 504.6,227.2 505.4,227.0 506.2,226.8 507.0,226.7 507.8,226.5 508.6,226.3 509.4,226.2 510.2,226.0 511.0,225.8 511.8,225.7 512.6,225.5 513.4,225.3 514.2,225.2 515.0,225.0 515.8,224.9 516.6,224.7 517.4,224.5 518.2,224.4 519.0,224.2 519.8,224.1 520.6,223.9 521.4,223.8 522.2,223.6 523.0,223.4 523.8,223.3 524.6,223.1 525.4,223.0 526.2,222.8 527.0,222.7 527.8,222.5 527.8,292.0 368.3,292.0" fill="#ff2300"/>
<polygon points="368.3,216.8 369.1,217.1 369.9,217.4 370.7,217.7 371.5,218.0 372.3,218.3 373.1,218.6 373.9,218.9 374.7,219.3 375.5,219.6 376.3,219.9 377.1,220.2 377.9,220.5 378.7,220.8 379.5,221.1 380.3,221.4 381.1,221.7 381.9,222.0 382.7,222.3 383.5,222.6 384.3,223.0 385.1,223.3 385.9,223.6 386.7,223.9 387.5,224.2 388.3,224.5 389.1,224.9 389.9,225.2 390.7,225.5 391.5,225.8 392.3,226.2 393.1,226.5 393.9,226.9 394.7,227.2 395.6,227.6 396.4,228.0 397.2,228.4 398.0,228.8 398.8,229.2 399.6,229.6 400.4,230.0 401.2,230.4 402.0,230.8 402.8,231.1 403.6,231.5 404.4,222.4 405.2,223.1 406.0,223.7 406.8,224.3 407.6,224.9 408.4,225.5 409.2,226.0 410.0,226.6 410.8,227.1 411.6,227.6 412.4,228.1 413.2,228.6 414.0,229.1 414.8,229.5 415.6,229.9 416.4,230.3 417.2,230.7 418.0,231.1 418.8,231.5 419.6,231.8 420.4,232.1 421.2,232.4 422.0,232.7 422.8,233.0 423.6,233.3 424.4,233.5 425.2,233.7 426.0,233.9 426.8,234.1 427.6,234.3 428.4,234.5 429.2,234.6 430.0,234.7 430.8,234.8 431.6,234.9 432.4,235.0 433.2,235.0 434.0,235.1 434.8,235.1 435.6,235.1 436.4,235.1 437.2,235.1 438.0,235.0 438.8,235.0 439.6,234.9 440.4,234.9 441.2,234.8 442.0,234.7 442.8,234.6 443.6,234.5 444.4,234.4 445.2,234.2 446.0,234.1 446.8,234.0 447.6,233.8 448.5,233.6 449.3,233.4 450.1,233.2 450.9,233.0 451.7,232.8 452.5,232.6 453.3,232.3 454.1,232.1 454.9,231.8 455.7,231.6 456.5,231.3 457.3,231.0 458.1,230.7 458.9,230.4 459.7,230.0 460.5,229.7 461.3,229.4 462.1,229.0 462.9,228.6 463.7,228.3 464.5,227.9 465.3,227.5 466.1,227.0 466.9,226.6 467.7,226.2 468.5,225.7 469.3,240.2 470.1,239.8 470.9,239.4 471.7,239.0 472.5,238.6 473.3,238.2 474.1,237.8 474.9,237.4 475.7,237.0 476.5,236.7 477.3,236.3 478.1,235.9 478.9,235.6 479.7,235.2 480.5,234.9 481.3,234.6 482.1,234.2 482.9,233.9 483.7,233.6 484.5,233.3 485.3,233.0 486.1,232.7 486.9,232.3 487.7,232.1 488.5,231.8 489.3,231.5 490.1,231.2 490.9,231.0 491.7,230.7 492.5,230.4 493.3,230.2 494.1,230.0 494.9,229.7 495.7,229.5 496.5,229.2 497.3,229.0 498.1,228.8 498.9,228.6 499.7,228.4 500.5,228.2 501.4,228.0 502.2,227.8 503.0,227.6 503.8,227.4 504.6,227.2 505.4,227.0 506.2,226.8 507.0,226.7 507.8,226.5 508.6,226.3 509.4,226.2 510.2,226.0 511.0,225.8 511.8,225.7 512.6,225.5 513.4,225.3 514.2,225.2 515.0,225.0 515.8,224.9 516.6,224.7 517.4,224.5 518.2,224.4 519.0,224.2 519.8,224.1 520.6,223.9 521.4,223.8 522.2,223.6 523.0,223.4 523.8,223.3 524.6,223.1 525.4,223.0 526.2,222.8 527.0,222.7 527.8,222.5 527.8,292.0 368.3,292.0" fill="#ff5f00"/>
<polygon points="368.3,216.8 369.1,217.1 369.9,217.4 370.7,217.7 371.5,218.0 372.3,218.3 373.1,218.6 373.9,218.9 374.7,219.3 375.5,219.6 376.3,219.9 377.1,220.2 377.9,220.5 378.7,220.8 379.5,221.1 380.3,221.4 381.1,221.7 381.9,222.0 382.7,222.3 383.5,222.6 384.3,223.0 385.1,223.3 385.9,223.6 386.7,223.9 387.5,224.2 388.3,224.5 389.1,224.9 389.9,225.2 390.7,225.5 391.5,225.8 392.3,226.2 393.1,226.5 393.9,226.9 394.7,227.2 395.6,227.6 396.4,228.0 397.2,228.4 398.0,228.8 398.8,229.2 399.6,229.6 400.4,230.0 401.2,230.4 402.0,230.8 402.8,231.1 403.6,231.5 404.4,231.9 405.2,232.3 406.0,232.7 406.8,223.3 407.6,224.2 408.4,225.0 409.2,225.9 410.0,226.7 410.8,227.4 411.6,228.2 412.4,228.9 413.2,229.6 414.0,230.3 414.8,231.0 415.6,231.6 416.4,232.2 417.2,232.8 418.0,233.3 418.8,233.9 419.6,234.4 420.4,234.8 421.2,235.3 422.0,235.7 422.8,236.1 423.6,236.5 424.4,236.9 425.2,237.2 426.0,237.5 426.8,237.8 427.6,238.0 428.4,238.2 429.2,238.4 430.0,238.6 430.8,238.8 431.6,238.9 432.4,239.0 433.2,239.1 434.0,239.1 434.8,239.2 435.6,239.2 436.4,239.2 437.2,239.1 438.0,239.1 438.8,239.0 439.6,238.9 440.4,238.8 441.2,238.7 442.0,238.6 442.8,238.5 443.6,238.3 444.4,238.1 445.2,237.9 446.0,237.7 446.8,237.5 447.6,237.3 448.5,237.0 449.3,236.7 450.1,236.5 450.9,236.1 451.7,235.8 452.5,235.5 453.3,235.1 454.1,234.8 454.9,234.4 455.7,234.0 456.5,233.6 457.3,233.1 458.1,232.7 458.9,232.2 459.7,231.8 460.5,231.3 461.3,230.7 462.1,230.2 462.9,229.7 463.7,229.1 464.5,228.5 465.3,227.9 466.1,227.3 466.9,226.7 467.7,226.1 468.5,225.4 469.3,240.2 470.1,239.8 470.9,239.4 471.7,239.0 472.5,238.6 473.3,238.2 474.1,237.8 474.9,237.4 475.7,237.0 476.5,236.7 477.3,236.3 478.1,235.9 478.9,235.6 479.7,235.2 480.5,234.9 481.3,234.6 482.1,234.2 482.9,233.9 483.7,233.6 484.5,233.3 485.3,233.0 486.1,232.7 486.9,232.3 487.7,232.1 488.5,231.8 489.3,231.5 490.1,231.2 490.9,231.0 491.7,230.7 492.5,230.4 493.3,230.2 494.1,230.0 494.9,229.7 495.7,229.5 496.5,229.2 497.3,229.0 498.1,228.8 498.9,228.6 499.7,228.4 500.5,228.2 501.4,228.0 502.2,227.8 503.0,227.6 503.8,227.4 504.6,227.2 505.4,227.0 506.2,226.8 507.0,226.7 507.8,226.5 508.6,226.3 509.4,226.2 510.2,226.0 511.0,225.8 511.8,225.7 512.6,225.5 513.4,225.3 514.2,225.2 515.0,225.0 515.8,224.9 516.6,224.7 517.4,224.5 518.2,224.4 519.0,224.2 519.8,224.1 520.6,223.9 521.4,223.8 522.2,223.6 523.0,223.4 523.8,223.3 524.6,223.1 525.4,223.0 526.2,222.8 527.0,222.7 527.8,222.5 527.8,292.0 368.3,292.0" fill="#ff9a00"/>
<polygon points="368.3,216.8 369.1,217.1 369.9,217.4 370.7,217.7 371.5,218.0 372.3,218.3 373.1,218.6 373.9,218.9 374.7,219.3 375.5,219.6 376.3,219.9 377.1,220.2 377.9,220.5 378.7,220.8 379.5,221.1 380.3,221.4 381.1,221.7 381.9,222.0 382.7,222.3 383.5,222.6 384.3,223.0 385.1,223.3 385.9,223.6 386.7,223.9 387.5,224.2 388.3,224.5 389.1,224.9 389.9,225.2 390.7,225.5 391.5,225.8 392.3,226.2 393.1,226.5 393.9,226.9 394.7,227.2 395.6,227.6 396.4,228.0 397.2,228.4 398.0,228.8 398.8,229.2 399.6,229.6 400.4,230.0 401.2,230.4 402.0,230.8 402.8,231.1 403.6,231.5 404.4,231.9 405.2,232.3 406.0,232.7 406.8,233.2 407.6,223.5 408.4,224.6 409.2,225.7 410.0,226.7 410.8,227.8 411.6,228.8 412.4,229.7 413.2,230.7 414.0,231.6 414.8,232.4 415.6,233.2 416.4,234.0 417.2,234.8 418.0,235.5 418.8,236.2 419.6,236.9 420.4,237.5 421.2,238.1 422.0,238.7 422.8,239.2 423.6,239.7 424.4,240.2 425.2,240.6 426.0,241.0 426.8,241.4 427.6,241.7 428.4,242.0 429.2,242.3 430.0,242.5 430.8,242.7 431.6,242.9 432.4,243.0 433.2,243.1 434.0,243.2 434.8,243.2 435.6,243.2 436.4,243.2 437.2,243.2 438.0,243.1 438.8,243.0 439.6,242.9 440.4,242.8 441.2,242.7 442.0,242.5 442.8,242.3 443.6,242.1 444.4,241.9 445.2,241.6 446.0,241.3 446.8,241.1 447.6,240.7 448.5,240.4 449.3,240.0 450.1,239.7 450.9,239.3 451.7,238.8 452.5,238.4 453.3,237.9 454.1,237.4 454.9,236.9 455.7,236.4 456.5,235.9 457.3,235.3 458.1,234.7 458.9,234.1 459.7,233.5 460.5,232.8 461.3,232.1 462.1,231.4 462.9,230.7 463.7,230.0 464.5,229.2 465.3,228.4 466.1,227.6 466.9,226.8 467.7,226.0 468.5,240.6 469.3,240.2 470.1,239.8 470.9,239.4 471.7,239.0 472.5,238.6 473.3,238.2 474.1,237.8 474.9,237.4 475.7,237.0 476.5,236.7 477.3,236.3 478.1,235.9 478.9,235.6 479.7,235.2 480.5,234.9 481.3,234.6 482.1,234.2 482.9,233.9 483.7,233.6 484.5,233.3 485.3,233.0 486.1,232.7 486.9,232.3 487.7,232.1 488.5,231.8 489.3,231.5 490.1,231.2 490.9,231.0 491.7,230.7 492.5,230.4 493.3,230.2 494.1,230.0 494.9,229.7 495.7,229.5 496.5,229.2 497.3,229.0 498.1,228.8 498.9,228.6 499.7,228.4 500.5,228.2 501.4,228.0 502.2,227.8 503.0,227.6 503.8,227.4 504.6,227.2 505.4,227.0 506.2,226.8 507.0,226.7 507.8,226.5 508.6,226.3 509.4,226.2 510.2,226.0 511.0,225.8 511.8,225.7 512.6,225.5 513.4,225.3 514.2,225.2 515.0,225.0 515.8,224.9 516.6,224.7 517.4,224.5 518.2,224.4 519.0,224.2 519.8,224.1 520.6,223.9 521.4,223.8 522.2,223.6 523.0,223.4 523.8,223.3 524.6,223.1 525.4,223.0 526.2,222.8 527.0,222.7 527.8,222.5 527.8,292.0 368.3,292.0" fill="#ffd600"/>
<polygon points="368.3,216.8 369.1,217.1 369.9,217.4 370.7,217.7 371.5,218.0 372.3,218.3 373.1,218.6 373.9,218.9 374.7,219.3 375.5,219.6 376.3,219.9 377.1,220.2 377.9,220.5 378.7,220.8 379.5,221.1 380.3,221.4 381.1,221.7 381.9,222.0 382.7,222.3 383.5,222.6 384.3,223.0 385.1,223.3 385.9,223.6 386.7,223.9 387.5,224.2 388.3,224.5 389.1,224.9 389.9,225.2 390.7,225.5 391.5,225.8 392.3,226.2 393.1,226.5 393.9,226.9 394.7,227.2 395.6,227.6 396.4,228.0 397.2,228.4 398.0,228.8 398.8,229.2 399.6,229.6 400.4,230.0 401.2,230.4 402.0,230.8 402.8,231.1 403.6,231.5 404.4,231.9 405.2,232.3 406.0,232.7 406.8,233.2 407.6,233.6 408.4,224.1 409.2,225.5 410.0,226.8 410.8,228.1 411.6,229.3 412.4,230.5 413.2,231.7 414.0,232.8 414.8,233.9 415.6,234.9 416.4,235.9 417.2,236.8 418.0,237.7 418.8,238.6 419.6,239.4 420.4,240.2 421.2,241.0 422.0,241.7 422.8,242.3 423.6,243.0 424.4,243.5 425.2,244.1 426.0,244.6 426.8,245.0 427.6,245.4 428.4,245.8 429.2,246.1 430.0,246.4 430.8,246.7 431.6,246.9 432.4,247.1 433.2,247.2 434.0,247.3 434.8,247.3 435.6,247.3 436.4,247.3 437.2,247.3 438.0,247.2 438.8,247.1 439.6,246.9 440.4,246.8 441.2,246.6 442.0,246.4 442.8,246.2 443.6,245.9 444.4,245.6 445.2,245.3 446.0,245.0 446.8,244.6 447.6,244.2 448.5,243.8 449.3,243.3 450.1,242.9 450.9,242.4 451.7,241.9 452.5,241.3 453.3,240.7 454.1,240.1 454.9,239.5 455.7,238.8 456.5,238.2 457.3,237.5 458.1,236.7 458.9,236.0 459.7,235.2 460.5,234.4 461.3,233.5 462.1,232.6 462.9,231.8 463.7,230.8 464.5,229.9 465.3,228.9 466.1,227.9 466.9,226.9 467.7,225.9 468.5,240.6 469.3,240.2 470.1,239.8 470.9,239.4 471.7,239.0 472.5,238.6 473.3,238.2 474.1,237.8 474.9,237.4 475.7,237.0 476.5,236.7 477.3,236.3 478.1,235.9 478.9,235.6 479.7,235.2 480.5,234.9 481.3,234.6 482.1,234.2 482.9,233.9 483.7,233.6 484.5,233.3 485.3,233.0 486.1,232.7 486.9,232.3 487.7,232.1 488.5,231.8 489.3,231.5 490.1,231.2 490.9,231.0 491.7,230.7 492.5,230.4 493.3,230.2 494.1,230.0 494.9,229.7 495.7,229.5 496.5,229.2 497.3,229.0 498.1,228.8 498.9,228.6 499.7,228.4 500.5,228.2 501.4,228.0 502.2,227.8 503.0,227.6 503.8,227.4 504.6,227.2 505.4,227.0 506.2,226.8 507.0,226.7 507.8,226.5 508.6,226.3 509.4,226.2 510.2,226.0 511.0,225.8 511.8,225.7 512.6,225.5 513.4,225.3 514.2,225.2 515.0,225.0 515.8,224.9 516.6,224.7 517.4,224.5 518.2,224.4 519.0,224.2 519.8,224.1 520.6,223.9 521.4,223.8 522.2,223.6 523.0,223.4 523.8,223.3 524.6,223.1 525.4,223.0 526.2,222.8 527.0,222.7 527.8,222.5 527.8,292.0 368.3,292.0" fill="#ecff12"/>
<polygon points="368.3,216.8 369.1,217.1 369.9,217.4 370.7,217.7 371.5,218.0 372.3,218.3 373.1,218.6 373.9,218.9 374.7,219.3 375.5,219.6 376.3,219.9 377.1,220.2 377.9,220.5 378.7,220.8 379.5,221.1 380.3,221.4 381.1,221.7 381.9,222.0 382.7,222.3 383.5,222.6 384.3,223.0 385.1,223.3 385.9,223.6 386.7,223.9 387.5,224.2 388.3,224.5 389.1,224.9 389.9,225.2 390.7,225.5 391.5,225.8 392.3,226.2 393.1,226.5 393.9,226.9 394.7,227.2 395.6,227.6 396.4,228.0 397.2,228.4 398.0,228.8 398.8,229.2 399.6,229.6 400.4,230.0 401.2,230.4 402.0,230.8 402.8,231.1 403.6,231.5 404.4,231.9 405.2,232.3 406.0,232.7 406.8,233.2 407.6,233.6 408.4,234.0 409.2,234.5 410.0,235.0 410.8,235.5 411.6,236.0 412.4,236.5 413.2,237.0 414.0,237.6 414.8,235.3 415.6,236.6 416.4,237.7 417.2,238.9 418.0,240.0 418.8,241.0 419.6,242.0 420.4,242.9 421.2,243.8 422.0,244.7 422.8,245.4 423.6,246.2 424.4,246.9 425.2,247.5 426.0,248.1 426.8,248.7 427.6,249.2 428.4,249.6 429.2,250.0 430.0,250.3 430.8,250.6 431.6,250.9 432.4,251.1 433.2,251.3 434.0,251.4 434.8,251.4 435.6,251.4 436.4,251.4 437.2,251.3 438.0,251.2 438.8,251.1 439.6,251.0 440.4,250.8 441.2,250.6 442.0,250.3 442.8,250.0 443.6,249.7 444.4,249.4 445.2,249.0 446.0,248.6 446.8,248.2 447.6,247.7 448.5,247.2 449.3,246.7 450.1,246.1 450.9,245.5 451.7,244.9 452.5,244.2 453.3,243.5 454.1,242.8 454.9,242.0 455.7,241.3 456.5,240.4 457.3,239.6 458.1,238.7 458.9,237.8 459.7,236.9 460.5,235.9 461.3,234.9 462.1,233.9 462.9,232.8 463.7,231.7 464.5,230.6 465.3,229.4 466.1,228.2 466.9,227.0 467.7,225.7 468.5,240.6 469.3,240.2 470.1,239.8 470.9,239.4 471.7,239.0 472.5,238.6 473.3,238.2 474.1,237.8 474.9,237.4 475.7,237.0 476.5,236.7 477.3,236.3 478.1,235.9 478.9,235.6 479.7,235.2 480.5,234.9 481.3,234.6 482.1,234.2 482.9,233.9 483.7,233.6 484.5,233.3 485.3,233.0 486.1,232.7 486.9,232.3 487.7,232.1 488.5,231.8 489.3,231.5 490.1,231.2 490.9,231.0 491.7,230.7 492.5,230.4 493.3,230.2 494.1,230.0 494.9,229.7 495.7,229.5 496.5,229.2 497.3,229.0 498.1,228.8 498.9,228.6 499.7,228.4 500.5,228.2 501.4,228.0 502.2,227.8 503.0,227.6 503.8,227.4 504.6,227.2 505.4,227.0 506.2,226.8 507.0,226.7 507.8,226.5 508.6,226.3 509.4,226.2 510.2,226.0 511.0,225.8 511.8,225.7 512.6,225.5 513.4,225.3 514.2,225.2 515.0,225.0 515.8,224.9 516.6,224.7 517.4,224.5 518.2,224.4 519.0,224.2 519.8,224.1 520.6,223.9 521.4,223.8 522.2,223.6 523.0,223.4 523.8,223.3 524.6,223.1 525.4,223.0 526.2,222.8 527.0,222.7 527.8,222.5 527.8,292.0 368.3,292.0" fill="#b0ff4e"/>
<polygon points="368.3,216.8 369.1,217.1 369.9,217.4 370.7,217.7 371.5,218.0 372.3,218.3 373.1,218.6 373.9,218.9 374.7,219.3 375.5,219.6 376.3,219.9 377.1,220.2 377.9,220.5 378.7,220.8 379.5,221.1 380.3,221.4 381.1,221.7 381.9,222.0 382.7,222.3 383.5,222.6 384.3,223.0 385.1,223.3 385.9,223.6 386.7,223.9 387.5,224.2 388.3,224.5 389.1,224.9 389.9,225.2 390.7,225.5 391.5,225.8 392.3,226.2 393.1,226.5 393.9,226.9 394.7,227.2 395.6,227.6 396.4,228.0 397.2,228.4 398.0,228.8 398.8,229.2 399.6,229.6 400.4,230.0 401.2,230.4 402.0,230.8 402.8,231.1 403.6,231.5 404.4,231.9 405.2,232.3 406.0,232.7 406.8,233.2 407.6,233.6 408.4,234.0 409.2,234.5 410.0,235.0 410.8,235.5 411.6,236.0 412.4,236.5 413.2,237.0 414.0,235.3 414.8,236.8 415.6,238.2 416.4,239.6 417.2,240.9 418.0,242.2 418.8,243.4 419.6,244.5 420.4,245.6 421.2,246.7 422.0,247.6 422.8,248.5 423.6,249.4 424.4,250.2 425.2,251.0 426.0,251.7 426.8,252.3 427.6,252.9 428.4,253.4 429.2,253.9 430.0,254.3 430.8,254.6 431.6,254.9 432.4,255.1 433.2,255.3 434.0,255.4 434.8,255.5 435.6,255.5 436.4,255.5 437.2,255.4 438.0,255.3 438.8,255.1 439.6,255.0 440.4,254.7 441.2,254.5 442.0,254.2 442.8,253.9 443.6,253.5 444.4,253.1 445.2,252.7 446.0,252.2 446.8,251.7 447.6,251.2 448.5,250.6 449.3,250.0 450.1,249.3 450.9,248.6 451.7,247.9 452.5,247.1 453.3,246.3 454.1,245.5 454.9,244.6 455.7,243.7 456.5,242.7 457.3,241.8 458.1,240.7 458.9,239.7 459.7,238.6 460.5,237.5 461.3,236.3 462.1,235.1 462.9,233.8 463.7,232.6 464.5,231.2 465.3,229.9 466.1,228.5 466.9,227.1 467.7,225.6 468.5,240.6 469.3,240.2 470.1,239.8 470.9,239.4 471.7,239.0 472.5,238.6 473.3,238.2 474.1,237.8 474.9,237.4 475.7,237.0 476.5,236.7 477.3,236.3 478.1,235.9 478.9,235.6 479.7,235.2 480.5,234.9 481.3,234.6 482.1,234.2 482.9,233.9 483.7,233.6 484.5,233.3 485.3,233.0 486.1,232.7 486.9,232.3 487.7,232.1 488.5,231.8 489.3,231.5 490.1,231.2 490.9,231.0 491.7,230.7 492.5,230.4 493.3,230.2 494.1,230.0 494.9,229.7 495.7,229.5 496.5,229.2 497.3,229.0 498.1,228.8 498.9,228.6 499.7,228.4 500.5,228.2 501.4,228.0 502.2,227.8 503.0,227.6 503.8,227.4 504.6,227.2 505.4,227.0 506.2,226.8 507.0,226.7 507.8,226.5 508.6,226.3 509.4,226.2 510.2,226.0 511.0,225.8 511.8,225.7 512.6,225.5 513.4,225.3 514.2,225.2 515.0,225.0 515.8,224.9 516.6,224.7 517.4,224.5 518.2,224.4 519.0,224.2 519.8,224.1 520.6,223.9 521.4,223.8 522.2,223.6 523.0,223.4 523.8,223.3 524.6,223.1 525.4,223.0 526.2,222.8 527.0,222.7 527.8,222.5 527.8,292.0 368.3,292.0" fill="#75ff89"/>
<polygon points="368.3,216.8 369.1,217.1 369.9,217.4 370.7,217.7 371.5,218.0 372.3,218.3 373.1,218.6 373.9,218.9 374.7,219.3 375.5,219.6 376.3,219.9 377.1,220.2 377.9,220.5 378.7,220.8 379.5,221.1 380.3,221.4 381.1,221.7 381.9,222.0 382.7,222.3 383.5,222.6 384.3,223.0 385.1,223.3 385.9,223.6 386.7,223.9 387.5,224.2 388.3,224.5 389.1,224.9 389.9,225.2 390.7,225.5 391.5,225.8 392.3,226.2 393.1,226.5 393.9,226.9 394.7,227.2 395.6,227.6 396.4,228.0 397.2,228.4 398.0,228.8 398.8,229.2 399.6,229.6 400.4,230.0 401.2,230.4 402.0,230.8 402.8,231.1 403.6,231.5 404.4,231.9 405.2,232.3 406.0,232.7 406.8,233.2 407.6,233.6 408.4,234.0 409.2,234.5 410.0,235.0 410.8,235.5 411.6,236.0 412.4,236.5 413.2,234.8 414.0,236.5 414.8,238.2 415.6,239.9 416.4,241.4 417.2,242.9 418.0,244.4 418.8,245.8 419.6,247.1 420.4,248.3 421.2,249.5 422.0,250.6 422.8,251.7 423.6,252.6 424.4,253.6 425.2,254.4 426.0,255.2 426.8,255.9 427.6,256.6 428.4,257.2 429.2,257.7 430.0,258.2 430.8,258.6 431.6,258.9 432.4,259.2 433.2,259.4 434.0,259.5 434.8,259.6 435.6,259.6 436.4,259.5 437.2,259.5 438.0,259.3 438.8,259.2 439.6,259.0 440.4,258.7 441.2,258.4 442.0,258.1 442.8,257.7 443.6,257.3 444.4,256.9 445.2,256.4 446.0,255.8 446.8,255.3 447.6,254.6 448.5,254.0 449.3,253.3 450.1,252.5 450.9,251.7 451.7,250.9 452.5,250.0 453.3,249.1 454.1,248.2 454.9,247.2 455.7,249.3 456.5,248.6 457.3,247.9 458.1,247.3 458.9,246.7 459.7,246.1 460.5,245.5 461.3,245.0 462.1,244.5 462.9,243.9 463.7,243.4 464.5,242.9 465.3,242.5 466.1,242.0 466.9,241.5 467.7,241.1 468.5,240.6 469.3,240.2 470.1,239.8 470.9,239.4 471.7,239.0 472.5,238.6 473.3,238.2 474.1,237.8 474.9,237.4 475.7,237.0 476.5,236.7 477.3,236.3 478.1,235.9 478.9,235.6 479.7,235.2 480.5,234.9 481.3,234.6 482.1,234.2 482.9,233.9 483.7,233.6 484.5,233.3 485.3,233.0 486.1,232.7 486.9,232.3 487.7,232.1 488.5,231.8 489.3,231.5 490.1,231.2 490.9,231.0 491.7,230.7 492.5,230.4 493.3,230.2 494.1,230.0 494.9,229.7 495.7,229.5 496.5,229.2 497.3,229.0 498.1,228.8 498.9,228.6 499.7,228.4 500.5,228.2 501.4,228.0 502.2,227.8 503.0,227.6 503.8,227.4 504.6,227.2 505.4,227.0 506.2,226.8 507.0,226.7 507.8,226.5 508.6,226.3 509.4,226.2 510.2,226.0 511.0,225.8 511.8,225.7 512.6,225.5 513.4,225.3 514.2,225.2 515.0,225.0 515.8,224.9 516.6,224.7 517.4,224.5 518.2,224.4 519.0,224.2 519.8,224.1 520.6,223.9 521.4,223.8 522.2,223.6 523.0,223.4 523.8,223.3 524.6,223.1 525.4,223.0 526.2,222.8 527.0,222.7 527.8,222.5 527.8,292.0 368.3,292.0" fill="#39ffc5"/>
<polygon points="368.3,216.8 369.1,217.1 369.9,217.4 370.7,217.7 371.5,218.0 372.3,218.3 373.1,218.6 373.9,218.9 374.7,219.3 375.5,219.6 376.3,219.9 377.1,220.2 377.9,220.5 378.7,220.8 379.5,221.1 380.3,221.4 381.1,221.7 381.9,222.0 382.7,222.3 383.5,222.6 384.3,223.0 385.1,223.3 385.9,223.6 386.7,223.9 387.5,224.2 388.3,224.5 389.1,224.9 389.9,225.2 390.7,225.5 391.5,225.8 392.3,226.2 393.1,226.5 393.9,226.9 394.7,227.2 395.6,227.6 396.4,228.0 397.2,228.4 398.0,228.8 398.8,229.2 399.6,229.6 400.4,230.0 401.2,230.4 402.0,230.8 402.8,231.1 403.6,231.5 404.4,231.9 405.2,232.3 406.0,232.7 406.8,233.2 407.6,233.6 408.4,234.0 409.2,234.5 410.0,235.0 410.8,235.5 411.6,236.0 412.4,233.7 413.2,235.8 414.0,237.8 414.8,239.7 415.6,241.5 416.4,243.3 417.2,245.0 418.0,246.6 418.8,248.1 419.6,249.6 420.4,251.0 421.2,252.3 422.0,253.6 422.8,254.8 423.6,255.9 424.4,256.9 425.2,257.9 426.0,258.7 426.8,259.6 427.6,260.3 428.4,261.0 429.2,261.6 430.0,262.1 430.8,262.5 431.6,262.9 432.4,263.2 433.2,263.4 434.0,263.6 434.8,263.7 435.6,263.7 436.4,263.6 437.2,263.5 438.0,263.4 438.8,263.2 439.6,263.0 440.4,262.7 441.2,262.4 442.0,262.0 442.8,261.6 443.6,261.1 444.4,260.6 445.2,260.1 446.0,259.5 446.8,258.8 447.6,258.1 448.5,257.4 449.3,256.6 450.1,255.7 450.9,254.8 451.7,253.9 452.5,252.9 453.3,251.9 454.1,250.8 454.9,249.7 455.7,248.5 456.5,247.3 457.3,246.1 458.1,244.8 458.9,246.7 459.7,246.1 460.5,245.5 461.3,245.0 462.1,244.5 462.9,243.9 463.7,243.4 464.5,242.9 465.3,242.5 466.1,242.0 466.9,241.5 467.7,241.1 468.5,240.6 469.3,240.2 470.1,239.8 470.9,239.4 471.7,239.0 472.5,238.6 473.3,238.2 474.1,237.8 474.9,237.4 475.7,237.0 476.5,236.7 477.3,236.3 478.1,235.9 478.9,235.6 479.7,235.2 480.5,234.9 481.3,234.6 482.1,234.2 482.9,233.9 483.7,233.6 484.5,233.3 485.3,233.0 486.1,232.7 486.9,232.3 487.7,232.1 488.5,231.8 489.3,231.5 490.1,231.2 490.9,231.0 491.7,230.7 492.5,230.4 493.3,230.2 494.1,230.0 494.9,229.7 495.7,229.5 496.5,229.2 497.3,229.0 498.1,228.8 498.9,228.6 499.7,228.4 500.5,228.2 501.4,228.0 502.2,227.8 503.0,227.6 503.8,227.4 504.6,227.2 505.4,227.0 506.2,226.8 507.0,226.7 507.8,226.5 508.6,226.3 509.4,226.2 510.2,226.0 511.0,225.8 511.8,225.7 512.6,225.5 513.4,225.3 514.2,225.2 515.0,225.0 515.8,224.9 516.6,224.7 517.4,224.5 518.2,224.4 519.0,224.2 519.8,224.1 520.6,223.9 521.4,223.8 522.2,223.6 523.0,223.4 523.8,223.3 524.6,223.1 525.4,223.0 526.2,222.8 527.0,222.7 527.8,222.5 527.8,292.0 368.3,292.0" fill="#00fdff"/>
<polygon points="368.3,216.8 369.1,217.1 369.9,217.4 370.7,217.7 371.5,218.0 372.3,218.3 373.1,218.6 373.9,218.9 374.7,219.3 375.5,219.6 376.3,219.9 377.1,220.2 377.9,220.5 378.7,220.8 379.5,221.1 380.3,221.4 381.1,221.7 381.9,222.0 382.7,222.3 383.5,222.6 384.3,223.0 385.1,223.3 385.9,223.6 386.7,223.9 387.5,224.2 388.3,224.5 389.1,224.9 389.9,225.2 390.7,225.5 391.5,225.8 392.3,226.2 393.1,226.5 393.9,226.9 394.7,227.2 395.6,227.6 396.4,228.0 397.2,228.4 398.0,228.8 398.8,229.2 399.6,229.6 400.4,230.0 401.2,230.4 402.0,230.8 402.8,231.1 403.6,231.5 404.4,231.9 405.2,232.3 406.0,232.7 406.8,233.2 407.6,233.6 408.4,234.0 409.2,234.5 410.0,235.0 410.8,235.5 411.6,236.0 412.4,234.5 413.2,236.8 414.0,239.0 414.8,241.1 415.6,243.2 416.4,245.1 417.2,247.0 418.0,248.8 418.8,250.5 419.6,252.2 420.4,253.7 421.2,255.2 422.0,256.6 422.8,257.9 423.6,259.1 424.4,260.2 425.2,261.3 426.0,262.3 426.8,263.2 427.6,264.0 428.4,264.8 429.2,265.4 430.0,266.0 430.8,266.5 431.6,266.9 432.4,267.2 433.2,267.5 434.0,267.6 434.8,267.7 435.6,267.7 436.4,267.7 437.2,267.6 438.0,267.4 438.8,267.2 439.6,267.0 440.4,266.7 441.2,266.3 442.0,265.9 442.8,265.4 443.6,264.9 444.4,264.4 445.2,263.7 446.0,263.1 446.8,262.4 447.6,261.6 448.5,260.7 449.3,259.9 450.1,258.9 450.9,258.0 451.7,256.9 452.5,255.8 453.3,254.7 454.1,253.5 454.9,252.3 455.7,251.0 456.5,249.6 457.3,248.2 458.1,246.8 458.9,245.3 459.7,243.7 460.5,245.5 461.3,245.0 462.1,244.5 462.9,243.9 463.7,243.4 464.5,242.9 465.3,242.5 466.1,242.0 466.9,241.5 467.7,241.1 468.5,240.6 469.3,240.2 470.1,239.8 470.9,239.4 471.7,239.0 472.5,238.6 473.3,238.2 474.1,237.8 474.9,237.4 475.7,237.0 476.5,236.7 477.3,236.3 478.1,235.9 478.9,235.6 479.7,235.2 480.5,234.9 481.3,234.6 482.1,234.2 482.9,233.9 483.7,233.6 484.5,233.3 485.3,233.0 486.1,232.7 486.9,232.3 487.7,232.1 488.5,231.8 489.3,231.5 490.1,231.2 490.9,231.0 491.7,230.7 492.5,230.4 493.3,230.2 494.1,230.0 494.9,229.7 495.7,229.5 496.5,229.2 497.3,229.0 498.1,228.8 498.9,228.6 499.7,228.4 500.5,228.2 501.4,228.0 502.2,227.8 503.0,227.6 503.8,227.4 504.6,227.2 505.4,227.0 506.2,226.8 507.0,226.7 507.8,226.5 508.6,226.3 509.4,226.2 510.2,226.0 511.0,225.8 511.8,225.7 512.6,225.5 513.4,225.3 514.2,225.2 515.0,225.0 515.8,224.9 516.6,224.7 517.4,224.5 518.2,224.4 519.0,224.2 519.8,224.1 520.6,223.9 521.4,223.8 522.2,223.6 523.0,223.4 523.8,223.3 524.6,223.1 525.4,223.0 526.2,222.8 527.0,222.7 527.8,222.5 527.8,292.0 368.3,292.0" fill="#00c1ff"/>
<polygon points="368.3,216.8 369.1,217.1 369.9,217.4 370.7,217.7 371.5,218.0 372.3,218.3 373.1,218.6 373.9,218.9 374.7,219.3 375.5,219.6 376.3,219.9 377.1,220.2 377.9,220.5 378.7,220.8 379.5,221.1 380.3,221.4 381.1,221.7 381.9,222.0 382.7,222.3 383.5,222.6 384.3,223.0 385.1,223.3 385.9,223.6 386.7,223.9 387.5,224.2 388.3,224.5 389.1,224.9 389.9,225.2 390.7,225.5 391.5,225.8 392.3,226.2 393.1,226.5 393.9,226.9 394.7,227.2 395.6,227.6 396.4,228.0 397.2,228.4 398.0,228.8 398.8,229.2 399.6,229.6 400.4,230.0 401.2,230.4 402.0,230.8 402.8,231.1 403.6,231.5 404.4,231.9 405.2,232.3 406.0,232.7 406.8,233.2 407.6,233.6 408.4,234.0 409.2,234.5 410.0,235.0 410.8,235.5 411.6,236.0 412.4,235.3 413.2,237.8 414.0,240.3 414.8,242.6 415.6,244.8 416.4,247.0 417.2,249.0 418.0,251.0 418.8,252.9 419.6,254.7 420.4,256.4 421.2,258.0 422.0,259.5 422.8,261.0 423.6,262.3 424.4,263.6 425.2,264.8 426.0,265.8 426.8,266.8 427.6,267.7 428.4,268.5 429.2,269.3 430.0,269.9 430.8,270.4 431.6,270.9 432.4,271.3 433.2,271.5 434.0,271.7 434.8,271.8 435.6,271.8 436.4,271.8 437.2,271.7 438.0,271.5 438.8,271.3 439.6,271.0 440.4,270.7 441.2,270.3 442.0,269.8 442.8,269.3 443.6,268.7 444.4,268.1 445.2,267.4 446.0,266.7 446.8,265.9 447.6,265.0 448.5,264.1 449.3,263.2 450.1,262.2 450.9,261.1 451.7,259.9 452.5,258.7 453.3,257.5 454.1,256.2 454.9,254.8 455.7,253.4 456.5,251.9 457.3,250.4 458.1,248.8 458.9,247.1 459.7,245.4 460.5,243.6 461.3,245.0 462.1,244.5 462.9,243.9 463.7,243.4 464.5,242.9 465.3,242.5 466.1,242.0 466.9,241.5 467.7,241.1 468.5,240.6 469.3,240.2 470.1,239.8 470.9,239.4 471.7,239.0 472.5,238.6 473.3,238.2 474.1,237.8 474.9,237.4 475.7,237.0 476.5,236.7 477.3,236.3 478.1,235.9 478.9,235.6 479.7,235.2 480.5,234.9 481.3,234.6 482.1,234.2 482.9,233.9 483.7,233.6 484.5,233.3 485.3,233.0 486.1,232.7 486.9,232.3 487.7,232.1 488.5,231.8 489.3,231.5 490.1,231.2 490.9,231.0 491.7,230.7 492.5,230.4 493.3,230.2 494.1,230.0 494.9,229.7 495.7,229.5 496.5,229.2 497.3,229.0 498.1,228.8 498.9,228.6 499.7,228.4 500.5,228.2 501.4,228.0 502.2,227.8 503.0,227.6 503.8,227.4 504.6,227.2 505.4,227.0 506.2,226.8 507.0,226.7 507.8,226.5 508.6,226.3 509.4,226.2 510.2,226.0 511.0,225.8 511.8,225.7 512.6,225.5 513.4,225.3 514.2,225.2 515.0,225.0 515.8,224.9 516.6,224.7 517.4,224.5 518.2,224.4 519.0,224.2 519.8,224.1 520.6,223.9 521.4,223.8 522.2,223.6 523.0,223.4 523.8,223.3 524.6,223.1 525.4,223.0 526.2,222.8 527.0,222.7 527.8,222.5 527.8,292.0 368.3,292.0" fill="#0086ff"/>
<polygon points="368.3,216.8 369.1,217.1 369.9,217.4 370.7,217.7 371.5,218.0 372.3,218.3 373.1,218.6 373.9,218.9 374.7,219.3 375.5,219.6 376.3,219.9 377.1,220.2 377.9,220.5 378.7,220.8 379.5,221.1 380.3,221.4 381.1,221.7 381.9,222.0 382.7,222.3 383.5,222.6 384.3,223.0 385.1,223.3 385.9,223.6 386.7,223.9 387.5,224.2 388.3,224.5 389.1,224.9 389.9,225.2 390.7,225.5 391.5,225.8 392.3,226.2 393.1,226.5 393.9,226.9 394.7,227.2 395.6,227.6 396.4,228.0 397.2,228.4 398.0,228.8 398.8,229.2 399.6,229.6 400.4,230.0 401.2,230.4 402.0,230.8 402.8,231.1 403.6,231.5 404.4,231.9 405.2,232.3 406.0,232.7 406.8,233.2 407.6,233.6 408.4,234.0 409.2,234.5 410.0,235.0 410.8,235.5 411.6,233.3 412.4,236.1 413.2,238.9 414.0,241.5 414.8,244.0 415.6,246.5 416.4,248.8 417.2,251.1 418.0,253.2 418.8,255.3 419.6,257.2 420.4,259.1 421.2,260.9 422.0,262.5 422.8,264.1 423.6,265.6 424.4,266.9 425.2,268.2 426.0,269.4 426.8,270.5 427.6,271.4 428.4,272.3 429.2,273.1 430.0,273.8 430.8,274.4 431.6,274.9 432.4,275.3 433.2,275.6 434.0,275.8 434.8,275.9 435.6,275.9 436.4,275.9 437.2,275.7 438.0,275.6 438.8,275.3 439.6,275.0 440.4,274.6 441.2,274.2 442.0,273.7 442.8,273.2 443.6,272.5 444.4,271.9 445.2,271.1 446.0,270.3 446.8,269.5 447.6,268.5 448.5,267.5 449.3,266.5 450.1,265.4 450.9,264.2 451.7,262.9 452.5,261.6 453.3,260.3 454.1,258.9 454.9,257.4 455.7,255.8 456.5,254.2 457.3,252.5 458.1,250.8 458.9,249.0 459.7,247.1 460.5,245.2 461.3,243.2 462.1,244.5 462.9,243.9 463.7,243.4 464.5,242.9 465.3,242.5 466.1,242.0 466.9,241.5 467.7,241.1 468.5,240.6 469.3,240.2 470.1,239.8 470.9,239.4 471.7,239.0 472.5,238.6 473.3,238.2 474.1,237.8 474.9,237.4 475.7,237.0 476.5,236.7 477.3,236.3 478.1,235.9 478.9,235.6 479.7,235.2 480.5,234.9 481.3,234.6 482.1,234.2 482.9,233.9 483.7,233.6 484.5,233.3 485.3,233.0 486.1,232.7 486.9,232.3 487.7,232.1 488.5,231.8 489.3,231.5 490.1,231.2 490.9,231.0 491.7,230.7 492.5,230.4 493.3,230.2 494.1,230.0 494.9,229.7 495.7,229.5 496.5,229.2 497.3,229.0 498.1,228.8 498.9,228.6 499.7,228.4 500.5,228.2 501.4,228.0 502.2,227.8 503.0,227.6 503.8,227.4 504.6,227.2 505.4,227.0 506.2,226.8 507.0,226.7 507.8,226.5 508.6,226.3 509.4,226.2 510.2,226.0 511.0,225.8 511.8,225.7 512.6,225.5 513.4,225.3 514.2,225.2 515.0,225.0 515.8,224.9 516.6,224.7 517.4,224.5 518.2,224.4 519.0,224.2 519.8,224.1 520.6,223.9 521.4,223.8 522.2,223.6 523.0,223.4 523.8,223.3 524.6,223.1 525.4,223.0 526.2,222.8 527.0,222.7 527.8,222.5 527.8,292.0 368.3,292.0" fill="#004aff"/>
<polygon points="368.3,216.8 369.1,217.1 369.9,217.4 370.7,217.7 371.5,218.0 372.3,218.3 373.1,218.6 373.9,218.9 374.7,219.3 375.5,219.6 376.3,219.9 377.1,220.2 377.9,220.5 378.7,220.8 379.5,221.1 380.3,221.4 381.1,221.7 381.9,222.0 382.7,222.3 383.5,222.6 384.3,223.0 385.1,223.3 385.9,223.6 386.7,223.9 387.5,224.2 388.3,224.5 389.1,224.9 389.9,225.2 390.7,225.5 391.5,225.8 392.3,226.2 393.1,226.5 393.9,226.9 394.7,227.2 395.6,227.6 396.4,228.0 397.2,228.4 398.0,228.8 398.8,229.2 399.6,229.6 400.4,230.0 401.2,230.4 402.0,230.8 402.8,231.1 403.6,231.5 404.4,231.9 405.2,232.3 406.0,232.7 406.8,233.2 407.6,233.6 408.4,234.0 409.2,234.5 410.0,235.0 410.8,235.5 411.6,233.9 412.4,236.9 413.2,239.9 414.0,242.7 414.8,245.5 415.6,248.1 416.4,250.7 417.2,253.1 418.0,255.4 418.8,257.7 419.6,259.8 420.4,261.8 421.2,263.7 422.0,265.5 422.8,267.2 423.6,268.8 424.4,270.3 425.2,271.6 426.0,272.9 426.8,274.1 427.6,275.2 428.4,276.1 429.2,277.0 430.0,277.7 430.8,278.4 431.6,278.9 432.4,279.3 433.2,279.6 434.0,279.9 434.8,280.0 435.6,280.0 436.4,279.9 437.2,279.8 438.0,279.6 438.8,279.3 439.6,279.0 440.4,278.6 441.2,278.2 442.0,277.6 442.8,277.0 443.6,276.3 444.4,275.6 445.2,274.8 446.0,273.9 446.8,273.0 447.6,272.0 448.5,270.9 449.3,269.8 450.1,268.6 450.9,267.3 451.7,266.0 452.5,264.5 453.3,263.1 454.1,261.5 454.9,259.9 455.7,258.2 456.5,256.5 457.3,254.7 458.1,252.8 458.9,250.8 459.7,248.8 460.5,246.7 461.3,244.6 462.1,242.4 462.9,243.9 463.7,243.4 464.5,242.9 465.3,242.5 466.1,242.0 466.9,241.5 467.7,241.1 468.5,240.6 469.3,240.2 470.1,239.8 470.9,239.4 471.7,239.0 472.5,238.6 473.3,238.2 474.1,237.8 474.9,237.4 475.7,237.0 476.5,236.7 477.3,236.3 478.1,235.9 478.9,235.6 479.7,235.2 480.5,234.9 481.3,234.6 482.1,234.2 482.9,233.9 483.7,233.6 484.5,233.3 485.3,233.0 486.1,232.7 486.9,232.3 487.7,232.1 488.5,231.8 489.3,231.5 490.1,231.2 490.9,231.0 491.7,230.7 492.5,230.4 493.3,230.2 494.1,230.0 494.9,229.7 495.7,229.5 496.5,229.2 497.3,229.0 498.1,228.8 498.9,228.6 499.7,228.4 500.5,228.2 501.4,228.0 502.2,227.8 503.0,227.6 503.8,227.4 504.6,227.2 505.4,227.0 506.2,226.8 507.0,226.7 507.8,226.5 508.6,226.3 509.4,226.2 510.2,226.0 511.0,225.8 511.8,225.7 512.6,225.5 513.4,225.3 514.2,225.2 515.0,225.0 515.8,224.9 516.6,224.7 517.4,224.5 518.2,224.4 519.0,224.2 519.8,224.1 520.6,223.9 521.4,223.8 522.2,223.6 523.0,223.4 523.8,223.3 524.6,223.1 525.4,223.0 526.2,222.8 527.0,222.7 527.8,222.5 527.8,292.0 368.3,292.0" fill="#000fff"/>
<path d="M435.3,282.5 Q425.4,266 378.1,215.3 M435.3,282.5 Q426.3,266 383.3,216.7 M435.3,282.5 Q427.2,266 388.5,218.1 M435.3,282.5 Q428.1,266 393.7,219.4 M435.3,282.5 Q429.0,266 398.9,220.6 M435.3,282.5 Q429.9,266 404.1,221.8 M435.3,282.5 Q430.8,266 409.3,223.1 M435.3,282.5 Q431.7,266 414.5,224.6 M435.3,282.5 Q432.6,266 419.7,225.9 M435.3,282.5 Q433.5,266 424.9,227.3 M435.3,282.5 Q434.4,266 430.1,228.4 M435.3,282.5 Q436.2,266 441.8,228.6 M435.3,282.5 Q437.1,266 448.3,227.7 M435.3,282.5 Q438.0,266 454.8,226.8 M435.3,282.5 Q438.9,266 461.3,225.8 M435.3,282.5 Q439.8,266 467.8,225.0 M435.3,282.5 Q440.7,266 474.3,224.2 M435.3,282.5 Q441.6,266 480.8,223.4 M435.3,282.5 Q442.5,266 487.3,222.6 M435.3,282.5 Q443.4,266 493.8,221.8 M435.3,282.5 Q444.3,266 500.3,221.0 M435.3,282.5 Q445.2,266 506.8,220.3" fill="none" stroke="#000" stroke-opacity="0.16" stroke-width="1.0"/>
<path d="M435.3,282.5 Q425.4,266 378.1,215.3 M435.3,282.5 Q426.3,266 383.3,216.7 M435.3,282.5 Q427.2,266 388.5,218.1 M435.3,282.5 Q428.1,266 393.7,219.4 M435.3,282.5 Q429.0,266 398.9,220.6 M435.3,282.5 Q429.9,266 404.1,221.8 M435.3,282.5 Q430.8,266 409.3,223.1 M435.3,282.5 Q431.7,266 414.5,224.6 M435.3,282.5 Q432.6,266 419.7,225.9 M435.3,282.5 Q433.5,266 424.9,227.3 M435.3,282.5 Q434.4,266 430.1,228.4 M435.3,282.5 Q436.2,266 441.8,228.6 M435.3,282.5 Q437.1,266 448.3,227.7 M435.3,282.5 Q438.0,266 454.8,226.8 M435.3,282.5 Q438.9,266 461.3,225.8 M435.3,282.5 Q439.8,266 467.8,225.0 M435.3,282.5 Q440.7,266 474.3,224.2 M435.3,282.5 Q441.6,266 480.8,223.4 M435.3,282.5 Q442.5,266 487.3,222.6 M435.3,282.5 Q443.4,266 493.8,221.8 M435.3,282.5 Q444.3,266 500.3,221.0 M435.3,282.5 Q445.2,266 506.8,220.3" fill="none" stroke="#fff" stroke-opacity="0.12" stroke-width="0.8" transform="translate(1.6,0)"/>
</g>
<defs><linearGradient id="gPlat" gradientUnits="userSpaceOnUse" x1="0" y1="192" x2="0" y2="230"><stop offset="0" stop-color="#7a0000"/><stop offset="0.45" stop-color="#980000"/><stop offset="0.8" stop-color="#c00000"/><stop offset="1" stop-color="#e00000"/></linearGradient></defs>
<polygon points="368.3,212.3 459.3,193.0 527.8,218.3 527.8,218.6 527.0,218.7 526.2,218.7 525.4,218.8 524.6,218.9 523.8,218.9 523.0,219.0 522.2,219.0 521.4,219.1 520.6,219.2 519.8,219.2 519.0,219.3 518.2,219.3 517.4,219.4 516.6,219.5 515.8,219.5 515.0,219.6 514.2,219.7 513.4,219.7 512.6,219.8 511.8,219.9 511.0,219.9 510.2,220.0 509.4,220.1 508.6,220.2 507.8,220.2 507.0,220.3 506.2,220.4 505.4,220.5 504.6,220.5 503.8,220.6 503.0,220.7 502.2,220.8 501.4,220.9 500.5,221.0 499.7,221.1 498.9,221.2 498.1,221.3 497.3,221.4 496.5,221.5 495.7,221.5 494.9,221.6 494.1,221.7 493.3,221.8 492.5,221.9 491.7,222.0 490.9,222.1 490.1,222.2 489.3,222.3 488.5,222.4 487.7,222.5 486.9,222.6 486.1,222.7 485.3,222.8 484.5,222.9 483.7,223.0 482.9,223.1 482.1,223.2 481.3,223.3 480.5,223.4 479.7,223.5 478.9,223.6 478.1,223.7 477.3,223.8 476.5,223.9 475.7,224.0 474.9,224.1 474.1,224.2 473.3,224.3 472.5,224.4 471.7,224.5 470.9,224.6 470.1,224.7 469.3,224.8 468.5,224.9 467.7,225.0 466.9,225.1 466.1,225.2 465.3,225.3 464.5,225.4 463.7,225.5 462.9,225.6 462.1,225.7 461.3,225.8 460.5,225.9 459.7,226.0 458.9,226.2 458.1,226.3 457.3,226.4 456.5,226.5 455.7,226.6 454.9,226.7 454.1,226.9 453.3,227.0 452.5,227.1 451.7,227.2 450.9,227.4 450.1,227.5 449.3,227.6 448.5,227.7 447.6,227.8 446.8,228.0 446.0,228.1 445.2,228.2 444.4,228.3 443.6,228.4 442.8,228.5 442.0,228.6 441.2,228.6 440.4,228.7 439.6,228.8 438.8,228.9 438.0,228.9 437.2,229.0 436.4,229.0 435.6,229.0 434.8,229.0 434.0,229.0 433.2,228.9 432.4,228.8 431.6,228.7 430.8,228.6 430.0,228.4 429.2,228.2 428.4,228.1 427.6,227.9 426.8,227.7 426.0,227.6 425.2,227.4 424.4,227.2 423.6,227.0 422.8,226.8 422.0,226.6 421.2,226.3 420.4,226.1 419.6,225.9 418.8,225.7 418.0,225.5 417.2,225.3 416.4,225.1 415.6,224.9 414.8,224.6 414.0,224.4 413.2,224.2 412.4,224.0 411.6,223.7 410.8,223.5 410.0,223.3 409.2,223.1 408.4,222.9 407.6,222.7 406.8,222.5 406.0,222.2 405.2,222.0 404.4,221.8 403.6,221.7 402.8,221.5 402.0,221.3 401.2,221.1 400.4,220.9 399.6,220.7 398.8,220.6 398.0,220.4 397.2,220.2 396.4,220.0 395.6,219.8 394.7,219.7 393.9,219.5 393.1,219.3 392.3,219.1 391.5,218.9 390.7,218.7 389.9,218.5 389.1,218.3 388.3,218.1 387.5,217.9 386.7,217.6 385.9,217.4 385.1,217.2 384.3,217.0 383.5,216.8 382.7,216.6 381.9,216.3 381.1,216.1 380.3,215.9 379.5,215.7 378.7,215.5 377.9,215.3 377.1,215.0 376.3,214.8 375.5,214.6 374.7,214.4 373.9,214.1 373.1,213.9 372.3,213.7 371.5,213.5 370.7,213.3 369.9,213.0 369.1,212.8 368.3,212.6" fill="url(#gPlat)"/>
<defs><linearGradient id="gWL" gradientUnits="userSpaceOnUse" x1="369" y1="0" x2="435" y2="0"><stop offset="0" stop-color="#f2ee12"/><stop offset="0.55" stop-color="#e8f218"/><stop offset="0.75" stop-color="#a8ff50"/><stop offset="0.88" stop-color="#30f0d0"/><stop offset="1" stop-color="#0090ff"/></linearGradient><linearGradient id="gWR" gradientUnits="userSpaceOnUse" x1="528" y1="0" x2="435" y2="0"><stop offset="0" stop-color="#c8f45c"/><stop offset="0.5" stop-color="#b4fa54"/><stop offset="0.75" stop-color="#70ff90"/><stop offset="0.9" stop-color="#20e0f0"/><stop offset="1" stop-color="#0090ff"/></linearGradient></defs>
<polygon points="368.3,213.8 370.1,214.5 372.5,215.4 375.4,216.5 378.5,217.7 381.8,219.0 384.9,220.2 387.7,221.3 390.0,222.2 391.8,223.0 393.3,223.6 394.6,224.2 395.7,224.7 396.8,225.2 397.8,225.7 398.8,226.2 400.0,226.8 401.3,227.4 402.5,228.0 403.8,228.7 405.1,229.3 406.4,230.0 407.6,230.6 408.8,231.3 410.0,232.0 411.1,232.7 412.2,233.4 413.2,234.0 414.2,234.7 415.2,235.4 416.1,236.2 417.1,237.1 418.0,238.0 418.9,239.0 419.9,240.2 420.8,241.4 421.7,242.6 422.6,243.9 423.4,245.3 424.2,246.6 425.0,248.0 425.7,249.4 426.4,250.9 427.1,252.4 427.7,253.9 428.3,255.4 428.9,257.0 429.5,258.5 430.0,260.0 430.5,261.5 431.0,263.1 431.5,264.6 431.9,266.2 432.4,267.7 432.8,269.2 433.2,270.6 433.5,272.0 433.8,273.4 434.1,274.8 434.4,276.2 434.6,277.5 434.8,278.7 435.0,279.9 435.2,280.8 435.3,281.5 435.3,283.0 435.1,282.8 434.8,282.5 434.4,282.2 434.0,281.9 433.5,281.5 433.1,281.0 432.5,280.5 432.0,279.9 431.4,279.2 430.8,278.4 430.2,277.6 429.5,276.6 428.8,275.7 428.1,274.7 427.3,273.6 426.5,272.6 425.7,271.6 424.8,270.5 423.9,269.4 423.0,268.2 422.0,267.1 421.0,265.9 420.0,264.7 419.0,263.4 418.0,262.1 416.9,260.6 415.8,259.1 414.7,257.6 413.5,256.1 412.4,254.7 411.2,253.4 410.0,252.2 408.8,251.2 407.6,250.3 406.3,249.5 405.1,248.7 403.8,248.0 402.5,247.3 401.3,246.6 400.0,245.9 398.8,245.1 397.8,244.4 396.8,243.7 395.7,243.0 394.6,242.3 393.3,241.5 391.8,240.7 390.0,239.8 387.7,238.7 384.9,237.5 381.8,236.2 378.5,234.9 375.4,233.6 372.5,232.4 370.1,231.4 368.3,230.7" fill="url(#gWL)"/>
<polygon points="527.8,219.5 525.6,219.9 522.6,220.5 519.1,221.2 515.1,222.0 511.1,222.8 507.1,223.6 503.3,224.5 500.0,225.3 497.1,226.1 494.4,226.9 491.8,227.7 489.4,228.5 487.0,229.3 484.7,230.2 482.4,231.1 480.0,232.1 477.6,233.1 475.2,234.2 472.8,235.4 470.5,236.6 468.2,237.8 466.0,239.0 463.9,240.3 462.0,241.5 460.2,242.7 458.5,244.0 457.0,245.2 455.5,246.4 454.1,247.7 452.7,249.1 451.4,250.5 450.0,252.0 448.6,253.6 447.2,255.4 445.9,257.2 444.5,259.0 443.3,260.9 442.1,262.8 441.0,264.7 440.0,266.6 439.1,268.6 438.3,270.7 437.6,272.8 437.0,275.0 436.5,277.0 436.0,278.8 435.6,280.3 435.3,281.5 435.3,283.0 435.6,282.6 436.0,282.1 436.5,281.6 437.0,280.9 437.6,280.2 438.3,279.4 439.1,278.5 440.0,277.6 441.0,276.5 442.1,275.3 443.3,274.0 444.5,272.6 445.9,271.2 447.2,269.9 448.6,268.6 450.0,267.5 451.4,266.5 452.7,265.7 454.1,264.9 455.5,264.1 457.0,263.4 458.5,262.7 460.2,261.9 462.0,261.0 463.9,260.0 466.0,259.0 468.2,257.9 470.5,256.8 472.8,255.7 475.2,254.6 477.6,253.6 480.0,252.7 482.4,251.9 484.7,251.1 487.0,250.4 489.4,249.7 491.8,249.0 494.4,248.3 497.1,247.7 500.0,247.0 503.3,246.3 507.1,245.5 511.1,244.7 515.1,243.9 519.1,243.2 522.6,242.6 525.6,242.0 527.8,241.6" fill="url(#gWR)"/>
<path d="M525.7,219.9 V242.0 M523.6,220.3 V242.4 M521.5,220.7 V242.8 M519.4,221.1 V243.2 M517.3,221.6 V243.5 M515.2,222.0 V243.9 M513.1,222.4 V244.3 M511.0,222.8 V244.7 M508.9,223.3 V245.1 M506.8,223.7 V245.6 M504.7,224.2 V246.0 M502.6,224.7 V246.4 M500.5,225.2 V246.9 M498.4,225.7 V247.4 M496.3,226.3 V247.9 M494.2,226.9 V248.4 M492.1,227.6 V248.9 M490.0,228.3 V249.5 M487.9,229.0 V250.1 M485.8,229.8 V250.7 M483.7,230.6 V251.4 M481.6,231.4 V252.1 M479.5,232.3 V252.9 M477.4,233.2 V253.7 M475.3,234.2 V254.6 M473.2,235.2 V255.5 M471.1,236.3 V256.5 M469.0,237.4 V257.5 M466.9,238.5 V258.6 M464.8,239.7 V259.6 M462.7,241.1 V260.7 M460.6,242.5 V261.7 M458.5,244.0 V262.7 M456.4,245.7 V263.7 M454.3,247.5 V264.8 M452.2,249.6 V266.0 M450.1,251.9 V267.4 M448.0,254.4 V269.2 M445.9,257.1 V271.2" stroke="#5a8a20" stroke-opacity="0.25" stroke-width="0.5"/>
<polygon points="368.3,230.7 370.1,231.4 372.5,232.4 375.4,233.6 378.5,234.9 381.8,236.2 384.9,237.5 387.7,238.7 390.0,239.8 391.8,240.7 393.3,241.5 394.6,242.3 395.7,243.0 396.8,243.7 397.8,244.4 398.8,245.1 400.0,245.9 401.3,246.6 402.5,247.3 403.8,248.0 405.1,248.7 406.3,249.5 407.6,250.3 408.8,251.2 410.0,252.2 411.2,253.4 412.4,254.7 413.5,256.1 414.7,257.6 415.8,259.1 416.9,260.6 418.0,262.1 419.0,263.4 420.0,264.7 421.0,265.9 422.0,267.1 423.0,268.2 423.9,269.4 424.8,270.5 425.7,271.6 426.5,272.6 427.3,273.6 428.1,274.7 428.8,275.7 429.5,276.6 430.2,277.6 430.8,278.4 431.4,279.2 432.0,279.9 432.5,280.5 433.1,281.0 433.5,281.5 434.0,281.9 434.4,282.2 434.8,282.5 435.1,282.8 435.3,283.0 431.6,282.4 367.8,259.5" fill="#000ad8"/>
<polygon points="527.8,241.6 525.6,242.0 522.6,242.6 519.1,243.2 515.1,243.9 511.1,244.7 507.1,245.5 503.3,246.3 500.0,247.0 497.1,247.7 494.4,248.3 491.8,249.0 489.4,249.7 487.0,250.4 484.7,251.1 482.4,251.9 480.0,252.7 477.6,253.6 475.2,254.6 472.8,255.7 470.5,256.8 468.2,257.9 466.0,259.0 463.9,260.0 462.0,261.0 460.2,261.9 458.5,262.7 457.0,263.4 455.5,264.1 454.1,264.9 452.7,265.7 451.4,266.5 450.0,267.5 448.6,268.6 447.2,269.9 445.9,271.2 444.5,272.6 443.3,274.0 442.1,275.3 441.0,276.5 440.0,277.6 439.1,278.5 438.3,279.4 437.6,280.2 437.0,280.9 436.5,281.6 436.0,282.1 435.6,282.6 435.3,283.0 438.5,282.6 527.8,272.0" fill="#0006c4"/>
<polygon points="432.8,281.5 437.8,281.5 435.3,286" fill="#000090"/>
<text x="362" y="201.9" font-family="'Liberation Sans', Arial, sans-serif" fill="#333" font-size="4.3" text-anchor="end">39</text>
<text x="362" y="211.2" font-family="'Liberation Sans', Arial, sans-serif" fill="#333" font-size="4.3" text-anchor="end">38</text>
<text x="362" y="220.6" font-family="'Liberation Sans', Arial, sans-serif" fill="#333" font-size="4.3" text-anchor="end">37</text>
<text x="362" y="229.9" font-family="'Liberation Sans', Arial, sans-serif" fill="#333" font-size="4.3" text-anchor="end">36</text>
<text x="362" y="239.2" font-family="'Liberation Sans', Arial, sans-serif" fill="#333" font-size="4.3" text-anchor="end">35</text>
<text x="362" y="248.6" font-family="'Liberation Sans', Arial, sans-serif" fill="#333" font-size="4.3" text-anchor="end">34</text>
<text x="362" y="257.9" font-family="'Liberation Sans', Arial, sans-serif" fill="#333" font-size="4.3" text-anchor="end">33</text>
<text x="362" y="267.2" font-family="'Liberation Sans', Arial, sans-serif" fill="#333" font-size="4.3" text-anchor="end">32</text>
<text x="362" y="271.4" font-family="'Liberation Sans', Arial, sans-serif" fill="#333" font-size="4.3" text-anchor="end">10</text>
<text x="374.4" y="276.2" font-family="'Liberation Sans', Arial, sans-serif" fill="#333" font-size="4.3" text-anchor="middle">8</text>
<text x="389" y="281.4" font-family="'Liberation Sans', Arial, sans-serif" fill="#333" font-size="4.3" text-anchor="middle">6</text>
<text x="402.4" y="286.3" font-family="'Liberation Sans', Arial, sans-serif" fill="#333" font-size="4.3" text-anchor="middle">4</text>
<text x="415.5" y="291.1" font-family="'Liberation Sans', Arial, sans-serif" fill="#333" font-size="4.3" text-anchor="middle">2</text>
<text x="368" y="286" font-family="'Liberation Sans', Arial, sans-serif" fill="#333" font-size="4.2" text-anchor="middle">×10<tspan font-size="3" dy="-1.5">5</tspan></text>
<text x="392" y="293.6" font-family="'Liberation Sans', Arial, sans-serif" fill="#333" font-size="4.4" text-anchor="middle">R (Ω.m)</text>
<text x="448.0" y="293.5" font-family="'Liberation Sans', Arial, sans-serif" fill="#333" font-size="4.3" text-anchor="middle">1</text>
<text x="457.4" y="291.9" font-family="'Liberation Sans', Arial, sans-serif" fill="#333" font-size="4.3" text-anchor="middle">2</text>
<text x="466.8" y="290.2" font-family="'Liberation Sans', Arial, sans-serif" fill="#333" font-size="4.3" text-anchor="middle">3</text>
<text x="476.1" y="288.6" font-family="'Liberation Sans', Arial, sans-serif" fill="#333" font-size="4.3" text-anchor="middle">4</text>
<text x="485.5" y="287.0" font-family="'Liberation Sans', Arial, sans-serif" fill="#333" font-size="4.3" text-anchor="middle">5</text>
<text x="494.9" y="285.4" font-family="'Liberation Sans', Arial, sans-serif" fill="#333" font-size="4.3" text-anchor="middle">6</text>
<text x="504.2" y="283.8" font-family="'Liberation Sans', Arial, sans-serif" fill="#333" font-size="4.3" text-anchor="middle">7</text>
<text x="513.6" y="282.1" font-family="'Liberation Sans', Arial, sans-serif" fill="#333" font-size="4.3" text-anchor="middle">8</text>
<text x="523.0" y="280.5" font-family="'Liberation Sans', Arial, sans-serif" fill="#333" font-size="4.3" text-anchor="middle">9</text>
<text x="520" y="291" font-family="'Liberation Sans', Arial, sans-serif" fill="#333" font-size="4.2" text-anchor="middle">×10<tspan font-size="3" dy="-1.5">5</tspan></text>
<text x="534" y="279" font-family="'Liberation Sans', Arial, sans-serif" fill="#333" font-size="4.3" text-anchor="middle">10</text>
<text x="487" y="295.6" font-family="'Liberation Sans', Arial, sans-serif" fill="#333" font-size="4.4" text-anchor="middle">f (Hz)</text>
<text x="354" y="231" font-family="'Liberation Sans', Arial, sans-serif" fill="#333" font-size="4.5" text-anchor="middle" transform="rotate(-90 354 231)">Sensitivity</text>
<text x="444.4" y="183.4" font-family="'Liberation Sans', Arial, sans-serif" fill="#333" font-size="4.8" font-weight="bold" fill="#222" textLength="25.2" lengthAdjust="spacingAndGlyphs">1.5% wt. CNTs</text>
<defs><linearGradient id="gJet" x1="0" y1="1" x2="0" y2="0"><stop offset="0.000" stop-color="#00007f"/><stop offset="0.062" stop-color="#0000bf"/><stop offset="0.125" stop-color="#0000ff"/><stop offset="0.188" stop-color="#003fff"/><stop offset="0.250" stop-color="#007fff"/><stop offset="0.312" stop-color="#00bfff"/><stop offset="0.375" stop-color="#00ffff"/><stop offset="0.438" stop-color="#3fffbf"/><stop offset="0.500" stop-color="#7fff7f"/><stop offset="0.562" stop-color="#bfff3f"/><stop offset="0.625" stop-color="#ffff00"/><stop offset="0.688" stop-color="#ffbf00"/><stop offset="0.750" stop-color="#ff7f00"/><stop offset="0.812" stop-color="#ff3f00"/><stop offset="0.875" stop-color="#ff0000"/><stop offset="0.938" stop-color="#bf0000"/><stop offset="1.000" stop-color="#7f0000"/></linearGradient></defs>
<rect x="537.8" y="181.9" width="2.6" height="107.2" fill="url(#gJet)"/>
<text x="542" y="183.6" font-family="'Liberation Sans', Arial, sans-serif" fill="#333" font-size="3.6">38</text>
<text x="542" y="201.7" font-family="'Liberation Sans', Arial, sans-serif" fill="#333" font-size="3.6">37</text>
<text x="542" y="219.8" font-family="'Liberation Sans', Arial, sans-serif" fill="#333" font-size="3.6">36</text>
<text x="542" y="237.9" font-family="'Liberation Sans', Arial, sans-serif" fill="#333" font-size="3.6">35</text>
<text x="542" y="256.0" font-family="'Liberation Sans', Arial, sans-serif" fill="#333" font-size="3.6">34</text>
<text x="542" y="274.1" font-family="'Liberation Sans', Arial, sans-serif" fill="#333" font-size="3.6">33</text>
</svg></body></html>
